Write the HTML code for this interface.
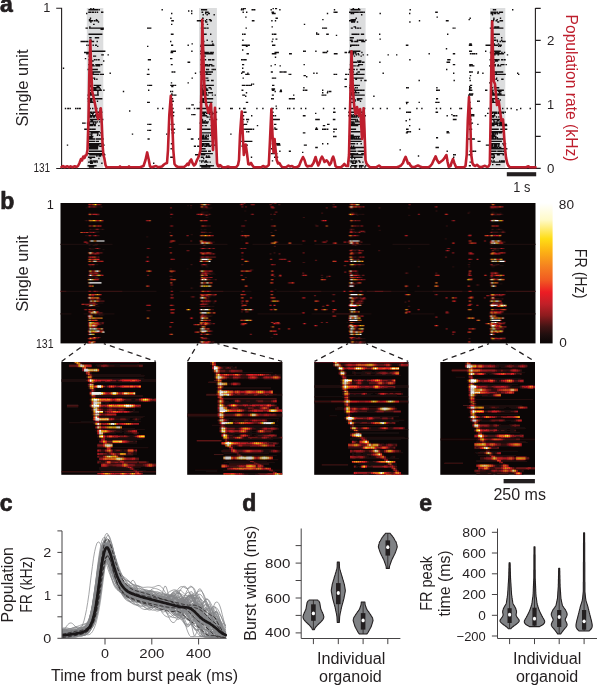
<!DOCTYPE html>
<html lang="en"><head><meta charset="utf-8"><title>Figure</title>
<style>html,body{margin:0;padding:0;background:#fff}svg{display:block}text{font-family:"Liberation Sans", Arial, Helvetica, sans-serif}</style>
</head><body>
<svg width="597" height="685" viewBox="0 0 597 685" fill="none">
<rect width="597" height="685" fill="#fff"/>
<g fill="#231f20">
<rect x="86.8" y="8" width="16.5" height="159.6" fill="#dcddde"/>
<rect x="199" y="8" width="17.9" height="159.6" fill="#dcddde"/>
<rect x="349" y="8" width="16.6" height="159.6" fill="#dcddde"/>
<rect x="490" y="8" width="15.3" height="159.6" fill="#dcddde"/>
<path d="M90.2 8.6h1.4M92.8 8.6h1.4M241.2 8.6h1.4M243 8.6h1.4M244.5 8.6h1.4M272.5 8.6h1.4M275 8.6h2.1M352.5 8.6h1.6M358 8.6h1.4M88.5 9.8h9.7M98.5 9.8h1.4M161.5 9.8h1.4M201 9.8h6.2M240.8 9.8h1.4M242.5 9.8h1.4M251.5 9.8h2.4M254 9.8h1.4M270.5 9.8h1.4M279.2 9.8h1.4M333.8 9.8h1.4M350.5 9.8h9.9M409.5 9.8h1.4M492.8 9.8h1.9M494.8 9.8h1.4M512 9.8h1.4M188 11h1.4M191 11h1.4M88.2 12.3h3.4M92 12.3h2.2M94.8 12.3h1.4M96.8 12.3h1.4M101 12.3h2.4M201.5 12.3h1.7M205 12.3h3.7M242.5 12.3h1.4M246 12.3h1.4M271.5 12.3h2.6M333.5 12.3h1.4M335 12.3h2.6M349 12.3h9.9M359.2 12.3h4.1M363.5 12.3h1.4M435.2 12.3h2.6M490.5 12.3h2.9M493.5 12.3h3.1M496.8 12.3h1.4M499 12.3h4.1M86 13.5h1.4M171 13.5h1.4M191 13.5h1.4M205 13.5h1.4M207.8 13.5h2.2M271.8 13.5h3.9M326.8 13.5h1.4M350.5 13.5h2.1M352.8 13.5h1.4M379.5 13.5h1.4M409 13.5h1.4M490.5 13.5h3.1M494 13.5h2.4M497.2 13.5h2.4M202.5 14.7h1.4M206.5 14.7h1.4M213.5 14.7h1.4M361 14.7h1.4M491.8 14.7h1.4M245.2 17.1h1.4M436.5 17.1h1.4M89.8 18.3h1.4M170.2 18.3h1.4M202 18.3h1.7M275.5 18.3h2.4M355.5 18.3h1.4M469.5 18.3h1.4M493.2 18.3h1.4M499.8 18.3h1.4M88.8 19.6h1.9M95.8 19.6h1.4M201.2 19.6h1.4M206 19.6h1.4M208.8 19.6h2.4M322.2 19.6h1.4M350.5 19.6h1.4M352 19.6h4.1M468.5 19.6h1.4M493 19.6h1.6M496.5 19.6h1.4M88.8 20.8h4.4M93.8 20.8h1.4M95.5 20.8h2.7M171.2 20.8h2.7M196.8 20.8h2.7M199.5 20.8h4.4M204.8 20.8h1.4M209.8 20.8h2.2M251.8 20.8h2.7M271.2 20.8h1.4M274.8 20.8h1.4M349 20.8h5.1M354.2 20.8h1.4M418.8 20.8h1.4M445.8 20.8h2.9M491 20.8h3.1M495.5 20.8h1.9M499.5 20.8h3.6M90.2 22h1.4M97.8 22h1.4M200.8 22h1.4M205.2 22h2.2M351 22h2.4M353.5 22h1.6M356.8 22h1.4M409.2 22h1.4M491 22h1.4M497.2 22h2.1M93 24.4h1.7M171 24.4h1.4M202.2 24.4h1.4M206.8 24.4h1.4M303.8 24.4h1.4M89.2 26.9h1.4M271.5 26.9h1.4M353.5 26.9h2.6M494.2 26.9h1.9M496.2 26.9h3.1M85.5 28.1h2.4M89 28.1h14.9M147 28.1h4.4M200.8 28.1h5.7M206.8 28.1h1.9M245.5 28.1h1.4M322 28.1h1.4M323.5 28.1h3.6M350.8 28.1h2.1M355 28.1h1.4M356.8 28.1h2.6M359.8 28.1h1.4M452.5 28.1h1.4M454.2 28.1h1.4M489.8 28.1h13.6M100.5 29.3h3.2M316 33h1.4M88.5 34.2h13.9M170.8 34.2h1.4M172.2 34.2h1.4M201 34.2h5.7M210 34.2h1.4M242 34.2h1.4M243.8 34.2h1.9M271.8 34.2h1.4M273.5 34.2h2.9M316.2 34.2h1.4M317.8 34.2h1.4M326.2 34.2h2.6M351.5 34.2h6.4M358 34.2h1.4M360.8 34.2h3.4M379 34.2h1.4M447 34.2h1.4M491 34.2h1.4M493 34.2h6.9M335.8 35.4h1.4M89.2 37.8h2.4M94.8 37.8h4.4M349.8 37.8h4.1M494.2 37.8h1.4M501 37.8h1.4M272.2 39.1h1.4M275.5 39.1h1.9M379.5 39.1h1.4M89.5 40.3h2.2M206.5 40.3h1.4M242.2 40.3h1.4M349.8 40.3h2.9M356.8 40.3h1.4M358.5 40.3h5.4M365.2 40.3h1.4M493.5 40.3h2.6M496.5 40.3h1.4M501 40.3h1.4M80.5 41.5h5.2M85.8 41.5h2.7M89.8 41.5h4.4M96.5 41.5h1.4M170 41.5h1.4M201.8 41.5h2.7M211.5 41.5h1.4M271.5 41.5h1.4M350.8 41.5h2.6M354.2 41.5h4.1M361.2 41.5h4.1M492 41.5h1.4M496.8 41.5h1.4M499.5 41.5h1.6M501.8 41.5h3.9M191.5 43.9h1.4M212.2 43.9h1.4M469.2 43.9h2.6M493 43.9h1.9M497.8 43.9h1.4M86.2 45.2h1.4M88.2 45.2h2.7M92.5 45.2h1.4M95 45.2h1.9M171 45.2h2.2M187.5 45.2h1.4M200.5 45.2h13.9M241.8 45.2h2.7M244.5 45.2h3.4M248 45.2h1.9M272 45.2h3.4M350 45.2h5.1M355.2 45.2h2.4M357.8 45.2h1.4M405.8 45.2h2.6M468.8 45.2h3.4M485.5 45.2h12.4M498.5 45.2h3.4M97 46.4h1.4M147 46.4h1.4M200.2 46.4h1.4M245.8 46.4h1.9M350 46.4h1.4M498 46.4h1.4M499.8 46.4h1.4M445.8 48.8h1.4M242 50h1.4M89 51.2h16.4M170.8 51.2h5.2M191.2 51.2h1.4M200.2 51.2h4.2M303 51.2h1.4M304.5 51.2h1.4M315.2 51.2h1.4M326.8 51.2h1.4M348.8 51.2h11.6M469 51.2h3.1M485 51.2h1.4M491.2 51.2h9.6M84 52.5h5.2M170.5 52.5h2.7M201.2 52.5h7.7M209.5 52.5h1.4M211 52.5h1.4M212.5 52.5h1.4M274.5 52.5h4.4M322.5 52.5h2.6M325.2 52.5h2.1M344.5 52.5h2.6M348.2 52.5h6.6M355 52.5h1.4M361.2 52.5h1.4M489.8 52.5h3.6M494.5 52.5h5.1M501.2 52.5h1.4M503.8 52.5h1.4M86.2 53.7h1.7M88.2 53.7h1.4M200.2 53.7h13.2M246.5 53.7h2.4M271.8 53.7h4.6M289 53.7h2.9M333.8 53.7h1.4M335.2 53.7h2.4M350.5 53.7h3.9M355.2 53.7h1.4M357.5 53.7h1.6M428.5 53.7h1.4M452.8 53.7h2.4M469.8 53.7h1.4M471.5 53.7h2.4M474 53.7h1.4M475.8 53.7h1.4M490.5 53.7h13.4M89.2 54.9h1.4M101.2 54.9h2.7M107.5 54.9h1.4M202 54.9h1.9M352.2 54.9h1.4M355.8 54.9h1.4M358.2 54.9h1.4M362.5 54.9h1.4M366.8 54.9h1.4M387.5 54.9h1.4M396 54.9h1.4M492.8 54.9h1.4M494.2 54.9h1.4M497.5 54.9h1.6M506.8 54.9h1.4M88.5 56.1h1.7M90.5 56.1h1.4M93 56.1h3.2M204 56.1h1.9M353.8 56.1h1.4M360.5 56.1h1.4M274.8 57.3h1.4M84.8 58.6h1.4M170 58.6h2.4M88.5 59.8h3.2M93.8 59.8h1.4M95.5 59.8h1.4M97.5 59.8h2.2M147.8 59.8h3.2M200.5 59.8h3.9M204.8 59.8h1.4M208 59.8h3.4M212 59.8h2.4M241 59.8h1.4M242.5 59.8h1.4M244 59.8h2.7M409.2 59.8h1.4M447.2 59.8h3.4M489.5 59.8h1.4M491.2 59.8h1.9M493.5 59.8h3.6M497.2 59.8h2.4M501 59.8h2.4M503.8 59.8h1.9M90 61h1.4M91.8 61h1.9M103 61h1.4M350.8 61h1.4M357.2 61h1.4M358.8 61h2.6M494.8 61h3.4M187.5 62.2h2.7M350 62.2h7.4M357.8 62.2h3.1M361.5 62.2h3.1M379.2 62.2h1.4M446.5 62.2h3.6M491.5 62.2h3.4M88.2 64.6h5.7M95.2 64.6h4.9M100.5 64.6h1.9M170.8 64.6h1.9M200.5 64.6h3.7M205 64.6h2.9M208.5 64.6h3.9M242 64.6h2.2M274.5 64.6h1.4M303.5 64.6h1.4M349.8 64.6h2.6M358 64.6h5.1M452.8 64.6h2.4M469.2 64.6h3.6M491.8 64.6h4.1M497.5 64.6h1.4M500.5 64.6h4.1M505.5 64.6h1.4M89.5 65.9h4.4M94.2 65.9h1.4M96 65.9h4.2M202.2 65.9h1.7M204 65.9h1.9M206.2 65.9h3.9M211.2 65.9h3.2M270.5 65.9h1.4M279.5 65.9h1.4M350.8 65.9h2.6M353.5 65.9h1.4M355.2 65.9h1.4M357 65.9h2.4M469.2 65.9h2.4M471.8 65.9h2.6M489 65.9h1.4M491 65.9h4.9M497 65.9h2.6M499.8 65.9h1.4M62.8 68.3h1.4M242 68.3h1.4M87.5 69.5h7.7M95.2 69.5h2.7M147.8 69.5h1.4M201 69.5h2.4M203.5 69.5h1.4M206 69.5h1.7M207.8 69.5h1.4M211.5 69.5h1.4M213 69.5h1.4M214.5 69.5h1.4M348.8 69.5h6.1M356.2 69.5h1.4M359.8 69.5h5.1M446 69.5h1.4M89.2 72h11.2M171.5 72h2.2M174 72h1.4M199.8 72h13.2M242 72h2.7M270.8 72h2.1M279.5 72h2.4M282.2 72h1.4M283.8 72h1.4M285.2 72h1.4M349.5 72h4.6M357.5 72h2.4M469 72h2.4M471.5 72h1.4M477.5 72h1.4M490.2 72h13.1M91 73.2h2.7M109.5 73.2h1.4M194.8 73.2h1.4M200.8 73.2h1.4M206.2 73.2h1.4M241 73.2h1.4M247.2 73.2h1.4M313.2 73.2h1.4M316.2 73.2h1.4M356.2 73.2h1.4M382.5 73.2h1.4M453 73.2h1.4M477.2 73.2h1.4M482.2 73.2h1.4M491.5 73.2h1.4M495.5 73.2h1.4M517 73.2h1.4M89 74.4h10.2M99.8 74.4h4.2M146.8 74.4h1.4M148.2 74.4h1.4M200.2 74.4h5.4M206 74.4h5.4M245.2 74.4h2.9M248.2 74.4h1.4M288.5 74.4h1.4M290 74.4h1.4M333.5 74.4h2.1M335.8 74.4h1.4M345 74.4h2.4M347.8 74.4h1.4M350.2 74.4h14.4M491.2 74.4h14.6M518 74.4h1.4M303.5 75.6h2.4M469.8 75.6h1.4M306 76.8h1.4M89 78.1h4.4M93.5 78.1h1.7M191.5 78.1h1.4M202 78.1h3.2M205.5 78.1h2.9M242.5 78.1h1.4M271.8 78.1h2.9M274.8 78.1h1.4M351 78.1h12.6M469 78.1h1.4M490.2 78.1h2.6M496 78.1h1.4M94 79.3h1.4M96.2 79.3h1.4M201.8 79.3h1.4M344.5 79.3h2.4M355.2 79.3h1.9M493 79.3h2.1M495.5 79.3h1.4M501.2 79.3h2.4M89.8 80.5h1.4M204 80.5h1.4M206.5 80.5h2.7M211 80.5h2.7M351.8 80.5h1.9M360.5 80.5h1.4M364.2 80.5h2.4M418.5 80.5h1.4M453.5 80.5h1.4M469.5 80.5h1.4M497 80.5h1.4M170.8 82.9h1.4M187.5 82.9h1.4M489 82.9h1.4M251 84.1h1.4M252.8 84.1h1.4M88.8 85.4h4.4M93.8 85.4h7.4M147.2 85.4h1.4M148.8 85.4h3.4M170.2 85.4h4.4M174.8 85.4h1.4M200.5 85.4h13.4M241.8 85.4h1.4M243.2 85.4h2.4M246 85.4h2.9M249 85.4h1.4M250.5 85.4h1.4M272 85.4h2.4M349.5 85.4h3.6M353.8 85.4h4.6M358.5 85.4h1.4M469.8 85.4h2.4M88.8 86.6h1.4M90.2 86.6h1.4M96.5 86.6h2.9M171.2 86.6h2.2M201.2 86.6h1.4M204.8 86.6h1.4M344.5 86.6h2.4M351.5 86.6h1.4M469 86.6h1.4M493.8 86.6h1.4M91 87.8h3.2M94.2 87.8h5.9M201.2 87.8h1.4M203.5 87.8h2.9M208.5 87.8h2.7M303.2 87.8h1.4M349 87.8h3.1M354.8 87.8h1.4M356.5 87.8h1.4M406 87.8h1.4M407.5 87.8h1.4M436.2 87.8h1.4M469.2 87.8h2.6M490.2 87.8h3.1M495.2 87.8h4.1M91.2 89h2.4M93.8 89h2.7M99.5 89h1.4M200.8 89h2.2M205 89h2.7M210.5 89h1.4M271.5 89h3.6M353 89h1.6M469 89h1.4M490.5 89h1.4M494.5 89h1.4M89 90.2h12.9M103.2 90.2h1.4M148 90.2h1.4M201 90.2h4.9M206 90.2h2.4M241.5 90.2h1.9M271.8 90.2h2.6M280 90.2h1.9M302.8 90.2h1.4M304.5 90.2h1.4M306 90.2h1.4M322 90.2h1.4M349.8 90.2h10.1M360 90.2h2.1M362.2 90.2h2.4M436 90.2h2.4M438.5 90.2h1.4M468.8 90.2h3.6M485 90.2h2.4M490.8 90.2h2.9M495 90.2h8.9M97.2 91.5h1.4M122.8 91.5h1.4M170 91.5h1.4M171.8 91.5h1.4M202 91.5h2.2M204.5 91.5h1.7M274.5 91.5h1.4M279.5 91.5h2.6M327.2 91.5h1.4M329 91.5h2.4M354.8 91.5h1.4M491.2 91.5h2.1M497.8 91.5h1.4M499.2 91.5h2.4M90 92.7h1.4M97.2 92.7h1.4M200.8 92.7h3.4M204.2 92.7h2.7M207.8 92.7h5.2M245.8 92.7h1.4M322 92.7h1.4M326.8 92.7h1.4M350.8 92.7h6.9M358 92.7h1.4M491.2 92.7h2.6M499 92.7h1.4M89.8 93.9h1.4M91.2 93.9h1.4M97.2 93.9h1.4M171.2 93.9h1.4M202 93.9h4.9M349.8 93.9h1.9M351.8 93.9h2.6M469 93.9h1.4M470.5 93.9h1.4M472 93.9h1.4M492 93.9h3.9M497.2 93.9h1.9M499.2 93.9h2.4M87.5 95.1h11.4M170.8 95.1h1.4M172.2 95.1h1.4M173.8 95.1h2.7M200.8 95.1h7.9M211.8 95.1h1.4M214.5 95.1h1.4M242.2 95.1h2.9M271.8 95.1h2.1M293 95.1h1.4M321.5 95.1h3.4M325 95.1h1.4M350.8 95.1h9.4M360.2 95.1h4.6M468 95.1h4.9M490.2 95.1h14.9M245 96.3h1.4M373.2 96.3h1.4M87.5 98.8h14.9M171 98.8h2.2M200.5 98.8h3.9M204.5 98.8h8.7M271 98.8h1.4M272.5 98.8h1.4M288.8 98.8h1.4M290.2 98.8h1.4M291.8 98.8h3.1M350.2 98.8h4.6M356.8 98.8h5.6M436 98.8h2.1M491 98.8h8.1M90 100h2.2M202 100h2.2M354.5 100h1.4M356.8 100h1.4M358.2 100h1.4M491 100h2.6M499.5 100h1.4M87.8 101.2h1.4M90 101.2h2.7M96.8 101.2h1.4M171.5 101.2h2.4M200.5 101.2h1.4M202 101.2h2.2M354.2 101.2h1.4M359.8 101.2h1.4M477 101.2h1.4M478.5 101.2h1.4M492.2 101.2h1.9M89.5 102.4h5.2M147 102.4h2.9M199.8 102.4h12.7M245.8 102.4h2.4M349 102.4h5.4M405.8 102.4h1.4M407.2 102.4h1.4M418.5 102.4h1.4M435.2 102.4h1.9M437.2 102.4h2.4M468.2 102.4h2.4M490.8 102.4h1.4M492.2 102.4h4.1M406 103.6h1.4M171.5 104.9h1.4M191.2 104.9h2.7M275.5 106.1h1.4M64.8 108.5h1.4M67.2 108.5h1.9M69.5 108.5h1.4M75 108.5h1.4M76.8 108.5h1.4M78.5 108.5h2.4M89.2 108.5h1.7M92 108.5h1.4M94.8 108.5h2.7M99.5 108.5h1.4M157.2 108.5h1.4M162 108.5h1.4M171.5 108.5h2.2M186.2 108.5h1.4M188.2 108.5h2.2M193.8 108.5h1.4M196.5 108.5h3.7M201.5 108.5h4.9M207.2 108.5h3.9M218.8 108.5h1.4M230 108.5h1.4M231.5 108.5h1.4M239 108.5h1.4M243 108.5h2.7M256.2 108.5h1.4M262.2 108.5h1.4M271.2 108.5h2.6M275.8 108.5h1.4M287 108.5h1.4M289 108.5h1.4M293.2 108.5h1.4M300.5 108.5h1.4M305 108.5h1.4M322.8 108.5h1.4M333.5 108.5h1.6M344.2 108.5h1.9M349.5 108.5h4.1M354.8 108.5h1.4M356.8 108.5h1.4M363.2 108.5h2.1M372.2 108.5h1.4M379.8 108.5h1.4M386.5 108.5h1.4M399.2 108.5h1.4M416.2 108.5h1.4M421.2 108.5h1.4M435.8 108.5h1.4M439.8 108.5h1.4M450 108.5h1.4M459.2 108.5h1.4M460.8 108.5h1.4M469.2 108.5h3.1M488.2 108.5h1.4M490 108.5h1.4M502 108.5h1.4M506.5 108.5h1.4M510.5 108.5h1.4M520 108.5h1.4M529.5 108.5h1.4M516.2 109.7h1.4M129 111h1.4M88.8 112.2h3.9M93 112.2h9.4M171.5 112.2h1.4M173 112.2h1.4M200.5 112.2h5.9M206.8 112.2h5.9M214.8 112.2h2.4M241.5 112.2h1.9M243.8 112.2h1.4M245.2 112.2h1.4M271.2 112.2h2.4M333 112.2h2.6M348.2 112.2h12.4M360.8 112.2h3.9M406 112.2h1.4M407.5 112.2h3.6M435.5 112.2h2.6M491.2 112.2h6.1M497.8 112.2h3.6M501.5 112.2h2.6M504.5 112.2h1.4M88.2 113.4h2.4M91 113.4h2.9M171.8 113.4h1.4M200 113.4h1.4M201.5 113.4h3.7M206 113.4h4.2M211.2 113.4h2.7M315 113.4h1.4M487 113.4h1.6M491.2 113.4h2.1M493.8 113.4h2.4M496.2 113.4h1.4M498 113.4h3.6M502.5 113.4h1.4M89.2 114.6h1.4M92 114.6h1.4M95.2 114.6h1.4M191.2 114.6h1.4M192.8 114.6h1.4M194.2 114.6h1.4M200.2 114.6h1.4M202.5 114.6h1.4M204 114.6h1.4M209.2 114.6h1.4M211.5 114.6h1.7M350.2 114.6h1.6M352.5 114.6h1.4M355.2 114.6h1.4M358 114.6h1.4M361.2 114.6h1.4M451.2 114.6h1.4M470.5 114.6h3.9M493.8 114.6h1.4M88.5 115.8h5.4M94 115.8h5.9M171 115.8h1.4M172.8 115.8h1.4M201 115.8h6.2M241.8 115.8h2.4M251 115.8h1.4M271 115.8h1.4M272.5 115.8h1.9M274.8 115.8h1.4M302.8 115.8h1.4M304.2 115.8h1.4M348.2 115.8h4.9M353.5 115.8h1.9M355.8 115.8h4.6M361.5 115.8h1.4M363 115.8h1.4M364.5 115.8h1.4M446.5 115.8h1.4M452.8 115.8h2.9M456 115.8h1.4M468.8 115.8h1.4M470.2 115.8h2.6M473 115.8h1.4M484.8 115.8h1.4M491.5 115.8h3.9M89 117h3.2M92.8 117h2.4M96 117h3.2M200.5 117h1.4M206.5 117h2.2M209.5 117h1.4M350.8 117h4.9M355.8 117h1.4M357.8 117h1.4M360.5 117h3.9M491.8 117h2.4M495.8 117h1.4M498.2 117h1.4M90 119.5h10.2M101 119.5h2.4M200.8 119.5h2.4M209.2 119.5h1.4M211.2 119.5h1.4M215.8 119.5h1.4M241.5 119.5h1.4M243 119.5h1.4M246 119.5h3.2M271.2 119.5h1.4M272.8 119.5h7.1M315.2 119.5h4.6M332.8 119.5h2.6M350.8 119.5h5.4M356.5 119.5h1.4M360 119.5h3.6M409 119.5h1.4M452.8 119.5h2.4M455.2 119.5h1.4M469.5 119.5h2.1M490.8 119.5h9.9M500.8 119.5h1.9M90.5 120.7h2.7M202 120.7h1.4M204.5 120.7h1.4M212.5 120.7h2.2M355.2 120.7h1.4M357 120.7h1.4M405.5 120.7h1.4M493.2 120.7h1.4M496.8 120.7h2.6M89.2 121.9h7.4M96.8 121.9h1.4M99 121.9h1.4M101 121.9h1.4M201.8 121.9h3.9M206 121.9h1.4M207.5 121.9h1.4M213 121.9h1.4M242 121.9h1.4M246.8 121.9h1.4M350.5 121.9h3.9M354.8 121.9h3.1M358 121.9h2.1M360.2 121.9h3.9M493.5 121.9h2.1M496.2 121.9h1.4M499.5 121.9h3.1M82 123.1h3.7M86.8 123.1h3.2M92.8 123.1h1.4M95.2 123.1h1.4M199.5 123.1h8.7M349.2 123.1h1.4M351.2 123.1h1.9M353.2 123.1h1.6M469.5 123.1h3.6M490.8 123.1h3.6M494.5 123.1h1.4M496 123.1h6.6M502.8 123.1h1.4M87 124.4h8.9M147.2 124.4h1.4M148.8 124.4h2.7M170.5 124.4h2.4M173.2 124.4h1.4M242.8 124.4h4.4M270.5 124.4h1.4M274 124.4h2.4M327 124.4h2.6M349.2 124.4h12.9M468.8 124.4h2.6M477.2 124.4h1.4M490.2 124.4h8.1M499.2 124.4h7.9M88.2 125.6h5.4M94 125.6h1.9M98.2 125.6h1.4M200.2 125.6h3.4M204.5 125.6h2.4M210.5 125.6h1.4M213 125.6h1.4M242.2 125.6h1.4M256.8 125.6h1.4M322.8 125.6h2.4M350.2 125.6h8.1M409 125.6h1.4M491 125.6h3.6M496.8 125.6h1.4M498.5 125.6h1.6M500.2 125.6h7.1M274.2 128h1.4M315.8 128h1.4M84.2 129.2h2.2M86.5 129.2h5.4M92 129.2h3.7M170.8 129.2h1.4M172.2 129.2h1.4M173.8 129.2h1.4M187.2 129.2h3.7M200.2 129.2h10.4M211.2 129.2h1.4M213.2 129.2h1.4M242 129.2h1.4M243.5 129.2h1.4M245 129.2h3.2M248.2 129.2h4.2M252.8 129.2h1.4M270.8 129.2h2.6M274.5 129.2h2.9M315 129.2h3.1M322 129.2h1.4M323.5 129.2h3.1M327 129.2h1.4M333.2 129.2h2.1M335.5 129.2h1.4M349.5 129.2h6.6M406 129.2h2.6M418.8 129.2h1.4M468.8 129.2h3.4M491.2 129.2h7.6M500.2 129.2h7.1M147.2 130.4h1.4M148.8 130.4h2.4M171.2 130.4h1.4M88 131.7h11.9M241.8 131.7h1.4M246.2 131.7h1.4M248 131.7h1.4M333.2 131.7h1.4M351 131.7h9.6M406.5 131.7h2.4M409.2 131.7h1.9M446.5 131.7h2.4M490 131.7h13.1M90.8 132.9h7.7M100 132.9h2.2M171.5 132.9h3.2M200 132.9h16.2M302.8 132.9h2.6M405.8 132.9h2.1M446.5 132.9h1.4M448.2 132.9h1.4M490.2 132.9h8.4M499 132.9h2.9M88 134.1h1.4M89.5 134.1h1.4M91.2 134.1h1.4M97.2 134.1h1.4M131.8 134.1h1.4M166 134.1h1.4M230.2 134.1h1.4M492 134.1h2.1M494.5 134.1h1.4M496.5 134.1h1.4M90.8 135.3h1.4M96.8 135.3h1.4M99 135.3h1.4M202.2 135.3h2.2M205.5 135.3h1.4M207.5 135.3h1.4M210 135.3h1.4M349.8 135.3h1.4M351.2 135.3h2.6M490.8 135.3h4.6M88.2 136.5h5.2M201.5 136.5h2.9M204.8 136.5h1.9M207.2 136.5h1.7M211.8 136.5h1.4M333 136.5h1.4M334.5 136.5h2.1M348.8 136.5h11.1M361 136.5h3.6M490.5 136.5h6.1M88.5 137.8h4.2M199.8 137.8h4.7M204.8 137.8h2.2M350 137.8h4.9M355.5 137.8h1.4M357.8 137.8h1.4M436 137.8h2.1M491.2 137.8h2.6M494.8 137.8h1.4M496.5 137.8h1.6M88 139h7.2M95.8 139h1.7M97.5 139h6.2M147.5 139h2.2M190.8 139h2.7M198 139h1.4M200.5 139h8.4M349 139h4.4M353.5 139h7.9M467.5 139h7.4M490.2 139h6.6M497 139h4.4M501.5 139h2.6M88 141.4h7.2M95.8 141.4h3.2M200.2 141.4h7.9M208.2 141.4h1.7M210.2 141.4h1.4M241.2 141.4h2.2M243.8 141.4h7.2M251 141.4h1.4M349 141.4h12.6M477.5 141.4h3.1M491 141.4h10.9M88.2 143.8h13.4M101.8 143.8h1.7M170.8 143.8h3.2M200.2 143.8h4.7M205 143.8h4.4M271.8 143.8h2.1M275.5 143.8h4.6M322 143.8h1.4M327 143.8h1.4M350.2 143.8h5.1M356.5 143.8h1.4M360.5 143.8h1.4M491 143.8h8.9M502.2 143.8h1.4M503.8 143.8h2.4M66.8 145.1h1.4M87.8 145.1h7.4M95.2 145.1h4.2M101.2 145.1h1.7M103 145.1h1.7M200.8 145.1h3.9M205.5 145.1h4.4M210.8 145.1h1.9M212.8 145.1h3.2M241.8 145.1h6.2M274 145.1h2.4M276.8 145.1h2.4M279.2 145.1h1.4M303.8 145.1h3.1M485.8 145.1h7.6M494 145.1h3.4M498.2 145.1h1.4M503 145.1h1.4M504.5 145.1h1.4M89.2 146.3h9.2M99.2 146.3h2.9M193.8 146.3h2.2M197.2 146.3h2.4M200.2 146.3h3.2M204.2 146.3h3.4M208.2 146.3h2.9M241.5 146.3h1.4M243 146.3h2.7M351 146.3h1.4M353 146.3h1.4M489.8 146.3h3.1M493.5 146.3h4.1M498 146.3h1.4M88.8 147.5h9.4M315.2 147.5h2.6M348.8 147.5h16.4M435.5 147.5h3.4M490 147.5h6.9M497 147.5h1.4M498.8 147.5h2.6M89 148.7h9.2M170.5 148.7h1.4M200.2 148.7h5.4M271 148.7h1.4M272.8 148.7h1.9M348.5 148.7h1.4M350 148.7h5.6M491 148.7h16.4M399.5 149.9h1.4M89 151.2h14.9M200 151.2h6.9M208 151.2h2.9M279.2 151.2h1.4M288.8 151.2h2.1M350 151.2h6.4M357.5 151.2h1.4M359 151.2h5.6M446.5 151.2h1.4M469.5 151.2h2.6M472.2 151.2h2.4M474.8 151.2h1.4M490.5 151.2h6.1M497.2 151.2h5.4M502.8 151.2h1.4M302 152.4h1.4M87.8 153.6h14.9M103.2 153.6h1.4M199.8 153.6h9.4M209.2 153.6h3.7M270.8 153.6h2.4M273.2 153.6h1.4M274.8 153.6h2.6M349 153.6h5.9M355.2 153.6h1.4M356.8 153.6h1.4M361.2 153.6h1.9M363.2 153.6h1.4M490.2 153.6h13.6M89.2 154.8h16.2M195 154.8h4.7M201 154.8h4.4M349.8 154.8h13.9M453 154.8h1.4M454.5 154.8h1.4M468.5 154.8h1.4M470 154.8h1.9M490.2 154.8h4.4M496.8 154.8h3.1M502.5 154.8h1.6M96.2 156h1.4M98.5 156h2.7M206 156h1.4M208.2 156h1.4M351.2 156h2.1M417.8 156h1.4M493.5 156h1.4M88 157.3h7.2M170.2 157.3h3.2M200.8 157.3h2.9M205.5 157.3h4.9M250.8 157.3h1.4M274 157.3h2.6M276.8 157.3h1.4M350.2 157.3h12.4M453 157.3h1.4M490.2 157.3h4.9M89.5 158.5h2.2M98.2 158.5h1.4M203 158.5h1.4M351.2 158.5h1.4M354 158.5h1.4M492.5 158.5h1.4M89.8 160.9h2.7M92.8 160.9h4.9M199.2 160.9h1.4M201.2 160.9h2.9M204.8 160.9h2.2M271.8 160.9h1.4M349.2 160.9h1.6M351 160.9h1.6M352.8 160.9h4.6M358 160.9h2.1M491 160.9h1.4M493.2 160.9h1.6M499 160.9h1.4M500.8 160.9h4.1M88 162.1h5.7M94 162.1h2.2M96.5 162.1h1.4M201 162.1h1.4M203.8 162.1h4.7M209.5 162.1h1.4M350.5 162.1h3.1M355 162.1h2.4M359 162.1h1.9M362.2 162.1h1.4M469.5 162.1h1.4M491.5 162.1h13.4M90 163.3h2.9M101.2 163.3h1.4M153 163.3h1.4M351.8 163.3h2.6M354.5 163.3h1.6M205.8 164.6h1.4M492 164.6h1.4M495.8 164.6h2.6M498.5 164.6h1.9M87.5 165.8h7.7M95.2 165.8h1.4M199.8 165.8h8.7M208.5 165.8h3.9M212.5 165.8h1.4M351 165.8h6.4M358.8 165.8h4.9M365.2 165.8h1.4M468.8 165.8h2.1M88.8 167h5.4M201.2 167h5.9M207.2 167h1.7M209 167h1.4M350 167h1.4M354.2 167h2.4M359 167h1.4M360.8 167h1.4M364.2 167h1.4" stroke="#110e0f" stroke-width="1.4" fill="none"/>
<path d="M56.2 8.3H61.6V168.5M56.2 168.5H61.6" stroke="#231f20" stroke-width="1.1" fill="none"/>
<path d="M61.6 168.5H535.4" stroke="#231f20" stroke-width="1.1" fill="none"/>
<path d="M535.4 7.9V169M535.4 8.4h5.3M535.4 40.4h5.3M535.4 72.4h5.3M535.4 104.4h5.3M535.4 136.4h5.3M535.4 168.4h5.3" stroke="#231f20" stroke-width="1.1" fill="none"/>
<path d="M61.5 167L63 166L64.5 167.3L67.4 166.2L69 167.3L70.6 166.3L72.5 167.3L74.8 166.3L76.5 167L78 166L79.5 163L81 159L82 160.5L83.3 156.5L84.5 158L85.5 155.5L86.5 155L87.5 150L88.5 120L89.3 75L90.3 40.6L91.2 70L92.2 91.4L93.5 97L95 104L96.5 112L98 119L99.2 116L100.8 108.3L101.8 125L102.6 145L103.4 155L104.3 158L105.5 165L106.5 167.3L119 167.3L120 166.3L121 167.3L128 167.3L129 166.3L130 167.3L140 167.3L143.5 166L145.5 160L147.2 152.4L148.8 160L150 166.5L152 167.3L156 166L158 167.2L162 166.5L164 164.5L165.5 163.5L167 163L168 150L169.3 115L170.8 95.9L172.2 120L173.3 150L174.5 164L176 166L178 167L184 167L186 165.5L187.5 163.5L188.5 165L190 161L191.2 159.5L192.5 163L194 165.5L195.5 164L197 160L198 158L199.3 155L200.5 150L201.2 100L202.3 19.7L203.3 55L204.4 86.7L205.3 98L206.3 105L207.3 108L208.4 113L209.6 108L211 103.8L212 125L213 150L214 128L215 107.7L216 135L217 163L218 166L219 166.5L220 165L221.5 166.5L223 167.3L226 167.3L228 166.5L230 167.3L236 167.3L238 165L239 160L240 135L241.7 111.6L242.8 135L243.8 155L244.8 150L245.7 144.5L246.8 152L248.3 164L249.5 164.5L251 163L252.5 165.5L254 167.3L261 167.3L263 166L265 167L267 166.5L268.8 165L270 140L271.4 109L272.5 135L273.5 152.4L274.6 139L275.6 150L276.7 160L278 163.5L279.3 163L280.5 165L282 167L286 167.3L288.5 165.5L290 166.5L292 166L294 167.3L297 167L299 166L301 161L303 157L304.5 160L306 165L307.5 166.5L309 166L311.5 166L313.5 163L315.6 157L317 162L318.3 165.5L319.5 163L320.7 159L322 156.6L323.3 159L324.5 162L326.6 160.3L328 162L329.5 165L331 163L332.2 158.5L333.2 156.6L334.3 160L335.5 166L337 167.3L341 167.3L343 165.5L344.4 164L346 166L347.9 166L349 155L350 110L351.5 51.2L352.5 80L353.6 99.8L354.5 108L355.5 114.3L357 107L358 112L358.9 115.6L360.2 109L361.2 125L362 139L362.8 122L363.6 108.2L364.5 130L365.5 160L366.5 163.5L368 165.5L370 167.3L376 167.3L379 165.5L381 167.3L397 167.3L399 166.5L401 165.5L403 163L404.3 159.5L405.6 156.8L406.8 160L408 163.5L409 163L410.5 165.5L412 167L415 166.8L418 165.5L420 166.5L422 167.3L428 167.3L430 166.3L432 164L433.8 160L435.6 156.3L437 160L439 163L441 161.5L443 160L444.8 157.5L446.4 155L447.6 162L448.7 166.8L450.5 166L451.8 162L453 159L454.3 163L456 167L458 167.3L464 167.3L465.5 166L466.7 155L467.8 120L469 97L470.2 120L471.3 155L472.4 163L473.5 165L475.3 166L477 164.8L478.8 166.5L481 167.3L483 166.5L485 165.8L487 166.8L488.5 166.5L489.8 164L490.6 120L491.4 60L492.2 21.5L493 55L493.8 81.4L495 84L496 95L497 105L498.7 101L500 111L501.4 120.8L503 119.5L504.3 139L505.2 150L506 157.6L507.2 163L508.2 165.5L510 167.3L520 167.3L526 167.2L528.4 166.3L530 167.3L535.5 167.3" stroke="#be1e2d" stroke-width="2.6" fill="none" stroke-linejoin="round" stroke-linecap="round"/>
<rect x="506.8" y="172.2" width="29.4" height="4.1" fill="#231f20"/>
<text x="0" y="11.8" font-size="23" font-weight="bold" stroke="#231f20" stroke-width="0.7" stroke-linejoin="round">a</text>
<text x="50.4" y="12.2" font-size="12.8" text-anchor="end">1</text>
<text x="50.2" y="172.4" font-size="12.8" text-anchor="end" textLength="16.8" lengthAdjust="spacingAndGlyphs">131</text>
<text font-size="16" text-anchor="middle" textLength="77" lengthAdjust="spacingAndGlyphs" transform="translate(27.5 87.9) rotate(-90)">Single unit</text>
<text x="547" y="44.8" font-size="12.8" textLength="7.4" lengthAdjust="spacingAndGlyphs">2</text>
<text x="547" y="108.7" font-size="12.8">1</text>
<text x="547" y="172.7" font-size="12.8" textLength="7.4" lengthAdjust="spacingAndGlyphs">0</text>
<text font-size="16" text-anchor="middle" fill="#be1e2d" textLength="147" lengthAdjust="spacingAndGlyphs" transform="translate(565.6 88) rotate(90)">Population rate (kHz)</text>
<text x="513.3" y="191.9" font-size="14.5" textLength="17" lengthAdjust="spacingAndGlyphs">1 s</text>
<rect x="60.5" y="203" width="475" height="140.4" fill="#0a0606"/>
<g stroke-width="1.2" fill="none"><path d="M88.5 203.5h2M273.5 203.5h1M349.5 203.5h1M353.5 203.5h3M490.5 203.5h2M87.5 204.6h1M199.5 204.6h1M210.5 204.6h1M254.5 204.6h1M490.5 204.6h1M191.5 205.7h1M97.5 206.8h3M199.5 206.8h1M207.5 206.8h1M244.5 206.8h1M246.5 206.8h1M273.5 206.8h1M336.5 206.8h1M85.5 207.8h2M169.5 207.8h1M171.5 207.8h1M200.5 207.8h5M208.5 207.8h4M274.5 207.8h1M352.5 207.8h1M407.5 207.8h1M489.5 207.8h1M201.5 208.9h9M351.5 208.9h2M358.5 208.9h3M245.5 211h1M169.5 212.1h1M202.5 212.1h6M350.5 212.1h2M468.5 212.1h2M491.5 212.1h3M88.5 213.2h2M94.5 213.2h1M200.5 213.2h4M322.5 213.2h1M350.5 213.2h1M354.5 213.2h3M491.5 213.2h6M499.5 213.2h2M87.5 214.3h1M169.5 214.3h1M210.5 214.3h1M253.5 214.3h1M271.5 214.3h1M357.5 214.3h5M363.5 214.3h1M419.5 214.3h1M502.5 214.3h1M88.5 215.3h3M95.5 215.3h4M199.5 215.3h1M201.5 215.3h1M203.5 215.3h1M208.5 215.3h1M349.5 215.3h1M352.5 215.3h1M356.5 215.3h2M409.5 215.3h1M490.5 215.3h1M493.5 215.3h7M205.5 217.5h3M302.5 217.5h1M88.5 219.6h2M270.5 219.6h1M350.5 219.6h1M491.5 219.6h1M496.5 219.6h1M84.5 220.7h1M87.5 220.7h1M207.5 220.7h1M320.5 220.7h1M326.5 220.7h1M489.5 220.7h1M89.5 221.8h2M94.5 221.8h9M350.5 221.8h2M491.5 221.8h3M314.5 225h1M240.5 226h1M324.5 226h1M379.5 226h1M445.5 226h1M490.5 226h1M91.5 229.3h3M99.5 229.3h2M103.5 229.3h1M200.5 229.3h2M203.5 229.3h3M493.5 229.3h1M495.5 229.3h2M500.5 229.3h2M378.5 230.3h1M88.5 231.4h1M90.5 231.4h9M200.5 231.4h1M202.5 231.4h4M242.5 231.4h1M355.5 231.4h3M490.5 231.4h1M492.5 231.4h6M499.5 231.4h2M504.5 231.4h1M88.5 232.5h1M96.5 232.5h3M170.5 232.5h1M207.5 232.5h1M211.5 232.5h1M348.5 232.5h1M360.5 232.5h3M489.5 232.5h1M498.5 232.5h2M190.5 234.6h1M201.5 234.6h2M492.5 234.6h4M497.5 234.6h3M86.5 235.7h2M91.5 235.7h1M172.5 235.7h1M274.5 235.7h1M407.5 235.7h1M89.5 236.8h1M147.5 236.8h1M207.5 236.8h1M246.5 236.8h1M349.5 236.8h1M351.5 236.8h2M490.5 236.8h2M498.5 236.8h2M444.5 238.9h1M241.5 240h1M88.5 241h1M198.5 241h1M301.5 241h1M313.5 241h1M327.5 241h1M467.5 241h1M471.5 241h1M87.5 242.1h1M199.5 242.1h1M211.5 242.1h2M358.5 242.1h1M85.5 243.2h1M88.5 243.2h1M287.5 243.2h1M454.5 243.2h1M60.5 244.3h29M90.5 244.3h4M98.5 244.3h14M178.5 244.3h23M202.5 244.3h25M252.5 244.3h50M314.5 244.3h36M361.5 244.3h9M392.5 244.3h37M489.5 244.3h46M88.5 245.3h2M92.5 245.3h1M94.5 245.3h3M202.5 245.3h1M205.5 245.3h1M351.5 245.3h3M356.5 245.3h1M490.5 245.3h2M273.5 246.4h1M168.5 247.5h1M171.5 247.5h1M88.5 248.5h1M90.5 248.5h4M199.5 248.5h1M214.5 248.5h1M239.5 248.5h1M409.5 248.5h1M489.5 248.5h1M89.5 249.6h5M98.5 249.6h1M102.5 249.6h2M201.5 249.6h1M349.5 249.6h1M353.5 249.6h5M359.5 249.6h1M492.5 249.6h1M496.5 249.6h3M348.5 250.7h1M356.5 250.7h1M379.5 250.7h1M494.5 250.7h3M498.5 250.7h1M102.5 252.8h1M240.5 252.8h1M505.5 252.8h1M348.5 253.9h1M354.5 253.9h4M242.5 256.1h1M87.5 257.1h1M199.5 257.1h1M215.5 257.1h1M356.5 257.1h2M444.5 257.1h1M446.5 257.1h1M174.5 259.3h1M240.5 259.3h1M243.5 259.3h1M348.5 259.3h1M467.5 259.3h1M90.5 260.3h1M93.5 260.3h1M201.5 260.3h1M205.5 260.3h3M314.5 260.3h1M316.5 260.3h1M349.5 260.3h2M490.5 260.3h2M243.5 261.4h1M290.5 261.4h1M343.5 261.4h1M348.5 261.4h1M304.5 262.5h1M468.5 262.5h1M87.5 264.6h1M95.5 264.6h1M97.5 264.6h1M200.5 264.6h1M207.5 264.6h2M348.5 264.6h1M467.5 264.6h1M469.5 264.6h1M489.5 264.6h1M492.5 264.6h3M89.5 265.7h2M200.5 265.7h2M204.5 265.7h3M349.5 265.7h3M354.5 265.7h2M490.5 265.7h1M495.5 265.7h2M499.5 265.7h4M89.5 266.8h2M92.5 266.8h2M201.5 266.8h2M205.5 266.8h3M350.5 266.8h1M352.5 266.8h3M357.5 266.8h3M417.5 266.8h1M453.5 266.8h1M469.5 266.8h1M491.5 266.8h3M169.5 268.9h1M186.5 268.9h2M249.5 270h1M145.5 271.1h1M151.5 271.1h1M168.5 271.1h1M212.5 271.1h1M273.5 271.1h1M88.5 272.1h1M93.5 272.1h5M172.5 272.1h1M201.5 272.1h2M209.5 272.1h3M343.5 272.1h1M350.5 272.1h2M490.5 272.1h7M88.5 273.2h1M210.5 273.2h4M352.5 273.2h2M404.5 273.2h1M489.5 273.2h1M88.5 274.3h1M91.5 274.3h1M94.5 274.3h6M101.5 274.3h1M207.5 274.3h2M211.5 274.3h2M214.5 274.3h1M352.5 274.3h1M467.5 274.3h1M469.5 274.3h1M490.5 274.3h1M493.5 274.3h7M87.5 275.3h1M146.5 275.3h1M148.5 275.3h1M199.5 275.3h1M242.5 275.3h1M273.5 275.3h1M320.5 275.3h1M322.5 275.3h1M348.5 275.3h1M360.5 275.3h1M471.5 275.3h1M483.5 275.3h1M486.5 275.3h1M489.5 275.3h1M90.5 276.4h9M200.5 276.4h2M203.5 276.4h3M330.5 276.4h1M351.5 276.4h5M358.5 276.4h2M489.5 276.4h1M493.5 276.4h5M87.5 277.5h1M90.5 277.5h1M92.5 277.5h2M97.5 277.5h1M244.5 277.5h1M322.5 277.5h1M325.5 277.5h1M489.5 277.5h1M492.5 277.5h1M496.5 277.5h3M88.5 278.6h1M90.5 278.6h4M207.5 278.6h1M349.5 278.6h1M354.5 278.6h1M467.5 278.6h1M472.5 278.6h1M490.5 278.6h1M498.5 278.6h1M502.5 278.6h2M199.5 279.6h1M211.5 279.6h3M240.5 279.6h1M244.5 279.6h1M199.5 282.8h1M354.5 282.8h1M437.5 282.8h1M89.5 283.9h2M200.5 283.9h1M348.5 283.9h1M356.5 283.9h2M492.5 283.9h2M499.5 283.9h3M88.5 285h1M90.5 285h1M200.5 285h1M203.5 285h2M352.5 285h2M356.5 285h1M475.5 285h1M489.5 285h1M493.5 285h1M247.5 286.1h1M433.5 286.1h1M438.5 286.1h1M170.5 288.2h2M192.5 288.2h1M274.5 289.3h2M66.5 291.4h21M122.5 291.4h34M169.5 291.4h1M179.5 291.4h21M223.5 291.4h18M245.5 291.4h6M269.5 291.4h1M273.5 291.4h1M276.5 291.4h23M321.5 291.4h21M345.5 291.4h3M364.5 291.4h2M391.5 291.4h16M414.5 291.4h18M462.5 291.4h5M472.5 291.4h33M87.5 294.6h1M331.5 294.6h1M437.5 294.6h1M489.5 294.6h1M170.5 295.7h1M199.5 295.7h1M209.5 295.7h3M313.5 295.7h1M315.5 295.7h1M489.5 295.7h1M502.5 295.7h1M90.5 296.8h2M93.5 296.8h5M194.5 296.8h1M199.5 296.8h1M210.5 296.8h1M349.5 296.8h1M352.5 296.8h2M355.5 296.8h6M491.5 296.8h2M169.5 297.9h1M173.5 297.9h1M243.5 297.9h1M269.5 297.9h1M473.5 297.9h1M494.5 297.9h1M88.5 298.9h1M100.5 298.9h1M200.5 298.9h1M202.5 298.9h2M356.5 298.9h3M489.5 298.9h1M499.5 298.9h2M88.5 301.1h1M199.5 301.1h1M211.5 301.1h2M244.5 301.1h1M248.5 301.1h1M334.5 301.1h1M363.5 301.1h1M407.5 301.1h1M409.5 301.1h1M88.5 302.1h2M201.5 302.1h2M204.5 302.1h6M213.5 302.1h2M351.5 302.1h1M489.5 302.1h1M491.5 302.1h2M497.5 302.1h4M88.5 303.2h1M96.5 303.2h7M208.5 303.2h2M212.5 303.2h3M240.5 303.2h1M242.5 303.2h1M349.5 303.2h1M491.5 303.2h1M502.5 303.2h1M90.5 304.3h2M97.5 304.3h1M348.5 304.3h1M354.5 304.3h2M489.5 304.3h1M503.5 304.3h1M87.5 305.4h1M145.5 305.4h1M150.5 305.4h1M246.5 305.4h1M272.5 305.4h1M275.5 305.4h1M325.5 305.4h1M87.5 306.4h1M92.5 306.4h7M199.5 306.4h1M210.5 306.4h2M213.5 306.4h1M321.5 306.4h1M348.5 306.4h1M407.5 306.4h1M409.5 306.4h1M274.5 308.6h1M314.5 308.6h2M83.5 309.6h1M87.5 309.6h1M174.5 309.6h1M185.5 309.6h1M211.5 309.6h1M240.5 309.6h1M272.5 309.6h1M313.5 309.6h1M320.5 309.6h1M327.5 309.6h1M471.5 309.6h1M506.5 309.6h1M171.5 310.7h1M87.5 311.8h1M240.5 311.8h1M248.5 311.8h1M331.5 311.8h1M410.5 311.8h1M503.5 311.8h1M102.5 312.9h1M304.5 312.9h1M60.5 313.9h11M83.5 313.9h5M91.5 313.9h1M100.5 313.9h14M200.5 313.9h1M202.5 313.9h2M257.5 313.9h44M311.5 313.9h24M354.5 313.9h17M410.5 313.9h24M488.5 313.9h3M502.5 313.9h33M88.5 315h1M92.5 315h2M96.5 315h2M103.5 315h1M200.5 315h1M204.5 315h1M207.5 315h1M211.5 315h1M349.5 315h1M351.5 315h1M490.5 315h1M493.5 315h1M496.5 315h1M199.5 316.1h1M211.5 316.1h1M331.5 316.1h1M363.5 316.1h1M488.5 316.1h1M87.5 317.1h1M199.5 317.1h1M359.5 317.1h1M434.5 317.1h1M489.5 317.1h1M87.5 318.2h1M199.5 318.2h1M97.5 320.4h1M210.5 320.4h1M239.5 320.4h1M87.5 322.5h1M103.5 322.5h1M210.5 322.5h1M322.5 322.5h1M327.5 322.5h1M346.5 322.5h2M360.5 322.5h1M489.5 322.5h1M87.5 323.6h1M214.5 323.6h1M484.5 323.6h1M199.5 324.6h1M210.5 324.6h1M244.5 324.6h1M348.5 324.6h1M353.5 324.6h1M87.5 325.7h1M313.5 325.7h1M489.5 325.7h1M87.5 328.9h1M209.5 328.9h1M277.5 328.9h1M348.5 328.9h1M475.5 328.9h1M212.5 331.1h1M276.5 331.1h1M87.5 332.1h1M348.5 332.1h1M451.5 332.1h1M489.5 332.1h1M502.5 332.1h1M204.5 333.2h1M350.5 333.2h2M491.5 333.2h2M501.5 333.2h1M168.5 334.3h1M199.5 334.3h1M211.5 334.3h1M251.5 334.3h1M272.5 334.3h1M348.5 334.3h1M451.5 334.3h1M453.5 334.3h1M89.5 335.4h1M351.5 335.4h2M491.5 335.4h1M88.5 337.5h1M199.5 337.5h1M206.5 337.5h1M270.5 337.5h1M348.5 337.5h1M356.5 337.5h1M497.5 337.5h2M98.5 338.6h1M207.5 338.6h2M362.5 338.6h3M88.5 339.6h3M92.5 339.6h3M208.5 339.6h1M350.5 339.6h1M354.5 339.6h1M491.5 339.6h4M497.5 339.6h3M350.5 340.7h3M491.5 340.7h9M211.5 341.8h1M87.5 342.9h1M200.5 342.9h1M209.5 342.9h2M212.5 342.9h1M353.5 342.9h2M363.5 342.9h2" stroke="#1b0d0d"/><path d="M240.5 203.5h3M271.5 203.5h2M350.5 203.5h3M209.5 204.6h1M239.5 204.6h1M279.5 204.6h1M332.5 204.6h1M494.5 204.6h1M187.5 205.7h1M87.5 206.8h1M96.5 206.8h1M100.5 206.8h2M489.5 206.8h1M190.5 207.8h1M205.5 207.8h1M207.5 207.8h1M270.5 207.8h1M325.5 207.8h1M349.5 207.8h1M378.5 207.8h2M408.5 207.8h1M494.5 207.8h4M244.5 211h1M435.5 211h2M201.5 212.1h1M274.5 212.1h1M351.5 213.2h1M353.5 213.2h1M467.5 213.2h2M172.5 214.3h1M204.5 214.3h4M250.5 214.3h1M354.5 214.3h3M362.5 214.3h1M417.5 214.3h1M447.5 214.3h1M494.5 214.3h2M501.5 214.3h1M200.5 215.3h1M204.5 215.3h1M207.5 215.3h1M350.5 215.3h2M408.5 215.3h1M492.5 215.3h1M170.5 217.5h1M271.5 219.6h1M492.5 219.6h4M85.5 220.7h2M145.5 220.7h1M150.5 220.7h1M244.5 220.7h1M454.5 220.7h1M315.5 225h1M169.5 226h1M200.5 226h1M207.5 226h2M244.5 226h1M270.5 226h1M275.5 226h1M359.5 226h1M377.5 226h1M498.5 226h1M89.5 229.3h2M94.5 229.3h1M98.5 229.3h1M101.5 229.3h2M349.5 229.3h1M352.5 229.3h2M491.5 229.3h2M497.5 229.3h1M499.5 229.3h1M274.5 230.3h1M379.5 230.3h1M89.5 231.4h1M201.5 231.4h1M241.5 231.4h1M352.5 231.4h3M358.5 231.4h1M364.5 231.4h1M491.5 231.4h1M501.5 231.4h1M503.5 231.4h1M95.5 232.5h1M200.5 232.5h1M205.5 232.5h2M208.5 232.5h1M210.5 232.5h1M270.5 232.5h2M353.5 232.5h1M356.5 232.5h2M363.5 232.5h2M492.5 232.5h3M496.5 232.5h2M500.5 232.5h1M504.5 232.5h1M191.5 234.6h1M468.5 234.6h3M491.5 234.6h1M500.5 234.6h1M85.5 235.7h1M92.5 235.7h1M97.5 235.7h2M169.5 235.7h1M270.5 235.7h1M358.5 235.7h1M467.5 235.7h1M146.5 236.8h1M244.5 236.8h1M350.5 236.8h1M445.5 238.9h1M169.5 241h1M191.5 241h1M325.5 241h1M483.5 241h1M485.5 241h1M213.5 242.1h1M277.5 242.1h1M321.5 242.1h1M354.5 242.1h1M357.5 242.1h1M359.5 242.1h1M502.5 242.1h3M199.5 243.2h1M336.5 243.2h1M451.5 243.2h1M489.5 243.2h1M89.5 244.3h1M94.5 244.3h4M201.5 244.3h1M350.5 244.3h1M354.5 244.3h3M358.5 244.3h3M93.5 245.3h1M204.5 245.3h1M354.5 245.3h2M94.5 248.5h1M99.5 248.5h1M146.5 248.5h1M149.5 248.5h1M205.5 248.5h2M210.5 248.5h2M408.5 248.5h1M446.5 248.5h1M449.5 248.5h1M496.5 248.5h3M350.5 249.6h3M358.5 249.6h1M493.5 249.6h3M352.5 250.7h2M355.5 250.7h1M357.5 250.7h1M491.5 250.7h1M493.5 250.7h1M497.5 250.7h1M87.5 252.8h1M94.5 252.8h1M171.5 252.8h1M211.5 252.8h1M273.5 252.8h2M349.5 252.8h1M353.5 252.8h4M361.5 252.8h1M451.5 252.8h1M490.5 252.8h1M496.5 252.8h2M88.5 253.9h1M200.5 253.9h1M214.5 253.9h1M269.5 253.9h2M358.5 253.9h1M473.5 253.9h1M489.5 253.9h1M241.5 256.1h1M96.5 257.1h1M348.5 257.1h1M353.5 257.1h3M87.5 259.3h1M199.5 259.3h1M211.5 259.3h1M269.5 259.3h1M278.5 259.3h1M354.5 259.3h3M489.5 259.3h1M87.5 261.4h1M248.5 261.4h1M302.5 262.5h1M469.5 262.5h1M94.5 264.6h1M96.5 264.6h1M190.5 264.6h2M206.5 264.6h1M242.5 264.6h1M270.5 264.6h1M361.5 264.6h3M495.5 264.6h4M343.5 265.7h1M345.5 265.7h1M491.5 265.7h4M351.5 266.8h1M418.5 266.8h1M452.5 266.8h1M468.5 266.8h1M170.5 268.9h1M251.5 270h2M270.5 271.1h1M357.5 271.1h1M89.5 272.1h1M468.5 272.1h1M98.5 273.2h1M200.5 273.2h1M209.5 273.2h1M303.5 273.2h1M348.5 273.2h1M351.5 273.2h1M354.5 273.2h4M407.5 273.2h1M436.5 273.2h1M470.5 273.2h1M498.5 273.2h1M89.5 274.3h2M92.5 274.3h2M100.5 274.3h1M200.5 274.3h1M202.5 274.3h1M206.5 274.3h1M209.5 274.3h2M270.5 274.3h1M273.5 274.3h1M350.5 274.3h2M270.5 275.3h1M278.5 275.3h1M301.5 275.3h1M306.5 275.3h1M359.5 275.3h1M361.5 275.3h1M434.5 275.3h1M467.5 275.3h1M169.5 276.4h3M273.5 276.4h2M278.5 276.4h1M327.5 276.4h1M349.5 276.4h1M492.5 276.4h1M498.5 276.4h1M500.5 276.4h1M88.5 277.5h2M91.5 277.5h1M94.5 277.5h2M326.5 277.5h1M360.5 277.5h2M490.5 277.5h2M89.5 278.6h1M94.5 278.6h3M98.5 278.6h1M171.5 278.6h1M200.5 278.6h1M206.5 278.6h1M350.5 278.6h4M495.5 278.6h3M499.5 278.6h1M501.5 278.6h1M98.5 279.6h1M169.5 279.6h1M175.5 279.6h1M210.5 279.6h1M214.5 279.6h1M325.5 279.6h1M466.5 279.6h1M169.5 282.8h1M269.5 282.8h1M287.5 282.8h1M353.5 282.8h1M355.5 282.8h1M434.5 282.8h1M489.5 282.8h1M202.5 283.9h3M349.5 283.9h1M355.5 283.9h1M491.5 283.9h1M89.5 285h1M172.5 285h1M201.5 285h2M349.5 285h1M351.5 285h1M478.5 285h1M492.5 285h1M145.5 286.1h1M211.5 286.1h1M405.5 287.1h1M190.5 288.2h2M61.5 291.4h5M87.5 291.4h1M91.5 291.4h1M98.5 291.4h24M172.5 291.4h1M211.5 291.4h12M241.5 291.4h1M244.5 291.4h1M299.5 291.4h22M342.5 291.4h1M355.5 291.4h3M362.5 291.4h2M366.5 291.4h8M383.5 291.4h8M432.5 291.4h30M467.5 291.4h1M471.5 291.4h1M505.5 291.4h30M199.5 294.6h1M245.5 294.6h1M334.5 294.6h1M348.5 294.6h1M404.5 294.6h1M93.5 295.7h1M208.5 295.7h1M212.5 295.7h3M496.5 295.7h2M88.5 296.8h2M92.5 296.8h1M190.5 296.8h1M202.5 296.8h5M209.5 296.8h1M350.5 296.8h2M354.5 296.8h1M249.5 297.9h1M251.5 297.9h1M301.5 297.9h1M358.5 297.9h1M361.5 297.9h1M456.5 297.9h1M467.5 297.9h1M483.5 297.9h1M490.5 297.9h1M94.5 298.9h1M201.5 298.9h1M204.5 298.9h1M207.5 298.9h2M350.5 298.9h1M355.5 298.9h1M359.5 298.9h1M365.5 298.9h1M495.5 298.9h4M501.5 298.9h2M210.5 301.1h1M213.5 301.1h1M240.5 301.1h1M243.5 301.1h1M331.5 301.1h1M355.5 301.1h2M451.5 301.1h1M455.5 301.1h1M350.5 302.1h1M404.5 302.1h2M490.5 302.1h1M95.5 303.2h1M201.5 303.2h1M204.5 303.2h1M206.5 303.2h2M245.5 303.2h1M354.5 303.2h1M362.5 303.2h1M89.5 304.3h1M92.5 304.3h1M199.5 304.3h1M207.5 304.3h1M353.5 304.3h1M502.5 304.3h1M85.5 305.4h1M173.5 305.4h1M328.5 305.4h1M470.5 305.4h1M91.5 306.4h1M205.5 306.4h5M212.5 306.4h1M242.5 306.4h1M357.5 306.4h1M494.5 306.4h2M273.5 308.6h1M169.5 309.6h1M348.5 309.6h1M404.5 309.6h1M146.5 310.7h2M149.5 310.7h1M170.5 310.7h1M98.5 311.8h1M489.5 311.8h1M301.5 312.9h1M448.5 312.9h1M88.5 313.9h3M92.5 313.9h8M201.5 313.9h1M335.5 313.9h19M493.5 313.9h9M94.5 315h2M98.5 315h5M205.5 315h2M350.5 315h1M492.5 315h1M494.5 315h2M207.5 316.1h4M204.5 317.1h2M349.5 317.1h1M356.5 317.1h3M492.5 317.1h3M497.5 317.1h1M189.5 318.2h1M192.5 318.2h1M87.5 320.4h1M199.5 320.4h1M489.5 320.4h1M99.5 322.5h2M169.5 322.5h1M208.5 322.5h1M270.5 322.5h1M320.5 322.5h1M325.5 322.5h1M355.5 322.5h3M359.5 322.5h1M500.5 322.5h3M99.5 323.6h2M210.5 323.6h2M240.5 323.6h1M272.5 323.6h1M302.5 323.6h1M305.5 323.6h1M504.5 323.6h1M100.5 324.6h1M207.5 324.6h3M497.5 324.6h4M96.5 326.8h1M200.5 326.8h1M347.5 326.8h1M349.5 326.8h1M356.5 328.9h1M503.5 328.9h1M489.5 331.1h1M200.5 332.1h1M87.5 334.3h1M172.5 334.3h1M202.5 334.3h1M210.5 334.3h1M249.5 334.3h1M494.5 334.3h1M203.5 337.5h2M271.5 337.5h1M355.5 337.5h1M357.5 337.5h1M359.5 337.5h1M492.5 337.5h5M499.5 337.5h6M87.5 338.6h1M96.5 338.6h1M200.5 338.6h1M349.5 338.6h1M352.5 338.6h3M360.5 338.6h2M468.5 338.6h2M351.5 339.6h3M87.5 341.8h1M210.5 341.8h1M213.5 341.8h1M354.5 341.8h1M357.5 341.8h1M362.5 341.8h3M467.5 341.8h1M208.5 342.9h1M211.5 342.9h1M350.5 342.9h1M352.5 342.9h1M355.5 342.9h3M361.5 342.9h2" stroke="#361212"/><path d="M243.5 203.5h2M275.5 203.5h1M100.5 204.6h1M250.5 204.6h1M269.5 204.6h1M278.5 204.6h1M333.5 204.6h1M349.5 204.6h1M408.5 204.6h1M190.5 205.7h1M90.5 206.8h2M95.5 206.8h1M203.5 206.8h1M242.5 206.8h1M332.5 206.8h1M348.5 206.8h1M360.5 206.8h2M434.5 206.8h1M206.5 207.8h1M490.5 207.8h1M492.5 207.8h2M276.5 212.1h1M321.5 213.2h1M352.5 213.2h1M98.5 214.3h1M203.5 214.3h1M208.5 214.3h2M270.5 214.3h1M273.5 214.3h1M444.5 214.3h1M496.5 214.3h1M498.5 214.3h3M491.5 215.3h1M303.5 217.5h1M199.5 220.7h1M245.5 220.7h1M349.5 220.7h1M352.5 220.7h2M356.5 220.7h2M359.5 220.7h1M451.5 220.7h1M172.5 226h1M206.5 226h1M209.5 226h1M242.5 226h1M315.5 226h3M327.5 226h1M350.5 226h1M356.5 226h1M358.5 226h1M362.5 226h1M446.5 226h1M95.5 229.3h1M350.5 229.3h2M498.5 229.3h1M275.5 230.3h1M349.5 231.4h1M359.5 231.4h1M502.5 231.4h1M94.5 232.5h1M169.5 232.5h1M202.5 232.5h3M209.5 232.5h1M352.5 232.5h1M354.5 232.5h2M495.5 232.5h1M501.5 232.5h3M90.5 235.7h1M96.5 235.7h1M199.5 235.7h1M240.5 235.7h1M356.5 235.7h2M404.5 235.7h1M304.5 241h1M359.5 241h1M83.5 242.1h1M86.5 242.1h1M169.5 242.1h1M171.5 242.1h1M210.5 242.1h1M273.5 242.1h1M348.5 242.1h2M353.5 242.1h1M355.5 242.1h2M360.5 242.1h2M489.5 242.1h1M498.5 242.1h4M87.5 243.2h1M275.5 243.2h1M332.5 243.2h1M348.5 243.2h1M354.5 243.2h1M468.5 243.2h1M502.5 243.2h1M351.5 244.3h1M353.5 244.3h1M357.5 244.3h1M203.5 245.3h1M274.5 246.4h1M170.5 247.5h1M89.5 248.5h1M98.5 248.5h1M200.5 248.5h1M207.5 248.5h1M242.5 248.5h2M245.5 248.5h1M492.5 248.5h4M499.5 248.5h1M503.5 248.5h1M186.5 250.7h1M188.5 250.7h1M354.5 250.7h1M360.5 250.7h2M378.5 250.7h1M445.5 250.7h1M93.5 252.8h1M95.5 252.8h1M99.5 252.8h3M169.5 252.8h1M199.5 252.8h1M302.5 252.8h1M357.5 252.8h1M453.5 252.8h1M471.5 252.8h1M495.5 252.8h1M91.5 253.9h2M97.5 253.9h2M207.5 253.9h2M211.5 253.9h1M278.5 253.9h2M353.5 253.9h1M97.5 257.1h2M146.5 257.1h1M200.5 257.1h1M204.5 257.1h1M209.5 257.1h5M352.5 257.1h1M358.5 257.1h1M361.5 257.1h1M172.5 259.3h1M271.5 259.3h1M285.5 259.3h1M353.5 259.3h1M357.5 259.3h2M470.5 259.3h2M145.5 261.4h1M148.5 261.4h1M287.5 261.4h1M490.5 261.4h1M303.5 262.5h1M241.5 264.6h1M273.5 264.6h1M356.5 264.6h2M360.5 264.6h1M468.5 264.6h1M199.5 271.1h1M356.5 271.1h1M170.5 272.1h1M345.5 272.1h1M208.5 273.2h1M405.5 273.2h2M435.5 273.2h1M497.5 273.2h1M201.5 274.3h1M203.5 274.3h1M492.5 274.3h1M321.5 275.3h1M363.5 275.3h1M492.5 275.3h2M279.5 276.4h2M326.5 276.4h1M350.5 276.4h1M490.5 276.4h1M499.5 276.4h1M96.5 277.5h1M200.5 277.5h1M208.5 277.5h1M245.5 277.5h1M321.5 277.5h1M349.5 277.5h1M97.5 278.6h1M170.5 278.6h1M469.5 278.6h3M492.5 278.6h3M500.5 278.6h1M207.5 279.6h3M215.5 279.6h1M270.5 279.6h1M363.5 279.6h2M87.5 282.8h1M348.5 282.8h1M356.5 282.8h1M201.5 283.9h1M351.5 283.9h4M350.5 285h1M476.5 285h2M490.5 285h1M199.5 286.1h1M407.5 286.1h1M418.5 286.1h1M469.5 286.1h1M490.5 286.1h1M60.5 291.4h1M90.5 291.4h1M92.5 291.4h1M96.5 291.4h2M170.5 291.4h1M200.5 291.4h1M210.5 291.4h1M272.5 291.4h1M348.5 291.4h1M353.5 291.4h2M358.5 291.4h1M374.5 291.4h9M170.5 294.6h3M212.5 294.6h2M272.5 294.6h1M332.5 294.6h1M434.5 294.6h1M504.5 294.6h1M88.5 295.7h1M90.5 295.7h2M171.5 295.7h1M200.5 295.7h1M204.5 295.7h1M207.5 295.7h1M495.5 295.7h1M498.5 295.7h4M191.5 296.8h1M193.5 296.8h1M200.5 296.8h1M207.5 296.8h2M469.5 296.8h1M472.5 296.8h1M240.5 297.9h1M353.5 297.9h2M357.5 297.9h1M359.5 297.9h2M362.5 297.9h1M95.5 298.9h1M99.5 298.9h1M206.5 298.9h1M360.5 298.9h1M364.5 298.9h1M490.5 298.9h1M494.5 298.9h1M99.5 301.1h5M270.5 301.1h1M318.5 301.1h1M349.5 301.1h1M354.5 301.1h1M357.5 301.1h1M362.5 301.1h1M470.5 301.1h1M203.5 303.2h1M205.5 303.2h1M246.5 303.2h1M353.5 303.2h1M361.5 303.2h1M498.5 303.2h2M93.5 304.3h4M206.5 304.3h1M468.5 304.3h1M471.5 304.3h1M494.5 304.3h2M497.5 304.3h2M86.5 305.4h1M88.5 305.4h1M169.5 305.4h1M88.5 306.4h1M90.5 306.4h1M200.5 306.4h3M204.5 306.4h1M241.5 306.4h1M323.5 306.4h1M408.5 306.4h1M493.5 306.4h1M86.5 309.6h1M210.5 309.6h1M212.5 309.6h1M252.5 309.6h1M269.5 309.6h1M276.5 309.6h1M497.5 309.6h2M148.5 310.7h1M241.5 311.8h1M246.5 311.8h2M333.5 311.8h1M349.5 311.8h1M405.5 311.8h1M445.5 311.8h1M447.5 311.8h1M89.5 312.9h1M97.5 312.9h5M211.5 312.9h1M404.5 312.9h1M489.5 312.9h1M500.5 312.9h1M91.5 315h1M203.5 315h1M491.5 315h1M206.5 316.1h1M335.5 316.1h1M358.5 316.1h2M495.5 316.1h1M353.5 317.1h1M355.5 317.1h1M495.5 317.1h2M466.5 318.2h1M489.5 318.2h1M251.5 320.4h1M479.5 320.4h1M98.5 322.5h1M101.5 322.5h1M209.5 322.5h1M274.5 322.5h1M354.5 322.5h1M358.5 322.5h1M504.5 322.5h1M101.5 323.6h1M202.5 323.6h1M209.5 323.6h1M212.5 323.6h1M246.5 323.6h1M279.5 323.6h1M496.5 323.6h1M99.5 324.6h1M202.5 324.6h1M240.5 324.6h1M352.5 324.6h1M489.5 324.6h1M437.5 325.7h1M500.5 325.7h1M270.5 326.8h1M356.5 326.8h1M279.5 328.9h1M287.5 328.9h1M289.5 328.9h1M355.5 328.9h1M357.5 328.9h1M363.5 328.9h1M445.5 328.9h1M500.5 328.9h2M87.5 331.1h1M211.5 331.1h1M355.5 331.1h5M99.5 332.1h1M203.5 334.3h2M209.5 334.3h1M91.5 337.5h1M96.5 337.5h1M99.5 337.5h1M205.5 337.5h1M354.5 337.5h1M490.5 337.5h1M95.5 338.6h1M97.5 338.6h1M206.5 338.6h1M355.5 338.6h3M359.5 338.6h1M199.5 341.8h1M212.5 341.8h1M350.5 341.8h1M355.5 341.8h2M358.5 341.8h1M361.5 341.8h1M358.5 342.9h1M360.5 342.9h1" stroke="#5e1718"/><path d="M274.5 203.5h1M97.5 204.6h3M207.5 204.6h2M242.5 204.6h1M252.5 204.6h1M270.5 204.6h1M409.5 204.6h1M92.5 206.8h1M94.5 206.8h1M204.5 206.8h1M206.5 206.8h1M241.5 206.8h1M245.5 206.8h1M270.5 206.8h1M333.5 206.8h1M357.5 206.8h1M362.5 206.8h2M435.5 206.8h2M496.5 206.8h2M501.5 206.8h2M271.5 207.8h3M326.5 207.8h1M351.5 207.8h1M491.5 207.8h1M275.5 212.1h1M91.5 214.3h1M97.5 214.3h1M196.5 214.3h1M202.5 214.3h1M251.5 214.3h1M274.5 214.3h1M348.5 214.3h1M490.5 214.3h1M493.5 214.3h1M497.5 214.3h1M205.5 215.3h2M102.5 220.7h1M202.5 220.7h1M321.5 220.7h1M354.5 220.7h2M358.5 220.7h1M452.5 220.7h1M88.5 226h1M91.5 226h1M204.5 226h2M272.5 226h1M353.5 226h3M357.5 226h1M360.5 226h1M97.5 229.3h1M351.5 231.4h1M360.5 231.4h2M363.5 231.4h1M89.5 232.5h1M91.5 232.5h1M349.5 232.5h1M358.5 232.5h2M490.5 232.5h2M88.5 235.7h1M93.5 235.7h1M186.5 235.7h1M211.5 235.7h1M348.5 235.7h1M352.5 235.7h1M488.5 235.7h1M174.5 241h1M190.5 241h1M303.5 241h1M315.5 241h1M170.5 242.1h1M207.5 242.1h3M276.5 242.1h1M322.5 242.1h1M325.5 242.1h1M343.5 242.1h1M345.5 242.1h1M347.5 242.1h1M492.5 242.1h2M497.5 242.1h1M247.5 243.2h1M270.5 243.2h1M353.5 243.2h1M352.5 244.3h1M169.5 247.5h1M95.5 248.5h1M148.5 248.5h1M204.5 248.5h1M212.5 248.5h1M240.5 248.5h2M447.5 248.5h1M490.5 248.5h2M502.5 248.5h1M187.5 250.7h1M349.5 250.7h1M351.5 250.7h1M358.5 250.7h2M362.5 250.7h1M448.5 250.7h1M492.5 250.7h1M98.5 252.8h1M202.5 252.8h3M210.5 252.8h1M303.5 252.8h1M352.5 252.8h1M468.5 252.8h1M498.5 252.8h1M503.5 252.8h2M93.5 253.9h1M96.5 253.9h1M205.5 253.9h1M210.5 253.9h1M212.5 253.9h2M468.5 253.9h1M499.5 253.9h1M95.5 257.1h1M203.5 257.1h1M208.5 257.1h1M214.5 257.1h1M359.5 257.1h2M363.5 257.1h1M445.5 257.1h1M170.5 259.3h1M280.5 259.3h3M315.5 260.3h1M91.5 261.4h1M97.5 261.4h1M349.5 261.4h1M201.5 264.6h1M205.5 264.6h1M274.5 264.6h1M355.5 264.6h1M359.5 264.6h1M490.5 264.6h1M344.5 265.7h1M250.5 270h1M88.5 271.1h1M92.5 271.1h1M174.5 271.1h1M240.5 271.1h1M244.5 271.1h1M250.5 271.1h1M348.5 271.1h1M352.5 271.1h2M468.5 271.1h1M171.5 272.1h1M92.5 273.2h1M97.5 273.2h1M207.5 273.2h1M302.5 273.2h1M468.5 273.2h1M490.5 273.2h1M204.5 274.3h1M271.5 274.3h2M468.5 274.3h1M491.5 274.3h1M204.5 275.3h1M240.5 275.3h1M358.5 275.3h1M362.5 275.3h1M328.5 276.4h2M203.5 277.5h2M207.5 277.5h1M354.5 277.5h2M359.5 277.5h1M201.5 278.6h1M205.5 278.6h1M468.5 278.6h1M491.5 278.6h1M87.5 279.6h1M320.5 279.6h1M358.5 279.6h2M362.5 279.6h1M489.5 279.6h1M495.5 279.6h1M288.5 282.8h1M290.5 282.8h1M293.5 282.8h1M350.5 283.9h1M170.5 285h1M491.5 285h1M88.5 286.1h1M244.5 286.1h1M348.5 286.1h1M404.5 286.1h1M417.5 286.1h1M88.5 291.4h1M93.5 291.4h3M204.5 291.4h2M209.5 291.4h1M359.5 291.4h1M361.5 291.4h1M211.5 294.6h1M242.5 294.6h1M270.5 294.6h1M333.5 294.6h1M435.5 294.6h2M495.5 294.6h3M500.5 294.6h1M488.5 295.7h1M490.5 295.7h1M492.5 295.7h2M192.5 296.8h1M201.5 296.8h1M470.5 296.8h2M87.5 297.9h1M199.5 297.9h1M304.5 297.9h1M348.5 297.9h1M355.5 297.9h2M364.5 297.9h1M451.5 297.9h1M454.5 297.9h1M472.5 297.9h1M91.5 298.9h1M93.5 298.9h1M98.5 298.9h1M205.5 298.9h1M354.5 298.9h1M491.5 298.9h2M209.5 301.1h1M214.5 301.1h2M241.5 301.1h1M278.5 301.1h1M358.5 301.1h2M408.5 301.1h1M489.5 301.1h1M89.5 303.2h1M91.5 303.2h1M202.5 303.2h1M241.5 303.2h1M350.5 303.2h1M355.5 303.2h1M359.5 303.2h2M494.5 303.2h2M497.5 303.2h1M500.5 303.2h2M84.5 304.3h1M86.5 304.3h3M202.5 304.3h2M205.5 304.3h1M490.5 304.3h1M496.5 304.3h1M94.5 305.4h1M172.5 305.4h1M241.5 305.4h1M467.5 305.4h1M477.5 305.4h1M489.5 305.4h1M89.5 306.4h1M203.5 306.4h1M322.5 306.4h1M349.5 306.4h1M356.5 306.4h1M490.5 306.4h1M84.5 309.6h1M243.5 309.6h1M273.5 309.6h1M326.5 309.6h1M407.5 309.6h1M417.5 309.6h1M467.5 309.6h1M490.5 309.6h1M494.5 309.6h1M496.5 309.6h1M499.5 309.6h1M505.5 309.6h1M245.5 311.8h1M356.5 311.8h1M407.5 311.8h1M502.5 311.8h1M173.5 312.9h1M210.5 312.9h1M445.5 312.9h3M491.5 313.9h2M89.5 315h1M201.5 315h1M203.5 316.1h3M348.5 316.1h1M360.5 316.1h1M203.5 317.1h1M352.5 317.1h1M354.5 317.1h1M436.5 317.1h1M490.5 317.1h2M148.5 318.2h1M207.5 320.4h1M102.5 322.5h1M172.5 322.5h1M199.5 322.5h1M207.5 322.5h1M349.5 322.5h1M499.5 322.5h1M503.5 322.5h1M98.5 323.6h1M102.5 323.6h1M199.5 323.6h1M203.5 323.6h1M208.5 323.6h1M275.5 323.6h1M485.5 323.6h1M497.5 323.6h1M502.5 323.6h1M96.5 324.6h1M98.5 324.6h1M193.5 324.6h1M200.5 324.6h2M206.5 324.6h1M241.5 324.6h1M349.5 324.6h1M496.5 324.6h1M316.5 325.7h1M88.5 326.8h1M170.5 326.8h1M271.5 326.8h1M273.5 326.8h1M490.5 326.8h1M503.5 326.8h3M199.5 328.9h1M470.5 328.9h1M474.5 328.9h1M489.5 328.9h1M499.5 328.9h1M502.5 328.9h1M199.5 331.1h1M210.5 331.1h1M348.5 331.1h1M354.5 331.1h1M360.5 331.1h1M100.5 332.1h1M194.5 332.1h1M454.5 332.1h1M470.5 332.1h1M499.5 332.1h3M208.5 334.3h1M273.5 334.3h2M452.5 334.3h1M89.5 337.5h2M97.5 337.5h2M202.5 337.5h1M358.5 337.5h1M201.5 338.6h4M358.5 338.6h1M490.5 338.6h1M502.5 338.6h1M504.5 338.6h1M353.5 341.8h1M359.5 341.8h2M203.5 342.9h1M351.5 342.9h1" stroke="#8e1b1e"/><path d="M90.5 204.6h1M200.5 204.6h1M206.5 204.6h1M240.5 204.6h2M251.5 204.6h1M253.5 204.6h1M491.5 204.6h1M88.5 206.8h2M93.5 206.8h1M202.5 206.8h1M272.5 206.8h1M334.5 206.8h2M359.5 206.8h1M490.5 206.8h1M492.5 206.8h1M90.5 214.3h1M92.5 214.3h5M171.5 214.3h1M197.5 214.3h2M252.5 214.3h1M353.5 214.3h1M88.5 220.7h1M147.5 220.7h1M203.5 220.7h4M502.5 220.7h1M90.5 226h1M170.5 226h1M241.5 226h1M271.5 226h1M96.5 229.3h1M362.5 231.4h1M83.5 232.5h2M90.5 232.5h1M92.5 232.5h2M201.5 232.5h1M94.5 235.7h2M187.5 235.7h1M210.5 235.7h1M243.5 235.7h1M351.5 235.7h1M353.5 235.7h3M470.5 235.7h1M484.5 235.7h1M489.5 235.7h1M493.5 235.7h2M500.5 235.7h1M245.5 236.8h1M202.5 241h1M326.5 241h1M500.5 241h1M206.5 242.1h1M324.5 242.1h1M494.5 242.1h1M86.5 243.2h1M210.5 243.2h2M290.5 243.2h1M355.5 243.2h1M474.5 243.2h2M96.5 248.5h2M147.5 248.5h1M201.5 248.5h3M208.5 248.5h2M213.5 248.5h1M448.5 248.5h1M500.5 248.5h2M446.5 250.7h2M205.5 252.8h1M242.5 252.8h1M452.5 252.8h1M469.5 252.8h1M499.5 252.8h1M90.5 253.9h1M94.5 253.9h2M204.5 253.9h1M206.5 253.9h1M209.5 253.9h1M349.5 253.9h1M352.5 253.9h1M469.5 253.9h3M497.5 253.9h1M88.5 257.1h1M147.5 257.1h1M202.5 257.1h1M205.5 257.1h1M207.5 257.1h1M173.5 259.3h1M242.5 259.3h1M279.5 259.3h1M283.5 259.3h1M476.5 259.3h2M497.5 259.3h1M98.5 261.4h1M102.5 261.4h1M288.5 261.4h2M346.5 261.4h2M88.5 264.6h1M90.5 264.6h1M93.5 264.6h1M202.5 264.6h3M272.5 264.6h1M349.5 264.6h1M354.5 264.6h1M358.5 264.6h1M491.5 264.6h1M173.5 271.1h1M207.5 271.1h1M211.5 271.1h1M344.5 272.1h1M89.5 273.2h1M93.5 273.2h1M201.5 273.2h2M206.5 273.2h1M492.5 273.2h1M205.5 274.3h1M93.5 275.3h1M101.5 275.3h2M147.5 275.3h1M200.5 275.3h1M203.5 275.3h1M280.5 275.3h1M302.5 275.3h2M357.5 275.3h1M468.5 275.3h2M490.5 275.3h1M491.5 276.4h1M205.5 277.5h1M209.5 277.5h1M211.5 277.5h1M358.5 277.5h1M349.5 279.6h1M360.5 279.6h2M471.5 279.6h1M496.5 279.6h1M203.5 282.8h2M272.5 282.8h1M289.5 282.8h1M357.5 282.8h1M360.5 282.8h1M497.5 282.8h1M171.5 285h1M148.5 286.1h1M353.5 286.1h1M467.5 286.1h1M206.5 291.4h3M243.5 291.4h1M270.5 291.4h1M343.5 291.4h2M352.5 291.4h1M468.5 291.4h1M202.5 294.6h1M204.5 294.6h1M240.5 294.6h1M244.5 294.6h1M362.5 294.6h1M409.5 294.6h1M494.5 294.6h1M498.5 294.6h2M501.5 294.6h1M503.5 294.6h1M203.5 295.7h1M205.5 295.7h1M314.5 295.7h1M487.5 295.7h1M494.5 295.7h1M98.5 297.9h1M170.5 297.9h2M273.5 297.9h2M445.5 297.9h1M484.5 297.9h1M89.5 298.9h2M92.5 298.9h1M96.5 298.9h2M353.5 298.9h1M361.5 298.9h1M363.5 298.9h1M493.5 298.9h1M200.5 301.1h1M204.5 301.1h1M207.5 301.1h2M333.5 301.1h1M360.5 301.1h2M468.5 301.1h1M90.5 303.2h1M94.5 303.2h1M356.5 303.2h1M358.5 303.2h1M492.5 303.2h1M496.5 303.2h1M81.5 304.3h1M83.5 304.3h1M85.5 304.3h1M204.5 304.3h1M352.5 304.3h1M470.5 304.3h1M493.5 304.3h1M499.5 304.3h1M501.5 304.3h1M147.5 305.4h1M269.5 305.4h1M496.5 306.4h1M504.5 306.4h2M85.5 309.6h1M242.5 309.6h1M321.5 309.6h1M325.5 309.6h1M332.5 309.6h1M493.5 309.6h1M495.5 309.6h1M90.5 311.8h1M332.5 311.8h1M406.5 311.8h1M446.5 311.8h1M492.5 311.8h1M498.5 311.8h1M501.5 311.8h1M212.5 312.9h1M492.5 312.9h1M90.5 315h1M87.5 316.1h1M200.5 316.1h1M202.5 316.1h1M332.5 316.1h2M362.5 316.1h1M88.5 317.1h1M90.5 317.1h2M200.5 317.1h1M202.5 317.1h1M435.5 317.1h1M146.5 318.2h1M207.5 318.2h1M503.5 318.2h1M208.5 320.4h1M242.5 320.4h1M88.5 322.5h1M94.5 322.5h4M202.5 322.5h2M272.5 322.5h1M275.5 322.5h1M321.5 322.5h1M353.5 322.5h1M490.5 322.5h1M498.5 322.5h1M213.5 323.6h1M277.5 323.6h2M489.5 323.6h1M495.5 323.6h1M501.5 323.6h1M503.5 323.6h1M88.5 324.6h1M91.5 324.6h1M95.5 324.6h1M97.5 324.6h1M194.5 324.6h2M203.5 324.6h1M243.5 324.6h1M351.5 324.6h1M348.5 325.7h1M434.5 325.7h1M496.5 325.7h2M95.5 326.8h1M354.5 326.8h2M502.5 326.8h1M88.5 328.9h1M102.5 328.9h1M446.5 328.9h1M468.5 328.9h1M473.5 328.9h1M100.5 331.1h2M269.5 331.1h1M353.5 331.1h1M502.5 331.1h1M98.5 332.1h1M198.5 332.1h1M453.5 332.1h1M493.5 332.1h2M169.5 334.3h1M200.5 334.3h2M250.5 334.3h1M275.5 334.3h2M489.5 334.3h1M92.5 337.5h1M200.5 337.5h1M349.5 337.5h1M353.5 337.5h1M491.5 337.5h1M205.5 338.6h1M350.5 338.6h2M495.5 338.6h1M498.5 338.6h1M503.5 338.6h1M90.5 341.8h1M205.5 341.8h1M469.5 341.8h1M88.5 342.9h1M201.5 342.9h1M204.5 342.9h1M207.5 342.9h1M359.5 342.9h1" stroke="#ae1e24"/><path d="M88.5 204.6h1M91.5 204.6h1M493.5 204.6h1M200.5 206.8h1M205.5 206.8h1M271.5 206.8h1M356.5 206.8h1M358.5 206.8h1M493.5 206.8h1M495.5 206.8h1M170.5 207.8h1M350.5 207.8h1M88.5 214.3h1M170.5 214.3h1M418.5 214.3h1M97.5 220.7h1M146.5 220.7h1M148.5 220.7h1M322.5 220.7h2M453.5 220.7h1M96.5 226h1M171.5 226h1M203.5 226h1M243.5 226h1M361.5 226h1M378.5 226h1M493.5 226h2M82.5 232.5h1M85.5 232.5h1M87.5 232.5h1M351.5 232.5h1M171.5 235.7h1M212.5 235.7h1M241.5 235.7h2M246.5 235.7h1M248.5 235.7h1M406.5 235.7h1M468.5 235.7h1M495.5 235.7h3M199.5 241h1M302.5 241h1M468.5 241h1M85.5 242.1h1M200.5 242.1h1M323.5 242.1h1M344.5 242.1h1M352.5 242.1h1M495.5 242.1h2M333.5 243.2h1M469.5 243.2h1M500.5 243.2h1M244.5 248.5h1M92.5 252.8h1M96.5 252.8h1M209.5 252.8h1M241.5 252.8h1M350.5 252.8h1M358.5 252.8h1M360.5 252.8h1M494.5 252.8h1M502.5 252.8h1M472.5 253.9h1M494.5 253.9h3M498.5 253.9h1M89.5 257.1h2M201.5 257.1h1M206.5 257.1h1M351.5 257.1h1M362.5 257.1h1M91.5 259.3h1M284.5 259.3h1M352.5 259.3h1M468.5 259.3h1M498.5 259.3h1M90.5 261.4h1M99.5 261.4h1M146.5 261.4h2M203.5 261.4h1M247.5 261.4h1M334.5 261.4h2M89.5 264.6h1M91.5 264.6h1M271.5 264.6h1M91.5 271.1h1M93.5 271.1h1M150.5 271.1h1M206.5 271.1h1M208.5 271.1h1M210.5 271.1h1M242.5 271.1h1M249.5 271.1h1M272.5 271.1h1M354.5 271.1h1M470.5 271.1h1M91.5 273.2h1M203.5 273.2h1M349.5 273.2h1M469.5 273.2h1M493.5 273.2h1M496.5 273.2h1M94.5 275.3h1M241.5 275.3h1M272.5 275.3h1M304.5 275.3h1M353.5 275.3h4M436.5 275.3h1M438.5 275.3h1M470.5 275.3h1M485.5 275.3h1M494.5 275.3h1M502.5 275.3h2M206.5 277.5h1M210.5 277.5h1M356.5 277.5h2M202.5 278.6h1M96.5 279.6h1M272.5 279.6h1M323.5 279.6h1M494.5 279.6h1M171.5 282.8h1M209.5 282.8h1M495.5 286.1h1M89.5 291.4h1M242.5 291.4h1M271.5 291.4h1M360.5 291.4h1M470.5 291.4h1M91.5 294.6h3M100.5 294.6h1M203.5 294.6h1M205.5 294.6h1M210.5 294.6h1M214.5 294.6h1M405.5 294.6h2M490.5 294.6h1M89.5 295.7h1M92.5 295.7h1M206.5 295.7h1M486.5 295.7h1M172.5 297.9h1M270.5 297.9h2M302.5 297.9h1M352.5 297.9h1M363.5 297.9h1M446.5 297.9h1M468.5 297.9h1M362.5 298.9h1M89.5 301.1h1M203.5 301.1h1M205.5 301.1h2M271.5 301.1h1M314.5 301.1h1M317.5 301.1h1M332.5 301.1h1M92.5 303.2h1M357.5 303.2h1M493.5 303.2h1M200.5 304.3h1M349.5 304.3h1M469.5 304.3h1M146.5 305.4h1M149.5 305.4h1M171.5 305.4h1M270.5 305.4h1M273.5 305.4h2M348.5 305.4h1M476.5 305.4h1M498.5 305.4h1M355.5 306.4h1M503.5 306.4h1M90.5 309.6h1M94.5 309.6h1M172.5 309.6h1M251.5 309.6h1M271.5 309.6h1M322.5 309.6h1M335.5 309.6h1M418.5 309.6h1M500.5 309.6h1M88.5 311.8h1M91.5 311.8h1M96.5 311.8h2M357.5 311.8h1M408.5 311.8h2M493.5 311.8h2M497.5 311.8h1M499.5 311.8h2M96.5 312.9h1M170.5 312.9h1M199.5 312.9h1M302.5 312.9h1M406.5 312.9h1M498.5 312.9h1M361.5 316.1h1M201.5 317.1h1M96.5 320.4h1M209.5 320.4h1M348.5 320.4h1M476.5 320.4h1M170.5 322.5h1M206.5 322.5h1M276.5 322.5h1M278.5 322.5h1M326.5 322.5h1M352.5 322.5h1M497.5 322.5h1M88.5 323.6h1M241.5 323.6h1M276.5 323.6h1M303.5 323.6h2M486.5 323.6h1M492.5 323.6h2M92.5 324.6h3M242.5 324.6h1M492.5 324.6h1M88.5 325.7h1M96.5 325.7h1M314.5 325.7h2M357.5 325.7h1M91.5 326.8h4M169.5 326.8h1M348.5 326.8h1M497.5 326.8h1M205.5 328.9h1M469.5 328.9h1M496.5 328.9h1M498.5 328.9h1M208.5 331.1h2M272.5 331.1h4M361.5 331.1h2M91.5 332.1h2M195.5 332.1h1M204.5 332.1h1M467.5 332.1h1M205.5 334.3h1M349.5 334.3h1M493.5 334.3h1M95.5 337.5h1M92.5 338.6h1M497.5 338.6h1M499.5 338.6h1M501.5 338.6h1M204.5 341.8h1M206.5 341.8h1M209.5 341.8h1" stroke="#cb1f27"/><path d="M96.5 204.6h1M353.5 204.6h1M353.5 206.8h1M491.5 206.8h1M494.5 206.8h1M498.5 206.8h1M500.5 206.8h1M199.5 214.3h1M446.5 214.3h1M492.5 214.3h1M96.5 220.7h1M101.5 220.7h1M324.5 220.7h2M490.5 220.7h1M92.5 226h1M95.5 226h1M99.5 226h2M201.5 226h1M325.5 226h1M491.5 226h1M495.5 226h2M350.5 231.4h1M89.5 235.7h1M202.5 235.7h1M405.5 235.7h1M469.5 235.7h1M492.5 235.7h1M170.5 241h1M348.5 241h1M484.5 241h1M490.5 241h1M84.5 242.1h1M202.5 242.1h4M491.5 242.1h1M245.5 243.2h1M453.5 243.2h1M472.5 243.2h1M499.5 243.2h1M97.5 252.8h1M201.5 252.8h1M470.5 252.8h1M491.5 252.8h1M500.5 252.8h1M201.5 253.9h1M351.5 253.9h1M91.5 257.1h2M90.5 259.3h1M92.5 259.3h1M96.5 259.3h3M171.5 259.3h1M241.5 259.3h1M469.5 259.3h1M496.5 259.3h1M100.5 261.4h1M199.5 261.4h1M202.5 261.4h1M204.5 261.4h1M332.5 261.4h1M344.5 261.4h1M147.5 271.1h1M205.5 271.1h1M243.5 271.1h1M355.5 271.1h1M94.5 273.2h1M96.5 273.2h1M204.5 273.2h2M350.5 273.2h1M491.5 273.2h1M88.5 275.3h1M92.5 275.3h1M95.5 275.3h1M100.5 275.3h1M205.5 275.3h1M349.5 275.3h1M491.5 275.3h1M353.5 277.5h1M95.5 279.6h1M97.5 279.6h1M170.5 279.6h1M172.5 279.6h1M200.5 279.6h1M241.5 279.6h1M357.5 279.6h1M211.5 282.8h1M91.5 286.1h1M147.5 286.1h1M246.5 286.1h1M406.5 286.1h1M437.5 286.1h1M171.5 291.4h1M201.5 291.4h1M349.5 291.4h1M351.5 291.4h1M88.5 294.6h1M200.5 294.6h1M243.5 294.6h1M502.5 294.6h1M491.5 295.7h1M205.5 297.9h1M250.5 297.9h1M303.5 297.9h1M453.5 297.9h1M455.5 297.9h1M471.5 297.9h1M98.5 301.1h1M202.5 301.1h1M242.5 301.1h1M245.5 301.1h1M247.5 301.1h1M353.5 301.1h1M453.5 301.1h2M500.5 301.1h1M93.5 303.2h1M352.5 303.2h1M201.5 304.3h1M500.5 304.3h1M148.5 305.4h1M243.5 305.4h1M245.5 305.4h1M327.5 305.4h1M468.5 305.4h1M497.5 305.4h1M352.5 306.4h3M88.5 309.6h1M170.5 309.6h1M173.5 309.6h1M189.5 309.6h1M199.5 309.6h1M241.5 309.6h1M270.5 309.6h1M316.5 309.6h1M355.5 311.8h1M490.5 311.8h1M496.5 311.8h1M171.5 312.9h1M214.5 312.9h1M303.5 312.9h1M497.5 312.9h1M499.5 312.9h1M202.5 315h1M357.5 316.1h1M89.5 317.1h1M350.5 317.1h1M190.5 318.2h2M467.5 318.2h1M91.5 320.4h3M206.5 320.4h1M243.5 320.4h1M500.5 320.4h1M204.5 322.5h2M97.5 323.6h1M207.5 323.6h1M242.5 323.6h1M273.5 323.6h2M490.5 323.6h1M494.5 323.6h1M498.5 323.6h1M500.5 323.6h1M196.5 324.6h1M493.5 324.6h1M356.5 325.7h1M495.5 325.7h1M498.5 325.7h2M495.5 326.8h2M98.5 328.9h2M206.5 328.9h1M208.5 328.9h1M278.5 328.9h1M471.5 328.9h1M497.5 328.9h1M88.5 332.1h1M97.5 332.1h1M452.5 332.1h1M495.5 332.1h1M498.5 332.1h1M351.5 337.5h2M88.5 338.6h1M94.5 338.6h1M494.5 338.6h1M496.5 338.6h1M88.5 341.8h2M94.5 341.8h1M202.5 342.9h1M205.5 342.9h2" stroke="#e51d25"/><path d="M89.5 204.6h1M350.5 204.6h1M352.5 204.6h1M354.5 204.6h1M354.5 206.8h1M200.5 214.3h2M351.5 214.3h2M445.5 214.3h1M98.5 220.7h1M201.5 220.7h1M97.5 226h2M273.5 226h1M352.5 226h1M497.5 226h1M350.5 232.5h1M207.5 235.7h1M486.5 235.7h2M498.5 235.7h1M171.5 241h3M314.5 241h1M470.5 241h1M490.5 242.1h1M246.5 243.2h1M288.5 243.2h1M334.5 243.2h2M352.5 243.2h1M452.5 243.2h1M470.5 243.2h1M473.5 243.2h1M501.5 243.2h1M350.5 250.7h1M170.5 252.8h1M200.5 252.8h1M206.5 252.8h1M208.5 252.8h1M359.5 252.8h1M501.5 252.8h1M203.5 253.9h1M490.5 253.9h1M493.5 253.9h1M94.5 257.1h1M88.5 259.3h1M93.5 259.3h1M270.5 259.3h1M349.5 259.3h1M492.5 259.3h1M96.5 261.4h1M101.5 261.4h1M244.5 261.4h1M345.5 261.4h1M504.5 261.4h1M92.5 264.6h1M353.5 264.6h1M99.5 271.1h1M146.5 271.1h1M169.5 271.1h1M171.5 271.1h1M204.5 271.1h1M209.5 271.1h1M248.5 271.1h1M351.5 271.1h1M90.5 273.2h1M95.5 273.2h1M494.5 273.2h2M271.5 275.3h1M279.5 275.3h1M305.5 275.3h1M435.5 275.3h1M437.5 275.3h1M484.5 275.3h1M495.5 275.3h4M202.5 277.5h1M352.5 277.5h1M204.5 278.6h1M94.5 279.6h1M171.5 279.6h1M322.5 279.6h1M324.5 279.6h1M503.5 279.6h1M208.5 282.8h1M271.5 282.8h1M291.5 282.8h2M358.5 282.8h1M90.5 286.1h1M468.5 286.1h1M203.5 291.4h1M469.5 291.4h1M99.5 294.6h1M201.5 294.6h1M206.5 294.6h1M215.5 294.6h1M242.5 297.9h1M469.5 297.9h1M493.5 297.9h1M92.5 301.1h1M316.5 301.1h1M452.5 301.1h1M499.5 301.1h1M82.5 304.3h1M492.5 304.3h1M170.5 305.4h1M242.5 305.4h1M326.5 305.4h1M469.5 305.4h1M351.5 306.4h1M492.5 306.4h1M497.5 306.4h3M91.5 309.6h1M93.5 309.6h1M171.5 309.6h1M314.5 309.6h1M333.5 309.6h2M501.5 309.6h1M504.5 309.6h1M89.5 311.8h1M491.5 311.8h1M495.5 311.8h1M172.5 312.9h1M493.5 312.9h1M496.5 312.9h1M334.5 316.1h1M489.5 316.1h1M351.5 317.1h1M205.5 318.2h1M348.5 318.2h1M473.5 318.2h1M500.5 318.2h1M90.5 320.4h1M203.5 320.4h1M240.5 320.4h1M171.5 322.5h1M271.5 322.5h1M201.5 323.6h1M244.5 323.6h2M499.5 323.6h1M204.5 324.6h2M495.5 324.6h1M353.5 325.7h3M363.5 325.7h1M435.5 325.7h2M490.5 325.7h1M201.5 326.8h1M204.5 326.8h1M494.5 326.8h1M498.5 326.8h1M501.5 326.8h1M288.5 328.9h1M354.5 328.9h1M495.5 328.9h1M99.5 331.1h1M102.5 331.1h1M207.5 331.1h1M271.5 331.1h1M93.5 332.1h1M196.5 332.1h1M203.5 332.1h1M361.5 332.1h1M468.5 332.1h1M490.5 332.1h1M492.5 332.1h1M88.5 334.3h1M170.5 334.3h1M354.5 334.3h1M91.5 338.6h1M93.5 338.6h1M91.5 341.8h1M207.5 341.8h2M468.5 341.8h1M89.5 342.9h1" stroke="#ef3623"/><path d="M92.5 204.6h1M499.5 206.8h1M351.5 220.7h1M89.5 226h1M202.5 226h1M81.5 232.5h1M86.5 232.5h1M170.5 235.7h1M200.5 235.7h1M208.5 235.7h2M245.5 235.7h1M247.5 235.7h1M271.5 235.7h1M273.5 235.7h1M485.5 235.7h1M94.5 241h1M469.5 241h1M274.5 242.1h2M200.5 243.2h1M357.5 243.2h1M498.5 243.2h1M207.5 252.8h1M493.5 252.8h1M89.5 253.9h1M93.5 257.1h1M349.5 257.1h1M95.5 259.3h1M210.5 259.3h1M490.5 259.3h1M88.5 261.4h1M92.5 261.4h1M205.5 261.4h1M246.5 261.4h1M149.5 271.1h1M172.5 271.1h1M247.5 271.1h1M271.5 271.1h1M469.5 271.1h1M206.5 275.3h1M350.5 277.5h1M203.5 278.6h1M93.5 279.6h1M174.5 279.6h1M206.5 279.6h1M243.5 279.6h1M271.5 279.6h1M356.5 279.6h1M469.5 279.6h1M497.5 279.6h1M200.5 282.8h1M270.5 282.8h1M352.5 282.8h1M359.5 282.8h1M490.5 282.8h1M210.5 286.1h1M90.5 294.6h1M94.5 294.6h1M207.5 294.6h1M209.5 294.6h1M241.5 294.6h1M271.5 294.6h1M361.5 294.6h1M493.5 294.6h1M202.5 295.7h1M91.5 297.9h2M241.5 297.9h1M96.5 301.1h2M276.5 301.1h2M244.5 305.4h1M360.5 305.4h1M92.5 309.6h1M186.5 309.6h1M209.5 309.6h1M246.5 309.6h2M470.5 309.6h1M502.5 309.6h1M201.5 316.1h1M492.5 316.1h1M88.5 318.2h1M96.5 318.2h1M470.5 318.2h1M94.5 320.4h1M200.5 320.4h1M204.5 320.4h1M241.5 320.4h1M360.5 320.4h1M277.5 322.5h1M96.5 323.6h1M204.5 323.6h1M243.5 323.6h1M90.5 324.6h1M198.5 324.6h1M350.5 324.6h1M490.5 324.6h2M494.5 324.6h1M352.5 325.7h1M358.5 325.7h1M349.5 328.9h1M358.5 328.9h1M493.5 331.1h1M94.5 332.1h1M96.5 332.1h1M201.5 332.1h1M353.5 332.1h1M207.5 334.3h1M353.5 334.3h1M201.5 337.5h1M500.5 338.6h1M203.5 341.8h1M92.5 342.9h1" stroke="#f15a22"/><path d="M352.5 206.8h1M355.5 206.8h1M95.5 220.7h1M149.5 220.7h1M200.5 220.7h1M350.5 220.7h1M274.5 226h1M492.5 226h1M80.5 232.5h1M203.5 235.7h1M244.5 235.7h1M89.5 241h1M351.5 242.1h1M209.5 243.2h1M271.5 243.2h1M356.5 243.2h1M471.5 243.2h1M490.5 243.2h1M88.5 252.8h1M91.5 252.8h1M351.5 252.8h1M492.5 253.9h1M94.5 259.3h1M499.5 259.3h1M501.5 259.3h1M206.5 261.4h1M333.5 261.4h1M497.5 261.4h1M203.5 271.1h1M241.5 271.1h1M245.5 271.1h1M352.5 275.3h1M501.5 275.3h1M351.5 277.5h1M173.5 279.6h1M470.5 279.6h1M493.5 279.6h1M502.5 279.6h1M170.5 282.8h1M205.5 282.8h1M210.5 282.8h1M436.5 282.8h1M494.5 282.8h2M146.5 286.1h1M245.5 286.1h1M405.5 286.1h1M434.5 286.1h1M350.5 291.4h1M208.5 294.6h1M408.5 294.6h1M93.5 297.9h1M95.5 297.9h1M351.5 298.9h1M246.5 301.1h1M315.5 301.1h1M350.5 301.1h1M92.5 305.4h1M357.5 305.4h1M89.5 309.6h1M469.5 309.6h1M503.5 309.6h1M209.5 312.9h1M490.5 312.9h1M495.5 312.9h1M493.5 316.1h1M90.5 318.2h1M95.5 318.2h1M97.5 318.2h1M99.5 318.2h1M200.5 318.2h1M351.5 318.2h2M357.5 318.2h1M494.5 318.2h3M88.5 320.4h1M95.5 320.4h1M205.5 320.4h1M244.5 320.4h1M358.5 320.4h1M477.5 320.4h1M93.5 322.5h1M351.5 322.5h1M92.5 323.6h1M95.5 323.6h1M206.5 323.6h1M197.5 324.6h1M95.5 325.7h1M90.5 326.8h1M353.5 326.8h1M97.5 328.9h1M204.5 328.9h1M207.5 328.9h1M472.5 328.9h1M352.5 331.1h1M497.5 331.1h1M95.5 332.1h1M197.5 332.1h1M349.5 332.1h1M352.5 332.1h1M354.5 332.1h1M469.5 332.1h1M496.5 332.1h2M171.5 334.3h1M492.5 334.3h1M93.5 341.8h1M200.5 341.8h1" stroke="#f36e21"/><path d="M93.5 204.6h1M201.5 204.6h1M205.5 204.6h1M351.5 204.6h1M358.5 204.6h1M349.5 206.8h1M491.5 214.3h1M90.5 220.7h1M501.5 220.7h1M351.5 226h1M206.5 235.7h1M272.5 235.7h1M350.5 235.7h1M490.5 235.7h1M95.5 241h1M201.5 242.1h1M350.5 242.1h1M204.5 243.2h1M272.5 243.2h1M289.5 243.2h1M492.5 252.8h1M350.5 253.9h1M209.5 259.3h1M360.5 261.4h1M94.5 271.1h1M170.5 271.1h1M246.5 271.1h1M91.5 275.3h1M96.5 275.3h1M202.5 275.3h1M499.5 275.3h1M242.5 279.6h1M321.5 279.6h1M355.5 279.6h1M501.5 279.6h1M435.5 282.8h1M493.5 282.8h1M496.5 282.8h1M89.5 286.1h1M200.5 286.1h1M435.5 286.1h2M95.5 294.6h1M98.5 294.6h1M349.5 294.6h1M357.5 294.6h1M201.5 295.7h1M94.5 297.9h1M204.5 297.9h1M272.5 297.9h1M491.5 297.9h1M352.5 298.9h1M201.5 301.1h1M275.5 301.1h1M469.5 301.1h1M491.5 304.3h1M350.5 306.4h1M502.5 306.4h1M323.5 309.6h1M492.5 309.6h1M213.5 312.9h1M405.5 312.9h1M494.5 316.1h1M91.5 318.2h1M98.5 318.2h1M100.5 318.2h1M469.5 318.2h1M471.5 318.2h2M497.5 318.2h1M501.5 318.2h1M202.5 320.4h1M249.5 320.4h2M359.5 320.4h1M201.5 322.5h1M350.5 322.5h1M93.5 323.6h1M200.5 323.6h1M487.5 323.6h2M203.5 326.8h1M96.5 328.9h1M490.5 328.9h1M270.5 331.1h1M101.5 332.1h1M358.5 332.1h1M206.5 334.3h1M93.5 337.5h2M350.5 337.5h1M89.5 338.6h2" stroke="#f58220"/><path d="M202.5 204.6h1M201.5 206.8h1M89.5 214.3h1M91.5 220.7h1M99.5 220.7h2M499.5 220.7h1M326.5 226h1M201.5 235.7h1M349.5 235.7h1M201.5 241h1M499.5 241h1M203.5 243.2h1M273.5 243.2h2M349.5 243.2h1M202.5 253.9h1M89.5 259.3h1M200.5 259.3h1M493.5 259.3h1M207.5 261.4h1M361.5 261.4h2M98.5 271.1h1M200.5 271.1h1M353.5 279.6h1M202.5 282.8h1M202.5 291.4h1M96.5 294.6h2M96.5 297.9h1M351.5 297.9h1M493.5 301.1h1M498.5 301.1h1M351.5 304.3h1M500.5 306.4h1M244.5 309.6h1M274.5 309.6h1M315.5 309.6h1M406.5 309.6h1M468.5 309.6h1M95.5 311.8h1M353.5 311.8h2M90.5 312.9h1M92.5 312.9h1M491.5 312.9h1M494.5 312.9h1M91.5 316.1h1M94.5 318.2h1M101.5 318.2h1M204.5 318.2h1M499.5 318.2h1M357.5 320.4h1M478.5 320.4h1M91.5 322.5h1M200.5 322.5h1M94.5 323.6h1M90.5 325.7h2M361.5 325.7h1M272.5 326.8h1M499.5 326.8h1M100.5 328.9h1M88.5 331.1h1M490.5 331.1h1M498.5 331.1h1M357.5 332.1h1M359.5 332.1h2M491.5 338.6h1M493.5 338.6h1M92.5 341.8h1M351.5 341.8h1M90.5 342.9h1" stroke="#f8991b"/><path d="M355.5 204.6h1M492.5 204.6h1M349.5 214.3h2M89.5 220.7h1M92.5 220.7h3M498.5 220.7h1M94.5 226h1M204.5 235.7h2M495.5 241h1M350.5 257.1h1M208.5 259.3h1M495.5 259.3h1M89.5 261.4h1M357.5 261.4h1M496.5 261.4h1M350.5 264.6h1M90.5 271.1h1M99.5 275.3h1M201.5 277.5h1M352.5 279.6h1M205.5 286.1h2M494.5 286.1h1M358.5 294.6h1M407.5 294.6h1M90.5 297.9h1M452.5 297.9h1M470.5 297.9h1M91.5 301.1h1M273.5 301.1h1M492.5 301.1h1M93.5 305.4h1M499.5 305.4h1M491.5 306.4h1M202.5 309.6h1M275.5 309.6h1M405.5 309.6h1M491.5 309.6h1M92.5 311.8h1M350.5 311.8h1M352.5 311.8h1M358.5 311.8h1M93.5 312.9h1M207.5 312.9h2M147.5 318.2h1M359.5 318.2h1M248.5 320.4h1M91.5 323.6h1M205.5 323.6h1M491.5 323.6h1M89.5 324.6h1M359.5 325.7h2M89.5 326.8h1M491.5 326.8h1M493.5 326.8h1M359.5 328.9h1M496.5 331.1h1M90.5 332.1h1M93.5 334.3h1M357.5 334.3h2M202.5 341.8h1M352.5 341.8h1" stroke="#fcb015"/><path d="M493.5 220.7h1M93.5 226h1M499.5 235.7h1M93.5 241h1M494.5 241h1M208.5 243.2h1M497.5 243.2h1M491.5 253.9h1M351.5 259.3h1M491.5 259.3h1M245.5 261.4h1M356.5 261.4h1M148.5 271.1h1M349.5 271.1h1M500.5 275.3h1M88.5 279.6h1M92.5 279.6h1M203.5 279.6h1M354.5 279.6h1M468.5 279.6h1M349.5 282.8h1M92.5 286.1h1M203.5 286.1h2M491.5 294.6h1M97.5 297.9h1M93.5 301.1h1M95.5 301.1h1M272.5 301.1h1M274.5 301.1h1M490.5 301.1h1M494.5 301.1h1M356.5 305.4h1M501.5 306.4h1M187.5 309.6h2M248.5 309.6h1M324.5 309.6h1M349.5 309.6h1M95.5 312.9h1M90.5 316.1h1M93.5 318.2h1M353.5 318.2h1M490.5 318.2h1M498.5 318.2h1M92.5 322.5h1M94.5 325.7h1M351.5 325.7h1M362.5 325.7h1M500.5 326.8h1M353.5 328.9h1M491.5 328.9h1M91.5 331.1h1M349.5 331.1h1M492.5 331.1h1M494.5 331.1h1M202.5 332.1h1M352.5 334.3h1" stroke="#fec714"/><path d="M94.5 204.6h2M500.5 220.7h1M495.5 243.2h1M500.5 259.3h1M201.5 261.4h1M352.5 264.6h1M202.5 271.1h1M97.5 275.3h1M467.5 279.6h1M492.5 279.6h1M492.5 282.8h1M202.5 286.1h1M207.5 286.1h1M491.5 286.1h1M89.5 294.6h1M492.5 294.6h1M203.5 297.9h1M351.5 303.2h1M358.5 305.4h1M505.5 305.4h1M208.5 309.6h1M206.5 312.9h1M92.5 318.2h1M203.5 318.2h1M206.5 318.2h1M358.5 318.2h1M468.5 318.2h1M493.5 318.2h1M89.5 320.4h1M245.5 320.4h1M247.5 320.4h1M496.5 322.5h1M90.5 323.6h1M350.5 326.8h1M360.5 328.9h1M494.5 328.9h1M90.5 331.1h1M92.5 331.1h2M206.5 331.1h1M499.5 331.1h2M491.5 332.1h1M91.5 334.3h1M355.5 334.3h1M492.5 338.6h1" stroke="#ffde1c"/><path d="M357.5 204.6h1M491.5 235.7h1M200.5 241h1M496.5 241h1M205.5 243.2h1M207.5 243.2h1M492.5 243.2h1M496.5 243.2h1M352.5 261.4h1M359.5 261.4h1M491.5 261.4h1M494.5 261.4h1M498.5 261.4h1M351.5 264.6h1M89.5 271.1h1M98.5 275.3h1M201.5 275.3h1M490.5 279.6h1M498.5 279.6h1M500.5 279.6h1M360.5 294.6h1M352.5 301.1h1M89.5 305.4h1M249.5 309.6h1M200.5 312.9h1M349.5 316.1h1M356.5 316.1h1M491.5 316.1h1M490.5 320.4h1M89.5 323.6h1M494.5 325.7h1M202.5 326.8h1M91.5 328.9h1M200.5 328.9h1M362.5 328.9h1M94.5 331.1h1M200.5 331.1h1M501.5 331.1h1M92.5 334.3h1" stroke="#ffe95e"/><path d="M203.5 204.6h1M351.5 206.8h1M492.5 220.7h1M351.5 241h1M90.5 252.8h1M95.5 261.4h1M493.5 261.4h1M91.5 279.6h1M88.5 282.8h1M207.5 282.8h1M209.5 286.1h1M88.5 297.9h1M200.5 297.9h1M497.5 301.1h1M500.5 305.4h3M94.5 312.9h1M352.5 316.1h1M356.5 318.2h1M90.5 322.5h1M492.5 322.5h1M89.5 325.7h1M349.5 325.7h1M101.5 328.9h1M495.5 331.1h1M350.5 334.3h1" stroke="#fff4a0"/><path d="M204.5 204.6h1M356.5 204.6h1M358.5 241h1M351.5 243.2h1M350.5 259.3h1M494.5 259.3h1M93.5 261.4h1M201.5 279.6h2M206.5 282.8h1M208.5 286.1h1M349.5 297.9h1M492.5 297.9h1M90.5 301.1h1M351.5 301.1h1M503.5 305.4h2M91.5 312.9h1M89.5 318.2h1M502.5 318.2h1M246.5 320.4h1M491.5 322.5h1M493.5 322.5h1M92.5 328.9h1M95.5 328.9h1M203.5 328.9h1M352.5 328.9h1M361.5 328.9h1M492.5 328.9h1M351.5 331.1h1M351.5 332.1h1M355.5 332.1h1M351.5 334.3h1M356.5 334.3h1" stroke="#fffbd1"/><path d="M202.5 243.2h1M206.5 243.2h1M491.5 243.2h1M207.5 259.3h1M200.5 261.4h1M95.5 271.1h1M351.5 275.3h1M89.5 279.6h2M350.5 279.6h1M359.5 294.6h1M491.5 301.1h1M495.5 301.1h1M350.5 304.3h1M91.5 305.4h1M496.5 305.4h1M203.5 309.6h1M245.5 309.6h1M88.5 316.1h1M351.5 316.1h1M201.5 320.4h1M92.5 325.7h1M492.5 326.8h1M89.5 328.9h2M89.5 331.1h1M95.5 331.1h1M103.5 332.1h1M356.5 332.1h1M90.5 334.3h1" stroke="#fffde8"/><path d="M350.5 206.8h1M491.5 220.7h1M494.5 220.7h4M90.5 241h3M96.5 241h8M349.5 241h2M352.5 241h6M491.5 241h3M497.5 241h2M201.5 243.2h1M350.5 243.2h1M493.5 243.2h2M89.5 252.8h1M201.5 259.3h6M94.5 261.4h1M208.5 261.4h2M350.5 261.4h2M353.5 261.4h3M358.5 261.4h1M492.5 261.4h1M495.5 261.4h1M499.5 261.4h5M96.5 271.1h2M201.5 271.1h1M350.5 271.1h1M89.5 275.3h2M350.5 275.3h1M204.5 279.6h2M351.5 279.6h1M491.5 279.6h1M499.5 279.6h1M89.5 282.8h12M201.5 282.8h1M350.5 282.8h2M491.5 282.8h1M201.5 286.1h1M349.5 286.1h4M492.5 286.1h2M350.5 294.6h7M89.5 297.9h1M201.5 297.9h2M350.5 297.9h1M94.5 301.1h1M496.5 301.1h1M90.5 305.4h1M349.5 305.4h7M359.5 305.4h1M490.5 305.4h6M200.5 309.6h2M204.5 309.6h4M250.5 309.6h1M350.5 309.6h5M93.5 311.8h2M351.5 311.8h1M201.5 312.9h5M89.5 316.1h1M350.5 316.1h1M353.5 316.1h3M490.5 316.1h1M201.5 318.2h2M349.5 318.2h2M354.5 318.2h2M491.5 318.2h2M349.5 320.4h8M491.5 320.4h9M89.5 322.5h1M494.5 322.5h2M93.5 325.7h1M350.5 325.7h1M491.5 325.7h3M351.5 326.8h2M93.5 328.9h2M201.5 328.9h2M350.5 328.9h2M493.5 328.9h1M96.5 331.1h3M201.5 331.1h5M350.5 331.1h1M491.5 331.1h1M89.5 332.1h1M102.5 332.1h1M350.5 332.1h1M89.5 334.3h1M359.5 334.3h2M490.5 334.3h2M201.5 341.8h1M91.5 342.9h1" stroke="#ffffff"/></g>
<defs><linearGradient id="cb" x1="0" y1="0" x2="0" y2="1"><stop offset="0" stop-color="#ffffff"/><stop offset="0.120" stop-color="#fffac8"/><stop offset="0.255" stop-color="#ffdd15"/><stop offset="0.330" stop-color="#fdb913"/><stop offset="0.450" stop-color="#f58220"/><stop offset="0.550" stop-color="#f15a22"/><stop offset="0.635" stop-color="#ed1c24"/><stop offset="0.720" stop-color="#c12028"/><stop offset="0.8" stop-color="#8e1b1e"/><stop offset="0.880" stop-color="#421414"/><stop offset="0.940" stop-color="#1e0e0e"/><stop offset="1" stop-color="#0a0606"/></linearGradient></defs>
<rect x="540" y="203" width="12.6" height="140.4" fill="url(#cb)"/>
<path d="M85.8 343.6L61.6 361.4M103.8 343.6L155.8 361.4M198 343.6L187.5 361.4M217.4 343.6L282.1 361.4M348 343.6L314.5 361.4M366.1 343.6L408.2 361.4M489 343.6L440.6 361.4M505.8 343.6L534.7 361.4" stroke="#231f20" stroke-width="1.25" stroke-dasharray="5.2 4.2" stroke-dashoffset="3" fill="none"/>
<text x="0.3" y="208.6" font-size="23" font-weight="bold" stroke="#231f20" stroke-width="0.7" stroke-linejoin="round">b</text>
<text x="53.8" y="208.6" font-size="12.8" text-anchor="end">1</text>
<text x="53.6" y="348.3" font-size="12.8" text-anchor="end" textLength="17.6" lengthAdjust="spacingAndGlyphs">131</text>
<text font-size="16" text-anchor="middle" textLength="76.5" lengthAdjust="spacingAndGlyphs" transform="translate(27.7 273.6) rotate(-90)">Single unit</text>
<text x="558.8" y="209.1" font-size="12.8" textLength="15.2" lengthAdjust="spacingAndGlyphs">80</text>
<text x="559.3" y="346.5" font-size="12.8" textLength="7.6" lengthAdjust="spacingAndGlyphs">0</text>
<text font-size="16" text-anchor="middle" textLength="49.5" lengthAdjust="spacingAndGlyphs" transform="translate(575.2 273.6) rotate(90)">FR (Hz)</text>
<rect x="503.6" y="479" width="31.3" height="4.3" fill="#231f20"/>
<text x="493.4" y="499.6" font-size="16" textLength="52.6" lengthAdjust="spacingAndGlyphs">250 ms</text>
<defs><filter id="bl" x="-5%" y="-5%" width="110%" height="110%"><feGaussianBlur stdDeviation="0.75 0.45"/></filter></defs>
<rect x="61.3" y="362" width="94.8" height="112.8" fill="#0a0606"/>
<clipPath id="ic0"><rect x="61.3" y="362" width="94.8" height="112.8"/></clipPath>
<g clip-path="url(#ic0)"><g filter="url(#bl)">
<g stroke-width="1" fill="none"><path d="M72.7 362.4h1.9M80.3 363.3h1.9M95.4 365h3.8M108.7 365h28.4M95.4 365.9h1.9M114.4 365.9h5.7M97.3 366.7h3.8M108.7 366.7h30.3M85.9 367.6h1.9M84.1 371.9h1.9M89.7 373.6h1.9M91.6 374.5h49.3M91.6 375.3h53.1M85.9 376.2h1.9M93.5 376.2h51.2M91.6 377.1h1.9M91.6 377.9h1.9M91.6 378.8h53.1M61.3 379.7h26.5M140.9 379.7h15.2M61.3 380.5h24.6M140.9 380.5h15.2M61.3 381.4h26.5M116.3 381.4h1.9M140.9 381.4h15.2M95.4 382.2h45.5M87.8 383.1h1.9M87.8 384h1.9M93.5 384.8h1.9M87.8 385.7h1.9M104.9 385.7h1.9M87.8 387.4h1.9M104.9 387.4h1.9M87.8 388.3h1.9M93.5 389.1h1.9M89.7 390h1.9M89.7 390.8h1.9M93.5 391.7h1.9M89.7 396h1.9M89.7 398.6h1.9M123.9 398.6h15.2M152.3 398.6h1.9M131.5 399.5h3.8M131.5 400.3h3.8M89.7 401.2h1.9M123.9 401.2h15.2M152.3 401.2h1.9M101.1 402h1.9M104.9 402h3.8M89.7 402.9h1.9M101.1 402.9h7.6M101.1 403.8h1.9M104.9 403.8h3.8M67 404.6h11.4M67 407.2h11.4M89.7 407.2h1.9M91.6 408.1h1.9M97.3 408.1h1.9M103 408.9h3.8M123.9 408.9h1.9M133.3 408.9h1.9M125.8 409.8h1.9M131.5 409.8h3.8M103 410.7h3.8M116.3 410.7h1.9M123.9 410.7h1.9M133.3 410.7h1.9M91.6 411.5h1.9M133.3 411.5h5.7M91.6 412.4h1.9M103 412.4h1.9M131.5 412.4h7.6M97.3 413.2h1.9M91.6 415h1.9M93.5 415.8h1.9M97.3 415.8h1.9M99.2 416.7h45.5M99.2 417.5h43.6M114.4 418.4h5.7M125.8 418.4h3.8M133.3 418.4h1.9M137.1 418.4h3.8M91.6 419.3h1.9M127.7 419.3h1.9M131.5 419.3h1.9M139 419.3h1.9M114.4 420.1h5.7M125.8 420.1h3.8M133.3 420.1h1.9M137.1 420.1h1.9M99.2 421h1.9M80.3 421.8h15.2M101.1 421.8h39.8M68.9 422.7h24.6M93.5 424.4h1.9M95.4 425.3h1.9M99.2 425.3h1.9M95.4 428.7h1.9M101.1 428.7h34.1M103 429.6h41.7M95.4 430.5h1.9M116.3 430.5h5.7M123.9 430.5h3.8M95.4 431.3h1.9M120.1 431.3h5.7M114.4 432.2h7.6M123.9 432.2h3.8M104.9 433h11.4M123.9 433h7.6M104.9 433.9h9.5M127.7 433.9h5.7M137.1 433.9h1.9M97.3 435.6h1.9M127.7 435.6h7.6M129.6 436.5h3.8M97.3 437.3h1.9M127.7 437.3h7.6M99.2 438.2h1.9M106.8 438.2h37.9M97.3 439.1h3.8M104.9 439.1h37.9M104.9 439.9h1.9M129.6 440.8h7.6M133.3 441.6h1.9M129.6 442.5h7.6M101.1 443.4h1.9M108.7 443.4h28.4M97.3 447.7h7.6M112.5 447.7h36M101.1 449.4h3.8M112.5 449.4h15.2M133.3 449.4h1.9M112.5 450.3h1.9M122 450.3h1.9M112.5 451.1h1.9M122 451.1h1.9M99.2 452h5.7M112.5 452h15.2M133.3 452h1.9M108.7 452.8h1.9M133.3 453.7h3.8M133.3 454.6h3.8M99.2 455.4h13.3M118.2 455.4h15.2M120.1 457.1h1.9M97.3 460.6h19M122 460.6h17.1M101.1 461.5h3.8M146.6 461.5h1.9M99.2 463.2h5.7M137.1 463.2h1.9M146.6 463.2h1.9M108.7 464h5.7M135.2 464h9.5M108.7 466.6h7.6M133.3 466.6h11.4M154.2 466.6h1.9M99.2 467.5h26.5M133.3 467.5h7.6M99.2 468.3h30.3M99.2 469.2h30.3M135.2 469.2h3.8M131.5 470.1h3.8M99.2 470.9h34.1M137.1 470.9h9.5M139 472.6h1.9" stroke="#200e0e"/><path d="M80.3 362.4h58.8M74.6 363.3h1.9M68.9 365h7.6M99.2 365h3.8M106.8 365h1.9M137.1 365h5.7M97.3 365.9h3.8M108.7 365.9h5.7M120.1 365.9h19M68.9 366.7h7.6M101.1 366.7h1.9M104.9 366.7h3.8M139 366.7h3.8M85.9 368.5h1.9M82.2 371h1.9M89.7 372.8h1.9M85.9 374.5h1.9M87.8 375.3h1.9M91.6 376.2h1.9M85.9 377.1h1.9M87.8 378.8h1.9M112.5 379.7h7.6M139 379.7h1.9M85.9 380.5h1.9M116.3 380.5h1.9M101.1 381.4h3.8M110.6 381.4h5.7M118.2 381.4h3.8M139 381.4h1.9M91.6 383.1h1.9M103 385.7h1.9M106.8 385.7h1.9M116.3 385.7h3.8M87.8 386.5h1.9M104.9 386.5h1.9M103 387.4h1.9M106.8 387.4h1.9M114.4 387.4h5.7M93.5 388.3h1.9M93.5 390h1.9M93.5 390.8h1.9M89.7 391.7h1.9M89.7 395.2h1.9M95.4 396h47.4M91.6 397.7h3.8M112.5 398.6h1.9M122 398.6h1.9M139 398.6h1.9M150.4 398.6h1.9M154.2 398.6h1.9M89.7 399.5h1.9M125.8 399.5h5.7M135.2 399.5h3.8M89.7 400.3h1.9M123.9 400.3h7.6M135.2 400.3h3.8M112.5 401.2h1.9M122 401.2h1.9M139 401.2h1.9M150.4 401.2h1.9M154.2 401.2h1.9M89.7 404.6h1.9M101.1 404.6h5.7M135.2 404.6h5.7M67 405.5h11.4M67 406.3h11.4M101.1 407.2h5.7M135.2 407.2h5.7M91.6 408.9h1.9M101.1 408.9h1.9M106.8 408.9h1.9M112.5 408.9h11.4M103 409.8h3.8M116.3 409.8h1.9M123.9 409.8h1.9M91.6 410.7h1.9M101.1 410.7h1.9M106.8 410.7h1.9M112.5 410.7h3.8M118.2 410.7h5.7M103 411.5h1.9M129.6 411.5h3.8M104.9 412.4h1.9M129.6 412.4h1.9M91.6 414.1h1.9M120.1 418.4h5.7M135.2 418.4h1.9M114.4 419.3h5.7M125.8 419.3h1.9M133.3 419.3h1.9M137.1 419.3h1.9M112.5 420.1h1.9M120.1 420.1h5.7M135.2 420.1h1.9M99.2 421.8h1.9M93.5 422.7h1.9M93.5 423.6h1.9M99.2 428.7h1.9M97.3 429.6h1.9M101.1 429.6h1.9M110.6 430.5h5.7M127.7 430.5h3.8M114.4 431.3h5.7M125.8 431.3h1.9M110.6 432.2h3.8M127.7 432.2h3.8M131.5 433h1.9M137.1 433h1.9M103 433.9h1.9M133.3 433.9h3.8M99.2 434.8h3.8M104.9 435.6h1.9M118.2 435.6h5.7M125.8 435.6h1.9M135.2 435.6h1.9M97.3 436.5h1.9M127.7 436.5h1.9M133.3 436.5h1.9M104.9 437.3h1.9M118.2 437.3h9.5M135.2 437.3h1.9M104.9 438.2h1.9M101.1 439.1h1.9M99.2 440.8h1.9M106.8 440.8h5.7M127.7 440.8h1.9M129.6 441.6h3.8M135.2 441.6h1.9M99.2 442.5h1.9M106.8 442.5h5.7M127.7 442.5h1.9M106.8 443.4h1.9M97.3 444.2h5.7M97.3 446.8h5.7M104.9 447.7h1.9M110.6 447.7h1.9M97.3 449.4h3.8M104.9 449.4h1.9M110.6 449.4h1.9M135.2 449.4h1.9M101.1 450.3h3.8M114.4 450.3h1.9M120.1 450.3h1.9M123.9 450.3h3.8M101.1 451.1h3.8M114.4 451.1h7.6M123.9 451.1h3.8M133.3 451.1h1.9M97.3 452h1.9M104.9 452h1.9M135.2 452h1.9M112.5 452.8h1.9M106.8 453.7h1.9M125.8 453.7h1.9M131.5 453.7h1.9M103 454.6h7.6M116.3 454.6h1.9M125.8 454.6h7.6M116.3 455.4h1.9M99.2 456.3h3.8M118.2 456.3h5.7M99.2 457.1h3.8M118.2 457.1h1.9M122 457.1h1.9M135.2 458h3.8M135.2 459.7h3.8M116.3 460.6h1.9M120.1 460.6h1.9M97.3 461.5h3.8M104.9 461.5h1.9M110.6 461.5h9.5M123.9 461.5h22.8M99.2 462.3h5.7M137.1 462.3h1.9M146.6 462.3h1.9M97.3 463.2h1.9M104.9 463.2h1.9M110.6 463.2h11.4M123.9 463.2h13.3M139 463.2h7.6M106.8 464h1.9M114.4 464h7.6M127.7 464h7.6M144.7 464h1.9M152.3 464h3.8M135.2 464.9h7.6M108.7 465.8h3.8M135.2 465.8h9.5M106.8 466.6h1.9M116.3 466.6h5.7M129.6 466.6h3.8M144.7 466.6h1.9M152.3 466.6h1.9M125.8 467.5h1.9M131.5 467.5h1.9M133.3 469.2h1.9M61.3 471.8h39.8M142.8 471.8h13.3" stroke="#471415"/><path d="M78.4 362.4h1.9M80.3 364.2h1.9M76.5 365h1.9M103 365h3.8M68.9 365.9h7.6M106.8 365.9h1.9M139 365.9h3.8M76.5 366.7h1.9M103 366.7h1.9M82.2 368.5h1.9M82.2 369.3h1.9M85.9 373.6h1.9M89.7 374.5h1.9M89.7 375.3h1.9M89.7 378.8h1.9M97.3 379.7h15.2M120.1 379.7h1.9M137.1 379.7h1.9M112.5 380.5h3.8M118.2 380.5h1.9M97.3 381.4h3.8M104.9 381.4h5.7M122 381.4h7.6M135.2 381.4h3.8M89.7 382.2h1.9M93.5 382.2h1.9M91.6 384h1.9M93.5 385.7h1.9M114.4 385.7h1.9M120.1 385.7h1.9M106.8 386.5h1.9M116.3 386.5h1.9M120.1 387.4h1.9M135.2 387.4h1.9M89.7 389.1h1.9M91.6 391.7h1.9M106.8 392.6h3.8M118.2 392.6h3.8M106.8 394.3h3.8M118.2 394.3h3.8M110.6 398.6h1.9M114.4 398.6h1.9M148.5 398.6h1.9M123.9 399.5h1.9M152.3 399.5h3.8M139 400.3h1.9M150.4 400.3h5.7M110.6 401.2h1.9M114.4 401.2h1.9M120.1 401.2h1.9M140.9 401.2h1.9M148.5 401.2h1.9M106.8 404.6h1.9M89.7 405.5h1.9M89.7 406.3h1.9M103 406.3h1.9M139 406.3h1.9M99.2 407.2h1.9M106.8 407.2h1.9M99.2 408.9h1.9M108.7 408.9h3.8M91.6 409.8h1.9M101.1 409.8h1.9M106.8 409.8h1.9M112.5 409.8h3.8M118.2 409.8h1.9M122 409.8h1.9M99.2 410.7h1.9M108.7 410.7h3.8M104.9 411.5h1.9M106.8 412.4h1.9M122 412.4h1.9M127.7 412.4h1.9M103 414.1h1.9M101.1 415h3.8M95.4 415.8h1.9M108.7 418.4h1.9M112.5 418.4h1.9M120.1 419.3h5.7M135.2 419.3h1.9M108.7 420.1h3.8M95.4 421h1.9M95.4 421.8h1.9M101.1 424.4h1.9M118.2 424.4h1.9M133.3 424.4h5.7M97.3 425.3h1.9M97.3 428.7h1.9M108.7 430.5h1.9M131.5 430.5h1.9M135.2 430.5h1.9M112.5 431.3h1.9M127.7 431.3h1.9M108.7 432.2h1.9M131.5 432.2h5.7M103 433h1.9M133.3 433h3.8M106.8 435.6h1.9M112.5 435.6h5.7M123.9 435.6h1.9M104.9 436.5h1.9M120.1 436.5h3.8M125.8 436.5h1.9M106.8 437.3h1.9M112.5 437.3h5.7M101.1 438.2h1.9M103 439.1h1.9M125.8 440.8h1.9M99.2 441.6h1.9M106.8 441.6h5.7M127.7 441.6h1.9M101.1 442.5h1.9M125.8 442.5h1.9M103 443.4h1.9M97.3 446h5.7M103 446.8h1.9M99.2 450.3h1.9M116.3 450.3h3.8M133.3 450.3h1.9M99.2 451.1h1.9M135.2 451.1h1.9M106.8 452h1.9M110.6 452h1.9M110.6 452.8h1.9M103 453.7h3.8M108.7 453.7h1.9M116.3 453.7h1.9M127.7 453.7h3.8M99.2 454.6h3.8M118.2 454.6h1.9M112.5 455.4h1.9M97.3 456.3h1.9M97.3 457.1h1.9M103 457.1h1.9M99.2 458h3.8M125.8 458h5.7M135.2 458.9h3.8M99.2 459.7h3.8M125.8 459.7h5.7M133.3 459.7h1.9M118.2 460.6h1.9M97.3 462.3h1.9M104.9 462.3h1.9M110.6 462.3h3.8M118.2 462.3h1.9M123.9 462.3h13.3M139 462.3h7.6M122 463.2h1.9M101.1 464h1.9M104.9 464h1.9M146.6 464h1.9M108.7 464.9h7.6M133.3 464.9h1.9M142.8 464.9h1.9M154.2 464.9h1.9M106.8 465.8h1.9M112.5 465.8h7.6M129.6 465.8h5.7M144.7 465.8h1.9M154.2 465.8h1.9M101.1 466.6h5.7M122 466.6h1.9M125.8 466.6h3.8M146.6 466.6h1.9M129.6 468.3h3.8M129.6 469.2h1.9M133.3 470.9h3.8M101.1 471.8h34.1M139 471.8h3.8M135.2 472.6h1.9M140.9 473.5h1.9M97.3 474.4h3.8M116.3 474.4h3.8M127.7 474.4h1.9M140.9 474.4h1.9" stroke="#821a1c"/><path d="M76.5 364.2h1.9M87.8 365h3.8M76.5 365.9h1.9M101.1 365.9h5.7M85.9 366.7h5.7M82.2 370.2h1.9M85.9 371.9h3.8M87.8 373.6h1.9M87.8 377.9h1.9M95.4 379.7h1.9M122 379.7h15.2M101.1 380.5h5.7M110.6 380.5h1.9M120.1 380.5h1.9M137.1 380.5h3.8M93.5 381.4h3.8M129.6 381.4h5.7M89.7 383.1h1.9M87.8 384.8h1.9M108.7 385.7h1.9M112.5 385.7h1.9M122 385.7h7.6M133.3 385.7h5.7M103 386.5h1.9M114.4 386.5h1.9M118.2 386.5h1.9M93.5 387.4h1.9M108.7 387.4h1.9M112.5 387.4h1.9M122 387.4h7.6M133.3 387.4h1.9M137.1 387.4h1.9M104.9 392.6h1.9M106.8 393.4h1.9M120.1 393.4h1.9M89.7 394.3h1.9M104.9 394.3h1.9M91.6 396h3.8M91.6 396.9h3.8M101.1 398.6h5.7M108.7 398.6h1.9M116.3 398.6h5.7M140.9 398.6h1.9M122 399.5h1.9M139 399.5h1.9M150.4 399.5h1.9M112.5 400.3h1.9M122 400.3h1.9M101.1 401.2h9.5M116.3 401.2h3.8M99.2 404.6h1.9M114.4 404.6h1.9M133.3 404.6h1.9M101.1 405.5h5.7M137.1 405.5h3.8M101.1 406.3h1.9M104.9 406.3h1.9M135.2 406.3h3.8M112.5 407.2h5.7M133.3 407.2h1.9M108.7 409.8h3.8M120.1 409.8h1.9M106.8 411.5h3.8M122 411.5h1.9M127.7 411.5h1.9M108.7 412.4h1.9M120.1 412.4h1.9M123.9 412.4h3.8M93.5 413.2h1.9M101.1 414.1h1.9M104.9 414.1h1.9M104.9 415h1.9M112.5 415h1.9M110.6 418.4h1.9M112.5 419.3h1.9M97.3 421h1.9M97.3 421.8h1.9M97.3 422.7h1.9M101.1 423.6h3.8M118.2 423.6h1.9M133.3 423.6h5.7M103 424.4h3.8M120.1 424.4h1.9M131.5 424.4h1.9M97.3 426.1h3.8M95.4 427.9h1.9M101.1 427.9h1.9M99.2 429.6h1.9M133.3 430.5h1.9M110.6 431.3h1.9M129.6 431.3h1.9M97.3 432.2h1.9M103 435.6h1.9M108.7 435.6h3.8M114.4 436.5h5.7M123.9 436.5h1.9M135.2 436.5h1.9M108.7 437.3h3.8M137.1 437.3h1.9M103 438.2h1.9M101.1 440.8h1.9M122 440.8h3.8M125.8 441.6h1.9M122 442.5h3.8M104.9 443.4h1.9M97.3 445.1h5.7M106.8 448.5h3.8M127.7 449.4h5.7M104.9 450.3h1.9M110.6 450.3h1.9M135.2 450.3h1.9M97.3 451.1h1.9M104.9 451.1h1.9M110.6 451.1h1.9M127.7 452h5.7M99.2 453.7h3.8M114.4 453.7h1.9M118.2 453.7h1.9M97.3 454.6h1.9M110.6 454.6h1.9M114.4 454.6h1.9M114.4 455.4h1.9M103 456.3h1.9M131.5 458h3.8M99.2 458.9h1.9M127.7 458.9h1.9M123.9 459.7h1.9M131.5 459.7h1.9M120.1 461.5h3.8M114.4 462.3h3.8M120.1 462.3h1.9M103 464h1.9M122 464h1.9M125.8 464h1.9M150.4 464h1.9M106.8 464.9h1.9M116.3 464.9h5.7M127.7 464.9h5.7M144.7 464.9h1.9M152.3 464.9h1.9M120.1 465.8h1.9M127.7 465.8h1.9M152.3 465.8h1.9M148.5 466.6h3.8M127.7 467.5h1.9M137.1 471.8h1.9M137.1 472.6h1.9M97.3 473.5h3.8M114.4 473.5h5.7M127.7 473.5h1.9M112.5 474.4h3.8M125.8 474.4h1.9M135.2 474.4h1.9" stroke="#ae1e24"/><path d="M84.1 365h3.8M82.2 367.6h1.9M85.9 372.8h1.9M87.8 376.2h1.9M89.7 377.9h1.9M93.5 379.7h1.9M97.3 380.5h3.8M106.8 380.5h3.8M122 380.5h1.9M87.8 381.4h1.9M110.6 385.7h1.9M129.6 385.7h3.8M93.5 386.5h1.9M120.1 386.5h1.9M110.6 387.4h1.9M129.6 387.4h3.8M91.6 389.1h1.9M91.6 390h1.9M91.6 390.8h1.9M89.7 392.6h1.9M122 392.6h1.9M108.7 393.4h1.9M118.2 393.4h1.9M122 394.3h1.9M99.2 398.6h1.9M106.8 398.6h1.9M146.6 398.6h1.9M112.5 399.5h1.9M114.4 400.3h1.9M99.2 401.2h1.9M142.8 401.2h1.9M146.6 401.2h1.9M91.6 403.8h1.9M108.7 404.6h1.9M112.5 404.6h1.9M116.3 404.6h7.6M135.2 405.5h1.9M108.7 407.2h3.8M118.2 407.2h5.7M99.2 409.8h1.9M120.1 411.5h1.9M123.9 411.5h3.8M110.6 412.4h1.9M118.2 412.4h1.9M95.4 413.2h1.9M99.2 415h1.9M106.8 415h5.7M114.4 415h1.9M97.3 416.7h1.9M108.7 419.3h1.9M93.5 420.1h1.9M95.4 422.7h1.9M104.9 423.6h1.9M120.1 423.6h1.9M131.5 423.6h1.9M116.3 424.4h1.9M122 424.4h1.9M95.4 427h1.9M101.1 427h1.9M103 427.9h1.9M106.8 430.5h1.9M108.7 431.3h1.9M131.5 431.3h1.9M135.2 431.3h1.9M106.8 432.2h1.9M97.3 433.9h1.9M137.1 435.6h1.9M106.8 436.5h1.9M112.5 436.5h1.9M103 437.3h1.9M101.1 439.9h3.8M104.9 440.8h1.9M101.1 441.6h1.9M103 444.2h1.9M108.7 447.7h1.9M106.8 449.4h1.9M97.3 450.3h1.9M108.7 452h1.9M97.3 453.7h1.9M103 458h1.9M123.9 458h1.9M101.1 458.9h1.9M125.8 458.9h1.9M129.6 458.9h1.9M103 459.7h1.9M106.8 459.7h1.9M106.8 461.5h3.8M122 462.3h1.9M106.8 463.2h3.8M148.5 464h1.9M101.1 465.8h1.9M104.9 465.8h1.9M146.6 465.8h1.9M123.9 466.6h1.9M129.6 467.5h1.9M131.5 469.2h1.9M135.2 471.8h1.9M112.5 473.5h1.9M125.8 473.5h1.9M135.2 473.5h1.9M139 473.5h1.9M101.1 474.4h1.9M110.6 474.4h1.9M137.1 474.4h3.8" stroke="#d21e26"/><path d="M87.8 365.9h3.8M97.3 369.3h1.9M97.3 371h1.9M87.8 379.7h1.9M95.4 380.5h1.9M123.9 380.5h7.6M135.2 380.5h1.9M89.7 384h1.9M95.4 385.7h1.9M139 385.7h1.9M108.7 386.5h1.9M112.5 386.5h1.9M122 386.5h1.9M135.2 386.5h1.9M95.4 387.4h1.9M139 387.4h1.9M129.6 392.6h3.8M104.9 393.4h1.9M103 394.3h1.9M110.6 394.3h1.9M116.3 394.3h1.9M129.6 394.3h3.8M93.5 395.2h1.9M142.8 398.6h1.9M110.6 399.5h1.9M114.4 399.5h1.9M148.5 399.5h1.9M110.6 400.3h1.9M120.1 400.3h1.9M148.5 400.3h1.9M97.3 401.2h1.9M144.7 401.2h1.9M91.6 402h1.9M110.6 404.6h1.9M131.5 404.6h1.9M106.8 406.3h1.9M123.9 407.2h1.9M131.5 407.2h1.9M97.3 410.7h1.9M110.6 411.5h1.9M118.2 411.5h1.9M112.5 412.4h5.7M99.2 414.1h1.9M106.8 414.1h9.5M93.5 416.7h1.9M97.3 417.5h1.9M93.5 418.4h1.9M110.6 419.3h1.9M116.3 423.6h1.9M122 423.6h1.9M106.8 424.4h1.9M123.9 424.4h1.9M129.6 424.4h1.9M103 427h1.9M104.9 427.9h1.9M97.3 430.5h1.9M133.3 431.3h1.9M97.3 433h1.9M103 436.5h1.9M123.9 441.6h1.9M104.9 442.5h1.9M103 446h1.9M110.6 446.8h1.9M106.8 447.7h1.9M108.7 449.4h1.9M110.6 453.7h1.9M104.9 457.1h1.9M116.3 457.1h1.9M106.8 458h3.8M112.5 458h1.9M131.5 458.9h3.8M104.9 459.7h1.9M108.7 459.7h5.7M101.1 464.9h1.9M104.9 464.9h1.9M146.6 464.9h1.9M103 465.8h1.9M122 465.8h1.9M101.1 473.5h1.9M110.6 473.5h1.9M103 474.4h1.9M120.1 474.4h1.9M123.9 474.4h1.9M129.6 474.4h1.9" stroke="#ed2324"/><path d="M85.9 365.9h1.9M78.4 366.7h1.9M84.1 366.7h1.9M84.1 367.6h1.9M84.1 368.5h1.9M87.8 374.5h1.9M89.7 376.2h1.9M87.8 380.5h1.9M93.5 380.5h1.9M131.5 380.5h3.8M101.1 385.7h1.9M123.9 386.5h5.7M133.3 386.5h1.9M137.1 386.5h1.9M101.1 387.4h1.9M103 392.6h1.9M110.6 392.6h1.9M116.3 392.6h1.9M89.7 393.4h1.9M127.7 394.3h1.9M97.3 398.6h1.9M144.7 398.6h1.9M120.1 399.5h1.9M140.9 399.5h1.9M103 400.3h1.9M116.3 400.3h1.9M140.9 400.3h1.9M91.6 401.2h1.9M91.6 402.9h1.9M123.9 404.6h1.9M106.8 405.5h1.9M99.2 406.3h1.9M133.3 406.3h1.9M91.6 407.2h1.9M129.6 407.2h1.9M97.3 408.9h1.9M116.3 411.5h1.9M106.8 423.6h1.9M123.9 423.6h1.9M125.8 424.4h1.9M103 430.5h1.9M97.3 431.3h1.9M103 432.2h3.8M139 435.6h1.9M108.7 436.5h3.8M137.1 436.5h1.9M139 437.3h5.7M104.9 441.6h1.9M122 441.6h1.9M103 442.5h1.9M112.5 442.5h5.7M110.6 444.2h1.9M103 445.1h1.9M104.9 446.8h1.9M106.8 451.1h1.9M127.7 451.1h5.7M112.5 453.7h1.9M112.5 454.6h1.9M116.3 456.3h1.9M104.9 458h1.9M110.6 458h1.9M122 458h1.9M123.9 458.9h1.9M114.4 459.7h1.9M122 459.7h1.9M123.9 464h1.9M103 464.9h1.9M122 464.9h1.9M125.8 465.8h1.9M150.4 465.8h1.9M120.1 473.5h1.9M123.9 473.5h1.9M129.6 473.5h1.9M137.1 473.5h1.9M108.7 474.4h1.9M133.3 474.4h1.9" stroke="#f05122"/><path d="M82.2 365h1.9M84.1 365.9h1.9M89.7 371h3.8M87.8 372.8h1.9M91.6 379.7h1.9M91.6 382.2h1.9M91.6 385.7h1.9M110.6 386.5h1.9M129.6 386.5h3.8M89.7 387.4h1.9M89.7 388.3h1.9M127.7 392.6h1.9M122 393.4h1.9M123.9 394.3h3.8M133.3 394.3h1.9M101.1 399.5h5.7M116.3 399.5h1.9M101.1 400.3h1.9M104.9 400.3h5.7M118.2 400.3h1.9M91.6 404.6h1.9M129.6 404.6h1.9M99.2 405.5h1.9M114.4 405.5h1.9M133.3 405.5h1.9M112.5 406.3h5.7M127.7 407.2h1.9M112.5 411.5h3.8M93.5 417.5h1.9M101.1 418.4h3.8M93.5 419.3h1.9M101.1 420.1h5.7M129.6 423.6h1.9M99.2 424.4h1.9M127.7 424.4h1.9M104.9 427h1.9M106.8 427.9h1.9M120.1 427.9h1.9M101.1 430.5h1.9M104.9 430.5h1.9M106.8 431.3h1.9M140.9 435.6h3.8M99.2 437.3h1.9M103 440.8h1.9M112.5 440.8h7.6M118.2 442.5h3.8M106.8 450.3h1.9M127.7 450.3h5.7M123.9 454.6h1.9M104.9 456.3h1.9M112.5 457.1h1.9M114.4 458h1.9M103 458.9h1.9M106.8 462.3h3.8M125.8 464.9h1.9M150.4 464.9h1.9M148.5 465.8h1.9M103 473.5h1.9M108.7 473.5h1.9M104.9 474.4h3.8M122 474.4h1.9" stroke="#f36e21"/><path d="M74.6 362.4h1.9M78.4 363.3h1.9M78.4 364.2h1.9M89.7 369.3h3.8M93.5 371h1.9M91.6 381.4h1.9M89.7 385.7h1.9M91.6 387.4h1.9M123.9 392.6h3.8M133.3 392.6h1.9M91.6 398.6h1.9M95.4 398.6h1.9M106.8 399.5h3.8M118.2 399.5h1.9M99.2 400.3h1.9M95.4 401.2h1.9M99.2 402h1.9M99.2 403.8h1.9M127.7 404.6h1.9M112.5 405.5h1.9M116.3 405.5h1.9M108.7 406.3h1.9M120.1 406.3h3.8M97.3 407.2h1.9M125.8 407.2h1.9M93.5 408.1h1.9M93.5 412.4h1.9M93.5 415h1.9M99.2 418.4h1.9M104.9 418.4h3.8M99.2 420.1h1.9M106.8 420.1h1.9M99.2 423.6h1.9M125.8 423.6h1.9M95.4 424.4h1.9M108.7 424.4h1.9M99.2 427.9h1.9M112.5 427.9h1.9M101.1 432.2h1.9M99.2 435.6h1.9M120.1 440.8h1.9M104.9 444.2h1.9M108.7 444.2h1.9M108.7 446.8h1.9M108.7 451.1h1.9M120.1 454.6h3.8M114.4 457.1h1.9M120.1 458h1.9M106.8 458.9h3.8M120.1 459.7h1.9M148.5 464.9h1.9M123.9 465.8h1.9M133.3 473.5h1.9M131.5 474.4h1.9" stroke="#f6881f"/><path d="M76.5 362.4h1.9M78.4 365h1.9M93.5 369.3h1.9M97.3 370.2h1.9M89.7 377.1h1.9M95.4 386.5h1.9M139 386.5h1.9M103 393.4h1.9M110.6 393.4h1.9M129.6 393.4h3.8M91.6 395.2h1.9M99.2 399.5h1.9M146.6 400.3h1.9M97.3 404.6h1.9M125.8 404.6h1.9M120.1 405.5h3.8M110.6 406.3h1.9M118.2 406.3h1.9M95.4 408.1h1.9M97.3 409.8h1.9M93.5 411.5h1.9M93.5 414.1h1.9M127.7 423.6h1.9M114.4 424.4h1.9M99.2 427h1.9M106.8 427h1.9M120.1 427h1.9M108.7 427.9h3.8M114.4 427.9h1.9M108.7 450.3h1.9M123.9 453.7h1.9M106.8 457.1h1.9M110.6 457.1h1.9M104.9 458.9h1.9M110.6 458.9h3.8M116.3 459.7h1.9M104.9 473.5h3.8M122 473.5h1.9" stroke="#faa418"/><path d="M76.5 363.3h1.9M87.8 369.3h1.9M95.4 371h1.9M91.6 386.5h1.9M101.1 386.5h1.9M116.3 393.4h1.9M101.1 394.3h1.9M146.6 399.5h1.9M142.8 400.3h1.9M97.3 403.8h1.9M108.7 405.5h3.8M118.2 405.5h1.9M93.5 410.7h1.9M99.2 412.4h3.8M95.4 423.6h1.9M108.7 423.6h1.9M112.5 427h1.9M103 431.3h1.9M139 436.5h1.9M101.1 437.3h1.9M103 441.6h1.9M106.8 444.2h1.9M120.1 453.7h3.8M112.5 456.3h1.9M114.4 458.9h1.9M122 458.9h1.9M123.9 464.9h1.9M131.5 473.5h1.9" stroke="#fdc113"/><path d="M78.4 365.9h1.9M82.2 366.7h1.9M95.4 369.3h1.9M87.8 371h1.9M87.8 377.1h1.9M91.6 380.5h1.9M89.7 386.5h1.9M91.6 388.3h1.9M101.1 392.6h1.9M127.7 393.4h1.9M112.5 394.3h3.8M93.5 398.6h1.9M142.8 399.5h1.9M91.6 400.3h1.9M144.7 400.3h1.9M93.5 401.2h1.9M97.3 402h1.9M123.9 406.3h1.9M131.5 406.3h1.9M93.5 408.9h1.9M114.4 423.6h1.9M108.7 427h3.8M114.4 427h1.9M101.1 431.3h1.9M104.9 431.3h1.9M101.1 435.6h1.9M140.9 436.5h3.8M112.5 441.6h5.7M110.6 446h1.9M106.8 446.8h1.9M110.6 456.3h1.9M114.4 456.3h1.9M108.7 457.1h1.9M116.3 458h3.8M118.2 459.7h1.9" stroke="#ffde1c"/><path d="M80.3 366.7h1.9M89.7 370.2h3.8M91.6 384.8h1.9M112.5 392.6h3.8M91.6 399.5h1.9M144.7 399.5h1.9M97.3 400.3h1.9M95.4 404.6h1.9M131.5 405.5h1.9M91.6 406.3h1.9M95.4 407.2h1.9M97.3 415h1.9M95.4 416.7h1.9M101.1 419.3h5.7M97.3 427.9h1.9M116.3 427.9h1.9M101.1 433.9h1.9M99.2 436.5h1.9M118.2 441.6h3.8M104.9 446h1.9M106.8 456.3h1.9" stroke="#ffec6e"/><path d="M89.7 379.7h1.9M89.7 381.4h1.9M97.3 387.4h1.9M123.9 393.4h3.8M133.3 393.4h1.9M97.3 399.5h1.9M99.2 402.9h1.9M91.6 405.5h1.9M123.9 405.5h1.9M129.6 406.3h1.9M99.2 411.5h3.8M99.2 419.3h1.9M106.8 419.3h1.9M110.6 424.4h1.9M118.2 427.9h1.9M99.2 432.2h1.9M101.1 433h1.9M110.6 445.1h1.9M108.7 456.3h1.9M120.1 458.9h1.9" stroke="#fff9c1"/><path d="M82.2 365.9h1.9M93.5 370.2h1.9M97.3 385.7h1.9M99.2 387.4h1.9M99.2 394.3h1.9M129.6 405.5h1.9M95.4 408.9h1.9M95.4 410.7h1.9M97.3 412.4h1.9M97.3 427h1.9M99.2 430.5h1.9M101.1 436.5h1.9M104.9 445.1h1.9" stroke="#fffce2"/><path d="M80.3 365h1.9M80.3 365.9h1.9M84.1 369.3h3.8M84.1 370.2h5.7M95.4 370.2h1.9M84.1 371h3.8M89.7 380.5h1.9M89.7 384.8h1.9M99.2 385.7h1.9M97.3 386.5h3.8M91.6 392.6h9.5M91.6 393.4h11.4M112.5 393.4h3.8M91.6 394.3h7.6M93.5 399.5h3.8M93.5 400.3h3.8M93.5 402h3.8M93.5 402.9h5.7M93.5 403.8h3.8M93.5 404.6h1.9M93.5 405.5h5.7M125.8 405.5h3.8M93.5 406.3h5.7M125.8 406.3h3.8M93.5 407.2h1.9M93.5 409.8h3.8M95.4 411.5h3.8M95.4 412.4h1.9M95.4 414.1h3.8M95.4 415h1.9M95.4 417.5h1.9M95.4 418.4h3.8M95.4 419.3h3.8M95.4 420.1h3.8M97.3 423.6h1.9M110.6 423.6h3.8M97.3 424.4h1.9M112.5 424.4h1.9M116.3 427h3.8M99.2 431.3h1.9M99.2 433h1.9M99.2 433.9h1.9M106.8 445.1h3.8M106.8 446h3.8M116.3 458.9h3.8" stroke="#ffffff"/></g>
</g></g>
<rect x="187.2" y="362" width="95.2" height="112.8" fill="#0a0606"/>
<clipPath id="ic1"><rect x="187.2" y="362" width="95.2" height="112.8"/></clipPath>
<g clip-path="url(#ic1)"><g filter="url(#bl)">
<g stroke-width="1" fill="none"><path d="M215.8 362.4h66.6M210 363.3h1.9M215.8 365h1.9M215.8 365.9h1.9M221.5 366.7h11.4M234.8 366.7h1.9M223.4 367.6h1.9M231 367.6h3.8M223.4 368.5h1.9M231 368.5h5.7M221.5 369.3h11.4M234.8 369.3h1.9M212 370.2h1.9M225.3 370.2h3.8M212 371h1.9M212 371.9h1.9M225.3 371.9h3.8M219.6 372.8h53.3M213.9 373.6h1.9M213.9 374.5h1.9M271 374.5h3.8M276.7 374.5h3.8M213.9 375.3h1.9M271 375.3h9.5M213.9 376.2h1.9M227.2 376.2h5.7M240.5 376.2h7.6M257.6 376.2h5.7M259.6 377.1h1.9M213.9 377.9h1.9M244.3 377.9h1.9M259.6 377.9h1.9M213.9 378.8h1.9M227.2 378.8h5.7M238.6 378.8h9.5M257.6 378.8h5.7M221.5 380.5h1.9M215.8 381.4h1.9M221.5 382.2h1.9M215.8 383.1h1.9M227.2 383.1h3.8M227.2 384h1.9M215.8 384.8h1.9M227.2 384.8h3.8M221.5 385.7h1.9M215.8 387.4h1.9M223.4 387.4h47.6M223.4 388.3h47.6M221.5 390h1.9M215.8 390.8h1.9M215.8 391.7h1.9M215.8 392.6h1.9M215.8 393.4h1.9M276.7 394.3h5.7M272.9 395.2h9.5M217.7 398.6h1.9M217.7 399.5h1.9M223.4 399.5h53.3M223.4 400.3h1.9M232.9 400.3h1.9M240.5 400.3h15.2M263.4 400.3h7.6M225.3 401.2h3.8M231 401.2h3.8M240.5 401.2h5.7M250 401.2h5.7M223.4 402h1.9M232.9 402h1.9M240.5 402h17.1M263.4 402h7.6M225.3 402.9h47.6M217.7 403.8h1.9M223.4 403.8h51.4M225.3 404.6h1.9M274.8 404.6h1.9M225.3 406.3h1.9M274.8 406.3h1.9M227.2 407.2h3.8M238.6 407.2h7.6M253.8 407.2h3.8M269.1 407.2h5.7M242.4 408.1h1.9M271 408.1h3.8M227.2 408.9h3.8M238.6 408.9h9.5M253.8 408.9h5.7M269.1 408.9h5.7M246.2 409.8h1.9M244.3 411.5h3.8M187.2 414.1h30.5M276.7 414.1h5.7M187.2 415.8h30.5M276.7 415.8h5.7M187.2 416.7h30.5M225.3 416.7h57.1M217.7 417.5h1.9M223.4 417.5h1.9M223.4 418.4h55.2M229.1 420.1h3.8M267.2 420.1h3.8M276.7 420.1h1.9M229.1 421h5.7M238.6 421h3.8M267.2 421h1.9M276.7 421h1.9M217.7 422.7h1.9M217.7 423.6h1.9M219.6 424.4h1.9M212 425.3h7.6M225.3 425.3h53.3M225.3 426.1h47.6M219.6 427h1.9M234.8 427.9h3.8M253.8 427.9h7.6M276.7 427.9h1.9M255.7 428.7h3.8M234.8 429.6h3.8M251.9 429.6h9.5M276.7 429.6h1.9M248.1 430.5h3.8M255.7 430.5h1.9M250 431.3h5.7M248.1 432.2h3.8M255.7 432.2h1.9M271 432.2h1.9M221.5 433h1.9M225.3 433h1.9M227.2 433.9h43.8M229.1 434.8h5.7M238.6 434.8h1.9M248.1 434.8h3.8M255.7 434.8h5.7M232.9 435.6h5.7M250 435.6h1.9M253.8 435.6h3.8M229.1 436.5h5.7M238.6 436.5h1.9M248.1 436.5h1.9M255.7 436.5h7.6M221.5 437.3h1.9M244.3 437.3h3.8M272.9 437.3h5.7M221.5 438.2h1.9M244.3 438.2h3.8M271 438.2h9.5M229.1 439.1h43.8M223.4 440.8h1.9M227.2 440.8h1.9M231 441.6h38.1M276.7 442.5h1.9M269.1 444.2h3.8M276.7 444.2h1.9M223.4 445.1h1.9M234.8 446h1.9M225.3 446.8h1.9M232.9 446.8h47.6M232.9 447.7h1.9M229.1 448.5h1.9M232.9 448.5h1.9M223.4 449.4h5.7M236.7 449.4h38.1M221.5 450.3h9.5M263.4 450.3h7.6M278.6 450.3h1.9M263.4 451.1h5.7M221.5 452h9.5M263.4 452h7.6M278.6 452h1.9M223.4 453.7h13.3M238.6 453.7h30.5M225.3 455.4h11.4M242.4 455.4h34.3M225.3 459.7h20.9M250 459.7h28.6M248.1 460.6h1.9M227.2 461.5h22.8M253.8 461.5h13.3M223.4 462.3h28.6M255.7 462.3h19M227.2 464.9h11.4M255.7 464.9h1.9M263.4 466.6h1.9M227.2 467.5h11.4M255.7 467.5h1.9M263.4 467.5h3.8M194.8 470.1h22.8M223.4 470.1h43.8M272.9 470.1h7.6M223.4 470.9h45.7M272.9 470.9h1.9M206.2 471.8h11.4M271 471.8h1.9M244.3 473.5h13.3M248.1 474.4h7.6" stroke="#200e0e"/><path d="M210 364.2h1.9M219.6 366.7h1.9M221.5 367.6h1.9M225.3 367.6h1.9M229.1 367.6h1.9M234.8 367.6h1.9M221.5 368.5h1.9M225.3 368.5h5.7M212 369.3h1.9M219.6 369.3h1.9M219.6 370.2h5.7M229.1 370.2h1.9M234.8 370.2h7.6M225.3 371h3.8M219.6 371.9h5.7M229.1 371.9h1.9M234.8 371.9h7.6M242.4 374.5h3.8M269.1 374.5h1.9M274.8 374.5h1.9M240.5 375.3h5.7M265.3 375.3h5.7M225.3 376.2h1.9M232.9 376.2h7.6M248.1 376.2h1.9M255.7 376.2h1.9M263.4 376.2h1.9M267.2 376.2h5.7M278.6 376.2h1.9M213.9 377.1h1.9M229.1 377.1h3.8M240.5 377.1h7.6M257.6 377.1h1.9M261.5 377.1h1.9M227.2 377.9h5.7M240.5 377.9h3.8M246.2 377.9h1.9M257.6 377.9h1.9M261.5 377.9h1.9M225.3 378.8h1.9M232.9 378.8h5.7M248.1 378.8h1.9M255.7 378.8h1.9M263.4 378.8h9.5M278.6 378.8h1.9M215.8 379.7h1.9M213.9 380.5h1.9M208.1 382.2h9.5M231 383.1h1.9M238.6 383.1h1.9M215.8 384h1.9M229.1 384h1.9M231 384.8h1.9M236.7 384.8h3.8M221.5 388.3h1.9M232.9 390.8h1.9M240.5 390.8h3.8M265.3 390.8h3.8M232.9 393.4h1.9M240.5 393.4h3.8M265.3 393.4h3.8M206.2 394.3h9.5M234.8 394.3h1.9M240.5 394.3h3.8M248.1 394.3h5.7M259.6 394.3h3.8M269.1 394.3h7.6M206.2 395.2h11.4M232.9 395.2h20.9M257.6 395.2h7.6M267.2 395.2h5.7M221.5 396.9h1.9M221.5 397.7h1.9M223.4 398.6h53.3M238.6 400.3h1.9M255.7 400.3h7.6M271 400.3h1.9M223.4 401.2h1.9M246.2 401.2h3.8M255.7 401.2h1.9M263.4 401.2h7.6M234.8 402h1.9M238.6 402h1.9M257.6 402h5.7M271 402h1.9M223.4 402.9h1.9M221.5 403.8h1.9M223.4 404.6h1.9M227.2 404.6h1.9M238.6 404.6h3.8M248.1 404.6h3.8M271 404.6h3.8M225.3 405.5h1.9M274.8 405.5h1.9M217.7 406.3h1.9M223.4 406.3h1.9M227.2 406.3h1.9M236.7 406.3h7.6M246.2 406.3h5.7M255.7 406.3h3.8M263.4 406.3h1.9M271 406.3h3.8M231 407.2h7.6M246.2 407.2h7.6M257.6 407.2h3.8M274.8 407.2h1.9M227.2 408.1h3.8M238.6 408.1h3.8M244.3 408.1h3.8M253.8 408.1h5.7M269.1 408.1h1.9M231 408.9h7.6M248.1 408.9h5.7M259.6 408.9h1.9M267.2 408.9h1.9M274.8 408.9h1.9M244.3 409.8h1.9M248.1 409.8h3.8M265.3 409.8h1.9M244.3 410.7h3.8M217.7 411.5h1.9M242.4 411.5h1.9M248.1 411.5h3.8M263.4 411.5h3.8M225.3 414.1h9.5M244.3 414.1h3.8M261.5 414.1h1.9M271 414.1h1.9M274.8 414.1h1.9M187.2 415h30.5M276.7 415h5.7M225.3 415.8h9.5M242.4 415.8h5.7M259.6 415.8h3.8M269.1 415.8h7.6M217.7 416.7h1.9M223.4 416.7h1.9M227.2 420.1h1.9M232.9 420.1h11.4M248.1 420.1h1.9M217.7 421h1.9M227.2 421h1.9M234.8 421h3.8M242.4 421h1.9M246.2 421h5.7M219.6 421.8h1.9M223.4 421.8h1.9M232.9 423.6h1.9M253.8 423.6h3.8M223.4 424.4h1.9M219.6 425.3h5.7M219.6 426.1h1.9M223.4 426.1h1.9M227.2 427.9h7.6M238.6 427.9h1.9M251.9 427.9h1.9M261.5 427.9h1.9M267.2 427.9h3.8M274.8 427.9h1.9M234.8 428.7h3.8M251.9 428.7h3.8M259.6 428.7h1.9M276.7 428.7h1.9M219.6 429.6h1.9M227.2 429.6h7.6M238.6 429.6h1.9M250 429.6h1.9M261.5 429.6h1.9M267.2 429.6h3.8M274.8 429.6h1.9M246.2 430.5h1.9M265.3 430.5h7.6M248.1 431.3h1.9M255.7 431.3h1.9M271 431.3h1.9M219.6 432.2h1.9M227.2 432.2h1.9M234.8 432.2h3.8M246.2 432.2h1.9M265.3 432.2h5.7M221.5 433.9h1.9M225.3 433.9h1.9M227.2 434.8h1.9M246.2 434.8h1.9M261.5 434.8h7.6M274.8 434.8h1.9M229.1 435.6h3.8M238.6 435.6h1.9M248.1 435.6h1.9M257.6 435.6h5.7M227.2 436.5h1.9M246.2 436.5h1.9M263.4 436.5h7.6M272.9 436.5h3.8M229.1 437.3h3.8M242.4 437.3h1.9M257.6 437.3h3.8M269.1 437.3h3.8M278.6 437.3h1.9M229.1 438.2h5.7M242.4 438.2h1.9M248.1 438.2h1.9M251.9 438.2h9.5M267.2 438.2h3.8M280.5 438.2h1.9M223.4 439.1h1.9M227.2 439.1h1.9M225.3 439.9h1.9M229.1 441.6h1.9M248.1 442.5h1.9M267.2 442.5h9.5M269.1 443.4h3.8M276.7 443.4h1.9M246.2 444.2h3.8M265.3 444.2h3.8M272.9 444.2h3.8M232.9 445.1h3.8M232.9 446h1.9M236.7 446h1.9M242.4 446h7.6M231 446.8h1.9M229.1 449.4h1.9M234.8 449.4h1.9M236.7 450.3h5.7M261.5 450.3h1.9M271 450.3h1.9M276.7 450.3h1.9M221.5 451.1h9.5M269.1 451.1h1.9M278.6 451.1h1.9M236.7 452h5.7M261.5 452h1.9M271 452h1.9M276.7 452h1.9M234.8 452.8h1.9M236.7 453.7h1.9M213.9 454.6h9.5M236.7 454.6h3.8M236.7 455.4h1.9M240.5 455.4h1.9M248.1 459.7h1.9M251.9 462.3h3.8M255.7 463.2h1.9M229.1 464h26.7M259.6 464h9.5M238.6 464.9h7.6M261.5 464.9h1.9M229.1 465.8h7.6M255.7 465.8h1.9M229.1 466.6h9.5M255.7 466.6h1.9M225.3 467.5h1.9M238.6 467.5h7.6M261.5 467.5h1.9M267.2 470.1h1.9M269.1 470.9h1.9M272.9 471.8h1.9M242.4 473.5h1.9M257.6 473.5h9.5M244.3 474.4h3.8M255.7 474.4h3.8" stroke="#471415"/><path d="M210 362.4h1.9M213.9 363.3h1.9M212 365.9h1.9M212 366.7h1.9M227.2 367.6h1.9M219.6 368.5h1.9M231 370.2h3.8M219.6 371h5.7M229.1 371h1.9M238.6 371h3.8M231 371.9h3.8M215.8 372.8h1.9M217.7 373.6h1.9M240.5 374.5h1.9M265.3 374.5h3.8M229.1 375.3h3.8M246.2 375.3h1.9M263.4 375.3h1.9M223.4 376.2h1.9M250 376.2h5.7M265.3 376.2h1.9M227.2 377.1h1.9M238.6 377.1h1.9M238.6 377.9h1.9M255.7 377.9h1.9M269.1 377.9h1.9M223.4 378.8h1.9M250 378.8h5.7M272.9 378.8h1.9M219.6 379.7h1.9M215.8 380.5h1.9M219.6 381.4h1.9M236.7 383.1h1.9M238.6 384h1.9M217.7 385.7h1.9M217.7 386.5h1.9M221.5 386.5h1.9M221.5 387.4h1.9M217.7 389.1h3.8M234.8 390.8h1.9M238.6 390.8h1.9M244.3 390.8h1.9M251.9 390.8h3.8M263.4 390.8h1.9M269.1 390.8h1.9M234.8 393.4h5.7M244.3 393.4h1.9M251.9 393.4h5.7M263.4 393.4h1.9M269.1 393.4h1.9M215.8 394.3h1.9M232.9 394.3h1.9M236.7 394.3h3.8M244.3 394.3h3.8M253.8 394.3h1.9M257.6 394.3h1.9M263.4 394.3h5.7M253.8 395.2h3.8M265.3 395.2h1.9M217.7 396h1.9M219.6 399.5h3.8M217.7 400.3h1.9M234.8 400.3h1.9M272.9 400.3h1.9M238.6 401.2h1.9M257.6 401.2h5.7M271 401.2h1.9M217.7 402h1.9M236.7 402h1.9M272.9 402h3.8M217.7 402.9h1.9M217.7 404.6h1.9M229.1 404.6h1.9M236.7 404.6h1.9M242.4 404.6h5.7M251.9 404.6h15.2M217.7 405.5h1.9M223.4 405.5h1.9M227.2 405.5h1.9M238.6 405.5h3.8M248.1 405.5h1.9M272.9 405.5h1.9M229.1 406.3h1.9M244.3 406.3h1.9M251.9 406.3h3.8M259.6 406.3h3.8M265.3 406.3h1.9M267.2 407.2h1.9M276.7 407.2h1.9M231 408.1h1.9M234.8 408.1h3.8M250 408.1h3.8M274.8 408.1h1.9M217.7 408.9h1.9M276.7 408.9h1.9M217.7 409.8h1.9M242.4 409.8h1.9M251.9 409.8h1.9M257.6 409.8h7.6M217.7 410.7h1.9M248.1 410.7h1.9M251.9 411.5h1.9M257.6 411.5h5.7M278.6 411.5h1.9M223.4 412.4h1.9M217.7 413.2h1.9M223.4 414.1h1.9M242.4 414.1h1.9M248.1 414.1h1.9M257.6 414.1h3.8M263.4 414.1h1.9M267.2 414.1h3.8M272.9 414.1h1.9M225.3 415h7.6M244.3 415h3.8M274.8 415h1.9M223.4 415.8h1.9M248.1 415.8h1.9M257.6 415.8h1.9M263.4 415.8h5.7M219.6 418.4h3.8M219.6 419.3h1.9M223.4 419.3h1.9M217.7 420.1h1.9M244.3 420.1h3.8M250 420.1h1.9M265.3 420.1h1.9M225.3 421h1.9M244.3 421h1.9M257.6 421h3.8M265.3 421h1.9M232.9 422.7h3.8M253.8 422.7h3.8M234.8 423.6h3.8M251.9 423.6h1.9M257.6 423.6h1.9M221.5 424.4h1.9M223.4 427h1.9M219.6 427.9h1.9M250 427.9h1.9M263.4 427.9h3.8M271 427.9h3.8M219.6 428.7h1.9M227.2 428.7h7.6M238.6 428.7h1.9M261.5 428.7h1.9M274.8 428.7h1.9M225.3 429.6h1.9M263.4 429.6h3.8M271 429.6h3.8M219.6 430.5h1.9M227.2 430.5h1.9M232.9 430.5h5.7M257.6 430.5h1.9M263.4 430.5h1.9M246.2 431.3h1.9M265.3 431.3h5.7M229.1 432.2h1.9M232.9 432.2h1.9M238.6 432.2h1.9M257.6 432.2h1.9M263.4 432.2h1.9M223.4 433h1.9M240.5 434.8h1.9M269.1 434.8h5.7M227.2 435.6h1.9M263.4 435.6h3.8M274.8 435.6h1.9M221.5 436.5h1.9M240.5 436.5h1.9M244.3 436.5h1.9M271 436.5h1.9M232.9 437.3h1.9M248.1 437.3h9.5M267.2 437.3h1.9M280.5 437.3h1.9M250 438.2h1.9M261.5 438.2h1.9M265.3 438.2h1.9M196.7 440.8h24.8M225.3 441.6h1.9M240.5 442.5h7.6M250 442.5h1.9M263.4 442.5h3.8M267.2 443.4h1.9M272.9 443.4h3.8M238.6 444.2h7.6M250 444.2h1.9M263.4 444.2h1.9M236.7 445.1h1.9M242.4 445.1h9.5M231 446h1.9M250 446h7.6M269.1 446h3.8M227.2 446.8h1.9M231 448.5h1.9M242.4 450.3h1.9M251.9 450.3h9.5M272.9 450.3h3.8M236.7 451.1h5.7M261.5 451.1h1.9M271 451.1h1.9M276.7 451.1h1.9M231 452h1.9M242.4 452h1.9M251.9 452h9.5M272.9 452h3.8M236.7 452.8h1.9M238.6 455.4h1.9M238.6 456.3h3.8M255.7 457.1h1.9M232.9 458.9h1.9M255.7 458.9h1.9M246.2 459.7h1.9M250 461.5h3.8M253.8 463.2h1.9M257.6 464h1.9M225.3 464.9h1.9M227.2 465.8h1.9M236.7 465.8h1.9M227.2 466.6h1.9M244.3 466.6h1.9M221.5 467.5h3.8M257.6 467.5h3.8M227.2 468.3h1.9M227.2 469.2h3.8M271 470.1h1.9M271 470.9h1.9M272.9 472.6h1.9M236.7 473.5h1.9M240.5 473.5h1.9M267.2 473.5h5.7M242.4 474.4h1.9M259.6 474.4h5.7" stroke="#821a1c"/><path d="M213.9 362.4h1.9M213.9 365.9h1.9M217.7 366.7h1.9M219.6 367.6h1.9M212 368.5h1.9M217.7 369.3h1.9M231 371h7.6M217.7 372.8h1.9M215.8 373.6h1.9M229.1 374.5h3.8M246.2 374.5h1.9M263.4 374.5h1.9M221.5 375.3h1.9M232.9 375.3h1.9M238.6 375.3h1.9M253.8 375.3h3.8M272.9 376.2h1.9M276.7 376.2h1.9M225.3 377.1h1.9M232.9 377.1h1.9M236.7 377.1h1.9M248.1 377.1h1.9M255.7 377.1h1.9M263.4 377.1h1.9M269.1 377.1h1.9M278.6 377.1h1.9M225.3 377.9h1.9M232.9 377.9h5.7M248.1 377.9h1.9M263.4 377.9h1.9M267.2 377.9h1.9M271 377.9h1.9M278.6 377.9h1.9M221.5 378.8h1.9M274.8 378.8h3.8M217.7 381.4h1.9M232.9 383.1h3.8M231 384h1.9M236.7 384h1.9M232.9 384.8h3.8M217.7 388.3h1.9M217.7 390h1.9M229.1 390.8h3.8M236.7 390.8h1.9M246.2 390.8h1.9M250 390.8h1.9M255.7 390.8h1.9M271 390.8h1.9M232.9 391.7h1.9M265.3 391.7h3.8M232.9 392.6h1.9M240.5 392.6h3.8M265.3 392.6h3.8M229.1 393.4h3.8M246.2 393.4h5.7M261.5 393.4h1.9M271 393.4h1.9M255.7 394.3h1.9M231 395.2h1.9M221.5 396h1.9M217.7 396.9h1.9M236.7 400.3h1.9M274.8 400.3h1.9M217.7 401.2h1.9M234.8 401.2h1.9M219.6 403.8h1.9M269.1 404.6h1.9M236.7 405.5h1.9M242.4 405.5h1.9M246.2 405.5h1.9M250 405.5h1.9M255.7 405.5h3.8M263.4 405.5h1.9M271 405.5h1.9M269.1 406.3h1.9M217.7 407.2h1.9M261.5 407.2h1.9M232.9 408.1h1.9M248.1 408.1h1.9M259.6 408.1h1.9M267.2 408.1h1.9M261.5 408.9h1.9M265.3 408.9h1.9M253.8 409.8h3.8M267.2 409.8h1.9M278.6 409.8h3.8M242.4 410.7h1.9M250 410.7h1.9M263.4 410.7h3.8M232.9 411.5h3.8M240.5 411.5h1.9M253.8 411.5h3.8M267.2 411.5h1.9M280.5 411.5h1.9M221.5 413.2h1.9M217.7 414.1h1.9M240.5 414.1h1.9M265.3 414.1h1.9M223.4 415h1.9M232.9 415h1.9M242.4 415h1.9M259.6 415h3.8M269.1 415h5.7M217.7 415.8h1.9M234.8 415.8h1.9M240.5 415.8h1.9M225.3 420.1h1.9M257.6 420.1h3.8M251.9 421h1.9M255.7 421h1.9M261.5 421h3.8M236.7 422.7h1.9M251.9 422.7h1.9M257.6 422.7h1.9M250 423.6h1.9M225.3 427.9h1.9M240.5 427.9h1.9M248.1 427.9h1.9M250 428.7h1.9M267.2 428.7h3.8M272.9 428.7h1.9M240.5 429.6h1.9M248.1 429.6h1.9M225.3 430.5h1.9M229.1 430.5h3.8M238.6 430.5h1.9M219.6 431.3h1.9M227.2 431.3h1.9M234.8 431.3h3.8M263.4 431.3h1.9M225.3 432.2h1.9M231 432.2h1.9M244.3 432.2h1.9M242.4 434.8h3.8M246.2 435.6h1.9M267.2 435.6h7.6M242.4 436.5h1.9M227.2 437.3h1.9M261.5 437.3h1.9M265.3 437.3h1.9M227.2 438.2h1.9M234.8 438.2h1.9M240.5 438.2h1.9M263.4 438.2h1.9M225.3 439.1h1.9M225.3 440.8h1.9M227.2 441.6h1.9M238.6 442.5h1.9M251.9 442.5h1.9M246.2 443.4h3.8M265.3 443.4h1.9M221.5 444.2h1.9M236.7 444.2h1.9M251.9 444.2h1.9M261.5 444.2h1.9M231 445.1h1.9M251.9 445.1h5.7M269.1 445.1h3.8M238.6 446h3.8M257.6 446h1.9M267.2 446h1.9M272.9 446h1.9M229.1 447.7h1.9M232.9 449.4h1.9M231 450.3h1.9M234.8 450.3h1.9M244.3 450.3h1.9M250 450.3h1.9M242.4 451.1h1.9M253.8 451.1h3.8M272.9 451.1h1.9M244.3 452h1.9M250 452h1.9M232.9 457.1h1.9M257.6 458.9h1.9M271 458.9h1.9M255.7 464h1.9M221.5 464.9h3.8M253.8 464.9h1.9M257.6 464.9h3.8M238.6 465.8h1.9M242.4 465.8h3.8M261.5 465.8h1.9M238.6 466.6h5.7M261.5 466.6h1.9M251.9 467.5h3.8M229.1 468.3h1.9M231 469.2h1.9M263.4 469.2h1.9M269.1 470.1h1.9M274.8 472.6h1.9M234.8 473.5h1.9M238.6 473.5h1.9M272.9 473.5h1.9M280.5 473.5h1.9M265.3 474.4h7.6" stroke="#ae1e24"/><path d="M212 365h3.8M212 367.6h1.9M217.7 370.2h1.9M213.9 371.9h1.9M221.5 374.5h1.9M238.6 374.5h1.9M253.8 374.5h3.8M219.6 375.3h1.9M223.4 375.3h1.9M227.2 375.3h1.9M248.1 375.3h5.7M257.6 375.3h1.9M261.5 375.3h1.9M221.5 376.2h1.9M274.8 376.2h1.9M234.8 377.1h1.9M265.3 377.1h3.8M271 377.1h1.9M250 377.9h1.9M265.3 377.9h1.9M219.6 385.7h1.9M248.1 390.8h1.9M257.6 390.8h1.9M261.5 390.8h1.9M240.5 391.7h3.8M238.6 392.6h1.9M244.3 392.6h1.9M269.1 392.6h1.9M227.2 393.4h1.9M257.6 393.4h1.9M231 394.3h1.9M217.7 397.7h1.9M219.6 398.6h3.8M236.7 401.2h1.9M272.9 401.2h1.9M234.8 404.6h1.9M267.2 404.6h1.9M229.1 405.5h1.9M244.3 405.5h1.9M251.9 405.5h3.8M259.6 405.5h3.8M265.3 405.5h1.9M231 406.3h1.9M234.8 406.3h1.9M267.2 406.3h1.9M265.3 407.2h1.9M217.7 408.1h1.9M276.7 408.1h1.9M225.3 408.9h1.9M263.4 408.9h1.9M231 409.8h5.7M240.5 409.8h1.9M276.7 409.8h1.9M251.9 410.7h1.9M257.6 410.7h5.7M231 411.5h1.9M276.7 411.5h1.9M234.8 414.1h1.9M248.1 415h1.9M257.6 415h1.9M263.4 415h1.9M267.2 415h1.9M255.7 415.8h1.9M251.9 420.1h1.9M255.7 420.1h1.9M261.5 420.1h3.8M223.4 421h1.9M253.8 421h1.9M250 422.7h1.9M219.6 423.6h1.9M246.2 423.6h3.8M221.5 426.1h1.9M221.5 427h1.9M225.3 428.7h1.9M263.4 428.7h3.8M271 428.7h1.9M244.3 430.5h1.9M225.3 431.3h1.9M232.9 431.3h1.9M238.6 431.3h1.9M257.6 431.3h1.9M240.5 432.2h1.9M261.5 432.2h1.9M223.4 433.9h1.9M221.5 434.8h1.9M240.5 435.6h1.9M234.8 437.3h1.9M240.5 437.3h1.9M263.4 437.3h1.9M221.5 442.5h1.9M234.8 442.5h3.8M261.5 442.5h1.9M240.5 443.4h5.7M250 443.4h1.9M263.4 443.4h1.9M232.9 444.2h3.8M240.5 445.1h1.9M257.6 445.1h1.9M272.9 445.1h1.9M259.6 446h1.9M229.1 446.8h1.9M231 447.7h1.9M231 449.4h1.9M246.2 450.3h3.8M231 451.1h1.9M251.9 451.1h1.9M257.6 451.1h3.8M274.8 451.1h1.9M232.9 452h3.8M246.2 452h3.8M234.8 457.1h1.9M253.8 457.1h1.9M257.6 457.1h1.9M271 457.1h1.9M255.7 458h1.9M234.8 458.9h1.9M253.8 458.9h1.9M246.2 464.9h1.9M251.9 464.9h1.9M225.3 465.8h1.9M240.5 465.8h1.9M225.3 466.6h1.9M257.6 466.6h3.8M246.2 467.5h5.7M231 468.3h1.9M263.4 468.3h1.9M269.1 468.3h1.9M232.9 469.2h1.9M253.8 469.2h1.9M261.5 469.2h1.9M265.3 469.2h1.9M269.1 469.2h1.9M223.4 473.5h7.6M236.7 474.4h1.9M240.5 474.4h1.9" stroke="#d21e26"/><path d="M212 363.3h1.9M213.9 364.2h1.9M217.7 371.9h1.9M219.6 374.5h1.9M227.2 374.5h1.9M232.9 374.5h1.9M248.1 374.5h5.7M257.6 374.5h1.9M261.5 374.5h1.9M225.3 375.3h1.9M234.8 375.3h1.9M259.6 375.3h1.9M250 377.1h1.9M253.8 377.1h1.9M223.4 377.9h1.9M251.9 377.9h3.8M215.8 378.8h1.9M232.9 384h3.8M219.6 388.3h1.9M227.2 390.8h1.9M259.6 390.8h1.9M238.6 391.7h1.9M244.3 391.7h1.9M253.8 391.7h1.9M263.4 391.7h1.9M269.1 391.7h1.9M234.8 392.6h1.9M251.9 392.6h3.8M263.4 392.6h1.9M217.7 393.4h1.9M259.6 393.4h1.9M217.7 395.2h1.9M221.5 400.3h1.9M274.8 401.2h1.9M221.5 402h1.9M221.5 402.9h1.9M231 404.6h1.9M269.1 405.5h1.9M225.3 407.2h1.9M263.4 407.2h1.9M261.5 408.1h1.9M229.1 409.8h1.9M236.7 409.8h1.9M253.8 410.7h3.8M267.2 410.7h1.9M278.6 410.7h3.8M229.1 411.5h1.9M236.7 411.5h3.8M219.6 412.4h1.9M255.7 414.1h1.9M217.7 415h1.9M265.3 415h1.9M238.6 415.8h1.9M250 415.8h1.9M219.6 416.7h1.9M223.4 420.1h1.9M253.8 420.1h1.9M221.5 421.8h1.9M219.6 422.7h1.9M248.1 422.7h1.9M238.6 423.6h1.9M244.3 423.6h1.9M259.6 423.6h1.9M242.4 427.9h1.9M246.2 427.9h1.9M240.5 428.7h1.9M242.4 429.6h1.9M246.2 429.6h1.9M240.5 430.5h1.9M261.5 430.5h1.9M229.1 431.3h3.8M242.4 432.2h1.9M259.6 432.2h1.9M221.5 435.6h1.9M244.3 435.6h1.9M236.7 438.2h1.9M223.4 442.5h1.9M232.9 442.5h1.9M259.6 442.5h1.9M238.6 443.4h1.9M223.4 444.2h1.9M253.8 444.2h1.9M259.6 444.2h1.9M238.6 445.1h1.9M267.2 445.1h1.9M234.8 451.1h1.9M244.3 451.1h1.9M250 451.1h1.9M231 457.1h1.9M269.1 457.1h1.9M232.9 458h1.9M231 458.9h1.9M269.1 458.9h1.9M248.1 464.9h3.8M257.6 465.8h1.9M261.5 468.3h1.9M234.8 469.2h3.8M244.3 469.2h3.8M251.9 469.2h1.9M267.2 469.2h1.9M231 473.5h3.8M278.6 473.5h1.9M234.8 474.4h1.9M238.6 474.4h1.9M272.9 474.4h1.9" stroke="#ed2324"/><path d="M217.7 368.5h1.9M213.9 370.2h1.9M223.4 374.5h1.9M259.6 374.5h1.9M215.8 375.3h1.9M236.7 375.3h1.9M223.4 377.1h1.9M251.9 377.1h1.9M272.9 377.9h1.9M276.7 377.9h1.9M217.7 379.7h1.9M219.6 380.5h1.9M225.3 384.8h1.9M219.6 390h1.9M217.7 390.8h1.9M223.4 390.8h3.8M234.8 391.7h1.9M251.9 391.7h1.9M231 392.6h1.9M236.7 392.6h1.9M246.2 392.6h1.9M250 392.6h1.9M255.7 392.6h1.9M223.4 393.4h3.8M229.1 395.2h1.9M219.6 396.9h1.9M232.9 406.3h1.9M265.3 408.1h1.9M223.4 408.9h1.9M238.6 409.8h1.9M232.9 410.7h3.8M240.5 410.7h1.9M227.2 411.5h1.9M269.1 411.5h1.9M236.7 414.1h3.8M250 414.1h1.9M234.8 415h1.9M240.5 415h1.9M236.7 415.8h1.9M238.6 422.7h1.9M244.3 422.7h3.8M259.6 422.7h1.9M242.4 423.6h1.9M244.3 427.9h1.9M248.1 428.7h1.9M244.3 429.6h1.9M242.4 430.5h1.9M259.6 430.5h1.9M244.3 431.3h1.9M242.4 435.6h1.9M238.6 438.2h1.9M253.8 442.5h1.9M257.6 442.5h1.9M221.5 443.4h1.9M236.7 443.4h1.9M251.9 443.4h1.9M261.5 443.4h1.9M231 444.2h1.9M255.7 444.2h3.8M259.6 445.1h1.9M225.3 446h1.9M261.5 446h1.9M265.3 446h1.9M232.9 450.3h1.9M257.6 458h1.9M271 458h1.9M259.6 465.8h1.9M221.5 466.6h3.8M253.8 466.6h1.9M232.9 468.3h3.8M253.8 468.3h1.9M267.2 468.3h1.9M238.6 469.2h5.7M248.1 469.2h3.8M255.7 469.2h1.9M259.6 469.2h1.9M225.3 474.4h3.8M280.5 474.4h1.9" stroke="#f05122"/><path d="M217.7 367.6h1.9M217.7 371h1.9M215.8 374.5h1.9M225.3 374.5h1.9M234.8 374.5h3.8M215.8 376.2h1.9M219.6 376.2h1.9M272.9 377.1h1.9M276.7 377.1h1.9M221.5 377.9h1.9M219.6 378.8h1.9M219.6 382.2h1.9M223.4 383.1h3.8M223.4 384.8h1.9M219.6 386.5h1.9M217.7 387.4h1.9M231 391.7h1.9M236.7 391.7h1.9M246.2 391.7h1.9M250 391.7h1.9M255.7 391.7h1.9M229.1 392.6h1.9M248.1 392.6h1.9M271 392.6h1.9M217.7 394.3h1.9M221.5 401.2h1.9M221.5 404.6h1.9M232.9 404.6h1.9M234.8 405.5h1.9M267.2 405.5h1.9M221.5 406.3h1.9M223.4 407.2h1.9M227.2 409.8h1.9M269.1 409.8h1.9M231 410.7h1.9M276.7 410.7h1.9M274.8 411.5h1.9M221.5 416.7h1.9M219.6 417.5h1.9M221.5 419.3h1.9M240.5 423.6h1.9M272.9 423.6h1.9M225.3 434.8h1.9M225.3 436.5h1.9M236.7 437.3h1.9M231 442.5h1.9M255.7 442.5h1.9M234.8 443.4h1.9M246.2 451.1h3.8M236.7 457.1h1.9M259.6 457.1h1.9M234.8 458h1.9M253.8 458h1.9M223.4 458.9h1.9M236.7 458.9h1.9M259.6 458.9h1.9M267.2 458.9h1.9M221.5 465.8h3.8M253.8 465.8h1.9M236.7 468.3h1.9M242.4 468.3h7.6M251.9 468.3h1.9M255.7 468.3h1.9M265.3 468.3h1.9M257.6 469.2h1.9M274.8 473.5h1.9M223.4 474.4h1.9M229.1 474.4h1.9" stroke="#f36e21"/><path d="M212 364.2h1.9M213.9 371h1.9M221.5 377.1h1.9M274.8 377.9h1.9M217.7 384.8h1.9M221.5 390.8h1.9M229.1 391.7h1.9M248.1 391.7h1.9M271 391.7h1.9M261.5 392.6h1.9M221.5 393.4h1.9M229.1 394.3h1.9M219.6 396h1.9M219.6 397.7h1.9M231 405.5h1.9M225.3 408.1h1.9M263.4 408.1h1.9M274.8 409.8h1.9M229.1 410.7h1.9M236.7 410.7h1.9M255.7 415h1.9M253.8 415.8h1.9M221.5 417.5h1.9M242.4 422.7h1.9M240.5 431.3h1.9M261.5 431.3h1.9M238.6 437.3h1.9M223.4 438.2h1.9M223.4 443.4h1.9M232.9 443.4h1.9M225.3 445.1h1.9M261.5 445.1h1.9M265.3 445.1h1.9M229.1 446h1.9M263.4 446h1.9M232.9 451.1h1.9M223.4 457.1h1.9M267.2 457.1h1.9M251.9 465.8h1.9M246.2 466.6h1.9M251.9 466.6h1.9M238.6 468.3h3.8M250 468.3h1.9M259.6 468.3h1.9M276.7 473.5h1.9M232.9 474.4h1.9M278.6 474.4h1.9" stroke="#f6881f"/><path d="M212 362.4h1.9M274.8 377.1h1.9M217.7 380.5h1.9M217.7 382.2h1.9M221.5 383.1h1.9M221.5 384.8h1.9M261.5 391.7h1.9M217.7 392.6h1.9M227.2 392.6h1.9M257.6 392.6h1.9M219.6 402.9h1.9M238.6 410.7h1.9M219.6 413.2h1.9M253.8 414.1h1.9M240.5 422.7h1.9M229.1 423.6h3.8M261.5 423.6h1.9M223.4 427.9h1.9M242.4 428.7h1.9M246.2 428.7h1.9M223.4 429.6h1.9M259.6 431.3h1.9M225.3 438.2h1.9M253.8 443.4h1.9M259.6 443.4h1.9M225.3 444.2h1.9M229.1 445.1h1.9M244.3 457.1h1.9M231 458h1.9M269.1 458h1.9M246.2 465.8h1.9M248.1 466.6h3.8M257.6 468.3h1.9M231 474.4h1.9" stroke="#faa418"/><path d="M215.8 366.7h1.9M215.8 377.9h1.9M217.7 383.1h1.9M217.7 391.7h1.9M227.2 391.7h1.9M257.6 391.7h1.9M259.6 392.6h1.9M223.4 395.2h1.9M219.6 400.3h1.9M219.6 402h1.9M221.5 405.5h1.9M271 409.8h3.8M225.3 411.5h1.9M271 411.5h3.8M221.5 412.4h1.9M221.5 414.1h1.9M236.7 415h3.8M250 415h1.9M221.5 415.8h1.9M251.9 415.8h1.9M219.6 421h1.9M272.9 422.7h1.9M244.3 428.7h1.9M242.4 431.3h1.9M221.5 432.2h1.9M223.4 437.3h3.8M257.6 443.4h1.9M263.4 445.1h1.9M251.9 457.1h1.9M238.6 458.9h1.9M242.4 458.9h3.8M251.9 458.9h1.9M261.5 458.9h1.9M265.3 458.9h1.9M248.1 465.8h1.9" stroke="#fdc113"/><path d="M217.7 375.3h1.9M215.8 377.1h1.9M225.3 384h1.9M219.6 387.4h1.9M259.6 391.7h1.9M225.3 395.2h1.9M219.6 404.6h1.9M232.9 405.5h1.9M219.6 406.3h1.9M223.4 408.1h1.9M225.3 409.8h1.9M227.2 410.7h1.9M269.1 410.7h1.9M251.9 414.1h1.9M231 422.7h1.9M261.5 422.7h1.9M227.2 423.6h1.9M271 423.6h1.9M221.5 429.6h1.9M223.4 430.5h1.9M223.4 432.2h1.9M225.3 435.6h1.9M223.4 436.5h1.9M225.3 442.5h1.9M229.1 442.5h1.9M231 443.4h1.9M255.7 443.4h1.9M229.1 444.2h1.9M227.2 446h1.9M238.6 457.1h1.9M261.5 457.1h1.9M265.3 457.1h1.9M250 465.8h1.9M274.8 474.4h1.9" stroke="#ffde1c"/><path d="M215.8 369.3h1.9M215.8 371.9h1.9M217.7 374.5h1.9M223.4 384h1.9M223.4 392.6h3.8M274.8 410.7h1.9M221.5 421h1.9M229.1 422.7h1.9M225.3 423.6h1.9M221.5 430.5h1.9M242.4 457.1h1.9M236.7 458h1.9M259.6 458h1.9M240.5 458.9h1.9M263.4 458.9h1.9" stroke="#ffec6e"/><path d="M215.8 370.2h1.9M219.6 377.9h1.9M217.7 378.8h1.9M217.7 384h1.9M223.4 391.7h1.9M223.4 394.3h1.9M219.6 401.2h1.9M219.6 415.8h1.9M219.6 420.1h1.9M221.5 427.9h1.9M223.4 434.8h1.9M246.2 457.1h1.9M263.4 457.1h1.9M223.4 458h1.9M267.2 458h1.9M229.1 458.9h1.9M246.2 458.9h1.9M276.7 474.4h1.9" stroke="#fff9c1"/><path d="M217.7 376.2h1.9M219.6 377.1h1.9M221.5 384h1.9M225.3 391.7h1.9M219.6 393.4h1.9M225.3 394.3h1.9M227.2 395.2h1.9M219.6 405.5h1.9M219.6 414.1h1.9M221.5 415h1.9M221.5 420.1h1.9M227.2 422.7h1.9M271 422.7h1.9M263.4 423.6h1.9M223.4 428.7h1.9M227.2 444.2h1.9M227.2 445.1h1.9" stroke="#fffce2"/><path d="M213.9 366.7h1.9M213.9 367.6h3.8M213.9 368.5h3.8M213.9 369.3h1.9M215.8 371h1.9M217.7 377.1h1.9M217.7 377.9h1.9M219.6 383.1h1.9M219.6 384h1.9M219.6 384.8h1.9M219.6 390.8h1.9M219.6 391.7h3.8M219.6 392.6h3.8M219.6 394.3h3.8M227.2 394.3h1.9M219.6 395.2h3.8M219.6 407.2h3.8M219.6 408.1h3.8M219.6 408.9h3.8M219.6 409.8h5.7M219.6 410.7h7.6M271 410.7h3.8M219.6 411.5h5.7M219.6 415h1.9M251.9 415h3.8M221.5 422.7h5.7M263.4 422.7h7.6M221.5 423.6h3.8M265.3 423.6h5.7M221.5 428.7h1.9M221.5 431.3h3.8M223.4 435.6h1.9M227.2 442.5h1.9M225.3 443.4h5.7M225.3 457.1h5.7M240.5 457.1h1.9M248.1 457.1h3.8M225.3 458h5.7M238.6 458h15.2M261.5 458h5.7M225.3 458.9h3.8M248.1 458.9h3.8" stroke="#ffffff"/></g>
</g></g>
<rect x="314.2" y="362" width="94.3" height="112.8" fill="#0a0606"/>
<clipPath id="ic2"><rect x="314.2" y="362" width="94.3" height="112.8"/></clipPath>
<g clip-path="url(#ic2)"><g filter="url(#bl)">
<g stroke-width="1" fill="none"><path d="M333.1 363.3h1.9M340.6 363.3h62.2M340.6 364.2h3.8M391.5 364.2h1.9M395.3 364.2h3.8M391.5 365h5.7M342.5 365.9h1.9M391.5 365.9h1.9M397.2 365.9h1.9M336.8 369.3h1.9M342.5 371h1.9M351.9 371.9h3.8M361.4 371.9h11.3M374.6 371.9h5.7M385.9 371.9h5.7M351.9 372.8h1.9M355.7 372.8h9.4M370.8 372.8h5.7M351.9 373.6h15.1M370.8 373.6h5.7M353.8 374.5h1.9M361.4 374.5h9.4M374.6 374.5h7.5M385.9 374.5h5.7M346.3 375.3h54.7M340.6 377.1h1.9M340.6 377.9h1.9M365.1 379.7h1.9M340.6 381.4h1.9M351.9 381.4h1.9M363.2 381.4h3.8M387.8 381.4h3.8M351.9 382.2h3.8M361.4 382.2h7.5M363.2 383.1h5.7M340.6 384h1.9M351.9 384h3.8M361.4 384h7.5M346.3 384.8h1.9M314.2 385.7h28.3M387.8 385.7h20.7M314.2 386.5h26.4M395.3 386.5h13.2M314.2 387.4h26.4M395.3 387.4h13.2M340.6 388.3h1.9M361.4 388.3h3.8M368.9 388.3h3.8M384 388.3h11.3M340.6 389.1h1.9M346.3 389.1h1.9M342.5 390h1.9M342.5 390.8h1.9M348.1 391.7h52.8M348.1 392.6h1.9M367 393.4h5.7M374.6 393.4h3.8M350 394.3h3.8M355.7 394.3h5.7M367 394.3h3.8M376.4 394.3h1.9M342.5 395.2h1.9M350 396h47.2M314.2 396.9h30.2M350 396.9h58.5M342.5 397.7h1.9M348.1 397.7h1.9M348.1 398.6h1.9M348.1 399.5h1.9M314.2 402h17M399.1 402h9.4M314.2 402.9h30.2M350 402.9h58.5M348.1 403.8h1.9M344.4 406.3h1.9M350 406.3h45.3M336.8 407.2h5.7M350 407.2h1.9M334.9 408.1h9.4M368.9 408.1h7.5M395.3 408.1h1.9M334.9 408.9h9.4M334.9 409.8h9.4M368.9 409.8h7.5M395.3 409.8h1.9M359.5 410.7h17M385.9 410.7h7.5M367 411.5h7.5M357.6 412.4h18.9M384 412.4h9.4M350 414.1h1.9M346.3 415h1.9M350 415h1.9M329.3 415.8h7.5M346.3 415.8h1.9M350 415.8h1.9M351.9 416.7h47.2M380.2 417.5h1.9M387.8 417.5h3.8M344.4 419.3h1.9M374.6 419.3h7.5M387.8 419.3h3.8M351.9 420.1h52.8M346.3 421h1.9M351.9 421h1.9M348.1 421.8h1.9M353.8 421.8h45.3M346.3 422.7h1.9M355.7 423.6h3.8M348.1 424.4h1.9M353.8 425.3h35.8M350 426.1h1.9M353.8 426.1h1.9M350 427h1.9M353.8 427h1.9M370.8 427.9h7.5M370.8 428.7h7.5M389.6 428.7h1.9M357.6 429.6h50.9M350 430.5h3.8M359.5 430.5h26.4M353.8 431.3h1.9M357.6 431.3h1.9M350 433h5.7M359.5 433h39.6M350 436.5h1.9M361.4 436.5h1.9M351.9 437.3h3.8M365.1 437.3h39.6M350 438.2h7.5M367 438.2h41.5M350 439.1h11.3M365.1 439.1h35.8M353.8 440.8h3.8M357.6 441.6h1.9M355.7 442.5h3.8M368.9 442.5h1.9M353.8 443.4h3.8M384 444.2h1.9M382.1 446h3.8M393.4 446h1.9M348.1 446.8h13.2M389.6 446.8h3.8M348.1 448.5h13.2M389.6 448.5h3.8M372.7 449.4h1.9M380.2 450.3h3.8M399.1 450.3h1.9M365.1 452h3.8M380.2 452h3.8M399.1 452h1.9M350 452.8h26.4M382.1 452.8h20.7M351.9 453.7h1.9M355.7 453.7h5.7M363.2 453.7h7.5M351.9 454.6h15.1M382.1 454.6h1.9M351.9 455.4h1.9M355.7 455.4h5.7M363.2 455.4h7.5M382.1 455.4h1.9M365.1 456.3h3.8M370.8 456.3h3.8M391.5 456.3h3.8M367 457.1h7.5M385.9 457.1h1.9M389.6 457.1h3.8M365.1 458h3.8M372.7 458h3.8M385.9 458h1.9M391.5 458h3.8M351.9 458.9h30.2M387.8 458.9h11.3M368.9 461.5h3.8M368.9 462.3h5.7M357.6 464h28.3M393.4 464h3.8M387.8 464.9h1.9M391.5 464.9h1.9M355.7 465.8h1.9M359.5 465.8h1.9M368.9 465.8h1.9M395.3 465.8h1.9M355.7 466.6h3.8M355.7 467.5h1.9M359.5 467.5h1.9M367 467.5h5.7M395.3 467.5h1.9M391.5 469.2h1.9M391.5 470.1h1.9M353.8 471.8h41.5M355.7 474.4h7.5M368.9 474.4h5.7" stroke="#200e0e"/><path d="M314.2 362.4h18.9M404.7 362.4h3.8M338.7 363.3h1.9M333.1 364.2h1.9M344.4 364.2h1.9M376.4 364.2h7.5M389.6 364.2h1.9M399.1 364.2h1.9M340.6 365h3.8M397.2 365h1.9M333.1 365.9h1.9M344.4 365.9h1.9M376.4 365.9h9.4M389.6 365.9h1.9M399.1 365.9h1.9M336.8 366.7h1.9M340.6 366.7h1.9M336.8 367.6h1.9M344.4 367.6h1.9M367 367.6h3.8M336.8 368.5h1.9M344.4 369.3h3.8M365.1 369.3h5.7M338.7 370.2h1.9M342.5 370.2h1.9M340.6 371h1.9M338.7 371.9h1.9M344.4 371.9h1.9M380.2 371.9h5.7M391.5 371.9h1.9M353.8 372.8h1.9M365.1 372.8h5.7M376.4 372.8h1.9M387.8 372.8h1.9M367 373.6h3.8M376.4 373.6h3.8M387.8 373.6h3.8M338.7 374.5h1.9M344.4 374.5h1.9M382.1 374.5h3.8M391.5 374.5h3.8M344.4 375.3h1.9M340.6 376.2h1.9M344.4 376.2h1.9M342.5 378.8h1.9M340.6 379.7h1.9M351.9 379.7h5.7M361.4 379.7h3.8M367 379.7h3.8M382.1 379.7h9.4M340.6 380.5h1.9M351.9 380.5h1.9M363.2 380.5h3.8M387.8 380.5h3.8M353.8 381.4h3.8M361.4 381.4h1.9M367 381.4h3.8M382.1 381.4h5.7M391.5 381.4h1.9M340.6 382.2h1.9M355.7 382.2h1.9M368.9 382.2h7.5M384 382.2h1.9M340.6 383.1h1.9M351.9 383.1h3.8M361.4 383.1h1.9M355.7 384h1.9M368.9 384h7.5M384 384h3.8M393.4 384h1.9M359.5 385.7h13.2M380.2 385.7h7.5M340.6 386.5h1.9M340.6 387.4h1.9M387.8 387.4h5.7M357.6 388.3h3.8M365.1 388.3h3.8M372.7 388.3h1.9M380.2 388.3h3.8M346.3 390.8h1.9M344.4 392.6h1.9M342.5 393.4h1.9M350 393.4h11.3M387.8 393.4h1.9M393.4 393.4h1.9M401 393.4h1.9M342.5 394.3h1.9M353.8 394.3h1.9M365.1 394.3h1.9M378.3 394.3h1.9M385.9 394.3h11.3M401 394.3h1.9M344.4 396h1.9M348.1 396h1.9M348.1 396.9h1.9M344.4 398.6h1.9M344.4 400.3h1.9M314.2 401.2h17M399.1 401.2h9.4M331.2 402h11.3M348.1 404.6h1.9M344.4 405.5h1.9M348.1 405.5h1.9M346.3 406.3h3.8M344.4 407.2h1.9M357.6 408.1h3.8M367 408.1h1.9M376.4 408.1h1.9M368.9 408.9h7.5M395.3 408.9h1.9M350 409.8h1.9M357.6 409.8h3.8M367 409.8h1.9M376.4 409.8h1.9M393.4 409.8h1.9M344.4 410.7h1.9M355.7 410.7h3.8M376.4 410.7h9.4M393.4 410.7h7.5M344.4 411.5h1.9M357.6 411.5h9.4M374.6 411.5h1.9M384 411.5h9.4M344.4 412.4h1.9M353.8 412.4h3.8M376.4 412.4h7.5M393.4 412.4h7.5M346.3 414.1h1.9M348.1 415h1.9M350 416.7h1.9M344.4 417.5h1.9M357.6 417.5h9.4M372.7 417.5h7.5M382.1 417.5h5.7M391.5 417.5h1.9M344.4 418.4h1.9M374.6 418.4h7.5M387.8 418.4h3.8M355.7 419.3h11.3M372.7 419.3h1.9M382.1 419.3h5.7M391.5 419.3h1.9M346.3 420.1h1.9M351.9 421.8h1.9M355.7 422.7h5.7M367 422.7h3.8M389.6 422.7h1.9M353.8 423.6h1.9M359.5 423.6h11.3M387.8 423.6h5.7M351.9 424.4h1.9M350 425.3h1.9M351.9 427h1.9M357.6 427.9h3.8M368.9 427.9h1.9M378.3 427.9h1.9M387.8 427.9h5.7M357.6 428.7h3.8M368.9 428.7h1.9M378.3 428.7h1.9M387.8 428.7h1.9M391.5 428.7h1.9M402.8 428.7h1.9M351.9 429.6h1.9M355.7 429.6h1.9M357.6 430.5h1.9M355.7 431.3h1.9M353.8 432.2h3.8M350 433.9h1.9M355.7 437.3h3.8M363.2 437.3h1.9M357.6 438.2h1.9M365.1 438.2h1.9M361.4 439.9h1.9M351.9 440.8h1.9M355.7 441.6h1.9M351.9 443.4h1.9M368.9 443.4h1.9M361.4 444.2h3.8M380.2 444.2h3.8M385.9 444.2h1.9M391.5 444.2h5.7M382.1 445.1h3.8M393.4 445.1h1.9M361.4 446h3.8M378.3 446h3.8M385.9 446h1.9M391.5 446h1.9M395.3 446h1.9M361.4 446.8h1.9M376.4 446.8h3.8M387.8 446.8h1.9M393.4 446.8h1.9M348.1 447.7h13.2M389.6 447.7h3.8M361.4 448.5h1.9M376.4 448.5h3.8M387.8 448.5h1.9M393.4 448.5h1.9M374.6 449.4h1.9M351.9 450.3h1.9M363.2 450.3h7.5M395.3 450.3h3.8M365.1 451.1h3.8M380.2 451.1h3.8M399.1 451.1h1.9M351.9 452h3.8M363.2 452h1.9M368.9 452h1.9M395.3 452h3.8M376.4 452.8h1.9M380.2 452.8h1.9M370.8 453.7h1.9M367 454.6h3.8M370.8 455.4h1.9M355.7 456.3h1.9M363.2 456.3h1.9M374.6 456.3h3.8M384 456.3h1.9M365.1 457.1h1.9M374.6 457.1h1.9M393.4 457.1h1.9M355.7 458h3.8M363.2 458h1.9M376.4 458h3.8M382.1 458.9h1.9M385.9 458.9h1.9M384 460.6h1.9M387.8 460.6h1.9M367 461.5h1.9M372.7 461.5h3.8M367 462.3h1.9M374.6 462.3h1.9M389.6 463.2h1.9M385.9 464h1.9M391.5 464h1.9M321.7 464.9h26.4M353.8 465.8h1.9M367 465.8h1.9M370.8 465.8h13.2M387.8 465.8h1.9M393.4 465.8h1.9M359.5 466.6h1.9M367 466.6h5.7M395.3 466.6h1.9M353.8 467.5h1.9M372.7 467.5h11.3M387.8 467.5h3.8M393.4 467.5h1.9M395.3 468.3h1.9M395.3 469.2h1.9M393.4 470.9h1.9M397.2 470.9h1.9M391.5 472.6h1.9M367 473.5h3.8M389.6 473.5h3.8M353.8 474.4h1.9M363.2 474.4h5.7M374.6 474.4h1.9" stroke="#471415"/><path d="M338.7 362.4h66M346.3 364.2h1.9M351.9 364.2h3.8M384 364.2h1.9M402.8 364.2h5.7M333.1 365h1.9M344.4 365h1.9M378.3 365h5.7M389.6 365h1.9M399.1 365h1.9M340.6 365.9h1.9M346.3 365.9h1.9M351.9 365.9h3.8M374.6 365.9h1.9M401 365.9h7.5M346.3 367.6h1.9M350 367.6h3.8M365.1 367.6h1.9M370.8 367.6h1.9M344.4 368.5h1.9M367 368.5h3.8M348.1 369.3h5.7M370.8 369.3h1.9M385.9 369.3h1.9M393.4 371.9h1.9M338.7 372.8h1.9M344.4 372.8h1.9M378.3 372.8h3.8M385.9 372.8h1.9M389.6 372.8h3.8M338.7 373.6h1.9M344.4 373.6h1.9M380.2 373.6h7.5M391.5 373.6h1.9M340.6 375.3h1.9M344.4 377.1h1.9M344.4 378.8h1.9M357.6 379.7h3.8M370.8 379.7h1.9M380.2 379.7h1.9M391.5 379.7h1.9M353.8 380.5h1.9M367 380.5h1.9M382.1 380.5h5.7M357.6 381.4h3.8M370.8 381.4h3.8M380.2 381.4h1.9M350 382.2h1.9M359.5 382.2h1.9M376.4 382.2h1.9M382.1 382.2h1.9M385.9 382.2h1.9M393.4 382.2h1.9M355.7 383.1h1.9M368.9 383.1h7.5M384 383.1h1.9M350 384h1.9M357.6 384h3.8M376.4 384h1.9M382.1 384h1.9M342.5 384.8h1.9M357.6 385.7h1.9M372.7 385.7h1.9M378.3 385.7h1.9M361.4 386.5h3.8M368.9 386.5h3.8M384 386.5h11.3M359.5 387.4h13.2M382.1 387.4h5.7M393.4 387.4h1.9M350 388.3h7.5M378.3 388.3h1.9M346.3 390h1.9M342.5 391.7h1.9M348.1 393.4h1.9M361.4 393.4h1.9M365.1 393.4h1.9M378.3 393.4h1.9M385.9 393.4h1.9M389.6 393.4h3.8M395.3 393.4h5.7M348.1 394.3h1.9M361.4 394.3h1.9M384 394.3h1.9M397.2 394.3h3.8M344.4 396.9h1.9M346.3 398.6h1.9M344.4 399.5h1.9M331.2 401.2h11.3M342.5 402h1.9M359.5 402h5.7M344.4 402.9h1.9M344.4 403.8h1.9M344.4 404.6h1.9M350 408.1h1.9M355.7 408.1h1.9M361.4 408.1h1.9M365.1 408.1h1.9M393.4 408.1h1.9M357.6 408.9h1.9M367 408.9h1.9M376.4 408.9h1.9M355.7 409.8h1.9M361.4 409.8h5.7M350 410.7h5.7M355.7 411.5h1.9M376.4 411.5h7.5M393.4 411.5h7.5M350 412.4h3.8M346.3 413.2h3.8M348.1 414.1h1.9M348.1 415.8h1.9M355.7 417.5h1.9M367 417.5h1.9M363.2 418.4h3.8M372.7 418.4h1.9M382.1 418.4h5.7M391.5 418.4h1.9M367 419.3h1.9M370.8 419.3h1.9M353.8 422.7h1.9M361.4 422.7h5.7M387.8 422.7h1.9M391.5 422.7h3.8M370.8 423.6h1.9M393.4 423.6h1.9M350 424.4h1.9M351.9 425.3h1.9M351.9 426.1h1.9M402.8 427.9h1.9M350 428.7h1.9M361.4 428.7h1.9M380.2 428.7h1.9M393.4 428.7h5.7M353.8 429.6h1.9M357.6 433h1.9M350 434.8h1.9M350 435.6h1.9M359.5 437.3h3.8M359.5 438.2h1.9M363.2 438.2h1.9M363.2 439.1h1.9M365.1 439.9h1.9M359.5 440.8h1.9M367 440.8h1.9M353.8 441.6h1.9M353.8 442.5h1.9M359.5 443.4h3.8M359.5 444.2h1.9M365.1 444.2h1.9M378.3 444.2h1.9M387.8 444.2h3.8M361.4 445.1h3.8M380.2 445.1h1.9M385.9 445.1h1.9M391.5 445.1h1.9M395.3 445.1h1.9M359.5 446h1.9M365.1 446h1.9M387.8 446h3.8M374.6 446.8h1.9M380.2 446.8h1.9M361.4 447.7h1.9M387.8 447.7h1.9M393.4 447.7h1.9M380.2 448.5h1.9M385.9 448.5h1.9M350 450.3h1.9M353.8 450.3h5.7M361.4 450.3h1.9M370.8 450.3h1.9M378.3 450.3h1.9M384 450.3h1.9M393.4 450.3h1.9M351.9 451.1h1.9M363.2 451.1h1.9M368.9 451.1h1.9M395.3 451.1h3.8M350 452h1.9M355.7 452h7.5M370.8 452h1.9M384 452h1.9M393.4 452h1.9M372.7 453.7h1.9M370.8 454.6h1.9M372.7 455.4h1.9M351.9 456.3h3.8M357.6 456.3h5.7M378.3 456.3h1.9M363.2 457.1h1.9M350 458h5.7M359.5 458h3.8M384 458.9h1.9M384 459.7h3.8M365.1 462.3h1.9M376.4 462.3h1.9M387.8 463.2h1.9M389.6 464.9h1.9M384 465.8h3.8M389.6 465.8h1.9M353.8 466.6h1.9M372.7 466.6h9.4M387.8 466.6h1.9M393.4 466.6h1.9M365.1 467.5h1.9M384 467.5h3.8M397.2 471.8h1.9M367 472.6h3.8M389.6 472.6h1.9M357.6 473.5h9.4M387.8 473.5h1.9M393.4 473.5h1.9M401 474.4h1.9" stroke="#821a1c"/><path d="M336.8 363.3h1.9M338.7 364.2h1.9M348.1 364.2h3.8M374.6 364.2h1.9M385.9 364.2h3.8M401 364.2h1.9M376.4 365h1.9M384 365h1.9M404.7 365h1.9M348.1 365.9h3.8M355.7 365.9h1.9M385.9 365.9h3.8M342.5 367.6h1.9M348.1 367.6h1.9M363.2 367.6h1.9M378.3 367.6h5.7M385.9 367.6h3.8M346.3 368.5h1.9M365.1 368.5h1.9M363.2 369.3h1.9M378.3 369.3h7.5M387.8 369.3h1.9M395.3 371.9h3.8M382.1 372.8h3.8M395.3 374.5h3.8M342.5 375.3h1.9M342.5 377.1h1.9M344.4 377.9h1.9M372.7 379.7h1.9M355.7 380.5h1.9M361.4 380.5h1.9M368.9 380.5h1.9M391.5 380.5h1.9M357.6 382.2h1.9M350 383.1h1.9M382.1 383.1h1.9M385.9 383.1h1.9M393.4 383.1h1.9M387.8 384h1.9M391.5 384h1.9M348.1 385.7h9.4M359.5 386.5h1.9M365.1 386.5h3.8M380.2 386.5h3.8M380.2 387.4h1.9M348.1 388.3h1.9M374.6 388.3h3.8M384 393.4h1.9M363.2 394.3h1.9M380.2 394.3h1.9M346.3 396h1.9M346.3 396.9h1.9M342.5 401.2h1.9M359.5 401.2h5.7M380.2 401.2h1.9M357.6 402h1.9M365.1 402h3.8M378.3 402h5.7M348.1 402.9h1.9M346.3 403.8h1.9M344.4 408.1h1.9M351.9 408.1h1.9M363.2 408.1h1.9M378.3 408.1h1.9M391.5 408.1h1.9M350 408.9h1.9M359.5 408.9h1.9M393.4 408.9h1.9M344.4 409.8h1.9M351.9 409.8h1.9M378.3 409.8h1.9M391.5 409.8h1.9M351.9 411.5h3.8M346.3 416.7h1.9M353.8 417.5h1.9M368.9 417.5h3.8M355.7 418.4h7.5M367 418.4h1.9M353.8 419.3h1.9M368.9 419.3h1.9M350 420.1h1.9M350 421.8h1.9M370.8 422.7h1.9M385.9 423.6h1.9M350 427.9h1.9M361.4 427.9h1.9M380.2 427.9h1.9M393.4 427.9h5.7M355.7 428.7h1.9M367 428.7h1.9M385.9 428.7h1.9M399.1 428.7h3.8M355.7 433h1.9M351.9 436.5h1.9M361.4 439.1h1.9M361.4 440.8h1.9M351.9 442.5h1.9M363.2 443.4h1.9M350 444.2h1.9M365.1 445.1h1.9M378.3 445.1h1.9M387.8 445.1h3.8M348.1 446h3.8M385.9 446.8h1.9M376.4 447.7h3.8M359.5 450.3h1.9M350 451.1h1.9M353.8 451.1h1.9M361.4 451.1h1.9M370.8 451.1h1.9M384 451.1h1.9M378.3 452h1.9M378.3 452.8h1.9M374.6 453.7h1.9M374.6 455.4h1.9M350 456.3h1.9M353.8 457.1h5.7M376.4 457.1h3.8M384 457.1h1.9M380.2 458h1.9M384 458h1.9M365.1 461.5h1.9M376.4 461.5h1.9M365.1 465.8h1.9M391.5 465.8h1.9M382.1 466.6h1.9M385.9 466.6h1.9M389.6 466.6h1.9M391.5 467.5h1.9M391.5 468.3h1.9M393.4 469.2h1.9M395.3 470.1h1.9M357.6 472.6h9.4M387.8 472.6h1.9M393.4 472.6h1.9M355.7 473.5h1.9M370.8 473.5h1.9M385.9 473.5h1.9M399.1 473.5h1.9M376.4 474.4h1.9M382.1 474.4h3.8M391.5 474.4h1.9" stroke="#ae1e24"/><path d="M334.9 363.3h1.9M355.7 364.2h1.9M361.4 364.2h3.8M346.3 365h1.9M351.9 365h3.8M402.8 365h1.9M406.6 365h1.9M359.5 365.9h5.7M338.7 366.7h1.9M353.8 367.6h1.9M384 367.6h1.9M348.1 368.5h5.7M370.8 368.5h1.9M342.5 369.3h1.9M353.8 369.3h1.9M340.6 370.2h1.9M393.4 372.8h1.9M393.4 373.6h1.9M342.5 376.2h1.9M374.6 379.7h1.9M378.3 379.7h1.9M393.4 379.7h1.9M357.6 380.5h3.8M370.8 380.5h1.9M380.2 380.5h1.9M374.6 381.4h1.9M378.3 381.4h1.9M393.4 381.4h1.9M348.1 382.2h1.9M387.8 382.2h1.9M391.5 382.2h1.9M359.5 383.1h1.9M376.4 383.1h1.9M348.1 384h1.9M380.2 384h1.9M389.6 384h1.9M344.4 384.8h1.9M374.6 385.7h3.8M357.6 386.5h1.9M372.7 386.5h1.9M357.6 387.4h1.9M372.7 387.4h1.9M378.3 387.4h1.9M342.5 388.3h1.9M344.4 390.8h1.9M346.3 392.6h1.9M363.2 393.4h1.9M380.2 393.4h1.9M382.1 394.3h1.9M346.3 395.2h1.9M346.3 399.5h1.9M348.1 400.3h1.9M357.6 401.2h1.9M365.1 401.2h3.8M378.3 401.2h1.9M382.1 401.2h1.9M350 402h7.5M368.9 402h1.9M384 402h1.9M395.3 402h3.8M346.3 405.5h1.9M353.8 408.1h1.9M344.4 408.9h1.9M355.7 408.9h1.9M361.4 408.9h1.9M365.1 408.9h1.9M353.8 409.8h1.9M350 411.5h1.9M385.9 422.7h1.9M372.7 423.6h1.9M355.7 427.9h1.9M367 427.9h1.9M385.9 427.9h1.9M399.1 427.9h3.8M382.1 428.7h1.9M351.9 433.9h1.9M361.4 438.2h1.9M351.9 441.6h1.9M359.5 442.5h1.9M348.1 444.2h1.9M351.9 444.2h1.9M357.6 444.2h1.9M370.8 444.2h1.9M359.5 445.1h1.9M351.9 446h1.9M357.6 446h1.9M363.2 446.8h1.9M382.1 446.8h3.8M380.2 447.7h1.9M363.2 448.5h1.9M374.6 448.5h1.9M382.1 448.5h3.8M391.5 450.3h1.9M355.7 451.1h5.7M378.3 451.1h1.9M393.4 451.1h1.9M385.9 452h1.9M391.5 452h1.9M380.2 453.7h1.9M372.7 454.6h1.9M380.2 456.3h1.9M350 457.1h3.8M359.5 457.1h3.8M351.9 462.3h1.9M361.4 462.3h3.8M378.3 462.3h1.9M361.4 465.8h1.9M384 466.6h1.9M391.5 466.6h1.9M361.4 467.5h1.9M393.4 470.1h1.9M395.3 470.9h1.9M395.3 471.8h1.9M355.7 472.6h1.9M370.8 472.6h1.9M385.9 472.6h1.9M399.1 472.6h1.9M353.8 473.5h1.9M378.3 474.4h3.8M395.3 474.4h5.7" stroke="#d21e26"/><path d="M333.1 362.4h1.9M336.8 362.4h1.9M357.6 364.2h3.8M365.1 364.2h1.9M372.7 364.2h1.9M348.1 365h3.8M374.6 365h1.9M385.9 365h1.9M401 365h1.9M357.6 365.9h1.9M365.1 365.9h1.9M372.7 365.9h1.9M361.4 367.6h1.9M389.6 367.6h1.9M342.5 368.5h1.9M363.2 368.5h1.9M378.3 368.5h3.8M385.9 368.5h3.8M361.4 369.3h1.9M376.4 369.3h1.9M389.6 369.3h1.9M342.5 377.9h1.9M372.7 380.5h1.9M376.4 381.4h1.9M378.3 382.2h3.8M389.6 382.2h1.9M357.6 383.1h1.9M378.3 384h1.9M342.5 385.7h1.9M378.3 386.5h1.9M350 387.4h3.8M355.7 387.4h1.9M344.4 390h1.9M382.1 393.4h1.9M344.4 395.2h1.9M344.4 397.7h1.9M351.9 401.2h5.7M368.9 401.2h1.9M384 401.2h1.9M395.3 401.2h3.8M376.4 402h1.9M351.9 408.9h1.9M363.2 408.9h1.9M389.6 409.8h1.9M368.9 418.4h3.8M348.1 420.1h1.9M372.7 422.7h1.9M348.1 423.6h1.9M376.4 423.6h1.9M382.1 427.9h1.9M363.2 428.7h3.8M384 428.7h1.9M353.8 436.5h1.9M363.2 439.9h1.9M359.5 441.6h1.9M365.1 443.4h3.8M367 446h1.9M374.6 447.7h1.9M385.9 447.7h1.9M368.9 448.5h1.9M385.9 450.3h1.9M372.7 452h1.9M376.4 455.4h1.9M380.2 455.4h1.9M382.1 458h1.9M385.9 460.6h1.9M363.2 461.5h1.9M359.5 462.3h1.9M393.4 462.3h1.9M387.8 464h1.9M365.1 466.6h1.9M353.8 472.6h1.9M372.7 473.5h1.9M384 473.5h1.9M393.4 474.4h1.9" stroke="#ed2324"/><path d="M367 364.2h1.9M355.7 365h1.9M387.8 365h1.9M367 365.9h5.7M376.4 367.6h1.9M382.1 368.5h3.8M372.7 369.3h1.9M376.4 379.7h1.9M387.8 383.1h1.9M391.5 383.1h1.9M346.3 385.7h1.9M350 386.5h7.5M348.1 387.4h1.9M353.8 387.4h1.9M346.3 388.3h1.9M342.5 389.1h3.8M350 401.2h1.9M385.9 402h1.9M393.4 402h1.9M346.3 402.9h1.9M346.3 404.6h1.9M389.6 408.1h1.9M378.3 408.9h1.9M391.5 408.9h1.9M348.1 416.7h1.9M353.8 418.4h1.9M374.6 423.6h1.9M378.3 423.6h1.9M363.2 427.9h1.9M353.8 430.5h1.9M353.8 433.9h1.9M359.5 433.9h1.9M363.2 440.8h1.9M361.4 442.5h1.9M353.8 444.2h1.9M348.1 445.1h3.8M353.8 446h3.8M370.8 446h1.9M374.6 446h1.9M368.9 446.8h1.9M367 448.5h1.9M370.8 448.5h1.9M372.7 450.3h1.9M387.8 452h3.8M376.4 453.7h1.9M374.6 454.6h1.9M382.1 456.3h1.9M380.2 457.1h1.9M351.9 461.5h1.9M361.4 461.5h1.9M378.3 461.5h1.9M393.4 461.5h1.9M353.8 462.3h1.9M357.6 462.3h1.9M380.2 462.3h5.7M363.2 467.5h1.9M393.4 468.3h1.9M384 472.6h1.9M374.6 473.5h3.8M395.3 473.5h1.9M387.8 474.4h3.8" stroke="#f05122"/><path d="M368.9 364.2h3.8M338.7 365h1.9M361.4 365h3.8M334.9 365.9h1.9M372.7 367.6h1.9M395.3 367.6h1.9M353.8 368.5h1.9M359.5 369.3h1.9M395.3 369.3h3.8M395.3 373.6h3.8M374.6 380.5h1.9M378.3 380.5h1.9M393.4 380.5h1.9M342.5 381.4h1.9M350 381.4h1.9M346.3 382.2h1.9M348.1 383.1h1.9M346.3 384h1.9M348.1 386.5h1.9M346.3 397.7h1.9M376.4 401.2h1.9M370.8 402h1.9M348.1 408.1h1.9M353.8 408.9h1.9M348.1 409.8h1.9M380.2 409.8h1.9M387.8 409.8h1.9M348.1 410.7h1.9M348.1 412.4h1.9M348.1 421h3.8M348.1 422.7h1.9M374.6 422.7h3.8M365.1 427.9h1.9M384 427.9h1.9M355.7 430.5h1.9M351.9 435.6h1.9M361.4 441.6h1.9M367 441.6h1.9M355.7 444.2h1.9M367 444.2h1.9M372.7 444.2h5.7M351.9 445.1h1.9M357.6 445.1h1.9M372.7 446h1.9M376.4 446h1.9M365.1 446.8h3.8M372.7 446.8h1.9M363.2 447.7h1.9M382.1 447.7h3.8M365.1 448.5h1.9M372.7 448.5h1.9M387.8 450.3h3.8M391.5 451.1h1.9M380.2 454.6h1.9M378.3 455.4h1.9M359.5 461.5h1.9M355.7 462.3h1.9M391.5 462.3h1.9M389.6 464h1.9M363.2 465.8h1.9M361.4 466.6h1.9M372.7 472.6h5.7M397.2 473.5h1.9M385.9 474.4h1.9" stroke="#f36e21"/><path d="M357.6 365h3.8M372.7 365h1.9M336.8 365.9h3.8M359.5 367.6h1.9M391.5 367.6h3.8M397.2 367.6h1.9M389.6 368.5h1.9M355.7 369.3h1.9M374.6 369.3h1.9M391.5 369.3h3.8M342.5 371.9h1.9M395.3 372.8h3.8M340.6 374.5h1.9M342.5 379.7h1.9M350 379.7h1.9M348.1 381.4h1.9M378.3 383.1h3.8M389.6 383.1h1.9M342.5 384h1.9M342.5 387.4h1.9M374.6 387.4h3.8M346.3 391.7h1.9M344.4 394.3h3.8M346.3 400.3h1.9M385.9 401.2h1.9M393.4 401.2h1.9M344.4 402h1.9M374.6 402h1.9M348.1 407.2h1.9M380.2 408.1h1.9M387.8 408.1h1.9M346.3 412.4h1.9M346.3 419.3h1.9M378.3 422.7h1.9M351.9 423.6h1.9M384 423.6h1.9M351.9 434.8h1.9M355.7 436.5h1.9M365.1 440.8h1.9M363.2 442.5h1.9M367 442.5h1.9M370.8 445.1h1.9M368.9 446h1.9M376.4 450.3h1.9M385.9 451.1h1.9M382.1 457.1h1.9M353.8 461.5h1.9M357.6 461.5h1.9M380.2 461.5h5.7M397.2 472.6h1.9" stroke="#f6881f"/><path d="M365.1 365h1.9M355.7 367.6h1.9M374.6 367.6h1.9M361.4 368.5h1.9M376.4 368.5h1.9M357.6 369.3h1.9M342.5 374.5h1.9M348.1 379.7h1.9M376.4 380.5h1.9M342.5 382.2h1.9M342.5 386.5h1.9M374.6 386.5h3.8M344.4 393.4h3.8M370.8 401.2h1.9M348.1 402h1.9M372.7 402h1.9M387.8 402h1.9M391.5 402h1.9M389.6 408.9h1.9M346.3 410.7h1.9M351.9 419.3h1.9M351.9 422.7h1.9M351.9 428.7h1.9M359.5 436.5h1.9M367 445.1h1.9M370.8 446.8h1.9M372.7 451.1h1.9M376.4 452h1.9M376.4 454.6h1.9M355.7 461.5h1.9M391.5 461.5h1.9M389.6 462.3h1.9M395.3 472.6h1.9M378.3 473.5h1.9" stroke="#faa418"/><path d="M367 365h1.9M357.6 367.6h1.9M340.6 371.9h1.9M342.5 380.5h1.9M346.3 387.4h1.9M344.4 401.2h1.9M374.6 401.2h1.9M346.3 407.2h1.9M348.1 408.9h1.9M348.1 411.5h1.9M346.3 417.5h1.9M351.9 417.5h1.9M363.2 441.6h1.9M353.8 445.1h1.9M368.9 447.7h1.9M374.6 452h1.9M378.3 453.7h1.9M385.9 462.3h1.9M382.1 473.5h1.9" stroke="#fdc113"/><path d="M334.9 364.2h1.9M368.9 365h3.8M340.6 367.6h1.9M372.7 368.5h1.9M338.7 369.3h1.9M346.3 386.5h1.9M344.4 388.3h1.9M348.1 401.2h1.9M389.6 402h1.9M382.1 409.8h1.9M385.9 409.8h1.9M346.3 411.5h1.9M384 422.7h1.9M380.2 423.6h1.9M353.8 428.7h1.9M353.8 435.6h1.9M357.6 436.5h1.9M368.9 444.2h1.9M355.7 445.1h1.9M372.7 445.1h3.8M367 447.7h1.9M372.7 447.7h1.9M387.8 451.1h3.8M389.6 461.5h1.9M363.2 466.6h1.9M378.3 472.6h1.9" stroke="#ffde1c"/><path d="M334.9 362.4h1.9M336.8 364.2h1.9M359.5 368.5h1.9M395.3 368.5h1.9M340.6 369.3h1.9M350 380.5h1.9M342.5 383.1h1.9M346.3 383.1h1.9M344.4 385.7h1.9M344.4 391.7h1.9M372.7 401.2h1.9M387.8 401.2h1.9M391.5 401.2h1.9M346.3 408.1h1.9M382.1 408.1h1.9M385.9 408.1h1.9M380.2 408.9h1.9M346.3 409.8h1.9M351.9 427.9h3.8M355.7 433.9h1.9M353.8 434.8h1.9M365.1 442.5h1.9M376.4 445.1h1.9M365.1 447.7h1.9M370.8 447.7h1.9M387.8 462.3h1.9M382.1 472.6h1.9" stroke="#ffec6e"/><path d="M391.5 368.5h3.8M397.2 368.5h1.9M346.3 381.4h1.9M387.8 408.9h1.9M384 409.8h1.9M346.3 418.4h1.9M359.5 434.8h1.9M359.5 435.6h1.9M374.6 450.3h1.9M376.4 451.1h1.9M378.3 454.6h1.9M385.9 461.5h1.9M380.2 473.5h1.9" stroke="#fff9c1"/><path d="M334.9 365h1.9M338.7 367.6h1.9M355.7 368.5h1.9M342.5 372.8h1.9M340.6 373.6h3.8M346.3 379.7h1.9M384 408.1h1.9M380.2 422.7h1.9M382.1 423.6h1.9M357.6 433.9h1.9M365.1 441.6h1.9M387.8 461.5h1.9" stroke="#fffce2"/><path d="M336.8 365h1.9M338.7 368.5h3.8M357.6 368.5h1.9M374.6 368.5h1.9M340.6 372.8h1.9M344.4 379.7h1.9M344.4 380.5h5.7M344.4 381.4h1.9M344.4 382.2h1.9M344.4 383.1h1.9M344.4 384h1.9M344.4 386.5h1.9M344.4 387.4h1.9M346.3 401.2h1.9M389.6 401.2h1.9M346.3 402h1.9M346.3 408.9h1.9M382.1 408.9h5.7M348.1 417.5h3.8M348.1 418.4h5.7M348.1 419.3h3.8M350 422.7h1.9M382.1 422.7h1.9M350 423.6h1.9M355.7 434.8h3.8M355.7 435.6h3.8M368.9 445.1h1.9M374.6 451.1h1.9M380.2 472.6h1.9" stroke="#ffffff"/></g>
</g></g>
<rect x="440.3" y="362" width="94.7" height="112.8" fill="#0a0606"/>
<clipPath id="ic3"><rect x="440.3" y="362" width="94.7" height="112.8"/></clipPath>
<g clip-path="url(#ic3)"><g filter="url(#bl)">
<g stroke-width="1" fill="none"><path d="M464.9 362.4h1.9M468.7 362.4h1.9M470.6 364.2h1.9M495.2 365h13.3M512.3 365h7.6M525.5 365h1.9M499 365.9h5.7M497.1 366.7h7.6M495.2 367.6h3.8M500.9 367.6h7.6M512.3 367.6h7.6M525.5 367.6h1.9M472.5 368.5h1.9M451.7 369.3h15.2M495.2 369.3h15.2M518 369.3h3.8M506.6 371h1.9M451.7 371.9h15.2M495.2 371.9h15.2M518 371.9h3.8M474.4 372.8h51.1M466.8 373.6h1.9M485.8 373.6h5.7M466.8 374.5h1.9M485.8 374.5h1.9M489.5 374.5h3.8M516.1 374.5h3.8M455.5 377.1h9.5M472.5 377.1h1.9M472.5 377.9h1.9M474.4 378.8h47.3M466.8 379.7h1.9M495.2 379.7h5.7M514.2 379.7h3.8M497.1 380.5h1.9M466.8 381.4h1.9M497.1 381.4h1.9M466.8 382.2h1.9M480.1 382.2h1.9M495.2 382.2h5.7M514.2 382.2h5.7M468.7 383.1h1.9M472.5 384h1.9M474.4 384.8h43.6M487.6 385.7h5.7M508.5 385.7h3.8M519.8 385.7h1.9M466.8 386.5h1.9M510.4 386.5h9.5M466.8 387.4h1.9M510.4 387.4h9.5M485.8 388.3h7.6M506.6 388.3h5.7M519.8 388.3h1.9M491.4 389.1h3.8M491.4 390.8h5.7M499 391.7h1.9M497.1 393.4h3.8M476.3 394.3h1.9M480.1 394.3h13.3M476.3 395.2h5.7M487.6 395.2h3.8M482 396h11.4M468.7 396.9h1.9M474.4 398.6h1.9M468.7 399.5h1.9M474.4 399.5h58.7M468.7 400.3h1.9M474.4 402h1.9M472.5 402.9h1.9M476.3 405.5h45.5M476.3 406.3h47.3M483.9 407.2h5.7M499 407.2h7.6M508.5 407.2h7.6M483.9 408.1h7.6M497.1 408.1h7.6M510.4 408.1h7.6M468.7 410.7h1.9M483.9 410.7h3.8M500.9 410.7h13.3M468.7 411.5h1.9M504.7 411.5h5.7M468.7 412.4h1.9M483.9 412.4h3.8M500.9 412.4h13.3M476.3 414.1h41.7M497.1 417.5h3.8M470.6 419.3h1.9M482 420.1h7.6M504.7 420.1h9.5M480.1 421h9.5M504.7 421h1.9M510.4 421h3.8M472.5 421.8h1.9M472.5 423.6h1.9M476.3 423.6h1.9M489.5 424.4h3.8M497.1 424.4h3.8M508.5 424.4h5.7M516.1 424.4h3.8M499 425.3h11.4M499 426.1h11.4M489.5 427h5.7M497.1 427h3.8M510.4 427h9.5M474.4 427.9h1.9M482 427.9h43.6M480.1 428.7h45.5M497.1 429.6h9.5M510.4 429.6h5.7M499 430.5h1.9M504.7 430.5h9.5M497.1 431.3h9.5M510.4 431.3h5.7M483.9 432.2h36M476.3 433h1.9M476.3 433.9h1.9M482 433.9h1.9M485.8 434.8h9.5M514.2 434.8h5.7M485.8 437.3h11.4M514.2 437.3h7.6M478.2 438.2h1.9M440.3 439.1h36M519.8 439.1h15.2M440.3 439.9h36M519.8 439.9h15.2M483.9 440.8h1.9M476.3 441.6h3.8M485.8 441.6h39.8M476.3 442.5h5.7M485.8 442.5h41.7M500.9 443.4h5.7M499 446h9.5M483.9 449.4h1.9M480.1 451.1h5.7M489.5 451.1h28.4M489.5 452h1.9M474.4 452.8h3.8M493.3 452.8h1.9M476.3 453.7h7.6M493.3 453.7h1.9M491.4 454.6h1.9M478.2 455.4h11.4M493.3 455.4h22.7M489.5 456.3h1.9M480.1 457.1h5.7M514.2 457.1h1.9M527.4 457.1h1.9M480.1 459.7h5.7M514.2 459.7h1.9M525.5 459.7h3.8M476.3 460.6h18.9M500.9 460.6h22.7M476.3 461.5h20.8M500.9 461.5h26.5M499 463.2h1.9M502.8 463.2h1.9M502.8 464h1.9M495.2 464.9h5.7M497.1 465.8h1.9M495.2 466.6h5.7M508.5 466.6h1.9M489.5 467.5h3.8M514.2 467.5h1.9M489.5 469.2h5.7M514.2 469.2h1.9M483.9 470.1h7.6M518 470.1h5.7M485.8 470.9h3.8M518 470.9h3.8M480.1 471.8h11.4M518 471.8h5.7M476.3 472.6h32.2M512.3 472.6h1.9M480.1 473.5h7.6M491.4 473.5h5.7M508.5 473.5h5.7M476.3 474.4h17M495.2 474.4h13.3M521.7 474.4h1.9" stroke="#200e0e"/><path d="M464.9 363.3h1.9M483.9 365h5.7M491.4 365h3.8M508.5 365h3.8M519.8 365h1.9M523.6 365h1.9M495.2 365.9h3.8M504.7 365.9h1.9M514.2 365.9h3.8M495.2 366.7h1.9M504.7 366.7h1.9M512.3 366.7h5.7M525.5 366.7h1.9M464.9 367.6h1.9M483.9 367.6h11.4M508.5 367.6h3.8M519.8 367.6h5.7M466.8 369.3h1.9M482 369.3h13.3M510.4 369.3h1.9M516.1 369.3h1.9M497.1 370.2h3.8M502.8 370.2h7.6M519.8 370.2h1.9M451.7 371h15.2M497.1 371h3.8M502.8 371h3.8M508.5 371h1.9M519.8 371h1.9M466.8 371.9h1.9M480.1 371.9h15.2M510.4 371.9h7.6M491.4 373.6h1.9M516.1 373.6h5.7M483.9 374.5h1.9M493.3 374.5h1.9M514.2 374.5h1.9M519.8 374.5h1.9M468.7 375.3h1.9M468.7 377.9h1.9M468.7 378.8h1.9M472.5 378.8h1.9M478.2 379.7h9.5M493.3 379.7h1.9M500.9 379.7h3.8M512.3 379.7h1.9M518 379.7h5.7M466.8 380.5h1.9M495.2 380.5h1.9M499 380.5h1.9M514.2 380.5h3.8M495.2 381.4h1.9M499 381.4h1.9M514.2 381.4h3.8M478.2 382.2h1.9M482 382.2h7.6M493.3 382.2h1.9M500.9 382.2h3.8M512.3 382.2h1.9M519.8 382.2h3.8M468.7 384h1.9M478.2 385.7h9.5M493.3 385.7h15.2M521.7 385.7h5.7M533.1 385.7h1.9M487.6 386.5h3.8M508.5 386.5h1.9M519.8 386.5h1.9M487.6 387.4h5.7M508.5 387.4h1.9M519.8 387.4h1.9M478.2 388.3h7.6M493.3 388.3h13.3M521.7 388.3h5.7M533.1 388.3h1.9M487.6 389.1h3.8M495.2 389.1h1.9M491.4 390h5.7M487.6 390.8h3.8M468.7 391.7h1.9M489.5 391.7h9.5M500.9 391.7h3.8M497.1 392.6h3.8M468.7 393.4h1.9M489.5 393.4h7.6M500.9 393.4h3.8M474.4 394.3h1.9M482 395.2h5.7M491.4 395.2h1.9M474.4 396h1.9M468.7 397.7h1.9M468.7 398.6h1.9M470.6 401.2h1.9M474.4 401.2h1.9M468.7 402h1.9M470.6 402.9h1.9M472.5 404.6h1.9M463 405.5h5.7M474.4 405.5h1.9M470.6 406.3h1.9M474.4 406.3h1.9M489.5 407.2h1.9M495.2 407.2h3.8M516.1 407.2h1.9M466.8 408.1h1.9M491.4 408.1h5.7M470.6 408.9h1.9M474.4 408.9h1.9M487.6 410.7h3.8M499 410.7h1.9M514.2 410.7h3.8M483.9 411.5h3.8M500.9 411.5h3.8M510.4 411.5h3.8M487.6 412.4h3.8M497.1 412.4h3.8M514.2 412.4h3.8M474.4 413.2h1.9M470.6 415h1.9M474.4 415h1.9M468.7 416.7h1.9M480.1 416.7h1.9M497.1 416.7h3.8M468.7 417.5h1.9M480.1 417.5h3.8M495.2 417.5h1.9M500.9 417.5h1.9M470.6 418.4h1.9M474.4 419.3h1.9M480.1 420.1h1.9M489.5 420.1h1.9M514.2 420.1h1.9M489.5 421h1.9M495.2 421h3.8M502.8 421h1.9M514.2 421h1.9M476.3 421.8h1.9M472.5 422.7h1.9M480.1 424.4h9.5M493.3 424.4h3.8M514.2 424.4h1.9M489.5 425.3h3.8M510.4 425.3h1.9M489.5 426.1h3.8M497.1 426.1h1.9M510.4 426.1h3.8M516.1 426.1h3.8M472.5 427h1.9M480.1 427h9.5M495.2 427h1.9M480.1 427.9h1.9M478.2 428.7h1.9M474.4 429.6h1.9M489.5 429.6h3.8M497.1 430.5h1.9M500.9 430.5h3.8M514.2 430.5h1.9M474.4 431.3h1.9M489.5 431.3h3.8M495.2 431.3h1.9M476.3 432.2h1.9M482 432.2h1.9M480.1 433h1.9M474.4 434.8h1.9M483.9 434.8h1.9M495.2 434.8h1.9M510.4 434.8h3.8M519.8 434.8h3.8M487.6 435.6h7.6M487.6 436.5h7.6M516.1 436.5h3.8M474.4 437.3h3.8M483.9 437.3h1.9M497.1 437.3h1.9M510.4 437.3h3.8M521.7 437.3h1.9M476.3 439.1h1.9M504.7 439.1h11.4M476.3 439.9h1.9M487.6 439.9h1.9M502.8 439.9h17M480.1 441.6h1.9M483.9 441.6h1.9M482 442.5h3.8M495.2 443.4h5.7M506.6 443.4h1.9M500.9 444.2h5.7M500.9 445.1h5.7M487.6 446h1.9M495.2 446h3.8M508.5 446h1.9M483.9 446.8h3.8M476.3 447.7h1.9M491.4 447.7h5.7M474.4 448.5h5.7M491.4 448.5h7.6M485.8 449.4h1.9M485.8 450.3h3.8M485.8 451.1h3.8M478.2 452.8h5.7M491.4 452.8h1.9M495.2 452.8h1.9M483.9 453.7h1.9M491.4 453.7h1.9M495.2 453.7h1.9M489.5 454.6h1.9M491.4 455.4h1.9M485.8 457.1h5.7M502.8 457.1h3.8M525.5 457.1h1.9M480.1 458h3.8M480.1 458.9h3.8M527.4 458.9h1.9M485.8 459.7h5.7M502.8 459.7h3.8M512.3 459.7h1.9M495.2 460.6h1.9M444.1 463.2h18.9M500.9 463.2h1.9M493.3 464.9h1.9M500.9 464.9h1.9M495.2 465.8h1.9M499 465.8h1.9M493.3 466.6h1.9M500.9 466.6h1.9M493.3 467.5h7.6M512.3 467.5h1.9M516.1 467.5h11.4M531.2 467.5h3.8M489.5 468.3h5.7M514.2 468.3h1.9M480.1 469.2h1.9M495.2 469.2h7.6M516.1 469.2h11.4M529.3 469.2h5.7M474.4 470.1h9.5M497.1 470.1h3.8M516.1 470.1h1.9M480.1 470.9h5.7M489.5 470.9h1.9M521.7 470.9h1.9M474.4 471.8h5.7M491.4 471.8h1.9M495.2 471.8h5.7M514.2 472.6h1.9M476.3 473.5h3.8M487.6 473.5h3.8M497.1 473.5h11.4M514.2 474.4h1.9" stroke="#471415"/><path d="M466.8 362.4h1.9M464.9 365h1.9M476.3 365h1.9M482 365h1.9M489.5 365h1.9M521.7 365h1.9M506.6 365.9h1.9M510.4 365.9h3.8M518 365.9h1.9M525.5 365.9h1.9M483.9 366.7h3.8M493.3 366.7h1.9M506.6 366.7h5.7M518 366.7h1.9M523.6 366.7h1.9M476.3 367.6h1.9M482 367.6h1.9M468.7 368.5h1.9M480.1 369.3h1.9M512.3 369.3h3.8M451.7 370.2h15.2M495.2 370.2h1.9M500.9 370.2h1.9M518 370.2h1.9M487.6 371h3.8M495.2 371h1.9M500.9 371h1.9M510.4 371h1.9M518 371h1.9M478.2 371.9h1.9M472.5 372.8h1.9M483.9 373.6h1.9M493.3 373.6h1.9M514.2 373.6h1.9M474.4 374.5h1.9M495.2 374.5h1.9M506.6 374.5h3.8M470.6 375.3h1.9M468.7 376.2h3.8M487.6 379.7h1.9M491.4 379.7h1.9M504.7 379.7h1.9M480.1 380.5h3.8M518 380.5h1.9M480.1 381.4h3.8M493.3 381.4h1.9M500.9 381.4h1.9M518 381.4h1.9M489.5 382.2h3.8M504.7 382.2h1.9M472.5 383.1h1.9M470.6 384h1.9M476.3 385.7h1.9M527.4 385.7h1.9M485.8 386.5h1.9M491.4 386.5h3.8M506.6 386.5h1.9M482 387.4h5.7M493.3 387.4h1.9M506.6 387.4h1.9M521.7 387.4h1.9M476.3 388.3h1.9M527.4 388.3h1.9M485.8 389.1h1.9M497.1 389.1h1.9M489.5 390h1.9M485.8 390.8h1.9M497.1 390.8h1.9M487.6 391.7h1.9M504.7 391.7h1.9M512.3 391.7h1.9M468.7 392.6h1.9M495.2 392.6h1.9M500.9 392.6h3.8M485.8 393.4h3.8M504.7 393.4h3.8M512.3 393.4h1.9M493.3 394.3h1.9M474.4 395.2h1.9M468.7 396h1.9M493.3 396h1.9M472.5 396.9h1.9M472.5 400.3h1.9M470.6 403.8h1.9M474.4 403.8h1.9M470.6 404.6h1.9M468.7 405.5h1.9M466.8 407.2h1.9M491.4 407.2h3.8M518 408.1h1.9M525.5 408.1h1.9M470.6 409.8h3.8M491.4 410.7h1.9M495.2 410.7h3.8M487.6 411.5h3.8M499 411.5h1.9M514.2 411.5h1.9M491.4 412.4h5.7M474.4 414.1h1.9M478.2 416.7h1.9M482 416.7h1.9M495.2 416.7h1.9M500.9 416.7h5.7M478.2 417.5h1.9M502.8 417.5h9.5M474.4 418.4h1.9M478.2 420.1h1.9M491.4 420.1h7.6M502.8 420.1h1.9M470.6 421h1.9M478.2 421h1.9M491.4 421h3.8M499 421h3.8M516.1 421h1.9M476.3 422.7h1.9M472.5 424.4h1.9M478.2 424.4h1.9M487.6 425.3h1.9M493.3 425.3h1.9M497.1 425.3h1.9M512.3 425.3h7.6M472.5 426.1h1.9M482 426.1h1.9M487.6 426.1h1.9M493.3 426.1h3.8M514.2 426.1h1.9M476.3 428.7h1.9M482 429.6h3.8M487.6 429.6h1.9M493.3 429.6h3.8M474.4 430.5h1.9M489.5 430.5h3.8M482 431.3h7.6M493.3 431.3h1.9M480.1 432.2h1.9M478.2 433h1.9M476.3 434.8h1.9M497.1 434.8h1.9M483.9 435.6h3.8M495.2 435.6h1.9M514.2 435.6h7.6M483.9 436.5h3.8M495.2 436.5h1.9M512.3 436.5h3.8M519.8 436.5h3.8M499 437.3h1.9M482 438.2h1.9M487.6 439.1h3.8M502.8 439.1h1.9M516.1 439.1h3.8M478.2 439.9h1.9M485.8 439.9h1.9M489.5 439.9h1.9M480.1 440.8h1.9M482 441.6h1.9M485.8 443.4h3.8M508.5 443.4h3.8M519.8 443.4h1.9M497.1 444.2h3.8M506.6 444.2h1.9M497.1 445.1h3.8M506.6 445.1h1.9M489.5 446h1.9M493.3 446h1.9M510.4 446h1.9M519.8 446h1.9M474.4 447.7h1.9M478.2 447.7h1.9M497.1 447.7h1.9M483.9 452.8h1.9M489.5 455.4h1.9M497.1 457.1h5.7M506.6 457.1h1.9M512.3 457.1h1.9M483.9 458h1.9M514.2 458h1.9M525.5 458h3.8M483.9 458.9h3.8M514.2 458.9h1.9M525.5 458.9h1.9M491.4 459.7h1.9M499 459.7h3.8M506.6 459.7h3.8M497.1 461.5h1.9M499 462.3h1.9M476.3 464.9h1.9M506.6 464.9h1.9M500.9 465.8h1.9M476.3 466.6h1.9M478.2 467.5h5.7M487.6 467.5h1.9M500.9 467.5h1.9M510.4 467.5h1.9M527.4 467.5h3.8M495.2 468.3h5.7M512.3 468.3h1.9M516.1 468.3h9.5M531.2 468.3h3.8M478.2 469.2h1.9M482 469.2h1.9M487.6 469.2h1.9M512.3 469.2h1.9M527.4 469.2h1.9M491.4 470.1h5.7M500.9 470.1h1.9M508.5 470.1h1.9M474.4 470.9h1.9M478.2 470.9h1.9M497.1 470.9h1.9M493.3 471.8h1.9M500.9 471.8h1.9M508.5 471.8h1.9M516.1 471.8h1.9M519.8 472.6h1.9M514.2 473.5h1.9" stroke="#821a1c"/><path d="M466.8 364.2h1.9M478.2 365h3.8M483.9 365.9h3.8M491.4 365.9h3.8M508.5 365.9h1.9M519.8 365.9h1.9M523.6 365.9h1.9M464.9 366.7h1.9M487.6 366.7h1.9M491.4 366.7h1.9M519.8 366.7h1.9M478.2 367.6h3.8M474.4 369.3h5.7M466.8 370.2h1.9M482 370.2h13.3M510.4 370.2h1.9M516.1 370.2h1.9M466.8 371h1.9M482 371h5.7M491.4 371h3.8M516.1 371h1.9M474.4 371.9h3.8M468.7 372.8h1.9M474.4 373.6h1.9M495.2 373.6h1.9M506.6 373.6h3.8M476.3 374.5h1.9M497.1 374.5h1.9M504.7 374.5h1.9M512.3 374.5h1.9M468.7 377.1h1.9M470.6 377.9h1.9M489.5 379.7h1.9M506.6 379.7h1.9M510.4 379.7h1.9M483.9 380.5h3.8M493.3 380.5h1.9M500.9 380.5h1.9M512.3 380.5h1.9M519.8 380.5h3.8M478.2 381.4h1.9M483.9 381.4h3.8M502.8 381.4h1.9M512.3 381.4h1.9M519.8 381.4h3.8M476.3 382.2h1.9M506.6 382.2h5.7M472.5 384.8h1.9M529.3 385.7h3.8M480.1 386.5h5.7M495.2 386.5h5.7M504.7 386.5h1.9M521.7 386.5h3.8M533.1 386.5h1.9M478.2 387.4h3.8M495.2 387.4h11.4M523.6 387.4h3.8M533.1 387.4h1.9M529.3 388.3h3.8M468.7 389.1h1.9M499 389.1h3.8M487.6 390h1.9M497.1 390h1.9M468.7 390.8h1.9M499 390.8h3.8M516.1 390.8h1.9M485.8 391.7h1.9M506.6 391.7h1.9M487.6 392.6h7.6M504.7 392.6h1.9M483.9 393.4h1.9M508.5 393.4h3.8M468.7 394.3h1.9M470.6 396.9h1.9M472.5 397.7h1.9M472.5 399.5h1.9M472.5 406.3h1.9M518 407.2h1.9M525.5 407.2h1.9M523.6 408.1h1.9M493.3 410.7h1.9M497.1 411.5h1.9M516.1 411.5h1.9M470.6 415.8h1.9M474.4 415.8h1.9M493.3 416.7h1.9M506.6 416.7h7.6M491.4 417.5h3.8M512.3 417.5h1.9M472.5 419.3h1.9M470.6 420.1h1.9M499 420.1h3.8M516.1 420.1h1.9M474.4 423.6h1.9M472.5 425.3h1.9M480.1 425.3h7.6M495.2 425.3h1.9M480.1 426.1h1.9M483.9 426.1h3.8M478.2 427h1.9M478.2 427.9h1.9M480.1 429.6h1.9M485.8 429.6h1.9M482 430.5h1.9M487.6 430.5h1.9M493.3 430.5h3.8M480.1 431.3h1.9M478.2 432.2h1.9M482 434.8h1.9M499 434.8h5.7M508.5 434.8h1.9M474.4 435.6h1.9M512.3 435.6h1.9M521.7 435.6h1.9M474.4 436.5h3.8M510.4 436.5h1.9M500.9 437.3h3.8M508.5 437.3h1.9M480.1 438.2h1.9M478.2 439.1h1.9M485.8 439.1h1.9M491.4 439.9h1.9M500.9 439.9h1.9M474.4 443.4h1.9M489.5 443.4h5.7M512.3 443.4h1.9M518 443.4h1.9M495.2 445.1h1.9M474.4 446h3.8M485.8 446h1.9M491.4 446h1.9M512.3 446h3.8M518 446h1.9M480.1 448.5h1.9M489.5 448.5h1.9M485.8 452h3.8M497.1 452.8h1.9M497.1 453.7h3.8M495.2 457.1h1.9M508.5 457.1h3.8M485.8 458h5.7M487.6 458.9h3.8M502.8 458.9h3.8M495.2 459.7h3.8M510.4 459.7h1.9M499 461.5h1.9M500.9 462.3h1.9M491.4 464.9h1.9M493.3 465.8h1.9M491.4 466.6h1.9M506.6 466.6h1.9M480.1 468.3h1.9M487.6 468.3h1.9M500.9 468.3h1.9M525.5 468.3h5.7M508.5 469.2h3.8M476.3 470.9h1.9M491.4 470.9h1.9M495.2 470.9h1.9M499 470.9h1.9M516.1 470.9h1.9M519.8 474.4h1.9" stroke="#ae1e24"/><path d="M468.7 364.2h1.9M464.9 365.9h1.9M487.6 365.9h3.8M521.7 365.9h1.9M476.3 366.7h1.9M482 366.7h1.9M489.5 366.7h1.9M521.7 366.7h1.9M472.5 367.6h3.8M470.6 368.5h1.9M472.5 369.3h1.9M480.1 370.2h1.9M512.3 370.2h3.8M480.1 371h1.9M512.3 371h3.8M472.5 371.9h1.9M476.3 373.6h1.9M497.1 373.6h1.9M504.7 373.6h1.9M482 374.5h1.9M499 374.5h1.9M510.4 374.5h1.9M470.6 377.1h1.9M470.6 378.8h1.9M476.3 379.7h1.9M508.5 379.7h1.9M478.2 380.5h1.9M487.6 380.5h1.9M502.8 380.5h1.9M487.6 381.4h1.9M504.7 381.4h1.9M470.6 383.1h1.9M468.7 384.8h1.9M468.7 385.7h1.9M478.2 386.5h1.9M500.9 386.5h3.8M525.5 386.5h1.9M476.3 387.4h1.9M468.7 388.3h1.9M483.9 389.1h1.9M502.8 389.1h1.9M506.6 389.1h1.9M516.1 389.1h1.9M468.7 390h1.9M485.8 390h1.9M483.9 390.8h1.9M502.8 390.8h5.7M480.1 391.7h5.7M508.5 391.7h3.8M512.3 392.6h1.9M480.1 393.4h3.8M495.2 394.3h1.9M468.7 395.2h1.9M493.3 395.2h1.9M495.2 396h1.9M470.6 400.3h1.9M523.6 407.2h1.9M468.7 408.1h1.9M521.7 408.1h1.9M472.5 408.9h1.9M491.4 411.5h5.7M472.5 415h1.9M491.4 416.7h1.9M476.3 417.5h1.9M483.9 417.5h1.9M489.5 417.5h1.9M514.2 417.5h1.9M518 421h3.8M474.4 421.8h1.9M476.3 427.9h1.9M483.9 430.5h3.8M478.2 433.9h3.8M476.3 435.6h1.9M497.1 435.6h1.9M510.4 435.6h1.9M497.1 436.5h1.9M482 437.3h1.9M504.7 437.3h1.9M500.9 439.1h1.9M483.9 439.9h1.9M499 439.9h1.9M482 440.8h1.9M476.3 443.4h1.9M514.2 443.4h3.8M485.8 444.2h3.8M495.2 444.2h1.9M508.5 444.2h1.9M485.8 445.1h3.8M508.5 445.1h1.9M478.2 446h3.8M516.1 446h1.9M480.1 447.7h1.9M489.5 447.7h1.9M499 452.8h1.9M493.3 456.3h1.9M491.4 457.1h1.9M516.1 457.1h9.5M502.8 458h3.8M512.3 458h1.9M500.9 458.9h1.9M506.6 458.9h1.9M512.3 458.9h1.9M493.3 459.7h1.9M516.1 459.7h9.5M478.2 464.9h1.9M476.3 465.8h1.9M478.2 466.6h1.9M502.8 466.6h3.8M502.8 467.5h1.9M478.2 468.3h1.9M482 468.3h1.9M510.4 468.3h1.9M502.8 469.2h1.9M506.6 469.2h1.9M502.8 470.1h1.9M506.6 470.1h1.9M510.4 470.1h1.9M493.3 470.9h1.9M500.9 470.9h1.9M508.5 470.9h1.9M502.8 471.8h1.9M506.6 471.8h1.9M510.4 471.8h1.9M519.8 473.5h1.9M516.1 474.4h1.9" stroke="#d21e26"/><path d="M468.7 363.3h1.9M472.5 365h3.8M476.3 365.9h1.9M482 365.9h1.9M482 373.6h1.9M499 373.6h1.9M510.4 373.6h3.8M478.2 374.5h3.8M500.9 374.5h3.8M504.7 380.5h1.9M489.5 381.4h3.8M468.7 382.2h1.9M476.3 386.5h1.9M527.4 386.5h1.9M527.4 387.4h1.9M482 389.1h1.9M504.7 389.1h1.9M508.5 389.1h1.9M514.2 389.1h1.9M499 390h1.9M476.3 390.8h1.9M482 390.8h1.9M508.5 390.8h1.9M514.2 390.8h1.9M485.8 392.6h1.9M506.6 392.6h1.9M497.1 394.3h1.9M497.1 396h3.8M470.6 399.5h1.9M472.5 401.2h1.9M470.6 405.5h3.8M468.7 407.2h1.9M519.8 408.1h1.9M470.6 410.7h1.9M482 410.7h1.9M470.6 412.4h1.9M476.3 412.4h1.9M480.1 412.4h3.8M476.3 416.7h1.9M483.9 416.7h1.9M489.5 416.7h1.9M518 420.1h3.8M476.3 421h1.9M478.2 426.1h1.9M480.1 430.5h1.9M504.7 434.8h3.8M478.2 437.3h1.9M506.6 437.3h1.9M483.9 439.1h1.9M491.4 439.1h1.9M493.3 439.9h5.7M478.2 443.4h3.8M519.8 444.2h1.9M493.3 445.1h1.9M510.4 445.1h1.9M519.8 445.1h1.9M482 446h1.9M482 448.5h1.9M491.4 456.3h1.9M497.1 458h5.7M506.6 458h1.9M497.1 458.9h3.8M499 460.6h1.9M489.5 464.9h1.9M502.8 464.9h3.8M506.6 465.8h1.9M489.5 466.6h1.9M483.9 467.5h1.9M506.6 467.5h3.8M483.9 469.2h3.8M504.7 469.2h1.9M504.7 471.8h1.9M516.1 472.6h1.9M518 474.4h1.9" stroke="#ed2324"/><path d="M478.2 371h1.9M468.7 371.9h1.9M478.2 373.6h1.9M500.9 373.6h1.9M468.7 379.7h1.9M489.5 380.5h3.8M506.6 381.4h1.9M510.4 381.4h1.9M531.2 387.4h1.9M476.3 389.1h1.9M500.9 390h1.9M516.1 390h1.9M474.4 390.8h1.9M478.2 390.8h1.9M483.9 392.6h1.9M508.5 392.6h3.8M499 394.3h1.9M472.5 398.6h1.9M472.5 402h1.9M519.8 407.2h3.8M476.3 408.1h1.9M476.3 410.7h5.7M478.2 412.4h1.9M470.6 413.2h1.9M470.6 414.1h1.9M514.2 416.7h1.9M487.6 417.5h1.9M516.1 417.5h1.9M474.4 422.7h1.9M478.2 425.3h1.9M499 436.5h3.8M497.1 439.1h3.8M483.9 443.4h1.9M493.3 444.2h1.9M510.4 444.2h1.9M474.4 445.1h1.9M489.5 445.1h1.9M512.3 445.1h1.9M483.9 446h1.9M489.5 452.8h1.9M485.8 453.7h1.9M489.5 453.7h1.9M508.5 458h1.9M491.4 458.9h1.9M508.5 458.9h3.8M497.1 460.6h1.9M487.6 464.9h1.9M491.4 465.8h1.9M480.1 466.6h1.9M487.6 466.6h1.9M485.8 467.5h1.9M504.7 467.5h1.9M504.7 470.1h1.9M514.2 470.1h1.9M514.2 471.8h1.9M518 472.6h1.9" stroke="#f05122"/><path d="M470.6 365h1.9M478.2 366.7h3.8M468.7 369.3h1.9M474.4 370.2h1.9M478.2 370.2h1.9M472.5 371h5.7M470.6 372.8h1.9M480.1 373.6h1.9M502.8 373.6h1.9M506.6 380.5h1.9M510.4 380.5h1.9M531.2 386.5h1.9M468.7 387.4h1.9M529.3 387.4h1.9M474.4 388.3h1.9M474.4 389.1h1.9M478.2 389.1h1.9M483.9 390h1.9M502.8 390h1.9M506.6 390h1.9M510.4 390.8h3.8M480.1 392.6h3.8M476.3 393.4h1.9M495.2 395.2h1.9M472.5 396h1.9M470.6 397.7h1.9M482 408.1h1.9M470.6 411.5h1.9M487.6 416.7h1.9M485.8 417.5h1.9M472.5 418.4h1.9M476.3 420.1h1.9M474.4 427h1.9M476.3 431.3h1.9M482 435.6h1.9M499 435.6h5.7M482 436.5h1.9M502.8 436.5h1.9M508.5 436.5h1.9M493.3 439.1h3.8M480.1 439.9h1.9M482 443.4h1.9M474.4 444.2h1.9M489.5 444.2h1.9M512.3 444.2h1.9M491.4 445.1h1.9M518 445.1h1.9M482 447.7h1.9M493.3 457.1h1.9M491.4 458h1.9M510.4 458h1.9M495.2 458.9h1.9M480.1 464.9h3.8M485.8 464.9h1.9M478.2 465.8h1.9M502.8 465.8h1.9M482 466.6h5.7M502.8 468.3h1.9M508.5 468.3h1.9M502.8 470.9h1.9M506.6 470.9h1.9M510.4 470.9h1.9M512.3 471.8h1.9M516.1 473.5h1.9" stroke="#f36e21"/><path d="M466.8 363.3h1.9M478.2 365.9h3.8M472.5 370.2h1.9M476.3 370.2h1.9M468.7 374.5h1.9M476.3 380.5h1.9M476.3 381.4h1.9M508.5 381.4h1.9M474.4 385.7h1.9M468.7 386.5h1.9M529.3 386.5h1.9M510.4 389.1h3.8M504.7 390h1.9M508.5 390h1.9M514.2 390h1.9M480.1 390.8h1.9M474.4 391.7h3.8M474.4 393.4h1.9M478.2 393.4h1.9M472.5 394.3h1.9M470.6 398.6h1.9M472.5 403.8h1.9M476.3 407.2h1.9M482 407.2h1.9M474.4 408.1h1.9M478.2 408.1h3.8M474.4 410.7h1.9M482 411.5h1.9M474.4 412.4h1.9M516.1 416.7h1.9M474.4 417.5h1.9M518 417.5h1.9M478.2 434.8h1.9M508.5 435.6h1.9M491.4 444.2h1.9M518 444.2h1.9M476.3 445.1h1.9M514.2 445.1h3.8M487.6 448.5h1.9M485.8 452.8h1.9M495.2 458h1.9M516.1 458.9h1.9M521.7 458.9h3.8M483.9 464.9h1.9M489.5 465.8h1.9M504.7 465.8h1.9M506.6 468.3h1.9" stroke="#f6881f"/><path d="M472.5 366.7h1.9M470.6 367.6h1.9M470.6 369.3h1.9M468.7 371h1.9M470.6 371.9h1.9M472.5 374.5h1.9M508.5 380.5h1.9M468.7 381.4h1.9M480.1 389.1h1.9M482 390h1.9M478.2 391.7h1.9M497.1 395.2h3.8M470.6 402h1.9M485.8 416.7h1.9M476.3 424.4h1.9M476.3 429.6h3.8M478.2 431.3h1.9M504.7 436.5h1.9M480.1 439.1h1.9M476.3 444.2h1.9M514.2 444.2h3.8M478.2 445.1h3.8M483.9 445.1h1.9M487.6 447.7h1.9M516.1 458h1.9M521.7 458h3.8M518 458.9h3.8M483.9 468.3h3.8M504.7 468.3h1.9M512.3 470.1h1.9M504.7 470.9h1.9M518 473.5h1.9" stroke="#faa418"/><path d="M472.5 365.9h1.9M474.4 366.7h1.9M468.7 370.2h1.9M468.7 373.6h1.9M468.7 380.5h1.9M476.3 390h1.9M474.4 407.2h1.9M478.2 407.2h3.8M476.3 411.5h5.7M472.5 413.2h1.9M472.5 415.8h1.9M474.4 416.7h1.9M518 416.7h1.9M474.4 424.4h1.9M476.3 427h1.9M480.1 434.8h1.9M506.6 436.5h1.9M480.1 437.3h1.9M482 439.9h1.9M478.2 444.2h3.8M483.9 444.2h1.9M482 445.1h1.9M483.9 448.5h1.9M518 458h3.8M493.3 458.9h1.9M487.6 465.8h1.9" stroke="#fdc113"/><path d="M474.4 365.9h1.9M474.4 382.2h1.9M470.6 384.8h1.9M474.4 390h1.9M478.2 390h1.9M472.5 395.2h1.9M470.6 396h1.9M472.5 414.1h1.9M476.3 430.5h1.9M504.7 435.6h1.9M478.2 436.5h1.9M482 439.1h1.9M487.6 453.7h1.9M480.1 465.8h1.9M514.2 470.9h1.9" stroke="#ffde1c"/><path d="M472.5 373.6h1.9M474.4 379.7h1.9M472.5 389.1h1.9M472.5 390.8h1.9M470.6 394.3h1.9M474.4 411.5h1.9M470.6 417.5h1.9M506.6 435.6h1.9M482 444.2h1.9M493.3 458h1.9M482 465.8h1.9M485.8 465.8h1.9" stroke="#ffec6e"/><path d="M466.8 367.6h1.9M510.4 390h3.8M474.4 392.6h3.8M470.6 408.1h1.9M478.2 430.5h1.9M478.2 435.6h1.9M483.9 447.7h1.9M485.8 448.5h1.9M483.9 465.8h1.9M512.3 470.9h1.9" stroke="#fff9c1"/><path d="M470.6 365.9h1.9M470.6 366.7h1.9M470.6 371h1.9M472.5 382.2h1.9M472.5 388.3h1.9M480.1 390h1.9M472.5 393.4h1.9M472.5 412.4h1.9M474.4 426.1h1.9M487.6 452.8h1.9" stroke="#fffce2"/><path d="M466.8 365h3.8M466.8 365.9h3.8M466.8 366.7h3.8M468.7 367.6h1.9M470.6 370.2h1.9M470.6 373.6h1.9M470.6 374.5h1.9M470.6 379.7h3.8M470.6 380.5h5.7M470.6 381.4h5.7M470.6 382.2h1.9M470.6 385.7h3.8M470.6 386.5h5.7M470.6 387.4h5.7M470.6 388.3h1.9M470.6 389.1h1.9M470.6 390h3.8M470.6 390.8h1.9M470.6 391.7h3.8M470.6 392.6h3.8M478.2 392.6h1.9M470.6 393.4h1.9M470.6 395.2h1.9M470.6 407.2h3.8M472.5 408.1h1.9M472.5 410.7h1.9M472.5 411.5h1.9M470.6 416.7h3.8M472.5 417.5h1.9M472.5 420.1h3.8M472.5 421h3.8M474.4 425.3h3.8M476.3 426.1h1.9M480.1 435.6h1.9M480.1 436.5h1.9M485.8 447.7h1.9" stroke="#ffffff"/></g>
</g></g>
<clipPath id="cc"><rect x="62.5" y="524.8" width="164.6" height="113.5"/></clipPath>
<g clip-path="url(#cc)" fill="none" stroke-linejoin="round">
<path d="M61.9 637.4L63.1 637.4L64.3 637.4L65.5 637.4L66.6 637.4L67.8 637.4L69 637.4L70.1 637.4L71.3 637.4L72.5 636.9L73.6 636.4L74.8 636L76 635.8L77.2 635.7L78.3 635.7L79.5 635.6L80.7 635.4L81.8 635L83 634.5L84.2 633.9L85.3 633.2L86.5 632.3L87.7 631.2L88.9 629.8L90 627.7L91.2 625L92.4 621.3L93.5 616.8L94.7 611.3L95.9 604.8L97 597.5L98.2 589.5L99.4 581.1L100.6 572.8L101.7 565.2L102.9 558.8L104.1 554L105.2 550.9L106.4 549.6L107.6 550.3L108.7 552.4L109.9 555.6L111.1 559.1L112.3 562.6L113.4 565.7L114.6 568.5L115.8 571.3L116.9 574L118.1 576.7L119.3 579.5L120.4 582.1L121.6 584.6L122.8 586.9L124 588.9L125.1 590.6L126.3 592.1L127.5 593.3L128.6 594.3L129.8 595.2L131 596.1L132.1 596.8L133.3 597.6L134.5 598.2L135.7 598.8L136.8 599.3L138 599.7L139.2 600.1L140.3 600.6L141.5 601.1L142.7 601.8L143.8 602.6L145 603.4L146.2 604.1L147.4 604.6L148.5 604.9L149.7 605L150.9 604.8L152 604.5L153.2 604L154.4 603.5L155.5 603L156.7 602.3L157.9 601.6L159.1 600.9L160.2 600.3L161.4 600L162.6 599.9L163.7 600.1L164.9 600.5L166.1 600.9L167.2 601.4L168.4 601.7L169.6 602L170.8 602.3L171.9 602.5L173.1 602.7L174.3 602.9L175.4 603.1L176.6 603.3L177.8 603.8L178.9 604.4L180.1 605.3L181.3 606.3L182.5 607.4L183.6 608.7L184.8 610.2L186 611.9L187.1 614L188.3 616.5L189.5 619.2L190.6 622L191.8 624.5L193 626.6L194.2 628.2L195.3 629.2L196.5 629.6L197.7 629.8L198.8 629.8L200 629.7L201.2 629.6L202.3 629.5L203.5 629.5L204.7 629.6L205.9 629.8L207 630.1L208.2 630.4L209.4 630.6L210.5 630.5L211.7 630L212.9 629.3L214 628.6L215.2 628.3L216.4 629L217.6 630.5L218.7 632.7L219.9 635.6L221.1 637.4L222.2 637.4L223.4 637.4L224.6 637.4L225.7 637.4M61.9 637.3L63.1 637.3L64.3 636.8L65.5 636.1L66.6 635.3L67.8 634.4L69 633.6L70.1 632.9L71.3 632.4L72.5 632.1L73.6 631.9L74.8 631.9L76 632.1L77.2 632.5L78.3 633.2L79.5 633.9L80.7 634.6L81.8 635.1L83 635.4L84.2 635.5L85.3 635.2L86.5 634.6L87.7 633.6L88.9 632.4L90 631L91.2 629.3L92.4 627.4L93.5 625.1L94.7 622.2L95.9 618.3L97 613.4L98.2 607.4L99.4 600.4L100.6 592.5L101.7 584.2L102.9 575.9L104.1 568L105.2 561.1L106.4 555.9L107.6 551.9L108.7 549.3L109.9 548.1L111.1 548.3L112.3 549.7L113.4 551.9L114.6 554.9L115.8 558.2L116.9 561.7L118.1 565.1L119.3 568.3L120.4 571.3L121.6 574L122.8 576.4L124 578.4L125.1 580.1L126.3 581.5L127.5 582.8L128.6 584.1L129.8 585.3L131 586.6L132.1 588L133.3 589.2L134.5 590.1L135.7 590.8L136.8 591.2L138 591.5L139.2 591.7L140.3 592.1L141.5 592.7L142.7 593.4L143.8 594.3L145 595.3L146.2 596.3L147.4 597.3L148.5 598.1L149.7 598.7L150.9 599L152 598.8L153.2 598L154.4 596.9L155.5 595.5L156.7 594.1L157.9 593.1L159.1 592.5L160.2 592.3L161.4 592.5L162.6 593L163.7 593.5L164.9 594.1L166.1 594.5L167.2 594.9L168.4 595.1L169.6 595.1L170.8 595L171.9 594.6L173.1 594L174.3 593.1L175.4 592L176.6 590.8L177.8 589.4L178.9 588.1L180.1 587.1L181.3 586.6L182.5 586.6L183.6 587L184.8 587.7L186 588.3L187.1 588.5L188.3 588.4L189.5 587.9L190.6 587.2L191.8 587L193 587.4L194.2 588.6L195.3 590.6L196.5 593.3L197.7 596.2L198.8 599L200 601.7L201.2 604.1L202.3 606.2L203.5 608L204.7 609.6L205.9 611L207 612.4L208.2 613.9L209.4 615.7L210.5 617.9L211.7 620.4L212.9 623.1L214 625.7L215.2 628.2L216.4 630.6L217.6 632.3L218.7 633.3L219.9 633.8L221.1 634L222.2 634L223.4 634.2L224.6 634.5L225.7 635M61.9 631.3L63.1 631.4L64.3 631.6L65.5 631.7L66.6 631.7L67.8 631.5L69 631.3L70.1 631.1L71.3 630.9L72.5 630.8L73.6 630.6L74.8 630.3L76 629.9L77.2 629.5L78.3 629.2L79.5 629L80.7 628.9L81.8 628.8L83 628.7L84.2 628.2L85.3 627.4L86.5 626.4L87.7 625.1L88.9 623.7L90 622.2L91.2 620.2L92.4 617.5L93.5 613.9L94.7 609L95.9 602.6L97 594.9L98.2 586.1L99.4 576.8L100.6 567.8L101.7 559.7L102.9 553.3L104.1 548.8L105.2 546.2L106.4 545.4L107.6 546.6L108.7 549.1L109.9 552.7L111.1 556.8L112.3 561.1L113.4 565.3L114.6 569.2L115.8 572.9L116.9 576.2L118.1 579.4L119.3 582.4L120.4 585.3L121.6 588L122.8 590.3L124 592.2L125.1 593.3L126.3 593.8L127.5 593.7L128.6 593.3L129.8 592.9L131 592.6L132.1 592.6L133.3 593L134.5 593.6L135.7 594.4L136.8 595.2L138 596L139.2 596.5L140.3 596.8L141.5 596.9L142.7 596.9L143.8 596.9L145 596.8L146.2 596.9L147.4 597.1L148.5 597.3L149.7 597.6L150.9 597.8L152 597.8L153.2 597.7L154.4 597.7L155.5 597.6L156.7 597.5L157.9 597.4L159.1 597.2L160.2 597.1L161.4 596.9L162.6 596.8L163.7 596.8L164.9 597L166.1 597.2L167.2 597.3L168.4 597.2L169.6 596.8L170.8 596.2L171.9 595.6L173.1 595.2L174.3 595.3L175.4 595.9L176.6 597.1L177.8 598.8L178.9 600.9L180.1 603.4L181.3 605.8L182.5 608.2L183.6 610.1L184.8 611.7L186 612.7L187.1 613.4L188.3 613.6L189.5 613.5L190.6 613L191.8 612.2L193 611.3L194.2 610.3L195.3 609.5L196.5 609.1L197.7 609.1L198.8 609.5L200 610.3L201.2 611.5L202.3 612.9L203.5 614.4L204.7 615.7L205.9 616.7L207 617.4L208.2 617.8L209.4 618L210.5 618.3L211.7 619L212.9 620.1L214 621.8L215.2 624.3L216.4 627.6L217.6 630.9L218.7 634L219.9 636.7L221.1 637.1L222.2 637.1L223.4 637.1L224.6 637.1L225.7 637.1M61.9 634.5L63.1 634.8L64.3 635.1L65.5 635.2L66.6 635.1L67.8 634.7L69 634L70.1 633.3L71.3 632.7L72.5 632.2L73.6 632.1L74.8 632.1L76 632.2L77.2 632.1L78.3 631.8L79.5 631.1L80.7 630.2L81.8 629.2L83 628.2L84.2 627.2L85.3 626.4L86.5 625.5L87.7 624.4L88.9 622.9L90 620.8L91.2 617.9L92.4 613.8L93.5 608.6L94.7 602.1L95.9 594.4L97 585.8L98.2 576.8L99.4 567.9L100.6 560L101.7 553.6L102.9 549L104.1 546.4L105.2 545.5L106.4 546.5L107.6 548.9L108.7 552.3L109.9 556.2L111.1 560.1L112.3 563.9L113.4 567.3L114.6 570.5L115.8 573.5L116.9 576.3L118.1 578.9L119.3 581.2L120.4 583.3L121.6 585L122.8 586.3L124 587.3L125.1 588L126.3 588.5L127.5 588.9L128.6 589.3L129.8 589.9L131 590.6L132.1 591.4L133.3 592.1L134.5 592.9L135.7 593.6L136.8 594.3L138 594.9L139.2 595.3L140.3 595.3L141.5 594.9L142.7 594.1L143.8 593.1L145 592.2L146.2 591.5L147.4 591.3L148.5 591.6L149.7 592.5L150.9 593.7L152 595.3L153.2 597.1L154.4 598.8L155.5 600.5L156.7 601.9L157.9 603.1L159.1 603.9L160.2 604.4L161.4 604.6L162.6 604.6L163.7 604.6L164.9 604.7L166.1 604.8L167.2 604.9L168.4 605.1L169.6 605.4L170.8 605.7L171.9 606L173.1 606.5L174.3 607.2L175.4 607.9L176.6 608.5L177.8 608.8L178.9 608.5L180.1 607.7L181.3 606.3L182.5 604.5L183.6 602.5L184.8 600.5L186 598.7L187.1 597.5L188.3 596.7L189.5 596.7L190.6 597.2L191.8 598.2L193 599.8L194.2 601.7L195.3 603.7L196.5 605.8L197.7 607.7L198.8 609.5L200 611.1L201.2 612.6L202.3 614.3L203.5 616.2L204.7 618.5L205.9 621.4L207 624.8L208.2 628.9L209.4 633.2L210.5 637.2L211.7 637.2L212.9 637.2L214 637.2L215.2 637.2L216.4 637.2L217.6 637.2L218.7 637.2L219.9 637.2L221.1 637.2L222.2 637.2L223.4 637.2L224.6 637.2L225.7 637.2M61.9 636.6L63.1 636.6L64.3 636.6L65.5 636.6L66.6 636.6L67.8 636.6L69 636.6L70.1 636.6L71.3 636.6L72.5 635.7L73.6 635.1L74.8 634.6L76 634.3L77.2 634L78.3 633.5L79.5 632.7L80.7 631.6L81.8 630.5L83 629.4L84.2 628.5L85.3 627.9L86.5 627.6L87.7 627.4L88.9 627L90 626.3L91.2 625L92.4 623.1L93.5 620.3L94.7 616.6L95.9 611.8L97 605.8L98.2 598.7L99.4 590.8L100.6 582.1L101.7 573.4L102.9 565L104.1 557.5L105.2 551.4L106.4 547.2L107.6 544.6L108.7 543.5L109.9 544.1L111.1 546.1L112.3 549.2L113.4 552.9L114.6 557L115.8 561.1L116.9 564.9L118.1 568.5L119.3 571.8L120.4 574.9L121.6 577.6L122.8 580L124 582.2L125.1 584.2L126.3 586.2L127.5 588.4L128.6 590.5L129.8 592.7L131 594.7L132.1 596.4L133.3 597.7L134.5 598.6L135.7 599.1L136.8 599.6L138 600.1L139.2 600.8L140.3 601.6L141.5 602.4L142.7 603L143.8 603.4L145 603.3L146.2 603L147.4 602.6L148.5 602.2L149.7 602.1L150.9 602.2L152 602.5L153.2 602.9L154.4 603.6L155.5 604.3L156.7 605.3L157.9 606.5L159.1 607.9L160.2 609.4L161.4 610.8L162.6 611.7L163.7 612L164.9 611.5L166.1 610.2L167.2 608.2L168.4 605.8L169.6 603.5L170.8 601.4L171.9 599.7L173.1 598.7L174.3 598.4L175.4 598.8L176.6 599.7L177.8 601L178.9 602.5L180.1 603.7L181.3 604.4L182.5 604.3L183.6 603.4L184.8 601.8L186 599.8L187.1 597.9L188.3 596.5L189.5 595.6L190.6 595.4L191.8 595.4L193 595.4L194.2 595L195.3 594.3L196.5 593.2L197.7 592.1L198.8 591.2L200 590.7L201.2 591L202.3 592.1L203.5 594L204.7 596.6L205.9 599.7L207 602.9L208.2 605.8L209.4 607.9L210.5 609L211.7 608.9L212.9 607.6L214 605.3L215.2 602.7L216.4 602.1L217.6 602.2L218.7 603.5L219.9 606L221.1 609.8L222.2 614.3L223.4 619.1L224.6 623.8L225.7 628.1M61.9 635.6L63.1 635.1L64.3 634.5L65.5 633.7L66.6 633.1L67.8 632.5L69 632.1L70.1 632L71.3 632.1L72.5 632.4L73.6 632.8L74.8 633.3L76 633.5L77.2 633.6L78.3 633.4L79.5 633L80.7 632.5L81.8 631.9L83 631.4L84.2 630.9L85.3 630.4L86.5 629.7L87.7 628.7L88.9 627.3L90 625.4L91.2 622.9L92.4 620L93.5 616.5L94.7 612.2L95.9 607.2L97 601.3L98.2 594.7L99.4 587.5L100.6 580.3L101.7 573.6L102.9 567.9L104.1 563.6L105.2 560.8L106.4 559.6L107.6 560L108.7 561.6L109.9 564.1L111.1 567.3L112.3 570.7L113.4 573.8L114.6 576.6L115.8 578.9L116.9 580.8L118.1 582.4L119.3 583.9L120.4 585.2L121.6 586.5L122.8 587.6L124 588.6L125.1 589.5L126.3 590.4L127.5 591.2L128.6 592.2L129.8 593.1L131 594.1L132.1 594.8L133.3 595.5L134.5 596.1L135.7 596.7L136.8 597.3L138 597.9L139.2 598.5L140.3 599.1L141.5 599.5L142.7 599.8L143.8 600L145 600.2L146.2 600.3L147.4 600.4L148.5 600.2L149.7 599.9L150.9 599.3L152 598.6L153.2 598L154.4 597.7L155.5 597.7L156.7 598.1L157.9 598.9L159.1 599.8L160.2 600.7L161.4 601.5L162.6 602.1L163.7 602.5L164.9 602.7L166.1 602.5L167.2 602.1L168.4 601.6L169.6 601.2L170.8 601.3L171.9 601.9L173.1 603.2L174.3 604.9L175.4 607L176.6 609.3L177.8 611.6L178.9 613.7L180.1 615.6L181.3 617.1L182.5 618.1L183.6 618.3L184.8 617.9L186 616.8L187.1 615L188.3 612.9L189.5 610.5L190.6 608.2L191.8 606.1L193 604.5L194.2 603.5L195.3 603.3L196.5 603.7L197.7 604.8L198.8 606.5L200 608.5L201.2 610.8L202.3 613.2L203.5 615.6L204.7 617.8L205.9 619.9L207 622.1L208.2 624.2L209.4 626.4L210.5 628.8L211.7 631.4L212.9 634L214 636.2L215.2 636.2L216.4 636.2L217.6 636.2L218.7 636.2L219.9 636.2L221.1 636.2L222.2 636.2L223.4 635.7L224.6 634.8L225.7 634.4M61.9 632.6L63.1 633L64.3 633.5L65.5 634L66.6 634.5L67.8 634.7L69 634.8L70.1 634.6L71.3 634.2L72.5 633.9L73.6 633.6L74.8 633.5L76 633.5L77.2 633.7L78.3 633.8L79.5 633.7L80.7 633.3L81.8 632.5L83 631.4L84.2 630.1L85.3 628.8L86.5 627.6L87.7 626.6L88.9 625.4L90 623.8L91.2 621.3L92.4 617.9L93.5 613.2L94.7 607.5L95.9 600.6L97 592.9L98.2 584.4L99.4 575.5L100.6 566.7L101.7 558.6L102.9 551.9L104.1 546.9L105.2 544.1L106.4 543.3L107.6 544.3L108.7 546.8L109.9 550.3L111.1 554.4L112.3 558.7L113.4 562.9L114.6 566.7L115.8 570.2L116.9 573.3L118.1 576.2L119.3 578.9L120.4 581.6L121.6 584.2L122.8 586.7L124 588.9L125.1 590.7L126.3 591.8L127.5 592.2L128.6 592.1L129.8 591.5L131 590.7L132.1 590.1L133.3 589.7L134.5 589.9L135.7 590.4L136.8 591.1L138 591.8L139.2 592.2L140.3 592.2L141.5 591.9L142.7 591.3L143.8 590.7L145 590.3L146.2 590.2L147.4 590.4L148.5 590.9L149.7 591.5L150.9 592L152 592.2L153.2 592.2L154.4 592L155.5 591.7L156.7 591.6L157.9 591.8L159.1 592.4L160.2 593.3L161.4 594.5L162.6 595.9L163.7 597.4L164.9 599.1L166.1 600.8L167.2 602.5L168.4 604.3L169.6 606L170.8 607.5L171.9 608.7L173.1 609.6L174.3 610.2L175.4 610.4L176.6 610.3L177.8 609.8L178.9 608.8L180.1 607.3L181.3 605.3L182.5 603.1L183.6 600.9L184.8 599L186 597.7L187.1 597.3L188.3 597.7L189.5 598.9L190.6 600.6L191.8 602.5L193 604.2L194.2 605.4L195.3 605.9L196.5 605.8L197.7 605.3L198.8 604.6L200 604.1L201.2 603.9L202.3 604.3L203.5 605.1L204.7 606.4L205.9 608L207 609.8L208.2 611.3L209.4 612.6L210.5 613.5L211.7 614.1L212.9 614.5L214 614.9L215.2 615.8L216.4 618.2L217.6 620.7L218.7 623.3L219.9 625.7L221.1 627.9L222.2 629.5L223.4 630.6L224.6 631.2L225.7 631.6M61.9 636.2L63.1 636.2L64.3 636.2L65.5 635.7L66.6 635.1L67.8 634.5L69 633.8L70.1 633.3L71.3 633L72.5 632.9L73.6 633L74.8 633.3L76 633.7L77.2 634.1L78.3 634.2L79.5 634.1L80.7 633.8L81.8 633.5L83 633L84.2 632.4L85.3 631.8L86.5 630.8L87.7 629.6L88.9 627.9L90 625.6L91.2 622.4L92.4 618.2L93.5 612.7L94.7 605.8L95.9 597.8L97 588.7L98.2 579L99.4 569.3L100.6 560.2L101.7 552.4L102.9 546.2L104.1 542.1L105.2 540.1L106.4 540L107.6 541.3L108.7 543.7L109.9 546.8L111.1 550.4L112.3 554L113.4 557.5L114.6 560.9L115.8 564L116.9 567L118.1 569.7L119.3 572.1L120.4 574.3L121.6 576L122.8 577.5L124 578.5L125.1 579.4L126.3 580L127.5 580.6L128.6 581.2L129.8 582L131 582.9L132.1 584.1L133.3 585.6L134.5 587.4L135.7 589.3L136.8 591L138 592.5L139.2 593.6L140.3 594.2L141.5 594.4L142.7 594.2L143.8 593.8L145 593.3L146.2 592.7L147.4 592.2L148.5 591.9L149.7 591.9L150.9 592.2L152 593L153.2 594.2L154.4 595.6L155.5 597.3L156.7 598.8L157.9 600.1L159.1 601.1L160.2 601.6L161.4 601.7L162.6 601.5L163.7 601.3L164.9 601L166.1 600.8L167.2 600.7L168.4 600.5L169.6 600.2L170.8 599.8L171.9 598.9L173.1 597.7L174.3 596.2L175.4 594.3L176.6 592.6L177.8 591.2L178.9 590.4L180.1 590.2L181.3 590.8L182.5 591.8L183.6 593.1L184.8 594.3L186 595.1L187.1 595.6L188.3 595.8L189.5 595.9L190.6 596.2L191.8 596.5L193 597.1L194.2 598L195.3 599.3L196.5 601.2L197.7 603.5L198.8 606.3L200 609.4L201.2 612.5L202.3 615.4L203.5 618L204.7 620.1L205.9 621.3L207 621.6L208.2 620.8L209.4 619.1L210.5 616.7L211.7 613.9L212.9 611.1L214 608.6L215.2 607L216.4 607.7L217.6 609.1L218.7 611L219.9 613.4L221.1 616.2L222.2 619.4L223.4 623L224.6 626.6L225.7 630.1M61.9 629.3L63.1 630L64.3 630.7L65.5 631L66.6 631L67.8 630.9L69 630.6L70.1 630.5L71.3 630.7L72.5 631L73.6 631.5L74.8 631.9L76 632.3L77.2 632.5L78.3 632.5L79.5 632.4L80.7 632.3L81.8 632.2L83 632.1L84.2 632L85.3 631.7L86.5 631.3L87.7 630.5L88.9 629.3L90 627.4L91.2 624.6L92.4 620.9L93.5 616L94.7 609.9L95.9 602.6L97 594.3L98.2 585.2L99.4 576L100.6 567.4L101.7 559.9L102.9 554L104.1 549.9L105.2 547.6L106.4 546.8L107.6 547.4L108.7 549.1L109.9 551.8L111.1 555.1L112.3 558.9L113.4 562.7L114.6 566.5L115.8 570.1L116.9 573.7L118.1 577.2L119.3 580.5L120.4 583.6L121.6 586.3L122.8 588.6L124 590.6L125.1 592.2L126.3 593.6L127.5 594.7L128.6 595.3L129.8 595.5L131 595.4L132.1 594.9L133.3 594.4L134.5 593.9L135.7 593.6L136.8 593.4L138 593.2L139.2 593.2L140.3 593.1L141.5 592.9L142.7 592.7L143.8 592.4L145 592.2L146.2 591.9L147.4 591.7L148.5 591.4L149.7 591.3L150.9 591.4L152 591.8L153.2 592.4L154.4 593.2L155.5 593.9L156.7 594.6L157.9 595L159.1 595.3L160.2 595.3L161.4 595.2L162.6 595L163.7 594.7L164.9 594.6L166.1 594.5L167.2 594.7L168.4 595.1L169.6 595.5L170.8 595.9L171.9 596.1L173.1 596L174.3 595.5L175.4 594.6L176.6 593.7L177.8 593.1L178.9 593.1L180.1 593.9L181.3 595.4L182.5 597.5L183.6 599.6L184.8 601.6L186 602.9L187.1 603.6L188.3 603.6L189.5 603.1L190.6 602.3L191.8 601.4L193 600.5L194.2 599.7L195.3 599.1L196.5 598.7L197.7 598.6L198.8 598.7L200 599.1L201.2 599.7L202.3 600.5L203.5 601.5L204.7 602.6L205.9 603.7L207 604.7L208.2 605.6L209.4 606.5L210.5 607.5L211.7 608.8L212.9 610.8L214 613.3L215.2 616.7L216.4 621.1L217.6 625.2L218.7 628.9L219.9 631.9L221.1 634.4L222.2 636.3L223.4 637.1L224.6 637.1L225.7 637.1M61.9 635.2L63.1 635.1L64.3 634.9L65.5 634.4L66.6 633.9L67.8 633.4L69 633L70.1 632.9L71.3 632.9L72.5 632.9L73.6 633L74.8 632.9L76 632.8L77.2 632.6L78.3 632.3L79.5 632L80.7 631.7L81.8 631.4L83 631.1L84.2 630.8L85.3 630.5L86.5 630.2L87.7 629.5L88.9 628.4L90 626.6L91.2 623.8L92.4 619.9L93.5 614.9L94.7 608.8L95.9 601.8L97 593.9L98.2 585.4L99.4 576.8L100.6 568.6L101.7 561.4L102.9 555.5L104.1 551.3L105.2 548.8L106.4 548.1L107.6 549.1L108.7 551.5L109.9 554.9L111.1 559.2L112.3 563.8L113.4 568.6L114.6 573.2L115.8 577.5L116.9 581.2L118.1 584.2L119.3 586.7L120.4 588.5L121.6 589.8L122.8 590.8L124 591.6L125.1 592.4L126.3 593.4L127.5 594.7L128.6 596.2L129.8 597.9L131 599.5L132.1 600.8L133.3 601.8L134.5 602.4L135.7 602.7L136.8 602.7L138 602.4L139.2 602.1L140.3 601.7L141.5 601.4L142.7 601.3L143.8 601.4L145 601.7L146.2 602.3L147.4 603.1L148.5 604.1L149.7 605.3L150.9 606.5L152 607.8L153.2 608.9L154.4 609.9L155.5 610.6L156.7 611L157.9 611L159.1 610.7L160.2 610L161.4 609.1L162.6 608L163.7 607L164.9 606.1L166.1 605.2L167.2 604.3L168.4 603.3L169.6 602.1L170.8 600.7L171.9 599.3L173.1 598.2L174.3 597.6L175.4 597.5L176.6 598L177.8 598.9L178.9 600.1L180.1 601.5L181.3 602.9L182.5 604.5L183.6 606.3L184.8 608.4L186 610.8L187.1 613.6L188.3 616.5L189.5 619.4L190.6 622.2L191.8 624.8L193 627L194.2 628.8L195.3 630.1L196.5 630.5L197.7 630.2L198.8 629.4L200 628.4L201.2 627.4L202.3 626.9L203.5 626.7L204.7 627.1L205.9 627.8L207 628.9L208.2 630.1L209.4 631.1L210.5 631.8L211.7 632.1L212.9 632.1L214 631.6L215.2 631.1L216.4 631.2L217.6 631.4L218.7 631.9L219.9 632.4L221.1 632.9L222.2 633.3L223.4 633.6L224.6 634L225.7 634.5M61.9 631.9L63.1 631.5L64.3 631.2L65.5 630.9L66.6 630.7L67.8 630.5L69 630.4L70.1 630.4L71.3 630.6L72.5 630.8L73.6 631.1L74.8 631.5L76 631.8L77.2 631.9L78.3 632L79.5 631.9L80.7 631.7L81.8 631.4L83 630.9L84.2 630.1L85.3 629L86.5 627.7L87.7 626.2L88.9 624.5L90 622.7L91.2 620.9L92.4 618.8L93.5 616.3L94.7 613.2L95.9 609.2L97 604L98.2 597.6L99.4 590.1L100.6 581.8L101.7 573.2L102.9 564.9L104.1 557.7L105.2 552L106.4 548L107.6 546.1L108.7 546.1L109.9 547.9L111.1 551.1L112.3 555.2L113.4 559.8L114.6 564.5L115.8 568.9L116.9 573.1L118.1 577L119.3 580.6L120.4 584L121.6 587.2L122.8 590L124 592.4L125.1 594.4L126.3 596L127.5 597.1L128.6 597.9L129.8 598.3L131 598.5L132.1 598.3L133.3 598L134.5 597.5L135.7 597.1L136.8 596.7L138 596.7L139.2 597L140.3 597.5L141.5 598.3L142.7 599.3L143.8 600.6L145 602L146.2 603.6L147.4 605L148.5 606.3L149.7 607.2L150.9 607.6L152 607.7L153.2 607.4L154.4 606.9L155.5 606.3L156.7 605.9L157.9 605.6L159.1 605.5L160.2 605.8L161.4 606.3L162.6 606.8L163.7 607.4L164.9 607.9L166.1 608.3L167.2 608.7L168.4 609.1L169.6 609.6L170.8 610.4L171.9 611.3L173.1 612.3L174.3 613.2L175.4 613.9L176.6 614.1L177.8 613.9L178.9 613.5L180.1 612.9L181.3 612.3L182.5 611.6L183.6 611L184.8 610.4L186 609.8L187.1 609.4L188.3 609.2L189.5 609.3L190.6 610L191.8 611.2L193 612.7L194.2 614.1L195.3 615.5L196.5 616.8L197.7 617.9L198.8 618.8L200 619.7L201.2 620.5L202.3 621.2L203.5 621.9L204.7 622.7L205.9 623.5L207 624.4L208.2 625.3L209.4 626.2L210.5 627L211.7 627.3L212.9 626.9L214 626L215.2 624.5L216.4 623.7L217.6 623.2L218.7 623.5L219.9 624.6L221.1 626.5L222.2 629L223.4 631.7L224.6 634.1L225.7 636.1M61.9 635.5L63.1 635.2L64.3 634.9L65.5 634.6L66.6 634.4L67.8 634.4L69 634.6L70.1 635.1L71.3 635.8L72.5 636.5L73.6 636.5L74.8 636.5L76 636.5L77.2 636.5L78.3 635.8L79.5 635.1L80.7 634.6L81.8 634.3L83 634.3L84.2 634.4L85.3 634.4L86.5 634.2L87.7 633.5L88.9 632.3L90 630.5L91.2 628L92.4 625L93.5 621.4L94.7 617.2L95.9 612.3L97 606.7L98.2 600.3L99.4 593.2L100.6 585.6L101.7 577.8L102.9 570.4L104.1 563.9L105.2 558.8L106.4 555.4L107.6 553.5L108.7 553.2L109.9 554.1L111.1 556.1L112.3 558.8L113.4 562L114.6 565.4L115.8 568.8L116.9 572.1L118.1 575.1L119.3 577.8L120.4 580.4L121.6 582.8L122.8 585L124 586.9L125.1 588.7L126.3 590.4L127.5 592L128.6 593.5L129.8 594.8L131 595.8L132.1 596.4L133.3 596.6L134.5 596.5L135.7 596.1L136.8 595.6L138 595.1L139.2 594.7L140.3 594.4L141.5 594.2L142.7 594.2L143.8 594.2L145 594.4L146.2 594.7L147.4 595.1L148.5 595.6L149.7 596.2L150.9 596.7L152 597.3L153.2 597.8L154.4 598.2L155.5 598.5L156.7 598.6L157.9 598.7L159.1 598.8L160.2 599L161.4 599.3L162.6 599.8L163.7 600.3L164.9 601L166.1 601.6L167.2 602.5L168.4 603.6L169.6 605.1L170.8 606.9L171.9 609L173.1 611.2L174.3 613.4L175.4 615.3L176.6 616.6L177.8 617.3L178.9 617.2L180.1 616.6L181.3 615.5L182.5 614.2L183.6 612.9L184.8 611.6L186 610.2L187.1 608.7L188.3 606.9L189.5 604.8L190.6 602.6L191.8 600.4L193 598.6L194.2 597.6L195.3 597.7L196.5 598.9L197.7 601.3L198.8 604.7L200 608.6L201.2 612.6L202.3 616.3L203.5 619.2L204.7 620.9L205.9 621.1L207 619.9L208.2 617.6L209.4 614.5L210.5 611.5L211.7 608.9L212.9 607.1L214 606.4L215.2 607L216.4 609.9L217.6 613.2L218.7 616.7L219.9 620.1L221.1 623.5L222.2 626.6L223.4 629.5L224.6 631.9L225.7 633.9M61.9 635.4L63.1 635.3L64.3 634.9L65.5 634.2L66.6 633.6L67.8 633.1L69 632.8L70.1 632.9L71.3 633.2L72.5 633.5L73.6 633.7L74.8 633.4L76 632.8L77.2 631.8L78.3 630.6L79.5 629.3L80.7 628.4L81.8 627.7L83 627.5L84.2 627.3L85.3 627.2L86.5 626.8L87.7 625.8L88.9 624L90 621.3L91.2 617.6L92.4 612.8L93.5 607.1L94.7 600.4L95.9 592.8L97 584.6L98.2 576.2L99.4 568.1L100.6 561L101.7 555.3L102.9 551.1L104.1 548.7L105.2 547.8L106.4 548.4L107.6 550.2L108.7 552.9L109.9 556.2L111.1 559.9L112.3 563.7L113.4 567.4L114.6 570.9L115.8 574.1L116.9 576.9L118.1 579.4L119.3 581.6L120.4 583.4L121.6 585L122.8 586.4L124 587.7L125.1 588.8L126.3 589.6L127.5 590.3L128.6 590.9L129.8 591.6L131 592.4L132.1 593.6L133.3 594.9L134.5 596.2L135.7 597.4L136.8 598.5L138 599.2L139.2 599.6L140.3 599.7L141.5 599.6L142.7 599.2L143.8 598.8L145 598.4L146.2 598.3L147.4 598.5L148.5 599L149.7 599.8L150.9 600.6L152 601.3L153.2 601.9L154.4 602.3L155.5 602.4L156.7 602.2L157.9 601.7L159.1 600.9L160.2 599.7L161.4 598.3L162.6 596.9L163.7 595.7L164.9 594.8L166.1 594.3L167.2 594L168.4 594.2L169.6 594.6L170.8 595.2L171.9 595.9L173.1 596.6L174.3 597.1L175.4 597.5L176.6 597.6L177.8 597.5L178.9 597.7L180.1 598.2L181.3 599L182.5 600.2L183.6 601.8L184.8 603.6L186 605.4L187.1 607.2L188.3 608.9L189.5 610.8L190.6 612.8L191.8 615.1L193 617.4L194.2 619.8L195.3 622.2L196.5 624.3L197.7 626L198.8 627L200 627.2L201.2 626.4L202.3 624.8L203.5 622.5L204.7 620L205.9 617.7L207 615.9L208.2 614.8L209.4 614.6L210.5 615.2L211.7 616.6L212.9 618.6L214 621L215.2 623.6L216.4 626.9L217.6 629.8L218.7 632.3L219.9 634.3L221.1 635.9L222.2 637L223.4 637.3L224.6 637.3L225.7 637.3M61.9 633.4L63.1 633.6L64.3 634.1L65.5 634.6L66.6 635L67.8 635.3L69 635.4L70.1 635.3L71.3 635.1L72.5 634.9L73.6 634.6L74.8 634.3L76 633.9L77.2 633.5L78.3 633L79.5 632.4L80.7 631.5L81.8 630.5L83 629.2L84.2 627.7L85.3 626L86.5 624.3L87.7 622.7L88.9 620.9L90 618.7L91.2 615.7L92.4 611.4L93.5 605.6L94.7 598.3L95.9 589.5L97 579.9L98.2 570.2L99.4 561.2L100.6 553.6L101.7 547.8L102.9 544L104.1 542.1L105.2 542.1L106.4 543.7L107.6 546.7L108.7 550.9L109.9 555.7L111.1 560.8L112.3 565.5L113.4 569.7L114.6 573.3L115.8 576.3L116.9 578.8L118.1 581L119.3 583L120.4 584.7L121.6 586.2L122.8 587.3L124 588.1L125.1 588.6L126.3 588.9L127.5 589.2L128.6 589.7L129.8 590.3L131 591L132.1 591.7L133.3 592.4L134.5 593.1L135.7 593.7L136.8 594.5L138 595.4L139.2 596.5L140.3 597.7L141.5 598.8L142.7 599.9L143.8 600.8L145 601.5L146.2 602L147.4 602.2L148.5 602.3L149.7 602.1L150.9 601.6L152 601L153.2 600.1L154.4 599.2L155.5 598.6L156.7 598.3L157.9 598.6L159.1 599.3L160.2 600.5L161.4 601.9L162.6 603.3L163.7 604.7L164.9 605.9L166.1 606.9L167.2 607.9L168.4 608.9L169.6 609.9L170.8 610.8L171.9 611.6L173.1 612L174.3 612L175.4 611.4L176.6 610.4L177.8 609L178.9 607.6L180.1 606.1L181.3 604.9L182.5 604L183.6 603.6L184.8 603.8L186 604.5L187.1 605.7L188.3 607.3L189.5 609.1L190.6 611L191.8 612.8L193 614.2L194.2 615L195.3 615.1L196.5 614.8L197.7 614.3L198.8 614.1L200 614.2L201.2 615L202.3 616.4L203.5 618.3L204.7 620.3L205.9 622.5L207 624.8L208.2 627.1L209.4 629.3L210.5 631.2L211.7 632.6L212.9 633.3L214 633.3L215.2 632.6L216.4 631.8L217.6 630.8L218.7 630.1L219.9 629.9L221.1 630.3L222.2 631.3L223.4 632.6L224.6 633.9L225.7 634.9M61.9 634.8L63.1 634.5L64.3 634.2L65.5 633.8L66.6 633.3L67.8 632.8L69 632.4L70.1 632.2L71.3 632.1L72.5 632.3L73.6 632.6L74.8 632.9L76 633.2L77.2 633.4L78.3 633.4L79.5 633.2L80.7 632.8L81.8 632.1L83 631.1L84.2 629.7L85.3 628L86.5 625.8L87.7 623.2L88.9 620L90 616L91.2 611.2L92.4 605.2L93.5 598.2L94.7 590L95.9 581.2L97 572.1L98.2 563.5L99.4 555.9L100.6 549.9L101.7 545.8L102.9 543.7L104.1 543.3L105.2 544.6L106.4 547L107.6 550.4L108.7 554.2L109.9 558.3L111.1 562.4L112.3 566.5L113.4 570.3L114.6 573.8L115.8 576.7L116.9 579L118.1 580.6L119.3 581.8L120.4 582.6L121.6 583.4L122.8 584.4L124 585.4L125.1 586.6L126.3 587.7L127.5 588.7L128.6 589.6L129.8 590.3L131 590.9L132.1 591.3L133.3 591.6L134.5 591.8L135.7 591.7L136.8 591.6L138 591.4L139.2 591.3L140.3 591.3L141.5 591.5L142.7 591.8L143.8 592.2L145 592.8L146.2 593.3L147.4 593.9L148.5 594.5L149.7 595.1L150.9 595.9L152 596.8L153.2 597.9L154.4 599.1L155.5 600.3L156.7 601.4L157.9 602.3L159.1 603L160.2 603.4L161.4 603.5L162.6 603.2L163.7 602.7L164.9 601.9L166.1 600.7L167.2 599.5L168.4 598.2L169.6 597.1L170.8 596.3L171.9 596L173.1 596.3L174.3 597.2L175.4 598.7L176.6 600.4L177.8 602.2L178.9 603.8L180.1 605.2L181.3 606.1L182.5 606.8L183.6 607.2L184.8 607.2L186 606.8L187.1 606L188.3 604.5L189.5 602.7L190.6 600.7L191.8 598.6L193 596.9L194.2 595.6L195.3 595.1L196.5 595.7L197.7 597.2L198.8 599.8L200 603.2L201.2 606.9L202.3 611L203.5 615.1L204.7 619.1L205.9 623.2L207 627L208.2 630.5L209.4 633.5L210.5 635.8L211.7 636.6L212.9 636.6L214 636.6L215.2 636.6L216.4 636.5L217.6 635.9L218.7 635.4L219.9 635.3L221.1 635.5L222.2 636.1L223.4 636.6L224.6 636.6L225.7 636.6M61.9 631.5L63.1 632.3L64.3 633.1L65.5 633.8L66.6 634.4L67.8 634.8L69 635L70.1 635L71.3 634.8L72.5 634.5L73.6 634.3L74.8 634.1L76 633.9L77.2 633.7L78.3 633.3L79.5 632.8L80.7 632L81.8 631.1L83 630.1L84.2 629.1L85.3 628.1L86.5 627.1L87.7 625.8L88.9 624.2L90 622L91.2 618.7L92.4 614.3L93.5 608.7L94.7 601.7L95.9 593.5L97 584.6L98.2 575.3L99.4 566.3L100.6 558.2L101.7 551.6L102.9 547L104.1 544.3L105.2 543.6L106.4 544.5L107.6 546.8L108.7 550.1L109.9 554L111.1 558L112.3 562.1L113.4 566L114.6 569.8L115.8 573.5L116.9 577.2L118.1 580.9L119.3 584.4L120.4 587.4L121.6 590L122.8 592.1L124 593.7L125.1 595L126.3 596.1L127.5 597L128.6 597.5L129.8 597.7L131 597.4L132.1 596.8L133.3 596.1L134.5 595.3L135.7 594.8L136.8 594.7L138 594.9L139.2 595.2L140.3 595.7L141.5 596.1L142.7 596.3L143.8 596.2L145 595.9L146.2 595.4L147.4 594.8L148.5 594.3L149.7 593.9L150.9 593.9L152 594.2L153.2 594.8L154.4 595.7L155.5 596.8L156.7 598L157.9 599.1L159.1 600.2L160.2 601.1L161.4 601.8L162.6 602.1L163.7 602L164.9 601.6L166.1 600.9L167.2 600.2L168.4 599.6L169.6 599.3L170.8 599.7L171.9 600.6L173.1 602L174.3 603.6L175.4 605.4L176.6 607L177.8 608.3L178.9 608.9L180.1 608.8L181.3 607.8L182.5 606.1L183.6 603.9L184.8 601.4L186 599L187.1 597.1L188.3 596L189.5 595.9L190.6 596.6L191.8 598.2L193 600.5L194.2 603.5L195.3 606.8L196.5 610.4L197.7 614L198.8 617.5L200 620.8L201.2 623.8L202.3 626.6L203.5 629.1L204.7 631.5L205.9 633.6L207 635.6L208.2 636.9L209.4 636.9L210.5 636.9L211.7 636.9L212.9 636.9L214 636.9L215.2 636.9L216.4 636.9L217.6 636.2L218.7 635.4L219.9 635L221.1 634.9L222.2 634.9L223.4 634.8L224.6 634.7L225.7 634.7M61.9 633.3L63.1 632.4L64.3 631.8L65.5 631.4L66.6 631.4L67.8 631.6L69 631.9L70.1 632.1L71.3 632.2L72.5 632L73.6 631.7L74.8 631.1L76 630.3L77.2 629.4L78.3 628.5L79.5 627.5L80.7 626.6L81.8 625.9L83 625.2L84.2 624.5L85.3 623.9L86.5 623.2L87.7 622.2L88.9 620.9L90 619.2L91.2 616.7L92.4 613.4L93.5 609L94.7 603.4L95.9 596.6L97 588.8L98.2 580.3L99.4 571.8L100.6 564L101.7 557.4L102.9 552.3L104.1 549L105.2 547.4L106.4 547.3L107.6 548.6L108.7 551.2L109.9 554.6L111.1 558.7L112.3 562.9L113.4 566.9L114.6 570.4L115.8 573.4L116.9 575.8L118.1 578L119.3 580L120.4 581.8L121.6 583.6L122.8 585.2L124 586.8L125.1 588.3L126.3 589.7L127.5 591.1L128.6 592.3L129.8 593.3L131 594.1L132.1 594.7L133.3 595.3L134.5 595.8L135.7 596.2L136.8 596.5L138 596.6L139.2 596.5L140.3 596.2L141.5 595.8L142.7 595.4L143.8 595.2L145 595.2L146.2 595.5L147.4 595.9L148.5 596.4L149.7 597.1L150.9 597.8L152 598.7L153.2 599.9L154.4 601.2L155.5 602.6L156.7 604L157.9 605.2L159.1 606.1L160.2 606.8L161.4 607.2L162.6 607.5L163.7 607.7L164.9 607.7L166.1 607.6L167.2 607.5L168.4 607.2L169.6 607.1L170.8 607.3L171.9 607.9L173.1 609L174.3 610.6L175.4 612.6L176.6 614.6L177.8 616.5L178.9 618L180.1 618.9L181.3 619.3L182.5 619.1L183.6 618.4L184.8 617.4L186 616L187.1 614.3L188.3 612.5L189.5 610.6L190.6 608.8L191.8 607.3L193 606.2L194.2 605.8L195.3 606.1L196.5 607L197.7 608.6L198.8 610.3L200 611.9L201.2 613.2L202.3 614L203.5 614.4L204.7 614.6L205.9 614.9L207 615.6L208.2 617L209.4 619L210.5 621.6L211.7 624.5L212.9 627.3L214 629.4L215.2 630.8L216.4 631.3L217.6 630.6L218.7 629.1L219.9 627.1L221.1 625.2L222.2 623.9L223.4 623.4L224.6 624.2L225.7 625.9M61.9 636.5L63.1 636.5L64.3 636.5L65.5 636.2L66.6 635.9L67.8 635.8L69 635.9L70.1 636.2L71.3 636.4L72.5 636.5L73.6 636.5L74.8 636.4L76 636.2L77.2 635.9L78.3 635.5L79.5 635L80.7 634.4L81.8 633.8L83 633.1L84.2 632.5L85.3 631.9L86.5 631.2L87.7 630.4L88.9 629.4L90 628.3L91.2 626.9L92.4 625.2L93.5 623L94.7 620.1L95.9 616.2L97 611.2L98.2 605.2L99.4 598.4L100.6 590.9L101.7 583.2L102.9 575.8L104.1 569.2L105.2 563.7L106.4 559.7L107.6 557.4L108.7 557L109.9 558.4L111.1 561.2L112.3 565.2L113.4 569.7L114.6 574.3L115.8 578.5L116.9 582.2L118.1 585.3L119.3 587.9L120.4 589.8L121.6 591.2L122.8 592.1L124 592.6L125.1 592.8L126.3 592.8L127.5 592.9L128.6 593.2L129.8 593.7L131 594.6L132.1 595.6L133.3 596.7L134.5 597.8L135.7 598.8L136.8 599.9L138 600.8L139.2 601.7L140.3 602.6L141.5 603.3L142.7 604.1L143.8 604.6L145 605.1L146.2 605.5L147.4 605.8L148.5 606L149.7 606.1L150.9 606.1L152 606.1L153.2 606.2L154.4 606.3L155.5 606.6L156.7 606.8L157.9 606.9L159.1 606.9L160.2 606.6L161.4 606.2L162.6 605.6L163.7 604.9L164.9 604L166.1 603L167.2 602L168.4 601.1L169.6 600.4L170.8 599.9L171.9 599.6L173.1 599.3L174.3 598.8L175.4 597.9L176.6 596.6L177.8 594.7L178.9 592.7L180.1 590.5L181.3 588.6L182.5 587.2L183.6 586.4L184.8 586.4L186 587.1L187.1 588.5L188.3 590.5L189.5 592.8L190.6 595.2L191.8 597.6L193 599.6L194.2 601.1L195.3 602.2L196.5 603.1L197.7 603.8L198.8 604.8L200 606.2L201.2 608.4L202.3 611.4L203.5 615.1L204.7 619.3L205.9 623.7L207 627.9L208.2 631.7L209.4 635L210.5 636.5L211.7 636.5L212.9 636.5L214 636.5L215.2 636.5L216.4 636.5L217.6 636.5L218.7 636.5L219.9 636.5L221.1 636.5L222.2 636.5L223.4 636.5L224.6 636.5L225.7 636.5M61.9 633.5L63.1 633L64.3 632.6L65.5 632.2L66.6 632.2L67.8 632.5L69 633.1L70.1 633.6L71.3 634.1L72.5 634.3L73.6 634.3L74.8 634.3L76 634.2L77.2 634.1L78.3 633.9L79.5 633.7L80.7 633.3L81.8 632.9L83 632.4L84.2 631.9L85.3 631.2L86.5 630.4L87.7 629.2L88.9 627.4L90 624.8L91.2 621.2L92.4 616.4L93.5 610.2L94.7 602.7L95.9 594.1L97 584.6L98.2 574.9L99.4 565.5L100.6 557.1L101.7 550.2L102.9 545.1L104.1 541.8L105.2 540.4L106.4 540.5L107.6 542L108.7 544.5L109.9 547.9L111.1 551.7L112.3 555.9L113.4 560L114.6 563.8L115.8 567.3L116.9 570.4L118.1 573.1L119.3 575.4L120.4 577.4L121.6 579.2L122.8 580.7L124 582.2L125.1 583.5L126.3 584.8L127.5 585.8L128.6 586.6L129.8 587L131 587.2L132.1 587L133.3 586.8L134.5 586.4L135.7 586.1L136.8 585.9L138 585.8L139.2 586.1L140.3 586.6L141.5 587.4L142.7 588.4L143.8 589.4L145 590.5L146.2 591.5L147.4 592.5L148.5 593.4L149.7 594.2L150.9 594.9L152 595.7L153.2 596.6L154.4 597.5L155.5 598.4L156.7 599.3L157.9 599.9L159.1 600.2L160.2 600.2L161.4 599.9L162.6 599.5L163.7 599L164.9 598.6L166.1 598.2L167.2 597.8L168.4 597.3L169.6 596.9L170.8 596.7L171.9 596.7L173.1 597L174.3 597.5L175.4 598.1L176.6 598.6L177.8 598.9L178.9 599L180.1 599L181.3 598.6L182.5 597.9L183.6 596.8L184.8 595.4L186 594L187.1 592.8L188.3 592.2L189.5 592.6L190.6 594.1L191.8 596.7L193 600.1L194.2 604.2L195.3 608.6L196.5 612.8L197.7 616.3L198.8 618.7L200 619.9L201.2 619.6L202.3 617.8L203.5 615L204.7 611.8L205.9 608.6L207 606.2L208.2 604.9L209.4 604.8L210.5 605.9L211.7 607.7L212.9 609.9L214 612.1L215.2 614.1L216.4 616.4L217.6 618L218.7 619.1L219.9 620.2L221.1 621.5L222.2 623.6L223.4 626.3L224.6 629.4L225.7 632.4M61.9 637L63.1 637L64.3 637L65.5 637L66.6 637L67.8 637L69 636.9L70.1 636.4L71.3 635.8L72.5 635L73.6 634.1L74.8 633.3L76 632.5L77.2 631.7L78.3 631.1L79.5 630.7L80.7 630.5L81.8 630.7L83 631L84.2 631.5L85.3 631.7L86.5 631.4L87.7 630.6L88.9 629.1L90 627.1L91.2 624.5L92.4 621.3L93.5 617.2L94.7 612.2L95.9 605.9L97 598.5L98.2 590.1L99.4 581.1L100.6 572.3L101.7 564.2L102.9 557.5L104.1 552.6L105.2 549.6L106.4 548.7L107.6 549.7L108.7 552.3L109.9 556.1L111.1 560.7L112.3 565.5L113.4 570L114.6 573.9L115.8 576.9L116.9 579.2L118.1 580.8L119.3 582L120.4 582.9L121.6 583.8L122.8 584.7L124 585.7L125.1 586.6L126.3 587.4L127.5 588.1L128.6 588.7L129.8 589.1L131 589.4L132.1 589.6L133.3 589.8L134.5 590L135.7 590.2L136.8 590.4L138 590.7L139.2 591L140.3 591.3L141.5 591.5L142.7 591.6L143.8 591.8L145 592.1L146.2 592.6L147.4 593.4L148.5 594.4L149.7 595.6L150.9 596.8L152 598.1L153.2 599.4L154.4 600.5L155.5 601.5L156.7 602.3L157.9 603L159.1 603.7L160.2 604.4L161.4 605.1L162.6 605.8L163.7 606.4L164.9 606.9L166.1 607.3L167.2 607.8L168.4 608.3L169.6 608.8L170.8 609.4L171.9 609.8L173.1 610.2L174.3 610.2L175.4 610L176.6 609.6L177.8 608.9L178.9 608L180.1 607L181.3 606L182.5 605.2L183.6 604.9L184.8 605.1L186 606L187.1 607.6L188.3 609.7L189.5 612.2L190.6 614.9L191.8 617.6L193 620L194.2 622L195.3 623.1L196.5 623.6L197.7 623.2L198.8 622.1L200 620.6L201.2 618.9L202.3 616.9L203.5 614.9L204.7 613L205.9 611.1L207 609.5L208.2 608.5L209.4 608.3L210.5 608.8L211.7 610.1L212.9 612L214 614.3L215.2 616.9L216.4 620.2L217.6 622.8L218.7 624.8L219.9 626.4L221.1 627.8L222.2 629.2L223.4 630.7L224.6 632.4L225.7 634.1M61.9 633.9L63.1 633.5L64.3 633L65.5 632.7L66.6 632.5L67.8 632.4L69 632.4L70.1 632.4L71.3 632.4L72.5 632.4L73.6 632.7L74.8 633.2L76 633.9L77.2 634.6L78.3 635.3L79.5 635.7L80.7 635.9L81.8 635.8L83 635.6L84.2 635.3L85.3 634.9L86.5 634.4L87.7 633.7L88.9 632.7L90 631.3L91.2 629.2L92.4 626L93.5 621.6L94.7 615.7L95.9 608.4L97 599.7L98.2 590L99.4 579.9L100.6 570L101.7 561.1L102.9 553.6L104.1 548.1L105.2 544.5L106.4 542.8L107.6 543.1L108.7 545.1L109.9 548.4L111.1 552.5L112.3 557.1L113.4 561.8L114.6 566.4L115.8 570.6L116.9 574.5L118.1 577.9L119.3 580.9L120.4 583.5L121.6 585.5L122.8 587.1L124 588.3L125.1 589L126.3 589.5L127.5 589.9L128.6 590.2L129.8 590.6L131 591L132.1 591.4L133.3 591.9L134.5 592.2L135.7 592.6L136.8 593.1L138 593.7L139.2 594.4L140.3 595.2L141.5 595.9L142.7 596.5L143.8 596.9L145 597.1L146.2 597.2L147.4 597.1L148.5 597L149.7 596.9L150.9 596.8L152 596.7L153.2 596.9L154.4 597.3L155.5 598L156.7 599.1L157.9 600.5L159.1 602.1L160.2 603.8L161.4 605.5L162.6 606.9L163.7 607.8L164.9 608L166.1 607.4L167.2 606.1L168.4 604.2L169.6 602.1L170.8 600.2L171.9 598.7L173.1 598L174.3 598L175.4 598.8L176.6 600.3L177.8 602.6L178.9 605.7L180.1 609.4L181.3 613.6L182.5 617.8L183.6 621.6L184.8 624.5L186 626.3L187.1 627L188.3 626.6L189.5 625.6L190.6 624.2L191.8 622.6L193 620.9L194.2 618.9L195.3 617L196.5 615.4L197.7 614L198.8 613.4L200 613.5L201.2 614.7L202.3 616.6L203.5 619.3L204.7 622.5L205.9 625.9L207 629.3L208.2 632.3L209.4 635.1L210.5 637L211.7 637L212.9 637L214 637L215.2 637L216.4 637L217.6 637L218.7 637L219.9 637L221.1 637L222.2 635.6L223.4 634.3L224.6 633.7L225.7 633.9M61.9 636.7L63.1 636.7L64.3 636.7L65.5 636.7L66.6 635.9L67.8 635.2L69 634.4L70.1 633.8L71.3 633.4L72.5 633L73.6 632.9L74.8 633L76 633.2L77.2 633.6L78.3 634L79.5 634.3L80.7 634.3L81.8 634.1L83 633.5L84.2 632.8L85.3 632L86.5 631.1L87.7 630.3L88.9 629.4L90 628.4L91.2 627L92.4 624.9L93.5 622L94.7 617.9L95.9 612.6L97 606.1L98.2 598.7L99.4 590.5L100.6 582.1L101.7 573.8L102.9 566.4L104.1 560.2L105.2 555.7L106.4 552.9L107.6 552.4L108.7 553.9L109.9 557L111.1 561.1L112.3 565.8L113.4 570.5L114.6 575L115.8 579.1L116.9 582.7L118.1 585.9L119.3 588.5L120.4 590.5L121.6 591.9L122.8 592.9L124 593.5L125.1 593.8L126.3 594L127.5 594.1L128.6 594.3L129.8 594.6L131 595.1L132.1 595.7L133.3 596.4L134.5 597.2L135.7 597.7L136.8 598.1L138 598.4L139.2 598.5L140.3 598.8L141.5 599.1L142.7 599.4L143.8 599.5L145 599.6L146.2 599.6L147.4 599.6L148.5 599.7L149.7 600.1L150.9 600.7L152 601.4L153.2 602.1L154.4 602.6L155.5 602.9L156.7 603L157.9 602.7L159.1 602.3L160.2 601.7L161.4 601.2L162.6 601L163.7 601.1L164.9 601.6L166.1 602.7L167.2 604.3L168.4 606.3L169.6 608.5L170.8 610.6L171.9 612.5L173.1 614.1L174.3 615.1L175.4 615.5L176.6 615.3L177.8 614.6L178.9 613.5L180.1 612.2L181.3 611L182.5 610.2L183.6 610L184.8 610.5L186 611.8L187.1 613.6L188.3 615.8L189.5 618.1L190.6 620.4L191.8 622.5L193 624.2L194.2 625.4L195.3 626.1L196.5 626.3L197.7 626L198.8 625.5L200 624.9L201.2 624.2L202.3 623.5L203.5 622.9L204.7 622.3L205.9 621.9L207 621.6L208.2 621.6L209.4 622L210.5 622.8L211.7 623.9L212.9 625.2L214 626.7L215.2 628.2L216.4 629.6L217.6 630.8L218.7 631.7L219.9 632.6L221.1 633.4L222.2 634.2L223.4 634.8L224.6 635.4L225.7 635.8M61.9 636.4L63.1 636.4L64.3 636.4L65.5 636L66.6 634.9L67.8 634L69 633.4L70.1 633L71.3 632.8L72.5 632.6L73.6 632.4L74.8 632.1L76 631.5L77.2 630.8L78.3 630L79.5 629.3L80.7 628.9L81.8 628.7L83 628.6L84.2 628.6L85.3 628.5L86.5 628L87.7 627.1L88.9 625.6L90 623.3L91.2 620.2L92.4 616.2L93.5 611.2L94.7 605.3L95.9 598.6L97 591.2L98.2 583.4L99.4 575.6L100.6 568.3L101.7 562L102.9 557L104.1 553.4L105.2 551.4L106.4 551.1L107.6 552.3L108.7 554.8L109.9 558.4L111.1 562.7L112.3 567.1L113.4 571.4L114.6 575.3L115.8 578.6L116.9 581.4L118.1 583.6L119.3 585.4L120.4 586.9L121.6 588.2L122.8 589.4L124 590.5L125.1 591.7L126.3 592.9L127.5 594.2L128.6 595.4L129.8 596.4L131 597.1L132.1 597.4L133.3 597.5L134.5 597.2L135.7 596.9L136.8 596.5L138 596.3L139.2 596.3L140.3 596.6L141.5 597.3L142.7 598.2L143.8 599.2L145 600.2L146.2 600.8L147.4 601.1L148.5 600.9L149.7 600.3L150.9 599.6L152 598.8L153.2 598.3L154.4 598.1L155.5 598.3L156.7 599L157.9 600L159.1 601L160.2 602L161.4 602.8L162.6 603.3L163.7 603.6L164.9 603.8L166.1 603.9L167.2 604.1L168.4 604.4L169.6 604.9L170.8 605.5L171.9 606.2L173.1 606.8L174.3 607.4L175.4 607.9L176.6 608.1L177.8 608L178.9 607.5L180.1 606.4L181.3 604.8L182.5 602.9L183.6 600.9L184.8 599.1L186 597.7L187.1 596.6L188.3 596L189.5 595.7L190.6 595.8L191.8 596.3L193 597.4L194.2 599.1L195.3 601.5L196.5 604.5L197.7 608L198.8 611.7L200 615.4L201.2 618.6L202.3 621.3L203.5 623.3L204.7 624.7L205.9 625.4L207 625.5L208.2 624.9L209.4 623.8L210.5 622L211.7 619.5L212.9 616.6L214 613.7L215.2 611.6L216.4 612L217.6 613.6L218.7 616.4L219.9 619.9L221.1 623.6L222.2 626.9L223.4 629.5L224.6 631.5L225.7 632.8M61.9 632.8L63.1 633L64.3 632.9L65.5 632.7L66.6 632.4L67.8 632.2L69 632L70.1 632.2L71.3 632.6L72.5 633.1L73.6 633.7L74.8 634.2L76 634.5L77.2 634.5L78.3 634.3L79.5 634L80.7 633.5L81.8 633.1L83 632.5L84.2 631.9L85.3 631.2L86.5 630.1L87.7 628.8L88.9 627.1L90 624.9L91.2 622.1L92.4 618.6L93.5 614.2L94.7 608.8L95.9 602.3L97 594.8L98.2 586.6L99.4 578.1L100.6 569.9L101.7 562.7L102.9 556.8L104.1 552.5L105.2 549.9L106.4 548.9L107.6 549.3L108.7 550.9L109.9 553.6L111.1 556.9L112.3 560.7L113.4 564.7L114.6 568.7L115.8 572.4L116.9 575.7L118.1 578.6L119.3 581.2L120.4 583.4L121.6 585.3L122.8 586.8L124 588.1L125.1 589L126.3 589.5L127.5 589.8L128.6 590L129.8 590.2L131 590.4L132.1 590.8L133.3 591.4L134.5 592L135.7 592.8L136.8 593.7L138 594.7L139.2 595.8L140.3 597L141.5 598L142.7 599L143.8 599.7L145 600.3L146.2 600.6L147.4 600.9L148.5 601.2L149.7 601.7L150.9 602.2L152 602.9L153.2 603.5L154.4 604L155.5 604.4L156.7 604.5L157.9 604.6L159.1 604.5L160.2 604.5L161.4 604.7L162.6 605.1L163.7 605.8L164.9 606.7L166.1 607.6L167.2 608.3L168.4 608.5L169.6 608.3L170.8 607.6L171.9 606.6L173.1 605.4L174.3 604.2L175.4 603.3L176.6 602.7L177.8 602.4L178.9 602.3L180.1 602.4L181.3 602.7L182.5 603.3L183.6 604.3L184.8 605.8L186 607.8L187.1 610.3L188.3 613L189.5 615.9L190.6 618.7L191.8 621.3L193 623.5L194.2 625.2L195.3 626.4L196.5 627L197.7 627L198.8 626.7L200 626L201.2 625.3L202.3 624.6L203.5 624.2L204.7 624L205.9 623.9L207 624L208.2 624.1L209.4 624.3L210.5 624.8L211.7 625.6L212.9 626.9L214 629L215.2 631.8L216.4 635.3L217.6 637.2L218.7 637.2L219.9 637.2L221.1 637.2L222.2 637.2L223.4 637.2L224.6 637.2L225.7 637.2M61.9 631.3L63.1 631.1L64.3 631.2L65.5 631.6L66.6 632.3L67.8 633L69 633.6L70.1 633.9L71.3 634L72.5 633.8L73.6 633.5L74.8 633.2L76 633L77.2 633L78.3 633.3L79.5 633.7L80.7 634.2L81.8 634.7L83 634.8L84.2 634.5L85.3 633.6L86.5 632.1L87.7 630L88.9 627.2L90 623.8L91.2 619.8L92.4 615.1L93.5 609.7L94.7 603.5L95.9 596.6L97 589L98.2 581L99.4 573.2L100.6 566.1L101.7 560.2L102.9 555.8L104.1 553L105.2 551.9L106.4 552.4L107.6 554.5L108.7 557.7L109.9 561.5L111.1 565.5L112.3 569.5L113.4 573.2L114.6 576.7L115.8 580L116.9 583.1L118.1 585.9L119.3 588.3L120.4 590.3L121.6 592L122.8 593.4L124 594.5L125.1 595.2L126.3 595.4L127.5 595.4L128.6 595L129.8 594.6L131 594.2L132.1 593.8L133.3 593.5L134.5 593.4L135.7 593.3L136.8 593.4L138 593.6L139.2 593.9L140.3 594.3L141.5 594.7L142.7 595.3L143.8 595.9L145 596.5L146.2 596.9L147.4 597.2L148.5 597.4L149.7 597.4L150.9 597.5L152 597.6L153.2 598.1L154.4 598.8L155.5 599.9L156.7 601.1L157.9 602.3L159.1 603.6L160.2 604.7L161.4 605.9L162.6 606.9L163.7 607.6L164.9 607.8L166.1 607.5L167.2 606.7L168.4 605.5L169.6 604.4L170.8 603.6L171.9 603.4L173.1 603.8L174.3 604.8L175.4 606.2L176.6 607.9L177.8 610L178.9 612.3L180.1 614.7L181.3 617.2L182.5 619.5L183.6 621.4L184.8 623L186 624.2L187.1 624.7L188.3 624.8L189.5 624.5L190.6 623.8L191.8 623.1L193 622.3L194.2 621.5L195.3 620.6L196.5 619.5L197.7 618L198.8 616.1L200 614L201.2 611.8L202.3 610L203.5 608.7L204.7 608.1L205.9 608.1L207 608.8L208.2 610L209.4 611.5L210.5 613.1L211.7 614.6L212.9 615.8L214 616.7L215.2 617.7L216.4 619.8L217.6 621.6L218.7 623.6L219.9 625.7L221.1 627.6L222.2 629.3L223.4 630.7L224.6 632.1L225.7 633.4M61.9 633.1L63.1 633L64.3 632.9L65.5 632.7L66.6 632.3L67.8 631.7L69 630.9L70.1 630.1L71.3 629.4L72.5 628.8L73.6 628.4L74.8 628.1L76 628L77.2 627.9L78.3 627.9L79.5 627.9L80.7 628L81.8 628.2L83 628.2L84.2 628.3L85.3 628.1L86.5 627.8L87.7 627.3L88.9 626.6L90 625.6L91.2 623.8L92.4 621.1L93.5 617L94.7 611.7L95.9 605.2L97 597.8L98.2 589.8L99.4 581.8L100.6 574L101.7 567.1L102.9 561.3L104.1 557L105.2 554.4L106.4 553.3L107.6 553.8L108.7 555.4L109.9 557.9L111.1 560.9L112.3 564.2L113.4 567.4L114.6 570.3L115.8 572.8L116.9 574.9L118.1 576.8L119.3 578.5L120.4 580.2L121.6 582L122.8 583.8L124 585.6L125.1 587.2L126.3 588.7L127.5 590L128.6 591.1L129.8 592.1L131 593L132.1 593.8L133.3 594.5L134.5 595L135.7 595.4L136.8 595.6L138 595.9L139.2 596.1L140.3 596.5L141.5 596.9L142.7 597.3L143.8 597.6L145 597.7L146.2 597.6L147.4 597.5L148.5 597.4L149.7 597.4L150.9 597.5L152 597.7L153.2 597.9L154.4 598L155.5 597.9L156.7 597.5L157.9 597.1L159.1 596.7L160.2 596.3L161.4 596.1L162.6 596.2L163.7 596.4L164.9 596.5L166.1 596.7L167.2 596.8L168.4 597.1L169.6 597.6L170.8 598.4L171.9 599.5L173.1 600.7L174.3 602L175.4 603.2L176.6 604.2L177.8 605L178.9 605.7L180.1 606.5L181.3 607.5L182.5 608.8L183.6 610.5L184.8 612.4L186 614.4L187.1 616.2L188.3 617.8L189.5 619L190.6 619.8L191.8 620.2L193 620.1L194.2 619.7L195.3 618.8L196.5 617.6L197.7 616L198.8 614L200 611.6L201.2 608.8L202.3 605.9L203.5 603L204.7 600.7L205.9 599.2L207 599.1L208.2 600.2L209.4 602.4L210.5 605.4L211.7 609L212.9 612.8L214 616.6L215.2 620.2L216.4 624L217.6 626.7L218.7 628.7L219.9 630.1L221.1 631.1L222.2 632.1L223.4 633.1L224.6 634.1L225.7 635.1M61.9 631.7L63.1 631.1L64.3 630.6L65.5 630.3L66.6 630.3L67.8 630.5L69 630.8L70.1 631.1L71.3 631.2L72.5 631.2L73.6 631L74.8 630.6L76 630.1L77.2 629.7L78.3 629.4L79.5 629.4L80.7 629.6L81.8 629.9L83 630.1L84.2 630.2L85.3 629.8L86.5 628.9L87.7 627.7L88.9 626L90 623.8L91.2 621L92.4 617.3L93.5 612.5L94.7 606.3L95.9 598.6L97 589.8L98.2 580L99.4 570L100.6 560.5L101.7 552.1L102.9 545.4L104.1 540.7L105.2 538.2L106.4 537.6L107.6 538.7L108.7 541.1L109.9 544.4L111.1 548.2L112.3 552.3L113.4 556.5L114.6 560.6L115.8 564.6L116.9 568.4L118.1 571.8L119.3 574.7L120.4 577.2L121.6 579.3L122.8 581.1L124 582.9L125.1 584.5L126.3 585.8L127.5 586.9L128.6 587.6L129.8 587.9L131 588.2L132.1 588.5L133.3 589L134.5 589.9L135.7 591.2L136.8 592.9L138 594.8L139.2 596.7L140.3 598.6L141.5 600.3L142.7 601.6L143.8 602.4L145 602.6L146.2 602.3L147.4 601.8L148.5 601.1L149.7 600.4L150.9 599.8L152 599.4L153.2 599.3L154.4 599.7L155.5 600.6L156.7 602L157.9 603.7L159.1 605.4L160.2 606.7L161.4 607.4L162.6 607.3L163.7 606.6L164.9 605.5L166.1 604.4L167.2 603.5L168.4 602.9L169.6 602.5L170.8 602.1L171.9 601.5L173.1 600.7L174.3 599.7L175.4 598.7L176.6 597.9L177.8 597.5L178.9 597.5L180.1 598L181.3 598.7L182.5 599.4L183.6 599.8L184.8 599.7L186 599.1L187.1 598L188.3 596.6L189.5 595.3L190.6 594.4L191.8 594.2L193 595.1L194.2 596.9L195.3 599.5L196.5 602.7L197.7 605.9L198.8 608.9L200 611.2L201.2 612.5L202.3 612.9L203.5 612.3L204.7 611.2L205.9 609.9L207 609L208.2 608.9L209.4 609.9L210.5 612.2L211.7 615.6L212.9 619.8L214 624.2L215.2 628.8L216.4 633.2L217.6 636.5L218.7 636.5L219.9 636.5L221.1 636.5L222.2 636.5L223.4 636.5L224.6 636.5L225.7 636.5M61.9 635.8L63.1 636.2L64.3 636.6L65.5 636.6L66.6 636.6L67.8 636.4L69 635.7L70.1 634.9L71.3 634.1L72.5 633.2L73.6 632.4L74.8 631.8L76 631.4L77.2 631L78.3 630.7L79.5 630.5L80.7 630.5L81.8 630.6L83 630.8L84.2 631.1L85.3 631.4L86.5 631.4L87.7 631L88.9 630.2L90 628.7L91.2 626.5L92.4 623.4L93.5 619.5L94.7 614.5L95.9 608.3L97 601L98.2 592.6L99.4 583.6L100.6 574.3L101.7 565.4L102.9 557.6L104.1 551.3L105.2 546.9L106.4 544.5L107.6 544.2L108.7 545.7L109.9 548.6L111.1 552.4L112.3 556.7L113.4 561.1L114.6 565.2L115.8 569L116.9 572.4L118.1 575.6L119.3 578.6L120.4 581.4L121.6 584.2L122.8 586.7L124 589.1L125.1 591.1L126.3 592.8L127.5 594L128.6 594.9L129.8 595.5L131 595.8L132.1 595.9L133.3 596L134.5 596.1L135.7 596L136.8 595.9L138 595.8L139.2 595.8L140.3 595.8L141.5 596.1L142.7 596.6L143.8 597.2L145 597.9L146.2 598.4L147.4 598.6L148.5 598.5L149.7 598.2L150.9 598L152 597.8L153.2 598L154.4 598.5L155.5 599.4L156.7 600.5L157.9 601.8L159.1 603.2L160.2 604.6L161.4 605.7L162.6 606.8L163.7 608L164.9 609.5L166.1 611.5L167.2 613.8L168.4 616.3L169.6 618.8L170.8 620.8L171.9 622.1L173.1 622.6L174.3 622.3L175.4 621.3L176.6 619.5L177.8 617.3L178.9 614.7L180.1 611.9L181.3 609.2L182.5 606.8L183.6 605L184.8 603.7L186 603.1L187.1 603L188.3 603.5L189.5 604.1L190.6 604.9L191.8 605.7L193 606.6L194.2 607.5L195.3 608.5L196.5 609.5L197.7 610.4L198.8 611.3L200 612L201.2 612.8L202.3 613.6L203.5 614.8L204.7 616.5L205.9 618.8L207 621.8L208.2 625.5L209.4 629.4L210.5 633.2L211.7 636.6L212.9 636.6L214 636.6L215.2 636.6L216.4 636.6L217.6 636.6L218.7 636.6L219.9 636.6L221.1 636.6L222.2 636.6L223.4 636.6L224.6 636.6L225.7 636.6M61.9 635.9L63.1 635.4L64.3 634.8L65.5 634.4L66.6 634.1L67.8 634L69 634L70.1 634.1L71.3 634.3L72.5 634.4L73.6 634.4L74.8 634.3L76 634.1L77.2 633.9L78.3 633.6L79.5 633.3L80.7 632.8L81.8 632L83 631.1L84.2 629.9L85.3 628.7L86.5 627.5L87.7 626.6L88.9 625.9L90 625.3L91.2 624.8L92.4 623.9L93.5 622.6L94.7 620.4L95.9 617.3L97 613L98.2 607.5L99.4 600.8L100.6 593.1L101.7 584.6L102.9 575.8L104.1 567.1L105.2 559.3L106.4 552.8L107.6 548.2L108.7 545.5L109.9 544.8L111.1 545.8L112.3 548.3L113.4 552L114.6 556.4L115.8 561.1L116.9 565.6L118.1 569.8L119.3 573.5L120.4 576.7L121.6 579.7L122.8 582.4L124 585L125.1 587.2L126.3 589.2L127.5 590.8L128.6 592.1L129.8 593.3L131 594.4L132.1 595.6L133.3 596.8L134.5 598.1L135.7 599.2L136.8 600.2L138 600.9L139.2 601.2L140.3 601.3L141.5 601.2L142.7 600.9L143.8 600.5L145 600.2L146.2 600L147.4 600L148.5 600.3L149.7 600.8L150.9 601.4L152 601.9L153.2 602.1L154.4 602.1L155.5 601.7L156.7 601.1L157.9 600.4L159.1 599.8L160.2 599.4L161.4 599.2L162.6 599.3L163.7 599.6L164.9 600.1L166.1 600.9L167.2 601.9L168.4 603.4L169.6 605.2L170.8 607.3L171.9 609.5L173.1 611.4L174.3 612.9L175.4 614L176.6 614.8L177.8 615.3L178.9 615.4L180.1 615.4L181.3 615.1L182.5 614.5L183.6 613.5L184.8 612.3L186 611L187.1 609.7L188.3 608.3L189.5 607.3L190.6 606.5L191.8 606.1L193 605.9L194.2 605.9L195.3 606.1L196.5 606.4L197.7 606.7L198.8 607L200 607.3L201.2 607.7L202.3 608.2L203.5 608.6L204.7 609.1L205.9 609.6L207 610.3L208.2 611.4L209.4 612.8L210.5 614.8L211.7 617.2L212.9 619.9L214 622.8L215.2 626L216.4 629.5L217.6 632.8L218.7 635.7L219.9 637.2L221.1 637.2L222.2 637.2L223.4 637.2L224.6 637.2L225.7 637.2M61.9 636.2L63.1 636.2L64.3 636.2L65.5 636.2L66.6 636.2L67.8 636.2L69 635.9L70.1 635.2L71.3 634.5L72.5 633.9L73.6 633.5L74.8 633.3L76 633.3L77.2 633.3L78.3 633.2L79.5 632.9L80.7 632.4L81.8 631.8L83 631.2L84.2 630.8L85.3 630.6L86.5 630.5L87.7 630.4L88.9 630L90 629L91.2 627L92.4 623.9L93.5 619.4L94.7 613.7L95.9 607L97 599.5L98.2 591.5L99.4 583.2L100.6 575.2L101.7 567.7L102.9 561.2L104.1 556.1L105.2 552.7L106.4 551.2L107.6 551.7L108.7 554L109.9 557.5L111.1 561.6L112.3 565.9L113.4 569.9L114.6 573.6L115.8 577.2L116.9 580.7L118.1 584.2L119.3 587.7L120.4 590.8L121.6 593.6L122.8 595.8L124 597.6L125.1 599L126.3 600.1L127.5 600.8L128.6 601.2L129.8 601.3L131 601.1L132.1 600.8L133.3 600.5L134.5 600.2L135.7 600L136.8 599.9L138 600.1L139.2 600.5L140.3 601.2L141.5 602.2L142.7 603.6L143.8 605.2L145 606.7L146.2 608.1L147.4 609.1L148.5 609.8L149.7 610L150.9 609.8L152 608.9L153.2 607.6L154.4 605.8L155.5 603.9L156.7 602L157.9 600.4L159.1 599.4L160.2 599L161.4 599.2L162.6 600.2L163.7 601.5L164.9 603.1L166.1 604.9L167.2 606.6L168.4 608.2L169.6 609.6L170.8 610.9L171.9 612.1L173.1 613.3L174.3 614.6L175.4 615.9L176.6 617L177.8 617.8L178.9 618.1L180.1 617.7L181.3 616.6L182.5 614.7L183.6 611.9L184.8 608.3L186 604.3L187.1 600.1L188.3 596.3L189.5 593.3L190.6 591.7L191.8 591.7L193 593.8L194.2 597.7L195.3 603.3L196.5 609.9L197.7 616.9L198.8 623.5L200 629.1L201.2 633.3L202.3 636.1L203.5 636.2L204.7 636.2L205.9 636.2L207 636.2L208.2 636.1L209.4 635.3L210.5 634.9L211.7 634.9L212.9 635.4L214 636.2L215.2 636.2L216.4 636.2L217.6 636.2L218.7 636.2L219.9 636.2L221.1 636.2L222.2 636.2L223.4 636.2L224.6 636.2L225.7 636.2M61.9 629.4L63.1 629.3L64.3 629.2L65.5 629.3L66.6 629.5L67.8 629.9L69 630.3L70.1 630.8L71.3 631.2L72.5 631.4L73.6 631.4L74.8 631.3L76 631.2L77.2 630.9L78.3 630.7L79.5 630.6L80.7 630.5L81.8 630.4L83 630.4L84.2 630.5L85.3 630.7L86.5 630.9L87.7 630.9L88.9 630.4L90 629.2L91.2 626.8L92.4 623.1L93.5 617.9L94.7 611.4L95.9 603.5L97 594.7L98.2 585.3L99.4 575.9L100.6 566.9L101.7 559.1L102.9 552.8L104.1 548.2L105.2 545.6L106.4 544.8L107.6 546L108.7 548.7L109.9 552.6L111.1 557.3L112.3 562.1L113.4 566.6L114.6 570.6L115.8 574L116.9 577L118.1 579.6L119.3 582.1L120.4 584.4L121.6 586.5L122.8 588.2L124 589.5L125.1 590.2L126.3 590.6L127.5 590.6L128.6 590.4L129.8 590.1L131 589.8L132.1 589.5L133.3 589.1L134.5 589L135.7 589L136.8 589.4L138 590.1L139.2 591.1L140.3 592.2L141.5 593.2L142.7 594L143.8 594.4L145 594.5L146.2 594.1L147.4 593.3L148.5 592.3L149.7 591.1L150.9 589.9L152 589.1L153.2 588.6L154.4 588.4L155.5 588.6L156.7 588.8L157.9 589.3L159.1 589.8L160.2 590.4L161.4 591.2L162.6 592.2L163.7 593.3L164.9 594.4L166.1 595.3L167.2 595.9L168.4 596.2L169.6 596L170.8 595.3L171.9 594.3L173.1 593L174.3 591.9L175.4 591L176.6 590.9L177.8 591.4L178.9 592.7L180.1 594.8L181.3 597.5L182.5 600.6L183.6 604.1L184.8 607.6L186 610.9L187.1 613.7L188.3 615.6L189.5 616.7L190.6 616.8L191.8 616L193 614.8L194.2 613.6L195.3 612.5L196.5 612L197.7 612.2L198.8 613L200 614L201.2 615.1L202.3 616.1L203.5 616.9L204.7 617.8L205.9 618.8L207 620.5L208.2 622.9L209.4 626L210.5 629.7L211.7 633.3L212.9 636.5L214 636.5L215.2 636.5L216.4 636.5L217.6 636.5L218.7 636.5L219.9 636.5L221.1 636.4L222.2 636.4L223.4 636.5L224.6 636.5L225.7 636.5M61.9 632.4L63.1 632.1L64.3 631.8L65.5 631.7L66.6 631.7L67.8 631.9L69 632.1L70.1 632.2L71.3 632.3L72.5 632.3L73.6 632.1L74.8 631.8L76 631.4L77.2 631L78.3 630.5L79.5 630.2L80.7 630.1L81.8 630.1L83 630.1L84.2 630L85.3 629.7L86.5 629L87.7 627.9L88.9 626.4L90 624.3L91.2 621.3L92.4 617.1L93.5 611.5L94.7 604.3L95.9 595.7L97 586.2L98.2 576.2L99.4 566.7L100.6 558.2L101.7 551.5L102.9 546.7L104.1 544L105.2 543.1L106.4 543.9L107.6 546.4L108.7 550.1L109.9 554.4L111.1 558.8L112.3 563.1L113.4 566.9L114.6 570.2L115.8 573.1L116.9 575.5L118.1 577.6L119.3 579.4L120.4 580.8L121.6 581.9L122.8 582.6L124 583L125.1 583.2L126.3 583.5L127.5 583.9L128.6 584.5L129.8 585.4L131 586.6L132.1 587.8L133.3 589.1L134.5 590.2L135.7 591.2L136.8 591.9L138 592.2L139.2 592.4L140.3 592.3L141.5 592.3L142.7 592.3L143.8 592.5L145 592.9L146.2 593.5L147.4 594.3L148.5 595.2L149.7 596.4L150.9 597.7L152 598.9L153.2 600.2L154.4 601.4L155.5 602.6L156.7 604.1L157.9 605.7L159.1 607.6L160.2 609.5L161.4 611.4L162.6 613.2L163.7 614.6L164.9 615.7L166.1 616.4L167.2 616.9L168.4 617.1L169.6 617L170.8 616.7L171.9 616L173.1 615.2L174.3 614.1L175.4 612.7L176.6 610.9L177.8 608.7L178.9 606.1L180.1 603.3L181.3 600.7L182.5 598.6L183.6 597.4L184.8 597.2L186 598L187.1 599.8L188.3 602.3L189.5 605.3L190.6 608.5L191.8 611.9L193 615.2L194.2 618.3L195.3 621L196.5 623.3L197.7 625.1L198.8 626.3L200 627.2L201.2 627.7L202.3 628.2L203.5 628.5L204.7 628.9L205.9 629.2L207 629.5L208.2 629.8L209.4 630.1L210.5 630.3L211.7 630.8L212.9 631.4L214 632.2L215.2 633.4L216.4 635.1L217.6 636.3L218.7 636.3L219.9 636.3L221.1 636.3L222.2 636.3L223.4 636.3L224.6 636.3L225.7 636.3M61.9 628.9L63.1 628.7L64.3 628.8L65.5 629.1L66.6 629.7L67.8 630.4L69 631L70.1 631.3L71.3 631.4L72.5 631.3L73.6 630.9L74.8 630.4L76 629.8L77.2 629.2L78.3 628.7L79.5 628.3L80.7 627.9L81.8 627.7L83 627.4L84.2 627.1L85.3 626.7L86.5 626.1L87.7 625.5L88.9 624.7L90 623.6L91.2 622L92.4 619.8L93.5 616.7L94.7 612.5L95.9 607L97 600.4L98.2 592.8L99.4 584.5L100.6 576.1L101.7 568.3L102.9 561.8L104.1 556.9L105.2 554L106.4 552.9L107.6 553.6L108.7 555.6L109.9 558.7L111.1 562.5L112.3 566.8L113.4 571.2L114.6 575.5L115.8 579.5L116.9 582.9L118.1 585.6L119.3 587.5L120.4 588.8L121.6 589.7L122.8 590.3L124 590.9L125.1 591.7L126.3 592.6L127.5 593.6L128.6 594.5L129.8 595.3L131 595.9L132.1 596.2L133.3 596.3L134.5 596.2L135.7 596L136.8 595.9L138 595.8L139.2 596L140.3 596.6L141.5 597.3L142.7 598.2L143.8 599.1L145 599.8L146.2 600.3L147.4 600.3L148.5 600.1L149.7 599.7L150.9 599.2L152 598.8L153.2 598.6L154.4 598.4L155.5 598.3L156.7 598.2L157.9 598.2L159.1 598.3L160.2 598.6L161.4 599.1L162.6 599.7L163.7 600.4L164.9 601.3L166.1 602.4L167.2 603.7L168.4 605.2L169.6 606.9L170.8 608.8L171.9 610.7L173.1 612.3L174.3 613.5L175.4 614.2L176.6 614.6L177.8 614.6L178.9 614.5L180.1 614.5L181.3 614.7L182.5 614.9L183.6 615.4L184.8 616.2L186 617.3L187.1 618.5L188.3 619.7L189.5 620.7L190.6 621.3L191.8 621.4L193 621.2L194.2 620.5L195.3 619.4L196.5 618.1L197.7 616.5L198.8 614.7L200 612.6L201.2 610.4L202.3 608.3L203.5 606.4L204.7 605.2L205.9 604.9L207 605.6L208.2 607.4L209.4 610L210.5 613L211.7 616.1L212.9 618.7L214 620.4L215.2 621.5L216.4 622.5L217.6 623.1L218.7 623.8L219.9 624.9L221.1 626.6L222.2 628.9L223.4 631.5L224.6 634.2L225.7 636.5M61.9 635.5L63.1 635.2L64.3 634.7L65.5 634L66.6 633.3L67.8 632.6L69 631.9L70.1 631.4L71.3 631L72.5 630.6L73.6 630.2L74.8 629.9L76 629.7L77.2 629.8L78.3 630.2L79.5 631L80.7 631.9L81.8 632.8L83 633.5L84.2 633.8L85.3 633.6L86.5 632.9L87.7 632L88.9 630.9L90 629.6L91.2 627.9L92.4 625.7L93.5 622.7L94.7 618.6L95.9 613.4L97 607.1L98.2 599.9L99.4 591.8L100.6 583.1L101.7 574.3L102.9 565.6L104.1 557.8L105.2 551.4L106.4 546.7L107.6 543.7L108.7 542.4L109.9 542.9L111.1 545L112.3 548.4L113.4 552.7L114.6 557.4L115.8 562.1L116.9 566.4L118.1 570L119.3 572.9L120.4 575.1L121.6 576.7L122.8 578L124 579L125.1 579.8L126.3 580.5L127.5 581.1L128.6 581.6L129.8 582.1L131 582.8L132.1 583.5L133.3 584.4L134.5 585.5L135.7 586.8L136.8 588.2L138 589.7L139.2 591.3L140.3 592.9L141.5 594.5L142.7 596.1L143.8 597.7L145 599.4L146.2 600.9L147.4 602.4L148.5 603.6L149.7 604.4L150.9 604.7L152 604.5L153.2 603.7L154.4 602.5L155.5 601.2L156.7 599.9L157.9 598.8L159.1 598.1L160.2 597.6L161.4 597.1L162.6 596.6L163.7 596.1L164.9 595.5L166.1 595.2L167.2 595.1L168.4 595.4L169.6 595.9L170.8 596.5L171.9 597L173.1 597.5L174.3 597.8L175.4 598.1L176.6 598.6L177.8 599L178.9 599.4L180.1 599.8L181.3 600L182.5 600.3L183.6 600.5L184.8 600.9L186 601.5L187.1 602.3L188.3 603.3L189.5 604.5L190.6 605.6L191.8 606.7L193 607.8L194.2 609L195.3 610.2L196.5 611.5L197.7 613L198.8 614.5L200 615.9L201.2 617.2L202.3 618.3L203.5 619.1L204.7 619.6L205.9 620.1L207 620.6L208.2 621.1L209.4 621.4L210.5 621.4L211.7 620.9L212.9 620.2L214 619.2L215.2 618.7L216.4 619.9L217.6 621.9L218.7 624.7L219.9 627.8L221.1 630.8L222.2 633.3L223.4 635.1L224.6 636.3L225.7 636.8M61.9 631.5L63.1 631.4L64.3 631.5L65.5 631.9L66.6 632.6L67.8 633.2L69 633.7L70.1 633.8L71.3 633.6L72.5 633.1L73.6 632.5L74.8 631.9L76 631.5L77.2 631.3L78.3 631.3L79.5 631.2L80.7 631.1L81.8 630.9L83 630.4L84.2 629.6L85.3 628.2L86.5 626.3L87.7 623.9L88.9 620.7L90 616.8L91.2 612.1L92.4 606.5L93.5 599.9L94.7 592.4L95.9 584.2L97 575.4L98.2 566.6L99.4 558.3L100.6 551.2L101.7 545.7L102.9 542.2L104.1 540.8L105.2 541.3L106.4 543.4L107.6 546.7L108.7 550.6L109.9 555L111.1 559.5L112.3 563.9L113.4 567.9L114.6 571.6L115.8 574.9L116.9 577.8L118.1 580.2L119.3 582.3L120.4 584L121.6 585.3L122.8 586.2L124 586.8L125.1 587.2L126.3 587.6L127.5 588.1L128.6 588.8L129.8 589.7L131 590.7L132.1 591.4L133.3 591.9L134.5 592.1L135.7 592.1L136.8 592.1L138 592.1L139.2 592.1L140.3 592.1L141.5 592.2L142.7 592.3L143.8 592.4L145 592.6L146.2 592.8L147.4 593L148.5 593.2L149.7 593.4L150.9 593.6L152 593.8L153.2 593.9L154.4 594.1L155.5 594.3L156.7 594.6L157.9 595.1L159.1 595.7L160.2 596.5L161.4 597.4L162.6 598.3L163.7 599.2L164.9 599.9L166.1 600.3L167.2 600.6L168.4 600.7L169.6 600.7L170.8 600.8L171.9 601.1L173.1 601.5L174.3 602L175.4 602.7L176.6 603.6L177.8 604.8L178.9 606.3L180.1 608.1L181.3 610.2L182.5 612.5L183.6 614.7L184.8 616.6L186 618.1L187.1 618.9L188.3 619.3L189.5 619L190.6 618.4L191.8 617.6L193 616.5L194.2 615.4L195.3 614.3L196.5 613.2L197.7 612.1L198.8 610.8L200 609.1L201.2 607.2L202.3 605L203.5 602.7L204.7 600.7L205.9 599.3L207 598.9L208.2 599.4L209.4 600.8L210.5 602.9L211.7 605.2L212.9 607.4L214 609.5L215.2 611.4L216.4 614.3L217.6 616.8L218.7 619.3L219.9 621.8L221.1 624.5L222.2 627.4L223.4 630.2L224.6 632.7L225.7 634.8M61.9 631.5L63.1 630.5L64.3 629.7L65.5 629.1L66.6 628.8L67.8 628.8L69 628.8L70.1 629L71.3 629.1L72.5 629.4L73.6 629.8L74.8 630.2L76 630.7L77.2 631.2L78.3 631.6L79.5 631.7L80.7 631.8L81.8 631.7L83 631.5L84.2 631L85.3 630.3L86.5 629.2L87.7 627.4L88.9 624.9L90 621.5L91.2 617L92.4 611.4L93.5 604.8L94.7 597.1L95.9 588.6L97 579.8L98.2 571L99.4 562.9L100.6 556.1L101.7 550.9L102.9 547.6L104.1 546.3L105.2 546.6L106.4 548.3L107.6 551L108.7 554.4L109.9 558.1L111.1 561.9L112.3 565.7L113.4 569.3L114.6 572.5L115.8 575.3L116.9 577.8L118.1 580.1L119.3 582.1L120.4 584L121.6 585.9L122.8 587.7L124 589.4L125.1 590.8L126.3 592.1L127.5 593.1L128.6 593.9L129.8 594.5L131 594.9L132.1 595.1L133.3 595.3L134.5 595.4L135.7 595.4L136.8 595.4L138 595.5L139.2 595.7L140.3 595.9L141.5 596.3L142.7 596.8L143.8 597.4L145 597.9L146.2 598.5L147.4 599L148.5 599.5L149.7 600L150.9 600.3L152 600.8L153.2 601.2L154.4 601.7L155.5 602.2L156.7 602.5L157.9 602.5L159.1 602.3L160.2 602.1L161.4 602.1L162.6 602.5L163.7 603.4L164.9 604.5L166.1 605.7L167.2 606.8L168.4 607.5L169.6 607.6L170.8 607.3L171.9 606.7L173.1 605.6L174.3 604.4L175.4 603L176.6 601.7L177.8 600.5L178.9 599.8L180.1 599.9L181.3 600.7L182.5 602.4L183.6 604.5L184.8 606.9L186 609.2L187.1 610.9L188.3 612L189.5 612.4L190.6 612.5L191.8 612.5L193 612.9L194.2 613.9L195.3 615.8L196.5 618.4L197.7 621.7L198.8 625.3L200 628.6L201.2 631.4L202.3 633L203.5 633.6L204.7 633L205.9 631.6L207 629.8L208.2 628L209.4 626.4L210.5 625.1L211.7 623.9L212.9 622.6L214 621.1L215.2 619.4L216.4 618.9L217.6 619.1L218.7 620L219.9 621.9L221.1 624.5L222.2 627.4L223.4 630.2L224.6 632.8L225.7 634.8M61.9 634.1L63.1 634.6L64.3 634.8L65.5 634.6L66.6 634.1L67.8 633.3L69 632.3L70.1 631.2L71.3 630.2L72.5 629.4L73.6 629L74.8 628.9L76 629L77.2 629.3L78.3 629.6L79.5 630L80.7 630.5L81.8 630.9L83 631.2L84.2 631.3L85.3 631.2L86.5 630.8L87.7 630L88.9 628.7L90 626.9L91.2 624.4L92.4 621L93.5 616.7L94.7 611.3L95.9 605L97 597.9L98.2 590.2L99.4 582.2L100.6 574.3L101.7 567.2L102.9 561.4L104.1 557L105.2 554.4L106.4 553.5L107.6 554L108.7 555.8L109.9 558.6L111.1 562L112.3 565.8L113.4 569.5L114.6 573L115.8 576.1L116.9 579L118.1 581.5L119.3 583.9L120.4 586.2L121.6 588.3L122.8 590.4L124 592.4L125.1 594.2L126.3 595.6L127.5 596.7L128.6 597.4L129.8 597.7L131 597.9L132.1 598L133.3 598.2L134.5 598.2L135.7 598.3L136.8 598.3L138 598.2L139.2 598.1L140.3 598.3L141.5 598.7L142.7 599.4L143.8 600.3L145 601.2L146.2 602.1L147.4 603L148.5 603.7L149.7 604.2L150.9 604.7L152 605L153.2 605.3L154.4 605.5L155.5 605.4L156.7 605.2L157.9 604.6L159.1 603.7L160.2 602.5L161.4 601L162.6 599.4L163.7 597.7L164.9 596.2L166.1 594.7L167.2 593.5L168.4 592.4L169.6 591.7L170.8 591L171.9 590.5L173.1 590L174.3 589.8L175.4 589.9L176.6 590.3L177.8 591.1L178.9 592.1L180.1 593.2L181.3 594.1L182.5 594.9L183.6 595.4L184.8 595.7L186 595.9L187.1 596.3L188.3 596.7L189.5 597.3L190.6 597.9L191.8 598.5L193 598.8L194.2 598.7L195.3 598.4L196.5 597.8L197.7 597.3L198.8 597.1L200 597.7L201.2 599.2L202.3 602.3L203.5 606.7L204.7 612.5L205.9 619.2L207 626L208.2 632.4L209.4 636.2L210.5 636.2L211.7 636.2L212.9 636.2L214 636.2L215.2 636.2L216.4 636.2L217.6 636.2L218.7 636.2L219.9 636.2L221.1 636.2L222.2 636.2L223.4 636.2L224.6 636.2L225.7 636.2M61.9 634.1L63.1 633.6L64.3 633.2L65.5 633L66.6 633.3L67.8 633.9L69 634.7L70.1 635.5L71.3 636.2L72.5 636.2L73.6 636.2L74.8 636.2L76 636.1L77.2 635.6L78.3 635.1L79.5 634.7L80.7 634.3L81.8 634L83 633.7L84.2 633.3L85.3 632.9L86.5 632.2L87.7 631.3L88.9 629.9L90 628L91.2 625.6L92.4 622.6L93.5 619L94.7 614.8L95.9 609.8L97 604L98.2 597.4L99.4 589.9L100.6 581.7L101.7 573.4L102.9 565.6L104.1 558.9L105.2 553.8L106.4 550.6L107.6 548.7L108.7 547.9L109.9 548.1L111.1 549.3L112.3 551.3L113.4 554.2L114.6 557.5L115.8 561L116.9 564.4L118.1 567.5L119.3 570.2L120.4 572.6L121.6 574.8L122.8 576.8L124 578.8L125.1 580.5L126.3 582.2L127.5 583.7L128.6 585.2L129.8 586.6L131 588L132.1 589.2L133.3 590.3L134.5 591.2L135.7 591.9L136.8 592.5L138 593.1L139.2 593.7L140.3 594.3L141.5 595L142.7 595.9L143.8 597L145 598.1L146.2 599.3L147.4 600.4L148.5 601.5L149.7 602.4L150.9 603.4L152 604.3L153.2 605.1L154.4 605.8L155.5 606.2L156.7 606.4L157.9 606.4L159.1 606.2L160.2 605.9L161.4 605.5L162.6 604.9L163.7 604.1L164.9 603.2L166.1 602L167.2 600.6L168.4 599L169.6 597.2L170.8 595.2L171.9 593.4L173.1 591.9L174.3 591L175.4 590.9L176.6 591.7L177.8 593.5L178.9 596L180.1 598.8L181.3 601.6L182.5 604.2L183.6 606.3L184.8 607.8L186 608.6L187.1 608.6L188.3 608L189.5 606.9L190.6 605.5L191.8 604.2L193 603.1L194.2 602.6L195.3 602.5L196.5 603.2L197.7 604.5L198.8 606.6L200 609.3L201.2 612.5L202.3 615.7L203.5 618.4L204.7 620.4L205.9 621.2L207 621L208.2 619.9L209.4 618.2L210.5 616.4L211.7 614.6L212.9 613.1L214 612.2L215.2 612.2L216.4 614.4L217.6 617L218.7 620L219.9 623.1L221.1 625.9L222.2 628.3L223.4 630.2L224.6 631.5L225.7 632.6M61.9 634.7L63.1 635L64.3 635.1L65.5 634.9L66.6 634.5L67.8 633.9L69 633.2L70.1 632.7L71.3 632.2L72.5 632L73.6 631.8L74.8 631.6L76 631.5L77.2 631.2L78.3 630.9L79.5 630.6L80.7 630.2L81.8 629.7L83 629L84.2 628.2L85.3 627.1L86.5 625.6L87.7 623.6L88.9 620.9L90 617.3L91.2 612.6L92.4 606.8L93.5 600L94.7 592.3L95.9 584.1L97 576L98.2 568.5L99.4 562.1L100.6 557.2L101.7 553.8L102.9 552.3L104.1 552.5L105.2 554.4L106.4 557.8L107.6 562.2L108.7 567.2L109.9 572.2L111.1 576.8L112.3 580.8L113.4 584.1L114.6 586.6L115.8 588.3L116.9 589.6L118.1 590.5L119.3 591.3L120.4 592.1L121.6 593.1L122.8 594.3L124 595.6L125.1 597L126.3 598.5L127.5 599.9L128.6 601L129.8 602L131 602.7L132.1 603.2L133.3 603.5L134.5 603.9L135.7 604.4L136.8 605L138 605.8L139.2 606.6L140.3 607.5L141.5 608.3L142.7 608.9L143.8 609.3L145 609.5L146.2 609.5L147.4 609.4L148.5 609.1L149.7 608.6L150.9 607.9L152 607L153.2 606L154.4 605L155.5 604.2L156.7 603.6L157.9 603.4L159.1 603.5L160.2 604.1L161.4 605.1L162.6 606.5L163.7 608.3L164.9 610.1L166.1 611.8L167.2 612.9L168.4 613.2L169.6 612.8L170.8 611.8L171.9 610.3L173.1 608.7L174.3 607.2L175.4 605.9L176.6 605L177.8 604.3L178.9 603.9L180.1 603.8L181.3 604L182.5 604.5L183.6 605.2L184.8 605.9L186 606.7L187.1 607.2L188.3 607.4L189.5 607.3L190.6 607.2L191.8 607.2L193 607.5L194.2 608.2L195.3 609.6L196.5 611.6L197.7 614.2L198.8 617.5L200 621.3L201.2 625.4L202.3 629.4L203.5 633.1L204.7 636.1L205.9 636.9L207 636.9L208.2 636.9L209.4 636.9L210.5 636.9L211.7 636.9L212.9 636.9L214 636.3L215.2 635.5L216.4 634.7L217.6 633.8L218.7 632.7L219.9 631.8L221.1 631.1L222.2 630.6L223.4 630.8L224.6 631.5L225.7 632.6M61.9 636.4L63.1 636.3L64.3 636.3L65.5 636.3L66.6 636.2L67.8 636.2L69 636L70.1 635.8L71.3 635.6L72.5 635.4L73.6 635.3L74.8 635.2L76 635L77.2 634.7L78.3 634.2L79.5 633.4L80.7 632.5L81.8 631.7L83 631L84.2 630.6L85.3 630.2L86.5 629.6L87.7 628.8L88.9 627.4L90 625.3L91.2 622.5L92.4 618.7L93.5 613.7L94.7 607.4L95.9 599.8L97 591.2L98.2 581.8L99.4 572.5L100.6 563.7L101.7 556.2L102.9 550.2L104.1 546L105.2 543.7L106.4 543L107.6 543.8L108.7 545.7L109.9 548.8L111.1 552.6L112.3 556.9L113.4 561.3L114.6 565.4L115.8 569.1L116.9 572.4L118.1 575.2L119.3 577.6L120.4 579.6L121.6 581.3L122.8 582.7L124 583.9L125.1 585L126.3 586.1L127.5 587.2L128.6 588.3L129.8 589.3L131 590.3L132.1 591L133.3 591.5L134.5 591.6L135.7 591.6L136.8 591.4L138 591.3L139.2 591.2L140.3 591.2L141.5 591.3L142.7 591.5L143.8 591.8L145 592.1L146.2 592.6L147.4 593L148.5 593.6L149.7 594.4L150.9 595.4L152 596.7L153.2 598.2L154.4 599.9L155.5 601.5L156.7 602.9L157.9 603.9L159.1 604.7L160.2 605.1L161.4 605.3L162.6 605.3L163.7 604.9L164.9 604.1L166.1 602.9L167.2 601.4L168.4 599.9L169.6 598.4L170.8 597.2L171.9 596.4L173.1 596.1L174.3 596.1L175.4 596.4L176.6 597.2L177.8 598.5L178.9 600.5L180.1 603.3L181.3 606.9L182.5 611.1L183.6 615.4L184.8 619.4L186 622.6L187.1 624.3L188.3 624.3L189.5 622.5L190.6 619.2L191.8 614.7L193 609.5L194.2 604L195.3 598.8L196.5 594.3L197.7 591.1L198.8 589.2L200 588.8L201.2 589.7L202.3 591.9L203.5 595.1L204.7 598.8L205.9 602.8L207 606.7L208.2 610.3L209.4 613.2L210.5 615.4L211.7 616.8L212.9 617.4L214 617.4L215.2 617.3L216.4 618.4L217.6 619.6L218.7 621.2L219.9 623L221.1 625.2L222.2 627.4L223.4 629.7L224.6 631.8L225.7 633.7M61.9 631.9L63.1 631.6L64.3 631.2L65.5 630.7L66.6 630.2L67.8 629.6L69 629.1L70.1 628.7L71.3 628.3L72.5 627.9L73.6 627.6L74.8 627.4L76 627.2L77.2 627.2L78.3 627.2L79.5 627.4L80.7 627.6L81.8 627.9L83 628.2L84.2 628.6L85.3 628.9L86.5 629.2L87.7 629.3L88.9 629.3L90 629L91.2 628.3L92.4 627.1L93.5 625.2L94.7 622.4L95.9 618.6L97 613.6L98.2 607.3L99.4 599.9L100.6 591.5L101.7 582.2L102.9 572.7L104.1 563.5L105.2 555.2L106.4 548.2L107.6 543.4L108.7 540.8L109.9 540.5L111.1 542.1L112.3 545.4L113.4 549.7L114.6 554.6L115.8 559.4L116.9 563.8L118.1 567.5L119.3 570.5L120.4 572.9L121.6 574.7L122.8 576L124 577L125.1 577.8L126.3 578.7L127.5 579.6L128.6 580.8L129.8 582.1L131 583.3L132.1 584.3L133.3 585L134.5 585.5L135.7 585.7L136.8 585.9L138 586.2L139.2 586.4L140.3 586.8L141.5 587.1L142.7 587.3L143.8 587.4L145 587.3L146.2 587.2L147.4 587.1L148.5 587.1L149.7 587.2L150.9 587.3L152 587.4L153.2 587.2L154.4 586.9L155.5 586.4L156.7 585.9L157.9 585.5L159.1 585.5L160.2 585.9L161.4 586.8L162.6 588.1L163.7 589.8L164.9 591.9L166.1 594L167.2 596L168.4 597.8L169.6 599.1L170.8 599.9L171.9 600.1L173.1 599.8L174.3 599L175.4 598L176.6 596.9L177.8 596.3L178.9 596.1L180.1 596.4L181.3 597.2L182.5 598.4L183.6 599.5L184.8 600.4L186 601.2L187.1 602L188.3 602.8L189.5 603.5L190.6 604.4L191.8 605.2L193 606L194.2 606.6L195.3 607.3L196.5 608L197.7 608.8L198.8 609.7L200 610.9L201.2 612.3L202.3 613.6L203.5 614.9L204.7 616.2L205.9 617.2L207 618.2L208.2 619.3L209.4 620.7L210.5 622.4L211.7 624.6L212.9 627.2L214 630.1L215.2 633.1L216.4 636.1L217.6 636.3L218.7 636.3L219.9 636.3L221.1 636.3L222.2 636.3L223.4 636.3L224.6 636.3L225.7 636.3M61.9 634.4L63.1 633.5L64.3 632.6L65.5 632L66.6 631.7L67.8 631.7L69 631.8L70.1 632.1L71.3 632.5L72.5 632.8L73.6 633L74.8 633.4L76 633.7L77.2 634L78.3 634L79.5 633.8L80.7 633.1L81.8 632L83 630.6L84.2 629.3L85.3 628.2L86.5 627.3L87.7 626.5L88.9 625.4L90 623.8L91.2 621.3L92.4 617.8L93.5 613.4L94.7 608L95.9 601.8L97 594.9L98.2 587.6L99.4 580.2L100.6 573.2L101.7 567L102.9 562.1L104.1 558.8L105.2 557.3L106.4 557.7L107.6 559.6L108.7 562.7L109.9 566.6L111.1 570.6L112.3 574.4L113.4 577.8L114.6 580.7L115.8 583L116.9 585L118.1 586.8L119.3 588.2L120.4 589.6L121.6 590.8L122.8 591.9L124 592.9L125.1 593.8L126.3 594.6L127.5 595.3L128.6 595.8L129.8 596.1L131 596.3L132.1 596.5L133.3 596.7L134.5 597.1L135.7 597.5L136.8 597.9L138 598.3L139.2 598.5L140.3 598.5L141.5 598.3L142.7 597.9L143.8 597.4L145 597.1L146.2 596.9L147.4 596.9L148.5 597.3L149.7 598L150.9 599L152 600L153.2 601.1L154.4 602.2L155.5 603.1L156.7 603.9L157.9 604.4L159.1 604.7L160.2 604.9L161.4 604.9L162.6 605L163.7 605.1L164.9 605.1L166.1 604.9L167.2 604.4L168.4 603.6L169.6 602.7L170.8 601.8L171.9 601.3L173.1 601.3L174.3 601.8L175.4 602.9L176.6 604.4L177.8 606.1L178.9 607.9L180.1 609.6L181.3 611.1L182.5 612.4L183.6 613.3L184.8 613.8L186 613.9L187.1 613.9L188.3 613.8L189.5 613.9L190.6 614.2L191.8 614.8L193 615.5L194.2 616L195.3 616.5L196.5 616.6L197.7 616.5L198.8 616L200 615.3L201.2 614.6L202.3 613.9L203.5 613.4L204.7 613.2L205.9 613.6L207 614.8L208.2 617.1L209.4 620.7L210.5 625.5L211.7 631.3L212.9 636.7L214 636.7L215.2 636.7L216.4 636.7L217.6 636.7L218.7 636.7L219.9 636.7L221.1 636.7L222.2 636.7L223.4 636.1L224.6 635.1L225.7 634.9M61.9 635.6L63.1 635.1L64.3 634.4L65.5 633.8L66.6 633.4L67.8 633.3L69 633.3L70.1 633.5L71.3 633.6L72.5 633.7L73.6 633.6L74.8 633.5L76 633.2L77.2 633L78.3 632.7L79.5 632.4L80.7 632.1L81.8 631.6L83 631.1L84.2 630.5L85.3 629.8L86.5 629.1L87.7 628.4L88.9 627.6L90 626.7L91.2 625.4L92.4 623.7L93.5 621.2L94.7 617.6L95.9 613L97 607.2L98.2 600.3L99.4 592.6L100.6 584.5L101.7 576.4L102.9 569L104.1 562.9L105.2 558.2L106.4 555.4L107.6 554.3L108.7 555L109.9 557.1L111.1 560.2L112.3 564.1L113.4 568.3L114.6 572.3L115.8 576.1L116.9 579.3L118.1 582L119.3 584.1L120.4 585.6L121.6 586.6L122.8 587.3L124 587.8L125.1 588.3L126.3 588.9L127.5 589.7L128.6 590.6L129.8 591.5L131 592.4L132.1 593.1L133.3 593.6L134.5 594L135.7 594.4L136.8 594.7L138 595.1L139.2 595.5L140.3 595.8L141.5 595.9L142.7 595.9L143.8 595.8L145 595.7L146.2 595.7L147.4 595.9L148.5 596.4L149.7 597.1L150.9 598.1L152 599.4L153.2 601L154.4 602.8L155.5 604.6L156.7 606.3L157.9 607.8L159.1 609L160.2 609.9L161.4 610.3L162.6 610.1L163.7 609.5L164.9 608.4L166.1 606.9L167.2 605.4L168.4 603.9L169.6 602.6L170.8 601.8L171.9 601.6L173.1 602.2L174.3 603.6L175.4 605.8L176.6 608.5L177.8 611.4L178.9 614L180.1 616L181.3 617.3L182.5 618L183.6 618.1L184.8 618L186 617.6L187.1 617.2L188.3 616.6L189.5 615.8L190.6 614.8L191.8 613.7L193 612.7L194.2 612L195.3 612L196.5 612.9L197.7 614.9L198.8 617.8L200 621.5L201.2 625.4L202.3 629.1L203.5 632.1L204.7 634.1L205.9 635L207 634.9L208.2 634L209.4 632.7L210.5 631.2L211.7 629.9L212.9 628.6L214 627.4L215.2 626.7L216.4 626.8L217.6 627.5L218.7 628.6L219.9 630.2L221.1 632.1L222.2 634L223.4 635.7L224.6 637.2L225.7 637.4M61.9 630.9L63.1 630.7L64.3 630.6L65.5 630.8L66.6 630.9L67.8 630.9L69 630.8L70.1 630.6L71.3 630.3L72.5 630L73.6 629.8L74.8 629.7L76 629.8L77.2 630.1L78.3 630.5L79.5 631L80.7 631.5L81.8 631.8L83 631.8L84.2 631.5L85.3 630.9L86.5 630L87.7 628.8L88.9 627.2L90 624.8L91.2 621.5L92.4 617.1L93.5 611.3L94.7 604.3L95.9 596.2L97 587.4L98.2 578.4L99.4 570L100.6 562.7L101.7 556.9L102.9 553.1L104.1 551.3L105.2 551.3L106.4 553.1L107.6 556.1L108.7 560.2L109.9 564.8L111.1 569.4L112.3 573.7L113.4 577.5L114.6 580.6L115.8 583.2L116.9 585.4L118.1 587.3L119.3 589L120.4 590.5L121.6 591.9L122.8 593.2L124 594.5L125.1 595.7L126.3 597L127.5 598.3L128.6 599.6L129.8 601L131 602.3L132.1 603.4L133.3 604.2L134.5 604.7L135.7 604.8L136.8 604.7L138 604.3L139.2 604L140.3 603.7L141.5 603.6L142.7 603.6L143.8 603.7L145 603.8L146.2 603.8L147.4 603.7L148.5 603.5L149.7 603.3L150.9 603.2L152 603.3L153.2 603.6L154.4 604L155.5 604.3L156.7 604.4L157.9 604.3L159.1 604.1L160.2 603.9L161.4 603.9L162.6 604.2L163.7 604.7L164.9 605.3L166.1 605.9L167.2 606.3L168.4 606.3L169.6 606.1L170.8 605.6L171.9 604.9L173.1 604.3L174.3 603.8L175.4 603.5L176.6 603.4L177.8 603.6L178.9 604.1L180.1 604.8L181.3 605.5L182.5 606.1L183.6 606.3L184.8 606.1L186 605.1L187.1 603.6L188.3 601.6L189.5 599.7L190.6 598.1L191.8 597.2L193 597.3L194.2 598.3L195.3 600.3L196.5 603L197.7 606.2L198.8 609.5L200 612.8L201.2 615.8L202.3 618.4L203.5 620.7L204.7 622.6L205.9 624.4L207 626L208.2 627.7L209.4 629.7L210.5 632L211.7 634.6L212.9 636.8L214 636.8L215.2 636.8L216.4 636.8L217.6 636.8L218.7 636.8L219.9 636.8L221.1 636.8L222.2 636.8L223.4 636.8L224.6 636.8L225.7 636.8M61.9 634.1L63.1 633.8L64.3 633.5L65.5 633.2L66.6 633L67.8 632.9L69 632.8L70.1 632.8L71.3 632.6L72.5 632.4L73.6 631.9L74.8 631.2L76 630.5L77.2 629.6L78.3 628.8L79.5 628.1L80.7 627.6L81.8 627.2L83 626.9L84.2 626.5L85.3 625.8L86.5 624.6L87.7 622.8L88.9 620.2L90 616.5L91.2 611.7L92.4 605.6L93.5 598.2L94.7 589.7L95.9 580.4L97 570.7L98.2 561.4L99.4 553L100.6 546.2L101.7 541.3L102.9 538.4L104.1 537.2L105.2 537.8L106.4 539.7L107.6 542.6L108.7 546.2L109.9 550.3L111.1 554.6L112.3 558.9L113.4 562.8L114.6 566.4L115.8 569.6L116.9 572.4L118.1 574.9L119.3 577L120.4 578.8L121.6 580.4L122.8 581.8L124 583L125.1 584L126.3 584.9L127.5 585.6L128.6 585.9L129.8 585.8L131 585.5L132.1 585.1L133.3 584.7L134.5 584.6L135.7 584.8L136.8 585.3L138 586L139.2 587L140.3 588.1L141.5 589.3L142.7 590.5L143.8 591.5L145 592.4L146.2 593.1L147.4 593.8L148.5 594.4L149.7 595.1L150.9 595.8L152 596.4L153.2 596.8L154.4 597.1L155.5 597.2L156.7 597.3L157.9 597.3L159.1 597.3L160.2 597.3L161.4 597.3L162.6 597.3L163.7 597.4L164.9 597.6L166.1 597.9L167.2 598.3L168.4 598.7L169.6 599.2L170.8 599.8L171.9 600.4L173.1 601.1L174.3 601.6L175.4 602L176.6 602.3L177.8 602.4L178.9 602.2L180.1 601.9L181.3 601.6L182.5 601.4L183.6 601.5L184.8 601.9L186 602.9L187.1 604.3L188.3 606L189.5 607.6L190.6 609L191.8 610L193 610.4L194.2 610.4L195.3 610.1L196.5 609.6L197.7 609.4L198.8 609.6L200 610.4L201.2 611.9L202.3 613.9L203.5 616.2L204.7 618.5L205.9 620.3L207 621.5L208.2 622L209.4 621.6L210.5 620.4L211.7 618.4L212.9 616L214 613.4L215.2 611.5L216.4 611.8L217.6 613.3L218.7 615.7L219.9 618.8L221.1 622.2L222.2 625.5L223.4 628.6L224.6 631.4L225.7 633.8M61.9 632.2L63.1 631.9L64.3 631.6L65.5 631.3L66.6 631.2L67.8 631.1L69 631L70.1 631.1L71.3 631.4L72.5 631.7L73.6 632.1L74.8 632.5L76 632.9L77.2 633.3L78.3 633.6L79.5 633.8L80.7 633.8L81.8 633.7L83 633.5L84.2 633L85.3 632.4L86.5 631.4L87.7 630.2L88.9 628.8L90 627.2L91.2 625.4L92.4 623.4L93.5 620.7L94.7 617L95.9 611.8L97 605.1L98.2 596.7L99.4 587.1L100.6 576.8L101.7 566.4L102.9 556.7L104.1 548.4L105.2 541.9L106.4 537.4L107.6 535.2L108.7 535.4L109.9 537.5L111.1 541.1L112.3 545.7L113.4 550.9L114.6 556.2L115.8 561.4L116.9 566.1L118.1 570.3L119.3 573.7L120.4 576.5L121.6 578.6L122.8 580.3L124 581.7L125.1 582.8L126.3 583.9L127.5 584.8L128.6 585.9L129.8 587L131 588.2L132.1 589.4L133.3 590.5L134.5 591.3L135.7 591.7L136.8 591.8L138 591.5L139.2 591L140.3 590.5L141.5 590L142.7 589.7L143.8 589.6L145 589.7L146.2 589.9L147.4 590.2L148.5 590.5L149.7 590.7L150.9 590.9L152 591.1L153.2 591.3L154.4 591.6L155.5 592L156.7 592.6L157.9 593.3L159.1 594.3L160.2 595.3L161.4 596.4L162.6 597.2L163.7 597.8L164.9 598L166.1 597.9L167.2 597.5L168.4 597L169.6 596.5L170.8 595.9L171.9 595.4L173.1 595.1L174.3 594.8L175.4 594.9L176.6 595.3L177.8 596.1L178.9 597.1L180.1 598.4L181.3 599.7L182.5 601L183.6 602L184.8 602.8L186 603.3L187.1 603.4L188.3 603.2L189.5 602.7L190.6 602L191.8 601.4L193 601L194.2 601.2L195.3 602.3L196.5 604L197.7 606.3L198.8 608.9L200 611.5L201.2 613.7L202.3 615.5L203.5 616.7L204.7 617.4L205.9 617.8L207 618.2L208.2 619L209.4 620.4L210.5 622.4L211.7 625L212.9 628L214 631.2L215.2 634.4L216.4 636.3L217.6 636.3L218.7 636.3L219.9 636.3L221.1 636.3L222.2 636.3L223.4 636.3L224.6 636.3L225.7 636.3M61.9 635.5L63.1 635.1L64.3 634.7L65.5 634.2L66.6 633.9L67.8 633.7L69 633.7L70.1 633.8L71.3 634L72.5 634.1L73.6 634.2L74.8 634.1L76 633.8L77.2 633.4L78.3 632.9L79.5 632.2L80.7 631.5L81.8 630.8L83 630L84.2 629.1L85.3 628.1L86.5 627L87.7 625.5L88.9 623.5L90 620.8L91.2 617.1L92.4 612.4L93.5 606.6L94.7 599.6L95.9 591.8L97 583.5L98.2 575.3L99.4 567.6L100.6 561.2L101.7 556.2L102.9 553L104.1 551.5L105.2 551.7L106.4 553.3L107.6 556.1L108.7 559.6L109.9 563.6L111.1 567.8L112.3 572L113.4 576L114.6 579.6L115.8 582.9L116.9 585.7L118.1 588.1L119.3 590L120.4 591.6L121.6 592.9L122.8 594.1L124 595.1L125.1 595.9L126.3 596.5L127.5 597L128.6 597.2L129.8 597.2L131 597.1L132.1 597.1L133.3 597.2L134.5 597.5L135.7 598.1L136.8 598.9L138 600.1L139.2 601.4L140.3 602.9L141.5 604.3L142.7 605.7L143.8 606.9L145 607.8L146.2 608.3L147.4 608.5L148.5 608.3L149.7 607.7L150.9 606.8L152 605.9L153.2 604.9L154.4 604L155.5 603.3L156.7 602.6L157.9 602L159.1 601.4L160.2 600.9L161.4 600.5L162.6 600.2L163.7 600.2L164.9 600.4L166.1 600.7L167.2 601L168.4 601.2L169.6 601L170.8 600.4L171.9 599.5L173.1 598.2L174.3 596.7L175.4 595.1L176.6 593.8L177.8 592.9L178.9 592.7L180.1 593.4L181.3 595L182.5 597.4L183.6 600.2L184.8 603L186 605.5L187.1 607.4L188.3 608.6L189.5 609.4L190.6 610.2L191.8 611.3L193 612.6L194.2 614.1L195.3 616L196.5 617.9L197.7 619.9L198.8 622.1L200 624.5L201.2 627.1L202.3 630L203.5 633L204.7 635.9L205.9 636.6L207 636.6L208.2 636.6L209.4 636.6L210.5 636.6L211.7 636.6L212.9 636.6L214 636.6L215.2 636.6L216.4 636.6L217.6 636.6L218.7 636.6L219.9 636.3L221.1 636.1L222.2 636.3L223.4 636.6L224.6 636.6L225.7 636.6M61.9 633.4L63.1 633.5L64.3 633.6L65.5 633.7L66.6 633.9L67.8 634.3L69 635L70.1 635.7L71.3 636.5L72.5 637.2L73.6 637.3L74.8 637.3L76 637.3L77.2 636.9L78.3 636.1L79.5 635.2L80.7 634.2L81.8 633.2L83 632.4L84.2 631.8L85.3 631.4L86.5 631L87.7 630.5L88.9 629.9L90 629L91.2 627.6L92.4 625.6L93.5 622.9L94.7 619.1L95.9 614.2L97 608.2L98.2 601.2L99.4 593.3L100.6 584.9L101.7 576.6L102.9 569L104.1 562.6L105.2 557.9L106.4 555L107.6 553.9L108.7 554.7L109.9 556.9L111.1 560.3L112.3 564.3L113.4 568.4L114.6 572.3L115.8 575.8L116.9 578.8L118.1 581.4L119.3 583.7L120.4 585.9L121.6 587.9L122.8 589.7L124 591.2L125.1 592.6L126.3 593.8L127.5 595L128.6 596.2L129.8 597.3L131 598.2L132.1 598.8L133.3 599L134.5 599L135.7 598.9L136.8 598.9L138 599.2L139.2 599.6L140.3 600.3L141.5 600.9L142.7 601.5L143.8 601.9L145 602.1L146.2 602.1L147.4 601.8L148.5 601.3L149.7 600.6L150.9 599.7L152 598.8L153.2 598.1L154.4 597.7L155.5 597.6L156.7 597.8L157.9 598.4L159.1 599.3L160.2 600.3L161.4 601.4L162.6 602.3L163.7 603L164.9 603.4L166.1 603.3L167.2 602.9L168.4 602.2L169.6 601.5L170.8 600.9L171.9 600.4L173.1 600.2L174.3 600.2L175.4 600.5L176.6 601.1L177.8 601.8L178.9 602.6L180.1 603.3L181.3 603.8L182.5 604L183.6 603.7L184.8 603.1L186 602.1L187.1 600.9L188.3 599.3L189.5 597.8L190.6 596.5L191.8 595.8L193 596L194.2 597.4L195.3 600.3L196.5 604.5L197.7 609.7L198.8 615.5L200 621.4L201.2 627L202.3 631.8L203.5 635.5L204.7 637.3L205.9 637.3L207 637.3L208.2 637.3L209.4 637.3L210.5 637.3L211.7 637L212.9 635.5L214 634L215.2 632.7L216.4 632L217.6 631.7L218.7 632.1L219.9 632.8L221.1 633.8L222.2 634.8L223.4 635.7L224.6 636.3L225.7 636.7M61.9 631.6L63.1 632.2L64.3 632.7L65.5 633.2L66.6 633.6L67.8 633.9L69 634.1L70.1 634.2L71.3 634.4L72.5 634.4L73.6 634.1L74.8 633.7L76 633.1L77.2 632.3L78.3 631.5L79.5 630.8L80.7 630.1L81.8 629.5L83 629.1L84.2 628.9L85.3 628.9L86.5 629L87.7 629.1L88.9 629.1L90 628.8L91.2 628.2L92.4 627.3L93.5 625.8L94.7 623.5L95.9 620.3L97 615.7L98.2 609.9L99.4 602.9L100.6 595L101.7 586.6L102.9 578.5L104.1 571.3L105.2 565.5L106.4 561.5L107.6 559.4L108.7 559.1L109.9 560.5L111.1 563.2L112.3 566.7L113.4 570.7L114.6 574.7L115.8 578.6L116.9 582.2L118.1 585.4L119.3 588.2L120.4 590.7L121.6 592.9L122.8 594.7L124 596.3L125.1 597.6L126.3 598.9L127.5 599.9L128.6 600.8L129.8 601.5L131 601.8L132.1 601.9L133.3 601.7L134.5 601.5L135.7 601.4L136.8 601.4L138 601.7L139.2 602.1L140.3 602.6L141.5 603.1L142.7 603.6L143.8 604L145 604.4L146.2 604.7L147.4 604.9L148.5 605L149.7 605.1L150.9 605.4L152 606L153.2 606.8L154.4 607.8L155.5 608.7L156.7 609.4L157.9 609.9L159.1 610.1L160.2 610L161.4 609.6L162.6 608.9L163.7 608L164.9 607.1L166.1 606.2L167.2 605.4L168.4 605L169.6 605.1L170.8 605.6L171.9 606.5L173.1 607.8L174.3 609.4L175.4 611.1L176.6 612.8L177.8 614.1L178.9 615.2L180.1 615.9L181.3 616.2L182.5 615.9L183.6 615.5L184.8 614.8L186 614.1L187.1 613.5L188.3 613L189.5 612.6L190.6 612.3L191.8 612.3L193 612.5L194.2 612.7L195.3 613L196.5 613.1L197.7 612.8L198.8 611.9L200 610.5L201.2 608.9L202.3 607.2L203.5 605.8L204.7 604.7L205.9 604.5L207 605.2L208.2 606.7L209.4 609L210.5 611.5L211.7 613.9L212.9 615.9L214 617.3L215.2 618.5L216.4 620.4L217.6 622.2L218.7 624L219.9 625.7L221.1 627.4L222.2 628.8L223.4 629.9L224.6 630.9L225.7 631.9M61.9 636.7L63.1 637.1L64.3 637.1L65.5 636.8L66.6 636.1L67.8 635.3L69 634.4L70.1 633.7L71.3 633.1L72.5 632.6L73.6 632.2L74.8 631.7L76 631.2L77.2 630.7L78.3 630.3L79.5 630.1L80.7 630.1L81.8 630.3L83 630.6L84.2 630.8L85.3 631L86.5 630.8L87.7 630.3L88.9 629.3L90 627.8L91.2 625.6L92.4 622.5L93.5 618.5L94.7 613.4L95.9 607.3L97 600.2L98.2 592.3L99.4 584L100.6 575.5L101.7 567.6L102.9 560.7L104.1 555.3L105.2 551.6L106.4 549.6L107.6 549.3L108.7 550.4L109.9 552.7L111.1 555.7L112.3 559.2L113.4 562.9L114.6 566.5L115.8 570L116.9 573.3L118.1 576.6L119.3 579.7L120.4 582.6L121.6 585.3L122.8 587.7L124 589.9L125.1 591.8L126.3 593.5L127.5 594.9L128.6 596L129.8 596.8L131 597.3L132.1 597.6L133.3 597.8L134.5 598L135.7 598.1L136.8 598.2L138 598.2L139.2 598.2L140.3 598.3L141.5 598.3L142.7 598.3L143.8 598.4L145 598.6L146.2 599L147.4 599.4L148.5 600L149.7 600.8L150.9 601.5L152 602.2L153.2 602.6L154.4 602.8L155.5 602.7L156.7 602.2L157.9 601.6L159.1 600.9L160.2 600.3L161.4 600L162.6 600.2L163.7 601L164.9 602.2L166.1 603.9L167.2 605.7L168.4 607.6L169.6 609.2L170.8 610.3L171.9 610.9L173.1 610.7L174.3 609.7L175.4 608.2L176.6 606.1L177.8 603.9L178.9 601.7L180.1 599.8L181.3 598.5L182.5 597.8L183.6 597.8L184.8 598.2L186 598.8L187.1 599.3L188.3 599.7L189.5 599.9L190.6 600L191.8 600.2L193 600.7L194.2 601.4L195.3 602.6L196.5 604.1L197.7 605.6L198.8 607.2L200 608.4L201.2 609.5L202.3 610.3L203.5 611.2L204.7 612.2L205.9 613.4L207 614.8L208.2 616.2L209.4 617.7L210.5 619.3L211.7 620.8L212.9 622.7L214 624.8L215.2 627.4L216.4 630.6L217.6 633.8L218.7 636.7L219.9 637.1L221.1 637.1L222.2 637.1L223.4 637.1L224.6 637.1L225.7 637.1M61.9 636.3L63.1 635.6L64.3 634.9L65.5 634.4L66.6 634L67.8 633.9L69 634L70.1 634.1L71.3 634.2L72.5 634.2L73.6 634.2L74.8 634.2L76 634L77.2 633.6L78.3 632.8L79.5 631.8L80.7 630.7L81.8 629.6L83 628.7L84.2 628L85.3 627.6L86.5 627.4L87.7 627.1L88.9 626.8L90 626.2L91.2 625L92.4 623.1L93.5 620.2L94.7 615.8L95.9 609.8L97 602.4L98.2 593.7L99.4 584.4L100.6 574.9L101.7 566.2L102.9 558.7L104.1 553L105.2 549.2L106.4 547.3L107.6 547L108.7 548.1L109.9 550.4L111.1 553.5L112.3 557.4L113.4 561.6L114.6 566.1L115.8 570.3L116.9 574.2L118.1 577.5L119.3 580.1L120.4 582.1L121.6 583.7L122.8 585.1L124 586.5L125.1 588.1L126.3 589.7L127.5 591.4L128.6 593.1L129.8 594.5L131 595.6L132.1 596.5L133.3 597.1L134.5 597.5L135.7 597.7L136.8 597.9L138 598L139.2 598L140.3 598.2L141.5 598.5L142.7 599L143.8 599.7L145 600.6L146.2 601.4L147.4 602L148.5 602.2L149.7 601.8L150.9 600.9L152 599.6L153.2 598.2L154.4 597L155.5 596.2L156.7 595.9L157.9 596.1L159.1 596.8L160.2 597.8L161.4 599L162.6 600.2L163.7 601.2L164.9 602.2L166.1 603L167.2 603.6L168.4 604.2L169.6 604.7L170.8 605.1L171.9 605.6L173.1 606.2L174.3 606.9L175.4 607.8L176.6 608.8L177.8 609.7L178.9 610.6L180.1 611.2L181.3 611.7L182.5 612L183.6 612L184.8 611.8L186 611.5L187.1 610.9L188.3 610.1L189.5 609.1L190.6 608L191.8 606.9L193 605.8L194.2 604.9L195.3 604.1L196.5 603.7L197.7 603.6L198.8 603.9L200 604.8L201.2 606.4L202.3 608.6L203.5 611.1L204.7 614.2L205.9 617.3L207 620.2L208.2 622.6L209.4 624.4L210.5 625.3L211.7 625.5L212.9 625L214 624.1L215.2 623.3L216.4 623.8L217.6 624.7L218.7 626.1L219.9 627.9L221.1 629.8L222.2 631.4L223.4 632.7L224.6 633.5L225.7 634.2M61.9 630.4L63.1 630.4L64.3 630.2L65.5 630.2L66.6 630.3L67.8 630.6L69 631L70.1 631.6L71.3 632.1L72.5 632.5L73.6 632.9L74.8 633.1L76 633.2L77.2 633L78.3 632.8L79.5 632.5L80.7 632.1L81.8 631.7L83 631.2L84.2 630.7L85.3 630L86.5 629.3L87.7 628.5L88.9 627.4L90 625.9L91.2 623.8L92.4 620.8L93.5 616.6L94.7 611.4L95.9 604.9L97 597.5L98.2 589.2L99.4 580.5L100.6 571.7L101.7 563.3L102.9 555.9L104.1 549.9L105.2 545.6L106.4 543.2L107.6 542.6L108.7 543.5L109.9 545.7L111.1 548.8L112.3 552.5L113.4 556.5L114.6 560.8L115.8 565.1L116.9 569.3L118.1 573.3L119.3 577.1L120.4 580.3L121.6 583L122.8 585.2L124 587L125.1 588.4L126.3 589.5L127.5 590.5L128.6 591.4L129.8 592.2L131 592.9L132.1 593.5L133.3 594L134.5 594.5L135.7 595.2L136.8 596.1L138 597L139.2 598L140.3 598.9L141.5 599.5L142.7 599.6L143.8 599.2L145 598.5L146.2 597.5L147.4 596.5L148.5 595.6L149.7 595.1L150.9 594.8L152 594.6L153.2 594.6L154.4 594.7L155.5 595L156.7 595.4L157.9 596L159.1 596.8L160.2 597.6L161.4 598.3L162.6 598.9L163.7 599.4L164.9 599.6L166.1 599.8L167.2 600.1L168.4 600.4L169.6 601L170.8 601.7L171.9 602.4L173.1 603L174.3 603.4L175.4 603.5L176.6 603.4L177.8 603.4L178.9 603.8L180.1 604.5L181.3 605.7L182.5 607.2L183.6 608.7L184.8 610L186 611L187.1 611.7L188.3 612.1L189.5 612.2L190.6 612.1L191.8 612.1L193 612.1L194.2 612.2L195.3 612.6L196.5 613.1L197.7 613.8L198.8 614.6L200 615.4L201.2 616.2L202.3 616.8L203.5 617L204.7 616.9L205.9 616.7L207 616.6L208.2 616.8L209.4 617.8L210.5 619.7L211.7 622.3L212.9 625.6L214 629.1L215.2 632.5L216.4 635.2L217.6 636.7L218.7 636.7L219.9 636.7L221.1 636.7L222.2 636.7L223.4 636.7L224.6 636.7L225.7 636.7M61.9 636.3L63.1 636L64.3 636L65.5 636.1L66.6 636.3L67.8 636.4L69 636.4L70.1 636.1L71.3 635.5L72.5 634.8L73.6 634.1L74.8 633.3L76 632.5L77.2 631.9L78.3 631.3L79.5 631L80.7 630.9L81.8 630.9L83 631.1L84.2 631.3L85.3 631.4L86.5 631.2L87.7 630.7L88.9 629.7L90 628.5L91.2 627.1L92.4 625.5L93.5 623.7L94.7 621.5L95.9 618.4L97 614.4L98.2 609L99.4 602.2L100.6 594.2L101.7 585.4L102.9 576.4L104.1 568.1L105.2 561.1L106.4 556.1L107.6 553.1L108.7 552.1L109.9 552.9L111.1 555L112.3 558.1L113.4 561.6L114.6 565.4L115.8 569.1L116.9 572.6L118.1 575.9L119.3 579L120.4 582L121.6 584.8L122.8 587.5L124 590L125.1 592.2L126.3 593.8L127.5 594.9L128.6 595.3L129.8 595.1L131 594.4L132.1 593.4L133.3 592.5L134.5 591.9L135.7 591.8L136.8 592.1L138 593L139.2 594.1L140.3 595.4L141.5 596.8L142.7 597.9L143.8 598.9L145 599.5L146.2 599.9L147.4 600L148.5 600L149.7 600L150.9 600L152 600.1L153.2 600.4L154.4 600.9L155.5 601.5L156.7 602.3L157.9 603.1L159.1 603.9L160.2 604.5L161.4 605.1L162.6 605.7L163.7 606.5L164.9 607.6L166.1 608.8L167.2 610.2L168.4 611.5L169.6 612.7L170.8 613.8L171.9 614.8L173.1 615.9L174.3 617L175.4 618.1L176.6 619L177.8 619.4L178.9 619.3L180.1 618.3L181.3 616.6L182.5 614.3L183.6 611.6L184.8 608.9L186 606.4L187.1 604.5L188.3 603.3L189.5 603.1L190.6 603.9L191.8 605.8L193 608.3L194.2 611.3L195.3 614.4L196.5 617.3L197.7 619.6L198.8 621.2L200 622.1L201.2 622.1L202.3 621.5L203.5 620.3L204.7 618.8L205.9 617.4L207 616.2L208.2 615.5L209.4 615.7L210.5 616.6L211.7 618.1L212.9 619.9L214 621.8L215.2 623.5L216.4 625.3L217.6 626.5L218.7 627.1L219.9 627.4L221.1 627.6L222.2 627.9L223.4 628.4L224.6 629.2L225.7 630.3M61.9 632.4L63.1 631.9L64.3 631.6L65.5 631.3L66.6 631.1L67.8 631L69 630.9L70.1 630.8L71.3 630.8L72.5 630.8L73.6 630.7L74.8 630.5L76 630.3L77.2 629.9L78.3 629.6L79.5 629.2L80.7 629L81.8 628.8L83 628.6L84.2 628.2L85.3 627.5L86.5 626.3L87.7 624.5L88.9 622.2L90 619.2L91.2 615.6L92.4 611.1L93.5 605.7L94.7 599.3L95.9 592L97 583.8L98.2 575.4L99.4 567.3L100.6 560.2L101.7 554.4L102.9 550.2L104.1 547.7L105.2 547L106.4 547.8L107.6 550L108.7 553.2L109.9 557.2L111.1 561.6L112.3 566L113.4 570.2L114.6 573.9L115.8 577.1L116.9 579.7L118.1 582L119.3 583.9L120.4 585.5L121.6 586.7L122.8 587.6L124 588L125.1 588.2L126.3 588.2L127.5 588.2L128.6 588.4L129.8 588.9L131 589.6L132.1 590.4L133.3 591.1L134.5 591.7L135.7 592.3L136.8 592.7L138 593.2L139.2 593.7L140.3 594.4L141.5 595.1L142.7 595.7L143.8 596.3L145 596.8L146.2 597.3L147.4 597.7L148.5 598.3L149.7 599.1L150.9 600L152 601.1L153.2 602.3L154.4 603.4L155.5 604.2L156.7 604.9L157.9 605.2L159.1 605.2L160.2 605L161.4 604.5L162.6 603.9L163.7 603L164.9 601.9L166.1 600.7L167.2 599.1L168.4 597.5L169.6 595.8L170.8 594.2L171.9 593.1L173.1 592.7L174.3 593.2L175.4 594.7L176.6 597.1L177.8 600.2L178.9 603.8L180.1 607.5L181.3 611.3L182.5 615.2L183.6 619.1L184.8 622.9L186 626.6L187.1 630L188.3 633L189.5 635.4L190.6 636.6L191.8 636.6L193 636.6L194.2 636.6L195.3 635.3L196.5 632.6L197.7 629.5L198.8 626.4L200 624L201.2 622.5L202.3 622.2L203.5 623L204.7 624.6L205.9 626.6L207 628.5L208.2 630L209.4 631.1L210.5 631.7L211.7 631.6L212.9 631.1L214 630.3L215.2 629.6L216.4 629.5L217.6 630L218.7 631L219.9 632.6L221.1 634.5L222.2 636.4L223.4 636.6L224.6 636.6L225.7 636.6M61.9 636.8L63.1 636.8L64.3 636.8L65.5 636.8L66.6 636.8L67.8 636.8L69 636.8L70.1 636.8L71.3 636.3L72.5 635.7L73.6 635.2L74.8 634.7L76 634.3L77.2 633.8L78.3 633.3L79.5 632.7L80.7 632.1L81.8 631.6L83 631.1L84.2 630.5L85.3 629.9L86.5 629.2L87.7 628.3L88.9 627.1L90 625.5L91.2 623.1L92.4 619.7L93.5 615L94.7 609.1L95.9 601.9L97 593.7L98.2 584.8L99.4 575.8L100.6 567.4L101.7 560.2L102.9 554.8L104.1 551.2L105.2 549.6L106.4 549.8L107.6 551.4L108.7 554.2L109.9 557.8L111.1 561.9L112.3 566.1L113.4 570.1L114.6 573.7L115.8 576.8L116.9 579.4L118.1 581.4L119.3 583.1L120.4 584.5L121.6 585.8L122.8 587L124 588.2L125.1 589.4L126.3 590.6L127.5 591.6L128.6 592.4L129.8 593.1L131 593.7L132.1 594.1L133.3 594.4L134.5 594.7L135.7 595L136.8 595.3L138 595.7L139.2 596.1L140.3 596.4L141.5 596.7L142.7 596.9L143.8 597.1L145 597.2L146.2 597.4L147.4 597.9L148.5 598.7L149.7 599.8L150.9 601.2L152 602.6L153.2 603.9L154.4 604.7L155.5 604.9L156.7 604.6L157.9 603.9L159.1 602.9L160.2 601.9L161.4 600.9L162.6 600.2L163.7 599.6L164.9 599.1L166.1 598.7L167.2 598.4L168.4 598.3L169.6 598.6L170.8 599.3L171.9 600.5L173.1 601.8L174.3 603L175.4 604L176.6 604.6L177.8 605L178.9 605.3L180.1 605.5L181.3 605.7L182.5 605.8L183.6 605.6L184.8 604.7L186 603.3L187.1 601.4L188.3 599.2L189.5 597.2L190.6 595.8L191.8 595.4L193 596.4L194.2 598.9L195.3 602.8L196.5 607.9L197.7 613.7L198.8 619.7L200 625.5L201.2 630.8L202.3 635.3L203.5 636.8L204.7 636.8L205.9 636.8L207 636.8L208.2 636.8L209.4 636.8L210.5 636.8L211.7 634.7L212.9 632.5L214 630.9L215.2 630L216.4 630.1L217.6 630.5L218.7 631.1L219.9 631.7L221.1 632.2L222.2 632.7L223.4 633.1L224.6 633.4L225.7 633.8M61.9 629.4L63.1 629.6L64.3 629.9L65.5 630.1L66.6 630.1L67.8 629.9L69 629.6L70.1 629.1L71.3 628.6L72.5 628L73.6 627.6L74.8 627.1L76 626.7L77.2 626.4L78.3 626L79.5 625.6L80.7 625.1L81.8 624.7L83 624.3L84.2 624L85.3 623.8L86.5 623.5L87.7 623.2L88.9 622.6L90 621.7L91.2 620.3L92.4 618.3L93.5 615.3L94.7 611.1L95.9 605.7L97 599L98.2 591.3L99.4 583.2L100.6 575.3L101.7 568.3L102.9 562.5L104.1 558.3L105.2 555.8L106.4 555L107.6 555.4L108.7 556.9L109.9 559.2L111.1 562L112.3 565.1L113.4 568.3L114.6 571.5L115.8 574.5L116.9 577.3L118.1 579.9L119.3 582.1L120.4 583.9L121.6 585.3L122.8 586.4L124 587.2L125.1 588.1L126.3 589L127.5 590L128.6 591.2L129.8 592.6L131 594.1L132.1 595.9L133.3 597.8L134.5 599.6L135.7 601.4L136.8 603.1L138 604.4L139.2 605.5L140.3 606.2L141.5 606.6L142.7 606.6L143.8 606.3L145 605.9L146.2 605.5L147.4 605L148.5 604.6L149.7 604.3L150.9 604.1L152 604L153.2 603.9L154.4 603.8L155.5 603.7L156.7 603.5L157.9 603.3L159.1 603.1L160.2 603.1L161.4 603.1L162.6 602.9L163.7 602.6L164.9 601.9L166.1 601.1L167.2 600.3L168.4 599.7L169.6 599.4L170.8 599.5L171.9 599.8L173.1 600.4L174.3 601L175.4 601.7L176.6 602.5L177.8 603.4L178.9 604.5L180.1 605.9L181.3 607.5L182.5 609.4L183.6 611.1L184.8 612.4L186 613.3L187.1 613.6L188.3 613.4L189.5 612.8L190.6 611.8L191.8 610.6L193 609.1L194.2 607.4L195.3 605.5L196.5 603.6L197.7 602L198.8 601.1L200 601.2L201.2 602.6L202.3 605.3L203.5 609.1L204.7 613.8L205.9 618.5L207 623L208.2 626.8L209.4 629.7L210.5 631.6L211.7 632.5L212.9 632.7L214 632.4L215.2 631.7L216.4 631.2L217.6 630.7L218.7 630.1L219.9 629.7L221.1 629.4L222.2 629.4L223.4 629.8L224.6 630.5L225.7 631.6M61.9 632.6L63.1 633.5L64.3 634.4L65.5 635.1L66.6 635.6L67.8 635.7L69 635.5L70.1 635.1L71.3 634.5L72.5 633.9L73.6 633.2L74.8 632.5L76 631.8L77.2 631.3L78.3 630.7L79.5 630.2L80.7 629.6L81.8 628.8L83 627.8L84.2 626.6L85.3 625.2L86.5 623.6L87.7 621.6L88.9 619.1L90 615.7L91.2 611.3L92.4 605.8L93.5 599L94.7 591.3L95.9 583L97 574.4L98.2 566.1L99.4 558.6L100.6 552.4L101.7 547.7L102.9 544.6L104.1 543.3L105.2 543.8L106.4 546L107.6 549.7L108.7 554.2L109.9 559.1L111.1 563.9L112.3 568L113.4 571.3L114.6 573.9L115.8 576L116.9 577.9L118.1 579.8L119.3 581.8L120.4 583.9L121.6 586L122.8 588.1L124 589.9L125.1 591.5L126.3 592.8L127.5 594L128.6 595L129.8 596.1L131 597L132.1 597.9L133.3 598.7L134.5 599.2L135.7 599.5L136.8 599.5L138 599.1L139.2 598.4L140.3 597.3L141.5 596L142.7 594.6L143.8 593.2L145 592.2L146.2 591.4L147.4 591L148.5 590.8L149.7 590.6L150.9 590.6L152 590.7L153.2 591.1L154.4 591.9L155.5 593.3L156.7 595L157.9 597.2L159.1 599.6L160.2 602L161.4 604.5L162.6 606.9L163.7 609L164.9 610.8L166.1 612.4L167.2 613.7L168.4 614.8L169.6 615.7L170.8 616.5L171.9 617.2L173.1 617.5L174.3 617.7L175.4 617.4L176.6 616.8L177.8 615.9L178.9 614.8L180.1 613.4L181.3 611.9L182.5 610.2L183.6 608.6L184.8 607.1L186 606L187.1 605.4L188.3 605.3L189.5 605.8L190.6 606.9L191.8 608.5L193 610.6L194.2 613.3L195.3 616.4L196.5 619.8L197.7 623.3L198.8 626.4L200 629.1L201.2 631.2L202.3 632.7L203.5 633.6L204.7 634L205.9 634L207 633.9L208.2 633.8L209.4 633.9L210.5 634.2L211.7 634.6L212.9 634.9L214 635.1L215.2 635.1L216.4 635L217.6 634.9L218.7 635L219.9 635.1L221.1 635.6L222.2 636.3L223.4 636.9L224.6 636.9L225.7 636.9M61.9 630.7L63.1 630.6L64.3 630.7L65.5 631L66.6 631.3L67.8 631.6L69 631.8L70.1 632L71.3 632.2L72.5 632.4L73.6 632.7L74.8 633L76 633L77.2 632.9L78.3 632.4L79.5 631.8L80.7 631.1L81.8 630.5L83 629.9L84.2 629.4L85.3 628.9L86.5 628.2L87.7 627.2L88.9 625.9L90 624.3L91.2 622.2L92.4 619.4L93.5 615.7L94.7 610.7L95.9 604.3L97 596.6L98.2 587.9L99.4 578.7L100.6 569.7L101.7 561.8L102.9 555.4L104.1 550.9L105.2 548.3L106.4 547.6L107.6 548.8L108.7 551.3L109.9 555L111.1 559.2L112.3 563.6L113.4 567.8L114.6 571.6L115.8 574.9L116.9 577.8L118.1 580.4L119.3 582.7L120.4 584.7L121.6 586.5L122.8 588.1L124 589.3L125.1 590.1L126.3 590.4L127.5 590.2L128.6 589.8L129.8 589.6L131 589.6L132.1 590.1L133.3 590.9L134.5 591.9L135.7 592.9L136.8 593.7L138 594.4L139.2 595L140.3 595.5L141.5 596L142.7 596.6L143.8 597.1L145 597.6L146.2 598L147.4 598.3L148.5 598.5L149.7 598.6L150.9 598.8L152 599L153.2 599.2L154.4 599.6L155.5 599.9L156.7 600.2L157.9 600.4L159.1 600.7L160.2 600.9L161.4 601.2L162.6 601.8L163.7 602.6L164.9 603.8L166.1 605.2L167.2 606.6L168.4 607.9L169.6 608.8L170.8 609.1L171.9 608.8L173.1 607.9L174.3 606.6L175.4 605.1L176.6 603.4L177.8 601.9L178.9 600.6L180.1 599.6L181.3 599.1L182.5 599L183.6 599.5L184.8 600.5L186 602.1L187.1 603.8L188.3 605.7L189.5 607.5L190.6 609.1L191.8 610.5L193 611.8L194.2 613L195.3 614.3L196.5 615.6L197.7 616.8L198.8 617.9L200 618.9L201.2 619.8L202.3 620.7L203.5 621.7L204.7 622.7L205.9 623.7L207 624.6L208.2 625.3L209.4 625.9L210.5 626.2L211.7 626.3L212.9 626.2L214 626L215.2 625.9L216.4 626.4L217.6 626.9L218.7 627.3L219.9 627.8L221.1 628.6L222.2 629.6L223.4 630.7L224.6 632L225.7 633.5M61.9 631L63.1 631.3L64.3 631.7L65.5 632.2L66.6 632.8L67.8 633.3L69 633.8L70.1 634.2L71.3 634.5L72.5 634.9L73.6 635.3L74.8 635.7L76 636L77.2 636.2L78.3 636.1L79.5 635.9L80.7 635.6L81.8 635.5L83 635.3L84.2 635.2L85.3 634.9L86.5 634.2L87.7 633.1L88.9 631.3L90 628.8L91.2 625.4L92.4 621.1L93.5 615.7L94.7 609.3L95.9 602L97 594L98.2 585.9L99.4 578.3L100.6 571.8L101.7 566.6L102.9 563.1L104.1 561.1L105.2 560.6L106.4 561.3L107.6 563L108.7 565.3L109.9 568.1L111.1 571L112.3 573.8L113.4 576.5L114.6 579L115.8 581.3L116.9 583.6L118.1 585.8L119.3 588L120.4 589.9L121.6 591.5L122.8 592.9L124 594L125.1 594.9L126.3 595.7L127.5 596.6L128.6 597.6L129.8 598.7L131 599.7L132.1 600.5L133.3 601L134.5 601.3L135.7 601.5L136.8 601.7L138 602L139.2 602.4L140.3 603L141.5 603.5L142.7 604.1L143.8 604.6L145 605.2L146.2 605.7L147.4 606.3L148.5 606.9L149.7 607.4L150.9 607.6L152 607.6L153.2 607.4L154.4 606.9L155.5 606.2L156.7 605.4L157.9 604.4L159.1 603.4L160.2 602.3L161.4 601.1L162.6 600.1L163.7 599.3L164.9 598.8L166.1 598.5L167.2 598.2L168.4 598L169.6 597.8L170.8 597.5L171.9 597.4L173.1 597.5L174.3 597.9L175.4 598.7L176.6 599.7L177.8 600.8L178.9 601.9L180.1 602.7L181.3 603.1L182.5 603L183.6 602.4L184.8 601.6L186 600.6L187.1 599.6L188.3 598.4L189.5 597.2L190.6 596L191.8 594.9L193 594L194.2 593.2L195.3 592.9L196.5 593L197.7 593.8L198.8 595.6L200 598.2L201.2 601.9L202.3 606.2L203.5 611.1L204.7 616L205.9 620.8L207 624.9L208.2 628.1L209.4 630.1L210.5 630.9L211.7 630.6L212.9 629.3L214 627.5L215.2 625.7L216.4 625.1L217.6 625.2L218.7 626.2L219.9 627.7L221.1 629.8L222.2 632L223.4 634.2L224.6 636.1L225.7 636.8M61.9 634.2L63.1 633.7L64.3 633.2L65.5 632.7L66.6 632.3L67.8 631.9L69 631.7L70.1 631.6L71.3 631.6L72.5 631.8L73.6 632L74.8 632.2L76 632.1L77.2 631.7L78.3 631.1L79.5 630.3L80.7 629.4L81.8 628.7L83 628.1L84.2 627.6L85.3 626.8L86.5 625.6L87.7 623.4L88.9 620.3L90 616L91.2 610.7L92.4 604.3L93.5 597L94.7 589.1L95.9 581L97 573.2L98.2 566.2L99.4 560.3L100.6 556L101.7 553.2L102.9 552.3L104.1 552.9L105.2 555L106.4 557.9L107.6 561.6L108.7 565.8L109.9 570.2L111.1 574.5L112.3 578.5L113.4 581.8L114.6 584.5L115.8 586.5L116.9 588L118.1 589.1L119.3 589.8L120.4 590.3L121.6 590.7L122.8 591.2L124 591.7L125.1 592.2L126.3 592.8L127.5 593.3L128.6 593.7L129.8 593.9L131 594.1L132.1 594.3L133.3 594.6L134.5 594.9L135.7 595.2L136.8 595.5L138 595.6L139.2 595.4L140.3 595.1L141.5 594.7L142.7 594.4L143.8 594.3L145 594.5L146.2 595.2L147.4 596.3L148.5 597.7L149.7 599.4L150.9 601L152 602.4L153.2 603.4L154.4 603.9L155.5 603.8L156.7 603.4L157.9 602.8L159.1 602.1L160.2 601.5L161.4 600.9L162.6 600.3L163.7 599.6L164.9 598.8L166.1 598.1L167.2 597.5L168.4 596.9L169.6 596.5L170.8 596L171.9 595.7L173.1 595.6L174.3 595.9L175.4 596.8L176.6 598.2L177.8 599.9L178.9 601.9L180.1 603.8L181.3 605.6L182.5 607L183.6 608.2L184.8 608.9L186 609.2L187.1 609L188.3 608.3L189.5 607.3L190.6 606L191.8 605L193 604.5L194.2 604.8L195.3 605.9L196.5 607.7L197.7 609.7L198.8 611.8L200 613.5L201.2 614.4L202.3 614.7L203.5 614.4L204.7 613.7L205.9 612.9L207 612.5L208.2 612.7L209.4 613.7L210.5 615.6L211.7 618.3L212.9 621.5L214 625.1L215.2 628.6L216.4 632.4L217.6 635.5L218.7 636.9L219.9 636.9L221.1 636.9L222.2 636.9L223.4 636.9L224.6 636.9L225.7 636.9M61.9 632.1L63.1 632.1L64.3 632.2L65.5 632.3L66.6 632.4L67.8 632.3L69 632.1L70.1 631.7L71.3 631.1L72.5 630.6L73.6 630.3L74.8 630.1L76 630.1L77.2 630.2L78.3 630.2L79.5 630.1L80.7 629.8L81.8 629.6L83 629.4L84.2 629.1L85.3 628.7L86.5 628.1L87.7 627.2L88.9 626L90 624.4L91.2 622.4L92.4 619.8L93.5 616.5L94.7 612.2L95.9 606.8L97 600.2L98.2 592.9L99.4 585.4L100.6 578.3L101.7 572.2L102.9 567.5L104.1 564.4L105.2 562.8L106.4 562.7L107.6 563.8L108.7 565.8L109.9 568.5L111.1 571.6L112.3 574.8L113.4 578.1L114.6 581.2L115.8 584.2L116.9 586.9L118.1 589.2L119.3 591.1L120.4 592.6L121.6 593.8L122.8 594.6L124 595.3L125.1 596L126.3 596.7L127.5 597.5L128.6 598.3L129.8 599.1L131 599.6L132.1 599.9L133.3 600L134.5 600L135.7 599.9L136.8 599.8L138 599.9L139.2 600.1L140.3 600.6L141.5 601.3L142.7 602.2L143.8 603.2L145 604.4L146.2 605.6L147.4 606.7L148.5 607.9L149.7 608.8L150.9 609.6L152 610L153.2 610.2L154.4 610L155.5 609.6L156.7 609.2L157.9 608.8L159.1 608.5L160.2 608.5L161.4 608.6L162.6 608.8L163.7 609L164.9 609.2L166.1 609.3L167.2 609.2L168.4 609.2L169.6 609.2L170.8 609.3L171.9 609.4L173.1 609.7L174.3 610.1L175.4 610.7L176.6 611.5L177.8 612.4L178.9 613.2L180.1 613.6L181.3 613.3L182.5 612.2L183.6 610.3L184.8 608L186 605.7L187.1 604L188.3 603L189.5 603.1L190.6 604.2L191.8 606.3L193 609.3L194.2 613.2L195.3 617.6L196.5 622.5L197.7 627.2L198.8 631.3L200 634.5L201.2 636.6L202.3 636.7L203.5 636.7L204.7 636.7L205.9 636L207 635.4L208.2 635.3L209.4 635.7L210.5 636.4L211.7 636.7L212.9 636.7L214 636.7L215.2 636.7L216.4 636.7L217.6 636.7L218.7 636.7L219.9 636.7L221.1 636.7L222.2 636.7L223.4 636.7L224.6 636.3L225.7 636M61.9 628.3L63.1 628L64.3 627.9L65.5 627.8L66.6 627.9L67.8 628.1L69 628.5L70.1 629.1L71.3 629.7L72.5 630.4L73.6 631L74.8 631.4L76 631.8L77.2 632.1L78.3 632.3L79.5 632.4L80.7 632.4L81.8 632.3L83 631.9L84.2 631.3L85.3 630.6L86.5 629.6L87.7 628.5L88.9 627L90 625L91.2 622.4L92.4 618.8L93.5 614L94.7 608.1L95.9 601L97 592.9L98.2 584L99.4 575L100.6 566.3L101.7 558.6L102.9 552.5L104.1 548.1L105.2 545.7L106.4 545.1L107.6 546.2L108.7 548.8L109.9 552.5L111.1 556.9L112.3 561.4L113.4 565.8L114.6 569.8L115.8 573.3L116.9 576.3L118.1 579L119.3 581.4L120.4 583.6L121.6 585.4L122.8 586.9L124 587.9L125.1 588.5L126.3 588.7L127.5 588.7L128.6 588.4L129.8 588.1L131 587.8L132.1 587.6L133.3 587.5L134.5 587.5L135.7 587.6L136.8 587.8L138 588.1L139.2 588.4L140.3 588.6L141.5 588.8L142.7 589.1L143.8 589.5L145 590.1L146.2 591L147.4 592.1L148.5 593.2L149.7 594.3L150.9 595.2L152 595.7L153.2 595.9L154.4 596L155.5 596L156.7 596.1L157.9 596.5L159.1 597.3L160.2 598.3L161.4 599.4L162.6 600.6L163.7 601.8L164.9 602.9L166.1 604.1L167.2 605.3L168.4 606.3L169.6 607.1L170.8 607.7L171.9 608L173.1 608L174.3 607.7L175.4 607.4L176.6 607.2L177.8 607.4L178.9 608.1L180.1 609.4L181.3 611.2L182.5 613.3L183.6 615.4L184.8 617.3L186 618.8L187.1 619.8L188.3 620.2L189.5 620.1L190.6 619.5L191.8 618.5L193 617.1L194.2 615.4L195.3 613.7L196.5 612.2L197.7 611.3L198.8 610.9L200 611.1L201.2 611.8L202.3 612.8L203.5 614.1L204.7 615.3L205.9 616.6L207 617.7L208.2 618.8L209.4 619.8L210.5 621L211.7 622.8L212.9 625.2L214 628.4L215.2 632.6L216.4 636.8L217.6 636.8L218.7 636.8L219.9 636.8L221.1 636.8L222.2 636.8L223.4 636.8L224.6 636.8L225.7 636.8M61.9 634.3L63.1 634L64.3 633.5L65.5 633L66.6 632.5L67.8 632.1L69 631.9L70.1 632L71.3 632.2L72.5 632.7L73.6 633.4L74.8 634.3L76 635.1L77.2 635.9L78.3 636.2L79.5 636.2L80.7 636.2L81.8 636.1L83 635.6L84.2 634.8L85.3 633.7L86.5 632.1L87.7 629.8L88.9 626.6L90 622.3L91.2 616.9L92.4 610.4L93.5 602.9L94.7 594.6L95.9 585.8L97 576.9L98.2 568.6L99.4 561.3L100.6 555.6L101.7 551.6L102.9 549.4L104.1 549L105.2 550.1L106.4 552.6L107.6 556L108.7 560.1L109.9 564.4L111.1 568.5L112.3 572.2L113.4 575.3L114.6 578L115.8 580.2L116.9 582.3L118.1 584.2L119.3 586L120.4 587.5L121.6 588.9L122.8 590L124 590.8L125.1 591.2L126.3 591.3L127.5 591.2L128.6 591.1L129.8 591.1L131 591.4L132.1 592L133.3 592.8L134.5 593.7L135.7 594.5L136.8 595.2L138 595.9L139.2 596.6L140.3 597.4L141.5 598.3L142.7 599.2L143.8 600L145 600.6L146.2 601.1L147.4 601.5L148.5 601.8L149.7 602.2L150.9 602.6L152 603L153.2 603.3L154.4 603.7L155.5 603.9L156.7 604.1L157.9 604.1L159.1 604.1L160.2 604L161.4 603.9L162.6 604L163.7 604.2L164.9 604.6L166.1 605.2L167.2 606.2L168.4 607.4L169.6 608.6L170.8 609.7L171.9 610.5L173.1 610.9L174.3 610.9L175.4 610.6L176.6 610.2L177.8 610L178.9 610L180.1 610.2L181.3 610.6L182.5 611.2L183.6 611.9L184.8 613L186 614.3L187.1 615.8L188.3 617.7L189.5 619.5L190.6 621.5L191.8 623.4L193 625.4L194.2 627.4L195.3 629.4L196.5 631.3L197.7 633.1L198.8 634.7L200 636.1L201.2 636.2L202.3 636.2L203.5 636.2L204.7 636.2L205.9 636.2L207 636.1L208.2 635.3L209.4 634.5L210.5 633.4L211.7 632.3L212.9 631.1L214 629.9L215.2 628.9L216.4 628.7L217.6 628.8L218.7 629.3L219.9 630L221.1 630.7L222.2 631.4L223.4 632.1L224.6 632.6L225.7 633.2M61.9 636.2L63.1 636.2L64.3 636.2L65.5 635.8L66.6 635.2L67.8 634.4L69 633.6L70.1 632.8L71.3 632.2L72.5 631.9L73.6 631.9L74.8 632.2L76 632.7L77.2 633.2L78.3 633.6L79.5 633.6L80.7 633.6L81.8 633.5L83 633.6L84.2 633.7L85.3 633.9L86.5 633.8L87.7 633.3L88.9 632.3L90 630.6L91.2 628.5L92.4 625.9L93.5 622.9L94.7 619.4L95.9 615.2L97 610.2L98.2 604.1L99.4 596.8L100.6 588.6L101.7 579.7L102.9 570.8L104.1 562.6L105.2 555.6L106.4 550.4L107.6 546.7L108.7 544.6L109.9 544.1L111.1 545.1L112.3 547.5L113.4 550.9L114.6 555L115.8 559.4L116.9 563.7L118.1 567.8L119.3 571.6L120.4 575L121.6 578L122.8 580.8L124 583.2L125.1 585.3L126.3 587.1L127.5 588.6L128.6 589.9L129.8 591.1L131 592.2L132.1 593.2L133.3 594L134.5 594.8L135.7 595.5L136.8 596.2L138 597.1L139.2 597.9L140.3 598.7L141.5 599.3L142.7 599.7L143.8 599.7L145 599.5L146.2 599.1L147.4 598.7L148.5 598.2L149.7 597.6L150.9 596.7L152 595.8L153.2 594.8L154.4 594L155.5 593.6L156.7 593.7L157.9 594.3L159.1 595.1L160.2 596.1L161.4 597.2L162.6 598.2L163.7 599.3L164.9 600.5L166.1 601.9L167.2 603.5L168.4 605.2L169.6 606.8L170.8 608.1L171.9 608.9L173.1 609.3L174.3 609.1L175.4 608.5L176.6 607.6L177.8 606.6L178.9 605.4L180.1 603.9L181.3 602.3L182.5 600.3L183.6 598L184.8 595.4L186 592.8L187.1 590.3L188.3 588.3L189.5 586.8L190.6 586.2L191.8 586.5L193 587.8L194.2 590.3L195.3 593.8L196.5 597.9L197.7 602.5L198.8 607L200 611.3L201.2 615.1L202.3 618.3L203.5 620.9L204.7 622.8L205.9 624L207 624.5L208.2 624.4L209.4 623.9L210.5 623L211.7 622L212.9 621L214 620L215.2 619.1L216.4 619.3L217.6 619.8L218.7 620.4L219.9 621.4L221.1 622.9L222.2 624.9L223.4 627.2L224.6 629.7L225.7 632.1M61.9 632.4L63.1 632L64.3 631.6L65.5 631.4L66.6 631.4L67.8 631.7L69 632.1L70.1 632.6L71.3 633.1L72.5 633.4L73.6 633.6L74.8 633.7L76 633.6L77.2 633.4L78.3 632.9L79.5 632.4L80.7 631.8L81.8 631.1L83 630.6L84.2 630.2L85.3 629.7L86.5 629.1L87.7 628.4L88.9 627.5L90 626.3L91.2 624.8L92.4 622.9L93.5 620.5L94.7 617.2L95.9 613L97 607.6L98.2 601.1L99.4 593.6L100.6 585.6L101.7 577.6L102.9 570.5L104.1 564.5L105.2 560.1L106.4 557.4L107.6 556.2L108.7 556.6L109.9 558.3L111.1 561.3L112.3 565.1L113.4 569.5L114.6 574L115.8 578.1L116.9 581.6L118.1 584.2L119.3 585.8L120.4 586.8L121.6 587.4L122.8 587.8L124 588.4L125.1 589.3L126.3 590.6L127.5 592.3L128.6 594.3L129.8 596.5L131 598.8L132.1 600.8L133.3 602.5L134.5 603.8L135.7 604.8L136.8 605.4L138 605.8L139.2 605.9L140.3 605.9L141.5 605.7L142.7 605.3L143.8 604.9L145 604.3L146.2 603.6L147.4 602.8L148.5 602L149.7 601.3L150.9 600.8L152 600.6L153.2 600.5L154.4 600.6L155.5 600.8L156.7 600.8L157.9 600.8L159.1 600.7L160.2 600.8L161.4 601L162.6 601.4L163.7 602.1L164.9 603.1L166.1 604.3L167.2 605.9L168.4 607.7L169.6 609.7L170.8 611.6L171.9 613.2L173.1 614.4L174.3 615L175.4 615.1L176.6 614.7L177.8 613.8L178.9 612.3L180.1 610.3L181.3 607.8L182.5 605.2L183.6 602.6L184.8 600.5L186 599.2L187.1 599.2L188.3 600.5L189.5 603.1L190.6 606.7L191.8 610.6L193 614.4L194.2 617.7L195.3 620.2L196.5 621.6L197.7 621.9L198.8 621.2L200 619.8L201.2 618.3L202.3 617.1L203.5 616.5L204.7 616.5L205.9 617.1L207 617.9L208.2 618.7L209.4 619.1L210.5 619.2L211.7 618.9L212.9 618.5L214 618.1L215.2 618.2L216.4 619.7L217.6 621.6L218.7 623.8L219.9 626.4L221.1 629.1L222.2 631.9L223.4 634.6L224.6 636.2L225.7 636.2M61.9 629.8L63.1 629.6L64.3 629.5L65.5 629.6L66.6 629.8L67.8 630.2L69 630.7L70.1 631.2L71.3 631.5L72.5 631.7L73.6 631.8L74.8 631.6L76 631.2L77.2 630.7L78.3 630.2L79.5 629.6L80.7 629.2L81.8 628.8L83 628.5L84.2 628.3L85.3 627.9L86.5 627.3L87.7 626.4L88.9 625.1L90 623.3L91.2 621L92.4 618L93.5 614.2L94.7 609.4L95.9 603.4L97 596.2L98.2 587.9L99.4 578.9L100.6 569.8L101.7 561.5L102.9 554.6L104.1 549.6L105.2 546.7L106.4 545.9L107.6 546.7L108.7 548.9L109.9 552.1L111.1 555.8L112.3 559.8L113.4 563.7L114.6 567.4L115.8 570.7L116.9 573.7L118.1 576.4L119.3 578.8L120.4 580.8L121.6 582.6L122.8 583.9L124 585L125.1 585.7L126.3 586.3L127.5 586.8L128.6 587.4L129.8 588L131 588.7L132.1 589.6L133.3 590.5L134.5 591.5L135.7 592.5L136.8 593.4L138 594.2L139.2 594.7L140.3 594.9L141.5 594.8L142.7 594.5L143.8 594.1L145 593.8L146.2 593.8L147.4 594.2L148.5 594.9L149.7 595.8L150.9 596.7L152 597.6L153.2 598.4L154.4 599.1L155.5 599.5L156.7 599.9L157.9 600L159.1 600L160.2 599.9L161.4 599.8L162.6 599.8L163.7 599.7L164.9 599.6L166.1 599.4L167.2 599.1L168.4 598.8L169.6 598.7L170.8 598.7L171.9 598.9L173.1 599.1L174.3 599.4L175.4 599.6L176.6 599.8L177.8 600L178.9 600.2L180.1 600.4L181.3 601L182.5 601.7L183.6 602.7L184.8 603.9L186 605.1L187.1 606.2L188.3 606.8L189.5 607L190.6 606.8L191.8 606.4L193 605.8L194.2 605.4L195.3 605.3L196.5 605.9L197.7 606.9L198.8 608.3L200 610.1L201.2 612L202.3 613.8L203.5 615.3L204.7 616.5L205.9 616.9L207 616.9L208.2 616.2L209.4 615.1L210.5 613.9L211.7 612.8L212.9 612.2L214 612.2L215.2 613.2L216.4 616.1L217.6 619.2L218.7 622.3L219.9 625.3L221.1 628L222.2 630.4L223.4 632.4L224.6 633.9L225.7 635.1M61.9 630.9L63.1 631.6L64.3 632.5L65.5 633.3L66.6 633.9L67.8 634.2L69 634L70.1 633.5L71.3 632.6L72.5 631.6L73.6 630.7L74.8 629.9L76 629.5L77.2 629.3L78.3 629.4L79.5 629.8L80.7 630.2L81.8 630.6L83 630.8L84.2 630.6L85.3 630.1L86.5 628.9L87.7 627.2L88.9 625L90 622.4L91.2 619.4L92.4 616.1L93.5 612.5L94.7 608.4L95.9 603.7L97 598.1L98.2 591.6L99.4 584.3L100.6 576.7L101.7 569.3L102.9 562.7L104.1 557.3L105.2 553.4L106.4 551.1L107.6 550.4L108.7 551.1L109.9 553.2L111.1 556.5L112.3 560.7L113.4 565.3L114.6 569.9L115.8 574.3L116.9 578.1L118.1 581.3L119.3 584L120.4 586.2L121.6 588.2L122.8 590L124 591.5L125.1 592.9L126.3 594L127.5 594.7L128.6 594.9L129.8 594.8L131 594.4L132.1 594L133.3 593.8L134.5 594.1L135.7 594.6L136.8 595.3L138 596L139.2 596.5L140.3 596.9L141.5 597.3L142.7 597.6L143.8 598.2L145 598.9L146.2 599.9L147.4 600.9L148.5 602L149.7 603L150.9 603.8L152 604.1L153.2 604L154.4 603.4L155.5 602.3L156.7 601.1L157.9 600L159.1 599.2L160.2 598.9L161.4 599.1L162.6 599.7L163.7 600.7L164.9 601.7L166.1 602.6L167.2 603.5L168.4 604.3L169.6 605.3L170.8 606.5L171.9 607.9L173.1 609.5L174.3 611.2L175.4 612.7L176.6 613.7L177.8 614.3L178.9 614.5L180.1 614.1L181.3 613.1L182.5 611.6L183.6 609.5L184.8 607.3L186 604.9L187.1 602.7L188.3 600.7L189.5 599.2L190.6 597.7L191.8 596.5L193 595.5L194.2 595.1L195.3 595.4L196.5 596.7L197.7 598.9L198.8 602L200 605.3L201.2 608.5L202.3 611.3L203.5 613.5L204.7 615.5L205.9 617.3L207 619.2L208.2 621.4L209.4 623.7L210.5 625.9L211.7 628L212.9 629.7L214 630.9L215.2 631.8L216.4 632.6L217.6 633.1L218.7 633.4L219.9 633.7L221.1 633.8L222.2 633.9L223.4 634.1L224.6 634.3L225.7 634.6M61.9 637.4L63.1 637.4L64.3 637.4L65.5 637.4L66.6 637.4L67.8 637.4L69 637.4L70.1 637.4L71.3 636.9L72.5 636.1L73.6 635.6L74.8 635.4L76 635.4L77.2 635.5L78.3 635.7L79.5 635.8L80.7 635.9L81.8 635.8L83 635.6L84.2 635.3L85.3 634.8L86.5 634.1L87.7 633.2L88.9 632L90 630.5L91.2 628.8L92.4 626.8L93.5 624.3L94.7 621.2L95.9 617.2L97 612L98.2 605.5L99.4 597.9L100.6 589.5L101.7 581L102.9 573L104.1 566.2L105.2 561L106.4 557.6L107.6 555.8L108.7 555.4L109.9 556.3L111.1 558.3L112.3 561L113.4 564.1L114.6 567.3L115.8 570.5L116.9 573.6L118.1 576.7L119.3 579.7L120.4 582.6L121.6 585.3L122.8 587.8L124 590L125.1 591.8L126.3 593.5L127.5 595L128.6 596.4L129.8 597.4L131 598.1L132.1 598.2L133.3 597.9L134.5 597.1L135.7 596.3L136.8 595.6L138 595.1L139.2 595L140.3 595.2L141.5 595.6L142.7 595.9L143.8 596.1L145 596.1L146.2 596.1L147.4 596.1L148.5 596.4L149.7 597.1L150.9 597.9L152 598.8L153.2 599.3L154.4 599.3L155.5 598.9L156.7 598L157.9 596.8L159.1 595.7L160.2 594.7L161.4 594.1L162.6 593.8L163.7 593.9L164.9 594.3L166.1 595L167.2 595.9L168.4 596.9L169.6 598L170.8 599.3L171.9 600.6L173.1 602L174.3 603.3L175.4 604.2L176.6 604.6L177.8 604.3L178.9 603.4L180.1 602L181.3 600.4L182.5 599L183.6 598L184.8 597.7L186 598L187.1 598.8L188.3 599.8L189.5 600.7L190.6 601.3L191.8 601.3L193 600.7L194.2 599.6L195.3 597.9L196.5 596.3L197.7 595L198.8 594.2L200 594.3L201.2 595.1L202.3 596.6L203.5 598.5L204.7 600.5L205.9 602.5L207 604.3L208.2 606L209.4 607.7L210.5 609.6L211.7 611.6L212.9 613.6L214 615.4L215.2 617.5L216.4 620.5L217.6 623.3L218.7 626L219.9 628.6L221.1 631.1L222.2 633.3L223.4 635.1L224.6 636.5L225.7 637.4M61.9 629.3L63.1 629.3L64.3 629.8L65.5 630.5L66.6 631.5L67.8 632.4L69 633.1L70.1 633.5L71.3 633.7L72.5 633.6L73.6 633.5L74.8 633.3L76 633.1L77.2 633L78.3 632.9L79.5 632.9L80.7 632.9L81.8 633.1L83 633.3L84.2 633.7L85.3 634.2L86.5 634.6L87.7 634.8L88.9 634.7L90 634.2L91.2 633.2L92.4 631.7L93.5 629.6L94.7 626.9L95.9 623.5L97 619.1L98.2 613.9L99.4 607.5L100.6 600.1L101.7 591.8L102.9 582.7L104.1 573.4L105.2 564.3L106.4 555.7L107.6 549.1L108.7 545L109.9 543.4L111.1 544.2L112.3 546.8L113.4 550.6L114.6 555.1L115.8 559.7L116.9 564L118.1 567.9L119.3 571.4L120.4 574.6L121.6 577.4L122.8 580L124 582.3L125.1 584.3L126.3 585.8L127.5 586.9L128.6 587.5L129.8 587.9L131 588L132.1 588.2L133.3 588.3L134.5 588.6L135.7 589.1L136.8 589.8L138 590.9L139.2 592.4L140.3 594.2L141.5 595.9L142.7 597.4L143.8 598.6L145 599.2L146.2 599.3L147.4 598.9L148.5 598.1L149.7 597.1L150.9 596.1L152 595.3L153.2 594.7L154.4 594.7L155.5 595.3L156.7 596.4L157.9 597.8L159.1 599.5L160.2 601.1L161.4 602.3L162.6 603L163.7 603.2L164.9 602.9L166.1 602.1L167.2 601.1L168.4 600.1L169.6 599.4L170.8 599.1L171.9 599.3L173.1 600L174.3 601.1L175.4 602.3L176.6 603.3L177.8 603.8L178.9 603.7L180.1 603L181.3 602.4L182.5 602.1L183.6 602.7L184.8 604.3L186 607L187.1 610.5L188.3 614.3L189.5 618.1L190.6 621.5L191.8 624.1L193 626L194.2 627.5L195.3 628.5L196.5 629.4L197.7 630.3L198.8 631.3L200 632.6L201.2 633.9L202.3 635.5L203.5 636.7L204.7 636.7L205.9 636.7L207 636.7L208.2 636.7L209.4 636.7L210.5 636.7L211.7 636.7L212.9 634.5L214 632.1L215.2 630.1L216.4 629.5L217.6 629.5L218.7 630.7L219.9 632.5L221.1 634.5L222.2 636.4L223.4 636.7L224.6 636.7L225.7 636.7M61.9 631.1L63.1 631.5L64.3 631.6L65.5 631.6L66.6 631.5L67.8 631.3L69 631.3L70.1 631.3L71.3 631.4L72.5 631.4L73.6 631.4L74.8 631.3L76 631.2L77.2 631.2L78.3 631.1L79.5 630.9L80.7 630.5L81.8 629.8L83 628.8L84.2 627.6L85.3 626.4L86.5 625.1L87.7 623.9L88.9 622.6L90 621L91.2 618.8L92.4 615.7L93.5 611.5L94.7 606.1L95.9 599.6L97 592L98.2 583.7L99.4 575.3L100.6 567.2L101.7 560.2L102.9 554.6L104.1 550.9L105.2 549.1L106.4 549.1L107.6 550.8L108.7 553.8L109.9 557.6L111.1 561.6L112.3 565.6L113.4 569.4L114.6 573L115.8 576.4L116.9 579.7L118.1 582.9L119.3 585.7L120.4 588.1L121.6 589.9L122.8 591.2L124 592L125.1 592.4L126.3 592.7L127.5 592.8L128.6 592.8L129.8 592.8L131 592.9L132.1 593.3L133.3 594L134.5 594.9L135.7 595.9L136.8 596.9L138 597.6L139.2 598.2L140.3 598.4L141.5 598.2L142.7 597.7L143.8 597L145 595.9L146.2 594.8L147.4 593.7L148.5 592.7L149.7 592.1L150.9 591.7L152 591.7L153.2 591.8L154.4 592.2L155.5 592.6L156.7 593L157.9 593.3L159.1 593.5L160.2 593.7L161.4 593.9L162.6 594.4L163.7 595.1L164.9 596.2L166.1 597.7L167.2 599.4L168.4 601.2L169.6 603.1L170.8 604.9L171.9 606.5L173.1 607.7L174.3 608.4L175.4 608.6L176.6 608.4L177.8 607.8L178.9 607.3L180.1 606.8L181.3 606.6L182.5 606.7L183.6 607L184.8 607.5L186 608L187.1 608.6L188.3 609.5L189.5 610.8L190.6 612.5L191.8 614.6L193 617.1L194.2 619.5L195.3 621.8L196.5 623.8L197.7 625.1L198.8 625.7L200 625.8L201.2 625.4L202.3 624.8L203.5 624.3L204.7 624.1L205.9 624.2L207 625L208.2 626.2L209.4 627.8L210.5 629.6L211.7 631.3L212.9 632.7L214 633.7L215.2 634.3L216.4 634.6L217.6 634.5L218.7 634.1L219.9 633.7L221.1 633.2L222.2 632.8L223.4 632.6L224.6 632.6L225.7 632.9M61.9 632.4L63.1 632.3L64.3 632.5L65.5 633L66.6 633.7L67.8 634.6L69 635.5L70.1 636.1L71.3 636.2L72.5 636.2L73.6 635.9L74.8 635.1L76 634.1L77.2 633.1L78.3 632.2L79.5 631.5L80.7 631L81.8 630.8L83 630.7L84.2 630.7L85.3 630.5L86.5 630.2L87.7 629.7L88.9 628.9L90 627.8L91.2 626.2L92.4 623.7L93.5 620.2L94.7 615.4L95.9 609.2L97 601.8L98.2 593.5L99.4 584.6L100.6 575.8L101.7 567.8L102.9 561.2L104.1 556.3L105.2 553.4L106.4 552.2L107.6 552.8L108.7 554.8L109.9 557.8L111.1 561.4L112.3 565L113.4 568.5L114.6 571.6L115.8 574.3L116.9 576.8L118.1 579.1L119.3 581.3L120.4 583.3L121.6 585.1L122.8 586.6L124 587.8L125.1 588.8L126.3 589.6L127.5 590.2L128.6 590.6L129.8 590.8L131 591L132.1 591.1L133.3 591.5L134.5 592.1L135.7 593L136.8 594.2L138 595.5L139.2 596.8L140.3 597.9L141.5 598.6L142.7 598.9L143.8 598.9L145 598.7L146.2 598.4L147.4 598.3L148.5 598.4L149.7 598.8L150.9 599.3L152 600L153.2 600.8L154.4 601.7L155.5 602.7L156.7 603.7L157.9 604.6L159.1 605.5L160.2 606.2L161.4 606.7L162.6 607L163.7 607L164.9 606.5L166.1 605.7L167.2 604.5L168.4 603.2L169.6 602L170.8 601.1L171.9 600.9L173.1 601.6L174.3 603.2L175.4 605.8L176.6 608.8L177.8 611.9L178.9 614.8L180.1 617.3L181.3 619.4L182.5 621.2L183.6 622.7L184.8 624L186 625.1L187.1 625.8L188.3 626L189.5 625.6L190.6 624.6L191.8 623.1L193 621.5L194.2 619.7L195.3 618.3L196.5 617.3L197.7 617.1L198.8 617.5L200 618.7L201.2 620.5L202.3 622.7L203.5 625.3L204.7 628.1L205.9 630.9L207 633.5L208.2 635.7L209.4 636.2L210.5 636.2L211.7 636.2L212.9 636.2L214 636.2L215.2 636.2L216.4 636.2L217.6 636.2L218.7 636.2L219.9 635.3L221.1 633.9L222.2 632.8L223.4 632.2L224.6 632.1L225.7 632.6M61.9 634.3L63.1 633.5L64.3 632.6L65.5 632L66.6 631.7L67.8 631.7L69 632L70.1 632.5L71.3 633L72.5 633.3L73.6 633.4L74.8 633.3L76 633.2L77.2 633.1L78.3 633.3L79.5 633.7L80.7 634.1L81.8 634.4L83 634.4L84.2 634.2L85.3 633.7L86.5 633L87.7 631.8L88.9 630.4L90 628.7L91.2 626.6L92.4 623.8L93.5 620.1L94.7 615.4L95.9 609.5L97 602.2L98.2 593.9L99.4 584.8L100.6 575.4L101.7 566.4L102.9 558.5L104.1 552.3L105.2 548L106.4 545.7L107.6 546.3L108.7 549.1L109.9 553.5L111.1 558.8L112.3 564.2L113.4 569.4L114.6 574L115.8 578L116.9 581.6L118.1 584.8L119.3 587.8L120.4 590.6L121.6 593.2L122.8 595.4L124 597L125.1 597.9L126.3 598.2L127.5 597.9L128.6 597.2L129.8 596.6L131 596.2L132.1 596.2L133.3 596.6L134.5 597.3L135.7 598L136.8 598.5L138 598.7L139.2 598.6L140.3 598.2L141.5 597.6L142.7 596.7L143.8 595.7L145 594.7L146.2 593.8L147.4 593.1L148.5 592.7L149.7 592.7L150.9 593L152 593.7L153.2 594.8L154.4 596.2L155.5 597.9L156.7 599.8L157.9 601.6L159.1 603.3L160.2 604.8L161.4 605.9L162.6 606.6L163.7 606.8L164.9 606.5L166.1 605.6L167.2 604.4L168.4 603L169.6 601.7L170.8 600.7L171.9 600.3L173.1 600.6L174.3 601.6L175.4 603.2L176.6 605.2L177.8 607.1L178.9 609L180.1 610.5L181.3 612L182.5 613.4L183.6 614.9L184.8 616.4L186 617.8L187.1 618.9L188.3 619.6L189.5 620.1L190.6 620.2L191.8 620L193 619.7L194.2 619.5L195.3 619.4L196.5 619.5L197.7 619.9L198.8 620.7L200 621.9L201.2 623.5L202.3 625.6L203.5 627.8L204.7 630.1L205.9 632.3L207 634.3L208.2 636.1L209.4 637.1L210.5 637.1L211.7 637.1L212.9 637.1L214 637.1L215.2 637.1L216.4 637.1L217.6 637.1L218.7 637.1L219.9 637.1L221.1 637.1L222.2 637.1L223.4 637.1L224.6 637.1L225.7 637.1M61.9 630.6L63.1 630.8L64.3 631.3L65.5 631.8L66.6 632.2L67.8 632.3L69 632.1L70.1 631.8L71.3 631.5L72.5 631.4L73.6 631.6L74.8 632.1L76 633L77.2 633.9L78.3 634.7L79.5 635.1L80.7 635.1L81.8 634.8L83 634.1L84.2 633.3L85.3 632.4L86.5 631.5L87.7 630.6L88.9 629.7L90 628.7L91.2 627.4L92.4 625.5L93.5 622.5L94.7 618.2L95.9 612.3L97 604.9L98.2 596.3L99.4 587.1L100.6 577.9L101.7 569.7L102.9 562.8L104.1 557.7L105.2 554.6L106.4 553.2L107.6 553.6L108.7 555.4L109.9 558.2L111.1 561.7L112.3 565.6L113.4 569.4L114.6 573L115.8 576.3L116.9 579.1L118.1 581.5L119.3 583.4L120.4 584.8L121.6 585.7L122.8 586.3L124 586.7L125.1 586.8L126.3 586.7L127.5 586.6L128.6 586.6L129.8 586.9L131 587.4L132.1 588.3L133.3 589.5L134.5 590.7L135.7 591.9L136.8 593L138 593.7L139.2 594.2L140.3 594.4L141.5 594.3L142.7 594.2L143.8 594L145 594L146.2 594.1L147.4 594.3L148.5 594.6L149.7 595L150.9 595.4L152 595.9L153.2 596.2L154.4 596.3L155.5 596.3L156.7 596.2L157.9 596.2L159.1 596.2L160.2 596.5L161.4 596.9L162.6 597.3L163.7 597.6L164.9 597.9L166.1 598.3L167.2 598.8L168.4 599.6L169.6 600.6L170.8 601.7L171.9 602.8L173.1 603.9L174.3 605L175.4 606.1L176.6 607.2L177.8 608.3L178.9 609.4L180.1 610.3L181.3 610.7L182.5 610.6L183.6 610.1L184.8 609.2L186 608.4L187.1 607.9L188.3 608.1L189.5 609.1L190.6 610.8L191.8 612.9L193 615.3L194.2 617.6L195.3 619.4L196.5 620.7L197.7 621.3L198.8 621.6L200 621.7L201.2 621.9L202.3 622.5L203.5 623.4L204.7 624.5L205.9 625.5L207 626.1L208.2 626.1L209.4 625.5L210.5 624.5L211.7 623.5L212.9 622.6L214 622.1L215.2 622.5L216.4 624.4L217.6 626.7L218.7 629.4L219.9 632.2L221.1 634.7L222.2 636.8L223.4 636.8L224.6 636.8L225.7 636.8M61.9 636.4L63.1 636L64.3 635.4L65.5 634.6L66.6 633.7L67.8 632.9L69 632.2L70.1 631.7L71.3 631.5L72.5 631.4L73.6 631.6L74.8 631.8L76 632.1L77.2 632.3L78.3 632.3L79.5 632.2L80.7 631.9L81.8 631.5L83 631L84.2 630.5L85.3 630L86.5 629.5L87.7 628.8L88.9 628L90 626.8L91.2 625.1L92.4 622.6L93.5 619.1L94.7 614.3L95.9 608.2L97 600.8L98.2 592.5L99.4 583.6L100.6 574.8L101.7 566.6L102.9 559.6L104.1 554.1L105.2 550.3L106.4 548.3L107.6 548.1L108.7 549.5L109.9 552.4L111.1 556.1L112.3 560.2L113.4 564.3L114.6 568.2L115.8 571.8L116.9 575.2L118.1 578.4L119.3 581.5L120.4 584.4L121.6 587L122.8 589.3L124 591.3L125.1 592.9L126.3 594.1L127.5 594.9L128.6 595.3L129.8 595.4L131 595.3L132.1 595.1L133.3 595.1L134.5 595.3L135.7 595.8L136.8 596.5L138 597.3L139.2 598.2L140.3 599.1L141.5 599.9L142.7 600.6L143.8 601.1L145 601.5L146.2 601.7L147.4 602L148.5 602.4L149.7 603L150.9 603.8L152 604.9L153.2 606.1L154.4 607.3L155.5 608.3L156.7 609L157.9 609.5L159.1 609.6L160.2 609.6L161.4 609.4L162.6 609.4L163.7 609.3L164.9 609.4L166.1 609.6L167.2 610L168.4 610.4L169.6 610.8L170.8 610.9L171.9 610.7L173.1 610L174.3 609L175.4 607.7L176.6 606.4L177.8 605.2L178.9 604.2L180.1 603.5L181.3 603.1L182.5 602.8L183.6 602.7L184.8 603.1L186 604.4L187.1 606.7L188.3 610.4L189.5 615.2L190.6 620.6L191.8 626.3L193 631.6L194.2 635.9L195.3 636.5L196.5 636.5L197.7 636.5L198.8 636.5L200 636.5L201.2 636.5L202.3 636.5L203.5 636.5L204.7 636.5L205.9 636.5L207 635.7L208.2 633.9L209.4 632.1L210.5 630.3L211.7 629L212.9 628.2L214 628L215.2 628.7L216.4 630.3L217.6 631.9L218.7 633.4L219.9 634.6L221.1 635.3L222.2 635.7L223.4 635.8L224.6 635.7L225.7 635.8M61.9 634.4L63.1 634.7L64.3 635L65.5 635.3L66.6 635.7L67.8 636L69 636.1L70.1 636L71.3 635.7L72.5 635.1L73.6 634.4L74.8 633.6L76 633L77.2 632.6L78.3 632.5L79.5 632.5L80.7 632.4L81.8 632.1L83 631.5L84.2 630.7L85.3 630L86.5 629.2L87.7 628.5L88.9 627.8L90 626.9L91.2 625.7L92.4 624.1L93.5 621.7L94.7 618.6L95.9 614.5L97 609.2L98.2 602.8L99.4 595.4L100.6 587.1L101.7 578.5L102.9 570.2L104.1 562.8L105.2 557L106.4 553.1L107.6 550.9L108.7 550.4L109.9 551.3L111.1 553.2L112.3 556L113.4 559.3L114.6 562.7L115.8 566.1L116.9 569.4L118.1 572.4L119.3 575.2L120.4 577.8L121.6 580.3L122.8 582.5L124 584.4L125.1 586L126.3 587.2L127.5 588L128.6 588.5L129.8 588.8L131 588.9L132.1 588.8L133.3 588.7L134.5 588.4L135.7 588.3L136.8 588.3L138 588.6L139.2 589.2L140.3 590L141.5 591L142.7 592.1L143.8 593.1L145 593.8L146.2 594.4L147.4 594.8L148.5 595.1L149.7 595.4L150.9 595.9L152 596.7L153.2 597.6L154.4 598.6L155.5 599.5L156.7 600.2L157.9 600.5L159.1 600.5L160.2 600.3L161.4 599.9L162.6 599.3L163.7 598.6L164.9 597.9L166.1 597.2L167.2 596.6L168.4 596.1L169.6 595.7L170.8 595.4L171.9 595L173.1 594.4L174.3 593.8L175.4 593.2L176.6 592.8L177.8 592.8L178.9 593.3L180.1 594.3L181.3 595.5L182.5 596.9L183.6 598.2L184.8 599.5L186 600.6L187.1 601.7L188.3 602.9L189.5 604.2L190.6 606L191.8 607.9L193 610L194.2 612.3L195.3 614.5L196.5 616.7L197.7 618.9L198.8 620.9L200 623L201.2 624.9L202.3 626.7L203.5 628.2L204.7 629.2L205.9 629.7L207 629.3L208.2 628.1L209.4 626.1L210.5 623.3L211.7 620.1L212.9 616.9L214 613.9L215.2 611.7L216.4 611.6L217.6 612.1L218.7 613.3L219.9 614.8L221.1 616.6L222.2 618.6L223.4 620.9L224.6 623.4L225.7 626.1M61.9 638L63.1 638L64.3 637.9L65.5 637.7L66.6 637.5L67.8 637.1L69 636.8L70.1 636.3L71.3 635.8L72.5 635.2L73.6 634.7L74.8 634L76 633.4L77.2 632.6L78.3 631.6L79.5 630.3L80.7 628.7L81.8 626.5L83 623.7L84.2 620.1L85.3 615.4L86.5 609.6L87.7 602.5L88.9 594.3L90 585.2L91.2 575.7L92.4 566.5L93.5 558.2L94.7 551.4L95.9 546.3L97 543.1L98.2 541.9L99.4 542.4L100.6 544.4L101.7 547.6L102.9 551.5L104.1 555.7L105.2 559.9L106.4 563.9L107.6 567.7L108.7 571.2L109.9 574.5L111.1 577.5L112.3 580.2L113.4 582.8L114.6 585.1L115.8 587.1L116.9 588.8L118.1 590.3L119.3 591.5L120.4 592.4L121.6 593.2L122.8 593.7L124 594.2L125.1 594.6L126.3 594.9L127.5 595.2L128.6 595.5L129.8 595.8L131 596L132.1 596.2L133.3 596.4L134.5 596.6L135.7 596.9L136.8 597.2L138 597.5L139.2 597.9L140.3 598.4L141.5 598.8L142.7 599.2L143.8 599.6L145 600L146.2 600.3L147.4 600.6L148.5 600.8L149.7 600.9L150.9 601.1L152 601.2L153.2 601.3L154.4 601.4L155.5 601.5L156.7 601.6L157.9 601.8L159.1 601.9L160.2 602L161.4 602.1L162.6 602.2L163.7 602.3L164.9 602.3L166.1 602.3L167.2 602.3L168.4 602.3L169.6 602.2L170.8 602.2L171.9 602.3L173.1 602.3L174.3 602.4L175.4 602.6L176.6 602.9L177.8 603.2L178.9 603.7L180.1 604.2L181.3 604.9L182.5 605.7L183.6 606.6L184.8 607.6L186 608.9L187.1 610.2L188.3 611.7L189.5 613.3L190.6 614.9L191.8 616.6L193 618.3L194.2 619.8L195.3 621.2L196.5 622.4L197.7 623.5L198.8 624.4L200 625.4L201.2 626.3L202.3 627.2L203.5 628.1L204.7 629.1L205.9 630L207 631L208.2 632L209.4 632.9L210.5 633.8L211.7 634.5L212.9 635L214 635.5L215.2 635.8L216.4 636L217.6 636L218.7 635.8L219.9 635.8L221.1 635.8L222.2 635.9L223.4 636.1L224.6 636.4L225.7 636.7M61.9 632L63.1 630.9L64.3 629.4L65.5 627.8L66.6 626.1L67.8 624.6L69 623.5L70.1 623L71.3 623L72.5 623.6L73.6 624.6L74.8 625.9L76 627.1L77.2 628.2L78.3 629L79.5 629.5L80.7 629.7L81.8 629.6L83 629.2L84.2 628.6L85.3 627.8L86.5 626.8L87.7 625.5L88.9 624L90 622L91.2 619.6L92.4 616.6L93.5 612.7L94.7 607.9L95.9 602.2L97 595.4L98.2 587.8L99.4 579.8L100.6 571.8L101.7 564.4L102.9 558.2L104.1 553.5L105.2 550.6L106.4 549.5L107.6 550.1L108.7 552.2L109.9 555.6L111.1 559.7L112.3 564.3L113.4 569L114.6 573.5L115.8 577.7L116.9 581.4L118.1 584.8L119.3 587.7L120.4 590.3L121.6 592.4L122.8 594.2L124 595.5L125.1 596.5L126.3 597.1L127.5 597.4L128.6 597.3L129.8 597.1L131 596.7L132.1 596.3L133.3 595.8L134.5 595.4L135.7 595L136.8 594.7L138 594.5L139.2 594.5L140.3 594.6L141.5 594.8L142.7 595.2L143.8 595.7L145 596.4L146.2 597.3L147.4 598.2L148.5 599.3L149.7 600.3L150.9 601.4L152 602.4L153.2 603.3L154.4 604.2L155.5 605L156.7 605.7L157.9 606.3L159.1 606.8L160.2 607.1L161.4 607.3L162.6 607.4L163.7 607.3L164.9 607.2L166.1 607.1L167.2 607L168.4 606.9L169.6 606.9L170.8 607.1L171.9 607.3L173.1 607.5L174.3 607.8L175.4 608L176.6 608.1L177.8 608.2L178.9 608.2L180.1 608.1L181.3 607.9L182.5 607.6L183.6 607.4L184.8 607.1L186 607L187.1 607L188.3 607.2L189.5 607.5L190.6 608.1L191.8 609L193 610L194.2 611.2L195.3 612.5L196.5 613.9L197.7 615.3L198.8 616.7L200 617.9L201.2 619L202.3 619.9L203.5 620.6L204.7 621.1L205.9 621.4L207 621.7L208.2 622L209.4 622.3L210.5 622.9L211.7 623.6L212.9 624.6L214 625.8L215.2 627.2L216.4 628.8L217.6 630.4L218.7 632.1L219.9 633.6L221.1 635L222.2 636.1L223.4 636.9L224.6 637.5L225.7 637.7M61.9 636.1L63.1 636.4L64.3 636.6L65.5 636.9L66.6 637.1L67.8 637.2L69 637.2L70.1 637.2L71.3 637L72.5 636.6L73.6 636.1L74.8 635.5L76 634.8L77.2 634.1L78.3 633.4L79.5 632.7L80.7 632.1L81.8 631.5L83 631.1L84.2 630.7L85.3 630.4L86.5 629.9L87.7 629.3L88.9 628.4L90 627.1L91.2 625.2L92.4 622.4L93.5 618.6L94.7 613.5L95.9 607.1L97 599.4L98.2 590.6L99.4 581L100.6 571.4L101.7 562.4L102.9 554.8L104.1 548.9L105.2 545.1L106.4 543.5L107.6 543.9L108.7 546.1L109.9 549.7L111.1 554.2L112.3 559.1L113.4 564L114.6 568.6L115.8 572.7L116.9 576.1L118.1 579.1L119.3 581.5L120.4 583.5L121.6 585.1L122.8 586.5L124 587.6L125.1 588.6L126.3 589.4L127.5 590.1L128.6 590.8L129.8 591.4L131 592L132.1 592.6L133.3 593.2L134.5 593.9L135.7 594.6L136.8 595.3L138 596L139.2 596.6L140.3 597.3L141.5 597.9L142.7 598.3L143.8 598.7L145 599L146.2 599.3L147.4 599.5L148.5 599.7L149.7 599.8L150.9 600L152 600.2L153.2 600.5L154.4 600.9L155.5 601.3L156.7 601.7L157.9 602.2L159.1 602.7L160.2 603.2L161.4 603.7L162.6 604.1L163.7 604.5L164.9 604.8L166.1 605.1L167.2 605.3L168.4 605.5L169.6 605.6L170.8 605.7L171.9 605.9L173.1 606L174.3 606.1L175.4 606.2L176.6 606.4L177.8 606.5L178.9 606.7L180.1 606.8L181.3 607L182.5 607.2L183.6 607.5L184.8 607.7L186 608L187.1 608.3L188.3 608.7L189.5 609.2L190.6 609.7L191.8 610.1L193 610.5L194.2 610.6L195.3 610.6L196.5 610.1L197.7 609.3L198.8 608L200 606.5L201.2 604.7L202.3 603L203.5 601.7L204.7 601L205.9 601.2L207 602.3L208.2 604.4L209.4 607.4L210.5 610.9L211.7 614.6L212.9 618.3L214 621.7L215.2 624.8L216.4 627.4L217.6 629.7L218.7 631.6L219.9 633.1L221.1 634.3L222.2 635.2L223.4 635.8L224.6 636.2L225.7 636.3M61.9 632.7L63.1 632.4L64.3 632.2L65.5 632L66.6 631.8L67.8 631.7L69 631.6L70.1 631.6L71.3 631.7L72.5 631.7L73.6 631.8L74.8 631.9L76 631.9L77.2 632L78.3 631.9L79.5 631.8L80.7 631.6L81.8 631.3L83 630.9L84.2 630.5L85.3 629.8L86.5 629L87.7 628L88.9 626.7L90 624.9L91.2 622.7L92.4 619.8L93.5 616L94.7 611.2L95.9 605.3L97 598.3L98.2 590.4L99.4 581.8L100.6 573.1L101.7 565L102.9 558L104.1 552.7L105.2 549.1L106.4 547.5L107.6 547.6L108.7 549.3L109.9 552.3L111.1 556.1L112.3 560.4L113.4 564.6L114.6 568.5L115.8 572.1L116.9 575.1L118.1 577.8L119.3 580.1L120.4 582.1L121.6 583.9L122.8 585.5L124 586.9L125.1 588.2L126.3 589.4L127.5 590.5L128.6 591.6L129.8 592.5L131 593.4L132.1 594.2L133.3 595L134.5 595.7L135.7 596.4L136.8 597.1L138 597.7L139.2 598.4L140.3 599L141.5 599.7L142.7 600.3L143.8 601L145 601.7L146.2 602.3L147.4 602.9L148.5 603.4L149.7 603.9L150.9 604.2L152 604.3L153.2 604.4L154.4 604.3L155.5 604.1L156.7 603.7L157.9 603.1L159.1 601.9L160.2 599.8L161.4 596.5L162.6 592.4L163.7 588.4L164.9 586.1L166.1 586.7L167.2 590L168.4 594.6L169.6 599.1L170.8 602.3L171.9 604.3L173.1 605.4L174.3 605.9L175.4 606.2L176.6 606.3L177.8 606.3L178.9 606.3L180.1 606.3L181.3 606.3L182.5 606.2L183.6 606.1L184.8 606.1L186 606.2L187.1 606.4L188.3 606.7L189.5 607.3L190.6 608L191.8 608.9L193 610L194.2 611.3L195.3 612.6L196.5 614.1L197.7 615.5L198.8 617L200 618.3L201.2 619.5L202.3 620.6L203.5 621.5L204.7 622.2L205.9 622.8L207 623.2L208.2 623.7L209.4 624.1L210.5 624.7L211.7 625.2L212.9 625.9L214 626.5L215.2 627.3L216.4 628L217.6 628.8L218.7 629.6L219.9 630.4L221.1 631.1L222.2 631.9L223.4 632.5L224.6 633.1L225.7 633.7M61.9 635.1L63.1 635.6L64.3 636.1L65.5 636.6L66.6 637.1L67.8 637.5L69 637.8L70.1 637.9L71.3 637.8L72.5 637.7L73.6 637.4L74.8 637L76 636.6L77.2 636.1L78.3 635.5L79.5 634.9L80.7 634.3L81.8 633.6L83 632.9L84.2 632.2L85.3 631.4L86.5 630.4L87.7 629.2L88.9 627.8L90 626L91.2 623.6L92.4 620.6L93.5 616.7L94.7 611.8L95.9 605.7L97 598.6L98.2 590.6L99.4 582.1L100.6 573.7L101.7 566L102.9 559.6L104.1 554.9L105.2 552.1L106.4 551.2L107.6 552.1L108.7 554.6L109.9 558.2L111.1 562.5L112.3 567.1L113.4 571.5L114.6 575.4L115.8 578.7L116.9 581.4L118.1 583.5L119.3 585.2L120.4 586.4L121.6 587.5L122.8 588.2L124 588.8L125.1 589.1L126.3 588.9L127.5 588L128.6 586.4L129.8 584.2L131 582L132.1 580.5L133.3 580.4L134.5 581.8L135.7 584.4L136.8 587.5L138 590.4L139.2 592.6L140.3 594.3L141.5 595.3L142.7 596.1L143.8 596.8L145 597.4L146.2 598.1L147.4 598.7L148.5 599.3L149.7 599.8L150.9 600.3L152 600.7L153.2 601L154.4 601.3L155.5 601.4L156.7 601.6L157.9 601.7L159.1 601.8L160.2 601.9L161.4 601.9L162.6 602L163.7 602.1L164.9 602.2L166.1 602.3L167.2 602.4L168.4 602.5L169.6 602.6L170.8 602.7L171.9 602.9L173.1 603L174.3 603.1L175.4 603.3L176.6 603.5L177.8 603.9L178.9 604.3L180.1 604.7L181.3 605.2L182.5 605.8L183.6 606.3L184.8 606.8L186 607.3L187.1 607.9L188.3 608.5L189.5 609.1L190.6 609.9L191.8 610.8L193 611.7L194.2 612.8L195.3 613.8L196.5 614.8L197.7 615.8L198.8 616.7L200 617.5L201.2 618.2L202.3 618.8L203.5 619.3L204.7 619.6L205.9 619.9L207 620.1L208.2 620.3L209.4 620.7L210.5 621.1L211.7 621.6L212.9 622.4L214 623.2L215.2 624.3L216.4 625.5L217.6 626.9L218.7 628.3L219.9 629.6L221.1 630.9L222.2 632L223.4 632.8L224.6 633.4L225.7 633.8M61.9 634.4L63.1 634.1L64.3 633.9L65.5 633.7L66.6 633.7L67.8 633.6L69 633.7L70.1 633.8L71.3 633.8L72.5 633.8L73.6 633.7L74.8 633.6L76 633.5L77.2 633.3L78.3 633.2L79.5 633L80.7 632.9L81.8 632.7L83 632.5L84.2 632.3L85.3 631.8L86.5 631.1L87.7 629.9L88.9 628.4L90 626.2L91.2 623.3L92.4 619.5L93.5 614.7L94.7 608.7L95.9 601.3L97 592.7L98.2 583.2L99.4 573L100.6 562.8L101.7 553.4L102.9 545.4L104.1 539.3L105.2 535.3L106.4 533.5L107.6 533.7L108.7 535.8L109.9 539.3L111.1 543.7L112.3 548.6L113.4 553.6L114.6 558.4L115.8 562.7L116.9 566.6L118.1 570.1L119.3 573.2L120.4 575.9L121.6 578.3L122.8 580.4L124 582.2L125.1 583.7L126.3 585L127.5 586.1L128.6 586.9L129.8 587.6L131 588.2L132.1 588.7L133.3 589.2L134.5 589.7L135.7 590.2L136.8 590.9L138 591.5L139.2 592.2L140.3 592.9L141.5 593.6L142.7 594.2L143.8 594.8L145 595.3L146.2 595.7L147.4 596L148.5 596.3L149.7 596.5L150.9 596.6L152 596.8L153.2 597L154.4 597.2L155.5 597.5L156.7 597.9L157.9 598.2L159.1 598.6L160.2 598.8L161.4 599.1L162.6 599.3L163.7 599.4L164.9 599.5L166.1 599.5L167.2 599.6L168.4 599.6L169.6 599.8L170.8 599.9L171.9 600.2L173.1 600.4L174.3 600.7L175.4 600.9L176.6 601.1L177.8 601.2L178.9 601.3L180.1 601.3L181.3 601.2L182.5 601.1L183.6 600.9L184.8 600.8L186 600.8L187.1 600.9L188.3 601.2L189.5 601.8L190.6 602.5L191.8 603.5L193 604.7L194.2 605.9L195.3 607.3L196.5 608.7L197.7 610.1L198.8 611.4L200 612.7L201.2 614L202.3 615.2L203.5 616.3L204.7 617.3L205.9 618.3L207 619.3L208.2 620.3L209.4 621.3L210.5 622.4L211.7 623.5L212.9 624.7L214 625.9L215.2 627.2L216.4 628.5L217.6 629.9L218.7 631.2L219.9 632.5L221.1 633.7L222.2 634.7L223.4 635.7L224.6 636.4L225.7 636.9" stroke="#85878a" stroke-width="0.75"/>
<path d="M61.9 634.4L63.1 634.2L64.3 633.9L65.5 633.6L66.6 633.3L67.8 633L69 632.8L70.1 632.5L71.3 632.2L72.5 631.9L73.6 631.7L74.8 631.4L76 631.2L77.2 631.1L78.3 630.9L79.5 630.7L80.7 630.5L81.8 630.2L83 629.9L84.2 629.6L85.3 629.1L86.5 628.4L87.7 627.5L88.9 626.3L90 624.6L91.2 622.2L92.4 619.1L93.5 615L94.7 609.7L95.9 603.1L97 595.3L98.2 586.4L99.4 576.8L100.6 567.2L101.7 558.2L102.9 550.5L104.1 544.6L105.2 540.7L106.4 538.9L107.6 538.7L108.7 540.1L109.9 542.8L111.1 546.3L112.3 550.4L113.4 554.7L114.6 558.9L115.8 562.8L116.9 566.4L118.1 569.7L119.3 572.6L120.4 575.2L121.6 577.6L122.8 579.6L124 581.5L125.1 583.1L126.3 584.5L127.5 585.8L128.6 586.9L129.8 587.8L131 588.5L132.1 589.2L133.3 589.7L134.5 590.2L135.7 590.6L136.8 591L138 591.4L139.2 591.7L140.3 592.1L141.5 592.4L142.7 592.7L143.8 593L145 593.3L146.2 593.6L147.4 594L148.5 594.3L149.7 594.7L150.9 595.1L152 595.5L153.2 595.9L154.4 596.3L155.5 596.8L156.7 597.2L157.9 597.6L159.1 598L160.2 598.4L161.4 598.8L162.6 599.1L163.7 599.5L164.9 599.8L166.1 600.1L167.2 600.4L168.4 600.7L169.6 601L170.8 601.2L171.9 601.5L173.1 601.8L174.3 602.1L175.4 602.3L176.6 602.6L177.8 602.9L178.9 603.2L180.1 603.5L181.3 603.8L182.5 604.1L183.6 604.4L184.8 604.7L186 604.9L187.1 605L188.3 605.1L189.5 605.1L190.6 605.1L191.8 605.1L193 605.1L194.2 605.1L195.3 605.3L196.5 605.6L197.7 606L198.8 606.6L200 607.3L201.2 608L202.3 608.9L203.5 609.8L204.7 610.7L205.9 611.5L207 612.4L208.2 613.3L209.4 614.1L210.5 614.9L211.7 615.6L212.9 616.3L214 616.9L215.2 618L216.4 620.3L217.6 622.6L218.7 624.8L219.9 626.9L221.1 628.9L222.2 630.8L223.4 632.4L224.6 633.9L225.7 635.2" stroke="#231f20" stroke-width="0.8" stroke-dasharray="4 2"/>
<path d="M61.9 637.5L63.1 637.5L64.3 637.4L65.5 637.2L66.6 637.1L67.8 636.9L69 636.7L70.1 636.5L71.3 636.3L72.5 636.1L73.6 635.9L74.8 635.6L76 635.4L77.2 635.2L78.3 634.9L79.5 634.7L80.7 634.4L81.8 634.1L83 633.7L84.2 633.3L85.3 632.8L86.5 632.2L87.7 631.4L88.9 630.4L90 629.1L91.2 627.3L92.4 624.9L93.5 621.9L94.7 617.9L95.9 612.9L97 606.9L98.2 599.9L99.4 592.1L100.6 584L101.7 576.1L102.9 569L104.1 563.2L105.2 558.9L106.4 556.3L107.6 555.7L108.7 556.8L109.9 559.4L111.1 563L112.3 567.1L113.4 571.3L114.6 575.3L115.8 578.8L116.9 581.9L118.1 584.6L119.3 586.9L120.4 588.8L121.6 590.5L122.8 592L124 593.3L125.1 594.4L126.3 595.3L127.5 596.1L128.6 596.8L129.8 597.3L131 597.9L132.1 598.3L133.3 598.8L134.5 599.3L135.7 599.7L136.8 600.2L138 600.6L139.2 600.9L140.3 601.3L141.5 601.6L142.7 601.9L143.8 602.2L145 602.4L146.2 602.7L147.4 603L148.5 603.2L149.7 603.5L150.9 603.7L152 604L153.2 604.2L154.4 604.5L155.5 604.7L156.7 605L157.9 605.2L159.1 605.5L160.2 605.7L161.4 606L162.6 606.2L163.7 606.5L164.9 606.7L166.1 606.9L167.2 607.1L168.4 607.3L169.6 607.4L170.8 607.6L171.9 607.7L173.1 607.8L174.3 607.8L175.4 607.9L176.6 607.9L177.8 607.8L178.9 607.8L180.1 607.7L181.3 607.6L182.5 607.7L183.6 608L184.8 608.5L186 609.2L187.1 610L188.3 611.1L189.5 612.3L190.6 613.6L191.8 614.9L193 616.2L194.2 617.5L195.3 618.7L196.5 619.8L197.7 620.8L198.8 621.6L200 622.4L201.2 623.2L202.3 624L203.5 625L204.7 625.9L205.9 626.9L207 628L208.2 629.2L209.4 630.4L210.5 631.6L211.7 632.7L212.9 633.8L214 634.8L215.2 635.6L216.4 636.4L217.6 637L218.7 637.2L219.9 637.2L221.1 637.3L222.2 637.3L223.4 637.4L224.6 637.5L225.7 637.6" stroke="#231f20" stroke-width="0.8" stroke-dasharray="4 2"/>
<path d="M61.9 636.2L63.1 636.1L64.3 636L65.5 635.9L66.6 635.8L67.8 635.6L69 635.5L70.1 635.3L71.3 635.2L72.5 635L73.6 634.9L74.8 634.7L76 634.6L77.2 634.4L78.3 634.3L79.5 634.1L80.7 633.8L81.8 633.6L83 633.2L84.2 632.8L85.3 632.2L86.5 631.3L87.7 630.2L88.9 628.6L90 626.6L91.2 623.8L92.4 620.1L93.5 615.4L94.7 609.5L95.9 602.5L97 594.5L98.2 585.7L99.4 576.8L100.6 568.4L101.7 561.1L102.9 555.3L104.1 551.3L105.2 549.2L106.4 548.8L107.6 549.8L108.7 551.8L109.9 554.7L111.1 558.2L112.3 561.9L113.4 565.7L114.6 569.3L115.8 572.5L116.9 575.4L118.1 578L119.3 580.3L120.4 582.4L121.6 584.2L122.8 585.7L124 587.1L125.1 588.3L126.3 589.3L127.5 590.1L128.6 590.9L129.8 591.5L131 592.1L132.1 592.5L133.3 592.9L134.5 593.3L135.7 593.6L136.8 593.9L138 594.3L139.2 594.6L140.3 594.9L141.5 595.2L142.7 595.5L143.8 595.8L145 596.1L146.2 596.3L147.4 596.6L148.5 596.8L149.7 597L150.9 597.2L152 597.4L153.2 597.6L154.4 597.8L155.5 598L156.7 598.2L157.9 598.4L159.1 598.6L160.2 598.8L161.4 599L162.6 599.3L163.7 599.5L164.9 599.8L166.1 600.2L167.2 600.5L168.4 600.9L169.6 601.3L170.8 601.7L171.9 602.2L173.1 602.7L174.3 603.1L175.4 603.6L176.6 604L177.8 604.5L178.9 604.9L180.1 605.3L181.3 605.6L182.5 606L183.6 606.3L184.8 606.5L186 606.8L187.1 607L188.3 607.2L189.5 607.3L190.6 607.5L191.8 607.6L193 607.6L194.2 607.7L195.3 607.9L196.5 608.2L197.7 608.5L198.8 609.1L200 609.7L201.2 610.5L202.3 611.5L203.5 612.5L204.7 613.7L205.9 614.9L207 616.1L208.2 617.3L209.4 618.4L210.5 619.5L211.7 620.5L212.9 621.4L214 622.2L215.2 623.1L216.4 624.7L217.6 626.3L218.7 627.7L219.9 629.1L221.1 630.4L222.2 631.6L223.4 632.9L224.6 634L225.7 635.1" stroke="#231f20" stroke-width="0.8" stroke-dasharray="4 2"/>
<path d="M61.9 635.7L63.1 635.6L64.3 635.4L65.5 635.2L66.6 635L67.8 634.9L69 634.6L70.1 634.4L71.3 634.2L72.5 634L73.6 633.8L74.8 633.6L76 633.4L77.2 633.2L78.3 633L79.5 632.8L80.7 632.5L81.8 632.2L83 631.9L84.2 631.6L85.3 631.2L86.5 630.7L87.7 630L88.9 629.2L90 628L91.2 626.6L92.4 624.7L93.5 622.1L94.7 618.8L95.9 614.6L97 609.3L98.2 603L99.4 595.9L100.6 588.1L101.7 580.2L102.9 572.8L104.1 566.3L105.2 561.1L106.4 557.2L107.6 555.8L108.7 556.5L109.9 559L111.1 562.8L112.3 567.2L113.4 571.7L114.6 576L115.8 579.7L116.9 582.9L118.1 585.7L119.3 588.1L120.4 590L121.6 591.7L122.8 593.2L124 594.4L125.1 595.4L126.3 596.3L127.5 597L128.6 597.6L129.8 598.2L131 598.7L132.1 599.2L133.3 599.7L134.5 600.2L135.7 600.7L136.8 601.1L138 601.5L139.2 601.9L140.3 602.2L141.5 602.5L142.7 602.9L143.8 603.2L145 603.5L146.2 603.8L147.4 604.2L148.5 604.5L149.7 604.9L150.9 605.3L152 605.7L153.2 606.1L154.4 606.5L155.5 607L156.7 607.4L157.9 607.9L159.1 608.3L160.2 608.8L161.4 609.2L162.6 609.6L163.7 610L164.9 610.4L166.1 610.7L167.2 610.9L168.4 611.2L169.6 611.4L170.8 611.5L171.9 611.5L173.1 611.5L174.3 611.3L175.4 611.2L176.6 611.3L177.8 611.4L178.9 611.8L180.1 612.4L181.3 613.2L182.5 614.1L183.6 615.2L184.8 616.4L186 617.5L187.1 618.6L188.3 619.6L189.5 620.6L190.6 621.4L191.8 622.1L193 622.8L194.2 623.6L195.3 624.4L196.5 625.3L197.7 626.3L198.8 627.3L200 628.5L201.2 629.6L202.3 630.8L203.5 632L204.7 633.1L205.9 634L207 634.7L208.2 635.3L209.4 635.6L210.5 635.6L211.7 635.6L212.9 635.6L214 635.6L215.2 635.7L216.4 635.9L217.6 636.2L218.7 636.4L219.9 636.6L221.1 636.9L222.2 637.1L223.4 637.3L224.6 637.5L225.7 637.7" stroke="#231f20" stroke-width="0.8" stroke-dasharray="4 2"/>
<path d="M61.9 635.2L63.1 635.1L64.3 635L65.5 634.9L66.6 634.8L67.8 634.7L69 634.5L70.1 634.4L71.3 634.2L72.5 634.1L73.6 633.9L74.8 633.8L76 633.6L77.2 633.4L78.3 633.2L79.5 632.9L80.7 632.6L81.8 632.3L83 631.9L84.2 631.5L85.3 630.9L86.5 630.1L87.7 629.2L88.9 627.9L90 626.2L91.2 624L92.4 621L93.5 617.2L94.7 612.3L95.9 606.2L97 599L98.2 590.8L99.4 582L100.6 573.2L101.7 565L102.9 558.1L104.1 552.7L105.2 549.2L106.4 547.5L107.6 547.7L108.7 549.4L109.9 552.4L111.1 556.2L112.3 560.5L113.4 564.7L114.6 568.8L115.8 572.4L116.9 575.7L118.1 578.5L119.3 581L120.4 583.2L121.6 585.1L122.8 586.7L124 588.1L125.1 589.3L126.3 590.4L127.5 591.3L128.6 592L129.8 592.7L131 593.2L132.1 593.7L133.3 594.1L134.5 594.6L135.7 595L136.8 595.4L138 595.8L139.2 596.2L140.3 596.6L141.5 597L142.7 597.3L143.8 597.6L145 597.9L146.2 598.2L147.4 598.5L148.5 598.8L149.7 599.1L150.9 599.4L152 599.7L153.2 600L154.4 600.3L155.5 600.6L156.7 600.9L157.9 601.2L159.1 601.5L160.2 601.8L161.4 602.1L162.6 602.4L163.7 602.7L164.9 603L166.1 603.3L167.2 603.6L168.4 603.9L169.6 604.2L170.8 604.5L171.9 604.8L173.1 605.1L174.3 605.4L175.4 605.7L176.6 606L177.8 606.3L178.9 606.6L180.1 606.8L181.3 607L182.5 607.1L183.6 607.2L184.8 607.3L186 607.4L187.1 607.5L188.3 607.7L189.5 608.1L190.6 608.7L191.8 609.4L193 610.3L194.2 611.3L195.3 612.4L196.5 613.6L197.7 614.8L198.8 615.9L200 617.1L201.2 618.1L202.3 619.1L203.5 619.9L204.7 620.7L205.9 621.3L207 622L208.2 622.6L209.4 623.2L210.5 624L211.7 624.8L212.9 625.7L214 626.6L215.2 627.5L216.4 628.5L217.6 629.6L218.7 630.6L219.9 631.6L221.1 632.5L222.2 633.4L223.4 634.1L224.6 634.6L225.7 635.1" stroke="#1a1718" stroke-width="2.7" stroke-linecap="round"/>
</g>
<path d="M62 530.9V638.3H226.6M62 638.3h-4.6M62 616.8h-4.6M62 595.3h-4.6M62 573.9h-4.6M62 552.4h-4.6M62 530.9h-4.6M105 638.3v6.2M151.8 638.3v6.2M198.6 638.3v6.2" stroke="#454344" stroke-width="1" fill="none"/>
<text x="-0.2" y="511" font-size="23" font-weight="bold" stroke="#231f20" stroke-width="0.7" stroke-linejoin="round">c</text>
<text x="51.2" y="642.8" font-size="12.8" text-anchor="end" textLength="8" lengthAdjust="spacingAndGlyphs">0</text>
<text x="51.2" y="599.8" font-size="12.8" text-anchor="end">1</text>
<text x="51.2" y="556.9" font-size="12.8" text-anchor="end" textLength="8" lengthAdjust="spacingAndGlyphs">2</text>
<text x="105" y="658.4" font-size="12.8" text-anchor="middle" textLength="8" lengthAdjust="spacingAndGlyphs">0</text>
<text x="151.8" y="658.4" font-size="12.8" text-anchor="middle" textLength="25" lengthAdjust="spacingAndGlyphs">200</text>
<text x="198.6" y="658.4" font-size="12.8" text-anchor="middle" textLength="25" lengthAdjust="spacingAndGlyphs">400</text>
<text font-size="16" text-anchor="middle" textLength="75.5" lengthAdjust="spacingAndGlyphs" transform="translate(13.2 584.8) rotate(-90)">Population</text>
<text font-size="16" text-anchor="middle" textLength="56" lengthAdjust="spacingAndGlyphs" transform="translate(32.4 584.7) rotate(-90)">FR (kHz)</text>
<text x="51" y="681" font-size="16" textLength="187" lengthAdjust="spacingAndGlyphs">Time from burst peak (ms)</text>
<path d="M301.2 528.5V638.5H400.4M301.2 632.9h-5.6M301.2 615.4h-5.6M301.2 598h-5.6M301.2 580.5h-5.6M301.2 563.1h-5.6M301.2 545.6h-5.6M313.4 638.5v5.6M338.3 638.5v5.6M363.1 638.5v5.6M387.8 638.5v5.6" stroke="#454344" stroke-width="1" fill="none"/>
<path d="M317.7 600L317.9 600.3L318.2 600.6L318.6 600.9L318.9 601.2L319.1 601.5L319.3 601.8L319.4 602.1L319.5 602.4L319.7 602.7L319.8 603L319.8 603.3L319.9 603.6L319.9 603.9L320 604.2L320 604.5L320.1 604.8L320.1 605.1L320.2 605.4L320.2 605.7L320.3 606L320.3 606.3L320.4 606.6L320.4 606.9L320.5 607.2L320.5 607.5L320.6 607.8L320.6 608.1L320.7 608.4L320.8 608.7L320.8 609L320.9 609.3L321.1 609.6L321.2 609.9L321.3 610.2L321.5 610.5L321.6 610.8L321.8 611.1L321.9 611.4L322 611.7L322.2 612L322.3 612.3L322.4 612.6L322.6 612.9L322.7 613.2L322.8 613.5L323 613.8L323.1 614.1L323.2 614.4L323.3 614.7L323.4 615L323.5 615.3L323.5 615.6L323.6 615.9L323.7 616.2L323.8 616.5L323.8 616.8L323.8 617.1L323.8 617.4L323.7 617.7L323.6 618L323.5 618.3L323.4 618.6L323.3 618.9L323.1 619.2L322.9 619.5L322.7 619.8L322.4 620.1L322.2 620.4L322 620.7L321.7 621L321.5 621.3L321.2 621.6L320.9 621.9L320.6 622.2L320.2 622.5L319.9 622.8L319.6 623.1L319.3 623.4L319 623.7L318.7 624L318.4 624.3L318 624.6L317.7 624.9L317.4 625.2L317.1 625.5L316.8 625.8L316.6 626.1L316.3 626.4L316.1 626.7L315.8 627L315.6 627.3L315.4 627.6L315.1 627.9L314.9 628.2L314.8 628.5L314.7 628.8L314.6 629.1L314.5 629.4L314.4 629.7L312.4 629.7L312.3 629.4L312.2 629.1L312.1 628.8L312 628.5L311.9 628.2L311.7 627.9L311.4 627.6L311.2 627.3L310.9 627L310.7 626.7L310.5 626.4L310.2 626.1L310 625.8L309.7 625.5L309.4 625.2L309.1 624.9L308.8 624.6L308.4 624.3L308.1 624L307.8 623.7L307.5 623.4L307.2 623.1L306.9 622.8L306.6 622.5L306.2 622.2L305.9 621.9L305.6 621.6L305.3 621.3L305.1 621L304.8 620.7L304.6 620.4L304.4 620.1L304.1 619.8L303.9 619.5L303.7 619.2L303.5 618.9L303.4 618.6L303.3 618.3L303.2 618L303.1 617.7L303 617.4L303 617.1L303 616.8L303 616.5L303.1 616.2L303.2 615.9L303.3 615.6L303.3 615.3L303.4 615L303.5 614.7L303.6 614.4L303.7 614.1L303.8 613.8L304 613.5L304.1 613.2L304.2 612.9L304.4 612.6L304.5 612.3L304.6 612L304.8 611.7L304.9 611.4L305 611.1L305.2 610.8L305.3 610.5L305.5 610.2L305.6 609.9L305.7 609.6L305.9 609.3L306 609L306 608.7L306.1 608.4L306.1 608.1L306.2 607.8L306.2 607.5L306.3 607.2L306.3 606.9L306.4 606.6L306.4 606.3L306.5 606L306.5 605.7L306.6 605.4L306.6 605.1L306.7 604.8L306.8 604.5L306.8 604.2L306.8 603.9L306.9 603.6L307 603.3L307 603L307.1 602.7L307.3 602.4L307.4 602.1L307.5 601.8L307.7 601.5L307.9 601.2L308.2 600.9L308.6 600.6L308.9 600.3L309.1 600Z" fill="#808285" stroke="#231f20" stroke-width="1.1" stroke-linejoin="round"/>
<path d="M313.4 600V629.7" stroke="#231f20" stroke-width="0.8"/>
<rect x="311.1" y="604.3" width="4.6" height="16.5" fill="#231f20"/>
<ellipse cx="313.4" cy="613.4" rx="1.6" ry="1.9" fill="#fff"/>
<path d="M339.3 562.1L339.3 562.7L339.3 563.3L339.4 563.9L339.4 564.5L339.4 565.2L339.4 565.8L339.4 566.4L339.5 567L339.5 567.6L339.6 568.2L339.8 568.8L339.9 569.4L340.1 570L340.3 570.6L340.5 571.3L340.6 571.9L340.8 572.5L341 573.1L341.2 573.7L341.4 574.3L341.5 574.9L341.7 575.5L341.9 576.1L342.1 576.7L342.3 577.4L342.4 578L342.6 578.6L342.8 579.2L343 579.8L343.2 580.4L343.4 581L343.5 581.6L343.7 582.2L343.9 582.8L344.1 583.5L344.3 584.1L344.4 584.7L344.5 585.3L344.6 585.9L344.7 586.5L344.8 587.1L344.9 587.7L345 588.3L345.1 588.9L345.2 589.6L345.3 590.2L345.3 590.8L345.2 591.4L345.2 592L345 592.6L344.9 593.2L344.8 593.8L344.7 594.4L344.6 595L344.5 595.7L344.3 596.3L344.2 596.9L344.1 597.5L344 598.1L343.9 598.7L343.7 599.3L343.5 599.9L343.4 600.5L343.2 601.1L343 601.8L342.9 602.4L342.7 603L342.5 603.6L342.4 604.2L342.2 604.8L342 605.4L341.9 606L341.7 606.6L341.5 607.2L341.4 607.9L341.3 608.5L341.1 609.1L341 609.7L340.9 610.3L340.8 610.9L340.6 611.5L340.5 612.1L340.4 612.7L340.2 613.3L340.1 614L340 614.6L339.9 615.2L339.8 615.8L339.7 616.4L339.6 617L339.6 617.6L339.6 618.2L339.5 618.8L339.5 619.4L339.5 620.1L339.4 620.7L339.4 621.3L339.3 621.9L339.3 622.5L337.3 622.5L337.3 621.9L337.2 621.3L337.2 620.7L337.1 620.1L337.1 619.4L337.1 618.8L337 618.2L337 617.6L337 617L336.9 616.4L336.8 615.8L336.7 615.2L336.6 614.6L336.5 614L336.4 613.3L336.2 612.7L336.1 612.1L336 611.5L335.8 610.9L335.7 610.3L335.6 609.7L335.5 609.1L335.3 608.5L335.2 607.9L335.1 607.2L334.9 606.6L334.7 606L334.6 605.4L334.4 604.8L334.2 604.2L334.1 603.6L333.9 603L333.7 602.4L333.6 601.8L333.4 601.1L333.2 600.5L333.1 599.9L332.9 599.3L332.7 598.7L332.6 598.1L332.5 597.5L332.4 596.9L332.3 596.3L332.1 595.7L332 595L331.9 594.4L331.8 593.8L331.7 593.2L331.6 592.6L331.4 592L331.4 591.4L331.3 590.8L331.3 590.2L331.4 589.6L331.5 588.9L331.6 588.3L331.7 587.7L331.8 587.1L331.9 586.5L332 585.9L332.1 585.3L332.2 584.7L332.3 584.1L332.5 583.5L332.7 582.8L332.9 582.2L333.1 581.6L333.2 581L333.4 580.4L333.6 579.8L333.8 579.2L334 578.6L334.2 578L334.3 577.4L334.5 576.7L334.7 576.1L334.9 575.5L335.1 574.9L335.2 574.3L335.4 573.7L335.6 573.1L335.8 572.5L336 571.9L336.1 571.3L336.3 570.6L336.5 570L336.7 569.4L336.8 568.8L337 568.2L337.1 567.6L337.1 567L337.2 566.4L337.2 565.8L337.2 565.2L337.2 564.5L337.2 563.9L337.3 563.3L337.3 562.7L337.3 562.1Z" fill="#808285" stroke="#231f20" stroke-width="1.1" stroke-linejoin="round"/>
<path d="M338.3 562.1V622.5" stroke="#231f20" stroke-width="0.8"/>
<rect x="336" y="583.1" width="4.6" height="21.1" fill="#231f20"/>
<ellipse cx="338.3" cy="593" rx="1.6" ry="1.9" fill="#fff"/>
<path d="M364.9 602L364.9 602.3L364.9 602.6L365 603L365 603.3L365 603.6L365 603.9L365.1 604.3L365.1 604.6L365.2 604.9L365.3 605.2L365.4 605.6L365.5 605.9L365.6 606.2L365.7 606.5L365.8 606.8L366 607.2L366.1 607.5L366.2 607.8L366.3 608.1L366.4 608.5L366.6 608.8L366.7 609.1L366.9 609.4L367.1 609.8L367.4 610.1L367.6 610.4L367.8 610.7L368 611.1L368.3 611.4L368.5 611.7L368.7 612L369 612.3L369.2 612.7L369.4 613L369.6 613.3L369.8 613.6L370.1 614L370.3 614.3L370.5 614.6L370.7 614.9L370.9 615.3L371.1 615.6L371.3 615.9L371.5 616.2L371.7 616.5L371.9 616.9L372.1 617.2L372.3 617.5L372.5 617.8L372.6 618.2L372.7 618.5L372.7 618.8L372.8 619.1L372.9 619.5L373 619.8L373 620.1L373 620.4L373 620.7L372.9 621.1L372.8 621.4L372.7 621.7L372.6 622L372.5 622.4L372.4 622.7L372.3 623L372.2 623.3L372.1 623.7L372 624L371.9 624.3L371.8 624.6L371.7 624.9L371.6 625.3L371.5 625.6L371.4 625.9L371.3 626.2L371.2 626.6L371 626.9L370.9 627.2L370.7 627.5L370.5 627.9L370.3 628.2L370.2 628.5L370 628.8L369.8 629.2L369.6 629.5L369.5 629.8L369.3 630.1L369.1 630.4L368.9 630.8L368.7 631.1L368.6 631.4L368.4 631.7L368.2 632.1L368 632.4L367.8 632.7L367.6 633L367.3 633.4L367.1 633.7L366.8 634L359.4 634L359.1 633.7L358.9 633.4L358.6 633L358.4 632.7L358.2 632.4L358 632.1L357.8 631.7L357.6 631.4L357.5 631.1L357.3 630.8L357.1 630.4L356.9 630.1L356.7 629.8L356.6 629.5L356.4 629.2L356.2 628.8L356 628.5L355.9 628.2L355.7 627.9L355.5 627.5L355.3 627.2L355.2 626.9L355 626.6L354.9 626.2L354.8 625.9L354.7 625.6L354.6 625.3L354.5 624.9L354.4 624.6L354.3 624.3L354.2 624L354.1 623.7L354 623.3L353.9 623L353.8 622.7L353.7 622.4L353.6 622L353.5 621.7L353.4 621.4L353.3 621.1L353.2 620.7L353.2 620.4L353.2 620.1L353.2 619.8L353.3 619.5L353.4 619.1L353.5 618.8L353.5 618.5L353.6 618.2L353.7 617.8L353.9 617.5L354.1 617.2L354.3 616.9L354.5 616.5L354.7 616.2L354.9 615.9L355.1 615.6L355.3 615.3L355.5 614.9L355.7 614.6L355.9 614.3L356.1 614L356.4 613.6L356.6 613.3L356.8 613L357 612.7L357.2 612.3L357.5 612L357.7 611.7L357.9 611.4L358.2 611.1L358.4 610.7L358.6 610.4L358.8 610.1L359.1 609.8L359.3 609.4L359.5 609.1L359.6 608.8L359.8 608.5L359.9 608.1L360 607.8L360.1 607.5L360.2 607.2L360.4 606.8L360.5 606.5L360.6 606.2L360.7 605.9L360.8 605.6L360.9 605.2L361 604.9L361.1 604.6L361.1 604.3L361.2 603.9L361.2 603.6L361.2 603.3L361.2 603L361.3 602.6L361.3 602.3L361.3 602Z" fill="#808285" stroke="#231f20" stroke-width="1.1" stroke-linejoin="round"/>
<path d="M363.1 602V634" stroke="#231f20" stroke-width="0.8"/>
<rect x="360.8" y="613.1" width="4.6" height="16.5" fill="#231f20"/>
<ellipse cx="363.1" cy="620.4" rx="1.6" ry="1.9" fill="#fff"/>
<path d="M390.1 533.2L390.3 533.6L390.6 533.9L390.8 534.3L391.1 534.6L391.4 535L391.7 535.3L392 535.7L392.3 536L392.6 536.4L392.8 536.8L393.1 537.1L393.4 537.5L393.6 537.8L393.8 538.2L394 538.5L394.2 538.9L394.4 539.2L394.6 539.6L394.8 540L395 540.3L395.2 540.7L395.4 541L395.7 541.4L395.9 541.7L396.1 542.1L396.2 542.4L396.3 542.8L396.4 543.2L396.5 543.5L396.6 543.9L396.7 544.2L396.8 544.6L396.9 544.9L396.9 545.3L397 545.6L397.1 546L397.2 546.4L397.2 546.7L397.2 547.1L397.1 547.4L397 547.8L396.9 548.1L396.8 548.5L396.6 548.8L396.5 549.2L396.4 549.6L396.3 549.9L396.1 550.3L396 550.6L395.9 551L395.8 551.3L395.7 551.7L395.5 552L395.4 552.4L395.3 552.8L395.1 553.1L395 553.5L394.8 553.8L394.6 554.2L394.4 554.5L394.3 554.9L394.1 555.2L393.9 555.6L393.7 556L393.5 556.3L393.4 556.7L393.2 557L393 557.4L392.8 557.7L392.7 558.1L392.5 558.4L392.3 558.8L392.1 559.2L391.9 559.5L391.8 559.9L391.6 560.2L391.5 560.6L391.4 560.9L391.2 561.3L391.1 561.6L391 562L390.9 562.4L390.7 562.7L390.6 563.1L390.5 563.4L390.4 563.8L390.2 564.1L390.1 564.5L390 564.8L389.9 565.2L389.7 565.6L389.6 565.9L389.5 566.3L389.5 566.6L389.4 567L389.4 567.3L389.4 567.7L389.3 568L389.3 568.4L386.3 568.4L386.3 568L386.2 567.7L386.2 567.3L386.2 567L386.1 566.6L386.1 566.3L386 565.9L385.9 565.6L385.7 565.2L385.6 564.8L385.5 564.5L385.4 564.1L385.2 563.8L385.1 563.4L385 563.1L384.9 562.7L384.7 562.4L384.6 562L384.5 561.6L384.4 561.3L384.2 560.9L384.1 560.6L384 560.2L383.8 559.9L383.7 559.5L383.5 559.2L383.3 558.8L383.1 558.4L382.9 558.1L382.8 557.7L382.6 557.4L382.4 557L382.2 556.7L382.1 556.3L381.9 556L381.7 555.6L381.5 555.2L381.3 554.9L381.2 554.5L381 554.2L380.8 553.8L380.6 553.5L380.5 553.1L380.3 552.8L380.2 552.4L380.1 552L379.9 551.7L379.8 551.3L379.7 551L379.6 550.6L379.5 550.3L379.3 549.9L379.2 549.6L379.1 549.2L379 548.8L378.8 548.5L378.7 548.1L378.6 547.8L378.5 547.4L378.4 547.1L378.4 546.7L378.4 546.4L378.5 546L378.6 545.6L378.7 545.3L378.7 544.9L378.8 544.6L378.9 544.2L379 543.9L379.1 543.5L379.2 543.2L379.3 542.8L379.4 542.4L379.5 542.1L379.7 541.7L379.9 541.4L380.2 541L380.4 540.7L380.6 540.3L380.8 540L381 539.6L381.2 539.2L381.4 538.9L381.6 538.5L381.8 538.2L382 537.8L382.2 537.5L382.5 537.1L382.8 536.8L383 536.4L383.3 536L383.6 535.7L383.9 535.3L384.2 535L384.5 534.6L384.8 534.3L385 533.9L385.3 533.6L385.5 533.2Z" fill="#808285" stroke="#231f20" stroke-width="1.1" stroke-linejoin="round"/>
<path d="M387.8 533.2V568.4" stroke="#231f20" stroke-width="0.8"/>
<rect x="385.5" y="540.4" width="4.6" height="15.2" fill="#231f20"/>
<ellipse cx="387.8" cy="547.2" rx="1.6" ry="1.9" fill="#fff"/>
<text x="242.3" y="511" font-size="23" font-weight="bold" stroke="#231f20" stroke-width="0.7" stroke-linejoin="round">d</text>
<text x="290.3" y="637.4" font-size="12.8" text-anchor="end" textLength="25.2" lengthAdjust="spacingAndGlyphs">400</text>
<text x="290.3" y="602.5" font-size="12.8" text-anchor="end" textLength="25.2" lengthAdjust="spacingAndGlyphs">600</text>
<text x="290.3" y="567.6" font-size="12.8" text-anchor="end" textLength="25.2" lengthAdjust="spacingAndGlyphs">800</text>
<text font-size="16" text-anchor="middle" textLength="115" lengthAdjust="spacingAndGlyphs" transform="translate(255.5 583.2) rotate(-90)">Burst width (ms)</text>
<text x="351.1" y="664" font-size="16" text-anchor="middle" textLength="68.4" lengthAdjust="spacingAndGlyphs">Individual</text>
<text x="350.4" y="682" font-size="16" text-anchor="middle" textLength="62.7" lengthAdjust="spacingAndGlyphs">organoid</text>
<path d="M497.5 528.5V638.5H597M497.5 636h-5.6M497.5 615.3h-5.6M497.5 594.5h-5.6M497.5 573.8h-5.6M497.5 553h-5.6M497.5 532.3h-5.6M509.6 638.5v5.6M534.5 638.5v5.6M559.2 638.5v5.6M584.1 638.5v5.6" stroke="#454344" stroke-width="1" fill="none"/>
<path d="M510.1 562.7L510.1 563.4L510.1 564L510.2 564.7L510.2 565.4L510.2 566L510.2 566.7L510.2 567.4L510.2 568L510.3 568.7L510.3 569.4L510.3 570L510.3 570.7L510.3 571.4L510.4 572L510.4 572.7L510.4 573.4L510.4 574L510.4 574.7L510.4 575.4L510.5 576L510.5 576.7L510.5 577.4L510.5 578L510.6 578.7L510.6 579.4L510.7 580L510.7 580.7L510.7 581.4L510.8 582L510.8 582.7L510.9 583.4L510.9 584L511 584.7L511 585.4L511 586L511.1 586.7L511.1 587.4L511.2 588L511.2 588.7L511.2 589.4L511.3 590L511.3 590.7L511.4 591.4L511.4 592L511.5 592.7L511.5 593.4L511.5 594L511.6 594.7L511.7 595.4L511.8 596L511.9 596.7L512 597.4L512.1 598L512.2 598.7L512.3 599.4L512.4 600L512.5 600.7L512.6 601.4L512.7 602L512.8 602.7L513 603.4L513.2 604L513.6 604.7L514 605.4L514.4 606L514.8 606.7L515.2 607.4L515.5 608L515.8 608.7L516 609.4L516.2 610L516.4 610.7L516.5 611.4L516.5 612L516.5 612.7L516.3 613.4L516.2 614L516.1 614.7L516.2 615.4L516.5 616L516.8 616.7L517.2 617.4L517.7 618L518.2 618.7L518.7 619.4L519.1 620L519.2 620.7L519.1 621.4L518.7 622L518.1 622.7L517.3 623.4L516.5 624L515.6 624.7L514.7 625.4L513.8 626L512.9 626.7L512.1 627.4L511.4 628L510.9 628.7L508.3 628.7L507.8 628L507.1 627.4L506.3 626.7L505.4 626L504.5 625.4L503.6 624.7L502.7 624L501.9 623.4L501.1 622.7L500.5 622L500.1 621.4L500 620.7L500.1 620L500.5 619.4L501 618.7L501.5 618L502 617.4L502.4 616.7L502.7 616L503 615.4L503.1 614.7L503 614L502.9 613.4L502.7 612.7L502.7 612L502.7 611.4L502.8 610.7L503 610L503.2 609.4L503.4 608.7L503.7 608L504 607.4L504.4 606.7L504.8 606L505.2 605.4L505.6 604.7L506 604L506.2 603.4L506.4 602.7L506.5 602L506.6 601.4L506.7 600.7L506.8 600L506.9 599.4L507 598.7L507.1 598L507.2 597.4L507.3 596.7L507.4 596L507.5 595.4L507.6 594.7L507.7 594L507.7 593.4L507.7 592.7L507.8 592L507.8 591.4L507.9 590.7L507.9 590L508 589.4L508 588.7L508 588L508.1 587.4L508.1 586.7L508.2 586L508.2 585.4L508.2 584.7L508.3 584L508.3 583.4L508.4 582.7L508.4 582L508.5 581.4L508.5 580.7L508.5 580L508.6 579.4L508.6 578.7L508.7 578L508.7 577.4L508.7 576.7L508.7 576L508.8 575.4L508.8 574.7L508.8 574L508.8 573.4L508.8 572.7L508.8 572L508.9 571.4L508.9 570.7L508.9 570L508.9 569.4L508.9 568.7L509 568L509 567.4L509 566.7L509 566L509 565.4L509 564.7L509.1 564L509.1 563.4L509.1 562.7Z" fill="#808285" stroke="#231f20" stroke-width="1.1" stroke-linejoin="round"/>
<path d="M509.6 562.7V628.7" stroke="#231f20" stroke-width="0.8"/>
<rect x="507.5" y="608.2" width="4.2" height="14.8" fill="#231f20"/>
<ellipse cx="509.6" cy="614.7" rx="1.6" ry="1.9" fill="#fff"/>
<path d="M535 546.9L535 547.7L535 548.5L535 549.3L535 550.1L535 550.9L535 551.7L535 552.5L535 553.3L535 554.1L535.1 555L535.1 555.8L535.1 556.6L535.1 557.4L535.1 558.2L535.1 559L535.1 559.8L535.1 560.6L535.1 561.4L535.1 562.2L535.1 563L535.1 563.8L535.1 564.6L535.1 565.4L535.1 566.2L535.1 567L535.1 567.8L535.1 568.6L535.1 569.4L535.2 570.2L535.2 571.1L535.2 571.9L535.2 572.7L535.2 573.5L535.2 574.3L535.2 575.1L535.2 575.9L535.2 576.7L535.2 577.5L535.2 578.3L535.3 579.1L535.3 579.9L535.3 580.7L535.4 581.5L535.4 582.3L535.4 583.1L535.5 583.9L535.5 584.7L535.5 585.5L535.6 586.3L535.6 587.2L535.6 588L535.7 588.8L535.7 589.6L535.7 590.4L535.7 591.2L535.8 592L535.8 592.8L535.8 593.6L535.9 594.4L536 595.2L536 596L536.1 596.8L536.3 597.6L536.4 598.4L536.5 599.2L536.6 600L536.7 600.8L536.8 601.6L536.9 602.4L537.1 603.3L537.2 604.1L537.4 604.9L537.7 605.7L537.9 606.5L538.2 607.3L538.4 608.1L538.7 608.9L539 609.7L539.3 610.5L539.6 611.3L540 612.1L540.4 612.9L540.8 613.7L541.2 614.5L541.6 615.3L542 616.1L542.5 616.9L542.9 617.7L543.4 618.5L543.9 619.4L544.3 620.2L544.6 621L544.7 621.8L544.5 622.6L544.1 623.4L543.4 624.2L542.3 625L540.9 625.8L539.6 626.6L529.4 626.6L528.1 625.8L526.7 625L525.6 624.2L524.9 623.4L524.5 622.6L524.3 621.8L524.4 621L524.7 620.2L525.1 619.4L525.6 618.5L526.1 617.7L526.5 616.9L527 616.1L527.4 615.3L527.8 614.5L528.2 613.7L528.6 612.9L529 612.1L529.4 611.3L529.7 610.5L530 609.7L530.3 608.9L530.6 608.1L530.8 607.3L531.1 606.5L531.3 605.7L531.6 604.9L531.8 604.1L531.9 603.3L532.1 602.4L532.2 601.6L532.3 600.8L532.4 600L532.5 599.2L532.6 598.4L532.7 597.6L532.9 596.8L533 596L533 595.2L533.1 594.4L533.2 593.6L533.2 592.8L533.2 592L533.3 591.2L533.3 590.4L533.3 589.6L533.3 588.8L533.4 588L533.4 587.2L533.4 586.3L533.5 585.5L533.5 584.7L533.5 583.9L533.6 583.1L533.6 582.3L533.6 581.5L533.7 580.7L533.7 579.9L533.7 579.1L533.8 578.3L533.8 577.5L533.8 576.7L533.8 575.9L533.8 575.1L533.8 574.3L533.8 573.5L533.8 572.7L533.8 571.9L533.8 571.1L533.8 570.2L533.9 569.4L533.9 568.6L533.9 567.8L533.9 567L533.9 566.2L533.9 565.4L533.9 564.6L533.9 563.8L533.9 563L533.9 562.2L533.9 561.4L533.9 560.6L533.9 559.8L533.9 559L533.9 558.2L533.9 557.4L533.9 556.6L533.9 555.8L533.9 555L534 554.1L534 553.3L534 552.5L534 551.7L534 550.9L534 550.1L534 549.3L534 548.5L534 547.7L534 546.9Z" fill="#808285" stroke="#231f20" stroke-width="1.1" stroke-linejoin="round"/>
<path d="M534.5 546.9V626.6" stroke="#231f20" stroke-width="0.8"/>
<rect x="532.4" y="607.7" width="4.2" height="18" fill="#231f20"/>
<ellipse cx="534.5" cy="618.7" rx="1.6" ry="1.9" fill="#fff"/>
<path d="M559.7 568.3L559.7 569L559.7 569.6L559.7 570.3L559.8 571L559.8 571.6L559.8 572.3L559.8 572.9L559.8 573.6L559.8 574.3L559.8 574.9L559.9 575.6L559.9 576.3L559.9 576.9L559.9 577.6L559.9 578.3L559.9 578.9L560 579.6L560 580.2L560 580.9L560 581.6L560 582.2L560 582.9L560 583.6L560.1 584.2L560.1 584.9L560.1 585.6L560.1 586.2L560.1 586.9L560.2 587.5L560.2 588.2L560.3 588.9L560.3 589.5L560.4 590.2L560.4 590.9L560.5 591.5L560.5 592.2L560.6 592.9L560.6 593.5L560.6 594.2L560.7 594.8L560.7 595.5L560.8 596.2L560.8 596.8L560.9 597.5L560.9 598.2L561 598.8L561.1 599.5L561.3 600.2L561.4 600.8L561.5 601.5L561.7 602.1L561.8 602.8L562 603.5L562.1 604.1L562.3 604.8L562.5 605.5L562.8 606.1L563.3 606.8L563.7 607.5L564.2 608.1L564.7 608.8L565.2 609.4L565.6 610.1L565.9 610.8L566.2 611.4L566.5 612.1L566.8 612.8L567 613.4L567.1 614.1L567.1 614.8L567 615.4L566.7 616.1L566.5 616.7L566.1 617.4L565.8 618.1L565.5 618.7L565.3 619.4L565.3 620.1L565.5 620.7L565.9 621.4L566.2 622.1L566.5 622.7L566.8 623.4L567 624L567.1 624.7L567 625.4L566.7 626L566.3 626.7L565.8 627.4L565.3 628L564.7 628.7L564.1 629.4L563.6 630L563.1 630.7L562.6 631.3L562.1 632L561.6 632.7L561.1 633.3L560.7 634L557.7 634L557.3 633.3L556.8 632.7L556.3 632L555.8 631.3L555.3 630.7L554.8 630L554.3 629.4L553.7 628.7L553.1 628L552.6 627.4L552.1 626.7L551.7 626L551.4 625.4L551.3 624.7L551.4 624L551.6 623.4L551.9 622.7L552.2 622.1L552.5 621.4L552.9 620.7L553.1 620.1L553.1 619.4L552.9 618.7L552.6 618.1L552.3 617.4L551.9 616.7L551.7 616.1L551.4 615.4L551.3 614.8L551.3 614.1L551.4 613.4L551.6 612.8L551.9 612.1L552.2 611.4L552.5 610.8L552.8 610.1L553.2 609.4L553.7 608.8L554.2 608.1L554.7 607.5L555.1 606.8L555.6 606.1L555.9 605.5L556.1 604.8L556.3 604.1L556.4 603.5L556.6 602.8L556.7 602.1L556.9 601.5L557 600.8L557.1 600.2L557.3 599.5L557.4 598.8L557.5 598.2L557.5 597.5L557.6 596.8L557.6 596.2L557.7 595.5L557.7 594.8L557.8 594.2L557.8 593.5L557.8 592.9L557.9 592.2L557.9 591.5L558 590.9L558 590.2L558.1 589.5L558.1 588.9L558.2 588.2L558.2 587.5L558.3 586.9L558.3 586.2L558.3 585.6L558.3 584.9L558.3 584.2L558.4 583.6L558.4 582.9L558.4 582.2L558.4 581.6L558.4 580.9L558.4 580.2L558.4 579.6L558.5 578.9L558.5 578.3L558.5 577.6L558.5 576.9L558.5 576.3L558.5 575.6L558.6 574.9L558.6 574.3L558.6 573.6L558.6 572.9L558.6 572.3L558.6 571.6L558.6 571L558.7 570.3L558.7 569.6L558.7 569L558.7 568.3Z" fill="#808285" stroke="#231f20" stroke-width="1.1" stroke-linejoin="round"/>
<path d="M559.2 568.3V634" stroke="#231f20" stroke-width="0.8"/>
<rect x="557.1" y="610" width="4.2" height="17" fill="#231f20"/>
<ellipse cx="559.2" cy="617" rx="1.6" ry="1.9" fill="#fff"/>
<path d="M584.6 532.9L584.6 533.9L584.6 534.9L584.6 535.9L584.6 536.9L584.6 537.9L584.6 538.8L584.6 539.8L584.6 540.8L584.6 541.8L584.7 542.8L584.7 543.8L584.7 544.8L584.7 545.8L584.7 546.8L584.7 547.8L584.7 548.8L584.7 549.7L584.7 550.7L584.7 551.7L584.7 552.7L584.7 553.7L584.7 554.7L584.7 555.7L584.7 556.7L584.7 557.7L584.7 558.7L584.7 559.7L584.7 560.6L584.7 561.6L584.8 562.6L584.8 563.6L584.8 564.6L584.8 565.6L584.8 566.6L584.8 567.6L584.8 568.6L584.8 569.6L584.8 570.6L584.8 571.5L584.8 572.5L584.8 573.5L584.8 574.5L584.8 575.5L584.8 576.5L584.8 577.5L584.8 578.5L584.8 579.5L584.8 580.5L584.8 581.5L584.9 582.4L584.9 583.4L584.9 584.4L584.9 585.4L584.9 586.4L584.9 587.4L584.9 588.4L584.9 589.4L584.9 590.4L584.9 591.4L585 592.4L585.1 593.3L585.2 594.3L585.3 595.3L585.4 596.3L585.5 597.3L585.6 598.3L585.8 599.3L585.9 600.3L586.2 601.3L586.5 602.3L586.8 603.3L587.1 604.2L587.4 605.2L587.7 606.2L588 607.2L588.2 608.2L588.5 609.2L588.7 610.2L589 611.2L589.2 612.2L589.5 613.2L589.7 614.2L590 615.1L590.2 616.1L590.5 617.1L590.7 618.1L591 619.1L591.3 620.1L591.5 621.1L591.7 622.1L591.9 623.1L592.1 624.1L592.2 625.1L592.2 626L592.1 627L591.7 628L591.1 629L590.1 630L589.2 631L579 631L578.1 630L577.1 629L576.5 628L576.1 627L576 626L576 625.1L576.1 624.1L576.3 623.1L576.5 622.1L576.7 621.1L576.9 620.1L577.2 619.1L577.5 618.1L577.7 617.1L578 616.1L578.2 615.1L578.5 614.2L578.7 613.2L579 612.2L579.2 611.2L579.5 610.2L579.7 609.2L580 608.2L580.2 607.2L580.5 606.2L580.8 605.2L581.1 604.2L581.4 603.3L581.7 602.3L582 601.3L582.3 600.3L582.4 599.3L582.6 598.3L582.7 597.3L582.8 596.3L582.9 595.3L583 594.3L583.1 593.3L583.2 592.4L583.3 591.4L583.3 590.4L583.3 589.4L583.3 588.4L583.3 587.4L583.3 586.4L583.3 585.4L583.3 584.4L583.3 583.4L583.3 582.4L583.4 581.5L583.4 580.5L583.4 579.5L583.4 578.5L583.4 577.5L583.4 576.5L583.4 575.5L583.4 574.5L583.4 573.5L583.4 572.5L583.4 571.5L583.4 570.6L583.4 569.6L583.4 568.6L583.4 567.6L583.4 566.6L583.4 565.6L583.4 564.6L583.4 563.6L583.4 562.6L583.5 561.6L583.5 560.6L583.5 559.7L583.5 558.7L583.5 557.7L583.5 556.7L583.5 555.7L583.5 554.7L583.5 553.7L583.5 552.7L583.5 551.7L583.5 550.7L583.5 549.7L583.5 548.8L583.5 547.8L583.5 546.8L583.5 545.8L583.5 544.8L583.5 543.8L583.5 542.8L583.6 541.8L583.6 540.8L583.6 539.8L583.6 538.8L583.6 537.9L583.6 536.9L583.6 535.9L583.6 534.9L583.6 533.9L583.6 532.9Z" fill="#808285" stroke="#231f20" stroke-width="1.1" stroke-linejoin="round"/>
<path d="M584.1 532.9V631" stroke="#231f20" stroke-width="0.8"/>
<rect x="582" y="610" width="4.2" height="19.7" fill="#231f20"/>
<ellipse cx="584.1" cy="621.3" rx="1.6" ry="1.9" fill="#fff"/>
<text x="419.2" y="511" font-size="23" font-weight="bold" stroke="#231f20" stroke-width="0.7" stroke-linejoin="round">e</text>
<text x="485.8" y="640.5" font-size="12.8" text-anchor="end" textLength="29.2" lengthAdjust="spacingAndGlyphs">−200</text>
<text x="485.8" y="619.8" font-size="12.8" text-anchor="end" textLength="7.6" lengthAdjust="spacingAndGlyphs">0</text>
<text x="485.8" y="599" font-size="12.8" text-anchor="end" textLength="23.5" lengthAdjust="spacingAndGlyphs">200</text>
<text x="485.8" y="578.3" font-size="12.8" text-anchor="end" textLength="23.5" lengthAdjust="spacingAndGlyphs">400</text>
<text x="485.8" y="557.5" font-size="12.8" text-anchor="end" textLength="23.5" lengthAdjust="spacingAndGlyphs">600</text>
<text x="485.8" y="536.8" font-size="12.8" text-anchor="end" textLength="23.5" lengthAdjust="spacingAndGlyphs">800</text>
<text font-size="16" text-anchor="middle" textLength="54.7" lengthAdjust="spacingAndGlyphs" transform="translate(432.2 583.4) rotate(-90)">FR peak</text>
<text font-size="16" text-anchor="middle" textLength="66" lengthAdjust="spacingAndGlyphs" transform="translate(449.6 583.4) rotate(-90)">time (ms)</text>
<text x="547.1" y="664" font-size="16" text-anchor="middle" textLength="68.4" lengthAdjust="spacingAndGlyphs">Individual</text>
<text x="547.1" y="682" font-size="16" text-anchor="middle" textLength="62.4" lengthAdjust="spacingAndGlyphs">organoid</text>
</g>
</svg>
</body></html>
